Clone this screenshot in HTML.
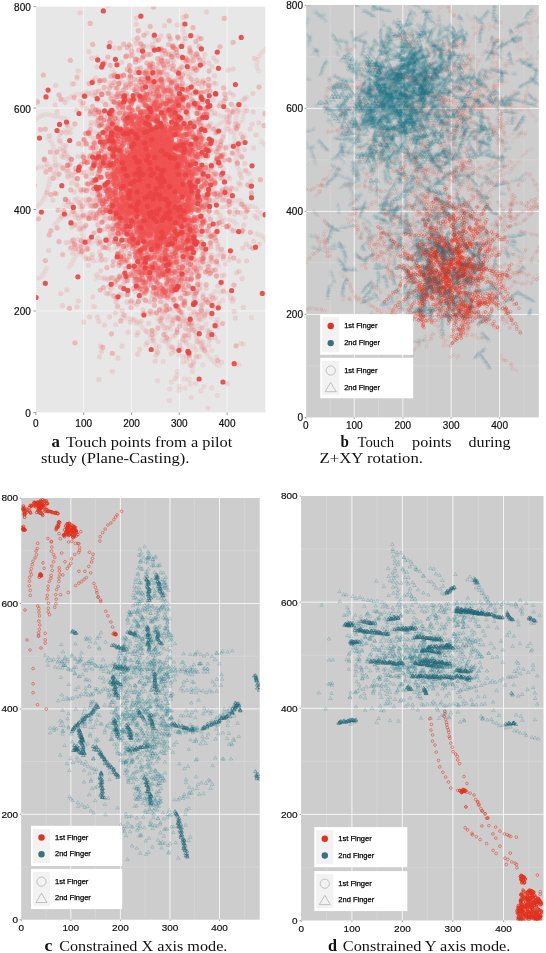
<!DOCTYPE html>
<html><head><meta charset="utf-8"><style>
html,body{margin:0;padding:0;background:#fff;overflow:hidden;width:546px;height:953px}
svg{display:block}
.t{font-family:"Liberation Sans",Arial,sans-serif;font-size:10px;fill:#111;stroke:#111;stroke-width:.2px}
.l{font-family:"Liberation Sans",Arial,sans-serif;font-size:7.5px;fill:#000;stroke:#000;stroke-width:.25px}
.cap text{font-family:"Liberation Serif","Times New Roman",serif;font-size:13.6px;fill:#111}
.cap text.b{font-weight:bold;font-size:17.5px}
.bs{fill:none;stroke:#1f8d9a;stroke-linecap:round;stroke-linejoin:round}
</style></head><body>
<svg width="546" height="953" viewBox="0 0 546 953">
<defs><clipPath id="ka"><rect x="36.1" y="6.6" width="229.2" height="405.9"/></clipPath><clipPath id="kb"><rect x="306.2" y="5.0" width="232.6" height="412.4"/></clipPath><clipPath id="kc"><rect x="21.2" y="498.0" width="238.5" height="421.7"/></clipPath><clipPath id="kd"><rect x="301.1" y="496.0" width="242.4" height="424.5"/></clipPath><marker id="a0" markerUnits="userSpaceOnUse" markerWidth="1" markerHeight="1" overflow="visible"><circle r="2.6" fill="#f15252" fill-opacity="0.07"/></marker><marker id="a1" markerUnits="userSpaceOnUse" markerWidth="1" markerHeight="1" overflow="visible"><circle r="2.6" fill="#f15252" fill-opacity="0.12"/></marker><marker id="a2" markerUnits="userSpaceOnUse" markerWidth="1" markerHeight="1" overflow="visible"><circle r="2.6" fill="#f15252" fill-opacity="0.15"/></marker><marker id="a3" markerUnits="userSpaceOnUse" markerWidth="1" markerHeight="1" overflow="visible"><circle r="2.6" fill="#f15252" fill-opacity="0.3"/></marker><marker id="a4" markerUnits="userSpaceOnUse" markerWidth="1" markerHeight="1" overflow="visible"><circle r="2.6" fill="#f15252" fill-opacity="0.4"/></marker><marker id="a5" markerUnits="userSpaceOnUse" markerWidth="1" markerHeight="1" overflow="visible"><circle r="2.6" fill="#f15252" fill-opacity="0.55"/></marker><marker id="a6" markerUnits="userSpaceOnUse" markerWidth="1" markerHeight="1" overflow="visible"><circle r="2.6" fill="#ea4242" fill-opacity="0.9"/></marker><marker id="r5" markerUnits="userSpaceOnUse" markerWidth="1" markerHeight="1" overflow="visible"><circle r="1.35" fill="none" stroke="#e2311d" stroke-width="1.0" stroke-opacity="0.05"/></marker><marker id="t5" markerUnits="userSpaceOnUse" markerWidth="1" markerHeight="1" overflow="visible"><path d="M0 -1.82L1.75 1.21H-1.75Z" fill="none" stroke="#26808e" stroke-width="0.6" stroke-opacity="0.05" stroke-linejoin="round"/></marker><marker id="u5" markerUnits="userSpaceOnUse" markerWidth="1" markerHeight="1" overflow="visible"><path d="M0 -2.29L2.20 1.52H-2.20Z" fill="none" stroke="#1a7a8a" stroke-width="0.8" stroke-opacity="0.05" stroke-linejoin="round"/></marker><marker id="v5" markerUnits="userSpaceOnUse" markerWidth="1" markerHeight="1" overflow="visible"><path d="M0 -2.70L2.60 1.80H-2.60Z" fill="#1a7a8a" fill-opacity="0.05"/></marker><marker id="w5" markerUnits="userSpaceOnUse" markerWidth="1" markerHeight="1" overflow="visible"><path d="M0 -1.82L1.75 1.21H-1.75Z" fill="none" stroke="#1f6876" stroke-width="0.6" stroke-opacity="0.05" stroke-linejoin="round"/></marker><marker id="r10" markerUnits="userSpaceOnUse" markerWidth="1" markerHeight="1" overflow="visible"><circle r="1.35" fill="none" stroke="#e2311d" stroke-width="1.0" stroke-opacity="0.1"/></marker><marker id="t10" markerUnits="userSpaceOnUse" markerWidth="1" markerHeight="1" overflow="visible"><path d="M0 -1.82L1.75 1.21H-1.75Z" fill="none" stroke="#26808e" stroke-width="0.6" stroke-opacity="0.1" stroke-linejoin="round"/></marker><marker id="u10" markerUnits="userSpaceOnUse" markerWidth="1" markerHeight="1" overflow="visible"><path d="M0 -2.29L2.20 1.52H-2.20Z" fill="none" stroke="#1a7a8a" stroke-width="0.8" stroke-opacity="0.1" stroke-linejoin="round"/></marker><marker id="v10" markerUnits="userSpaceOnUse" markerWidth="1" markerHeight="1" overflow="visible"><path d="M0 -2.70L2.60 1.80H-2.60Z" fill="#1a7a8a" fill-opacity="0.1"/></marker><marker id="w10" markerUnits="userSpaceOnUse" markerWidth="1" markerHeight="1" overflow="visible"><path d="M0 -1.82L1.75 1.21H-1.75Z" fill="none" stroke="#1f6876" stroke-width="0.6" stroke-opacity="0.1" stroke-linejoin="round"/></marker><marker id="r18" markerUnits="userSpaceOnUse" markerWidth="1" markerHeight="1" overflow="visible"><circle r="1.35" fill="none" stroke="#e2311d" stroke-width="1.0" stroke-opacity="0.18"/></marker><marker id="t18" markerUnits="userSpaceOnUse" markerWidth="1" markerHeight="1" overflow="visible"><path d="M0 -1.82L1.75 1.21H-1.75Z" fill="none" stroke="#26808e" stroke-width="0.6" stroke-opacity="0.18" stroke-linejoin="round"/></marker><marker id="u18" markerUnits="userSpaceOnUse" markerWidth="1" markerHeight="1" overflow="visible"><path d="M0 -2.29L2.20 1.52H-2.20Z" fill="none" stroke="#1a7a8a" stroke-width="0.8" stroke-opacity="0.18" stroke-linejoin="round"/></marker><marker id="v18" markerUnits="userSpaceOnUse" markerWidth="1" markerHeight="1" overflow="visible"><path d="M0 -2.70L2.60 1.80H-2.60Z" fill="#1a7a8a" fill-opacity="0.18"/></marker><marker id="w18" markerUnits="userSpaceOnUse" markerWidth="1" markerHeight="1" overflow="visible"><path d="M0 -1.82L1.75 1.21H-1.75Z" fill="none" stroke="#1f6876" stroke-width="0.6" stroke-opacity="0.18" stroke-linejoin="round"/></marker><marker id="r30" markerUnits="userSpaceOnUse" markerWidth="1" markerHeight="1" overflow="visible"><circle r="1.35" fill="none" stroke="#e2311d" stroke-width="1.0" stroke-opacity="0.3"/></marker><marker id="t30" markerUnits="userSpaceOnUse" markerWidth="1" markerHeight="1" overflow="visible"><path d="M0 -1.82L1.75 1.21H-1.75Z" fill="none" stroke="#26808e" stroke-width="0.6" stroke-opacity="0.3" stroke-linejoin="round"/></marker><marker id="u30" markerUnits="userSpaceOnUse" markerWidth="1" markerHeight="1" overflow="visible"><path d="M0 -2.29L2.20 1.52H-2.20Z" fill="none" stroke="#1a7a8a" stroke-width="0.8" stroke-opacity="0.3" stroke-linejoin="round"/></marker><marker id="v30" markerUnits="userSpaceOnUse" markerWidth="1" markerHeight="1" overflow="visible"><path d="M0 -2.70L2.60 1.80H-2.60Z" fill="#1a7a8a" fill-opacity="0.3"/></marker><marker id="w30" markerUnits="userSpaceOnUse" markerWidth="1" markerHeight="1" overflow="visible"><path d="M0 -1.82L1.75 1.21H-1.75Z" fill="none" stroke="#1f6876" stroke-width="0.6" stroke-opacity="0.3" stroke-linejoin="round"/></marker><marker id="r40" markerUnits="userSpaceOnUse" markerWidth="1" markerHeight="1" overflow="visible"><circle r="1.35" fill="none" stroke="#e2311d" stroke-width="1.0" stroke-opacity="0.4"/></marker><marker id="t40" markerUnits="userSpaceOnUse" markerWidth="1" markerHeight="1" overflow="visible"><path d="M0 -1.82L1.75 1.21H-1.75Z" fill="none" stroke="#26808e" stroke-width="0.6" stroke-opacity="0.4" stroke-linejoin="round"/></marker><marker id="u40" markerUnits="userSpaceOnUse" markerWidth="1" markerHeight="1" overflow="visible"><path d="M0 -2.29L2.20 1.52H-2.20Z" fill="none" stroke="#1a7a8a" stroke-width="0.8" stroke-opacity="0.4" stroke-linejoin="round"/></marker><marker id="v40" markerUnits="userSpaceOnUse" markerWidth="1" markerHeight="1" overflow="visible"><path d="M0 -2.70L2.60 1.80H-2.60Z" fill="#1a7a8a" fill-opacity="0.4"/></marker><marker id="w40" markerUnits="userSpaceOnUse" markerWidth="1" markerHeight="1" overflow="visible"><path d="M0 -1.82L1.75 1.21H-1.75Z" fill="none" stroke="#1f6876" stroke-width="0.6" stroke-opacity="0.4" stroke-linejoin="round"/></marker><marker id="r50" markerUnits="userSpaceOnUse" markerWidth="1" markerHeight="1" overflow="visible"><circle r="1.35" fill="none" stroke="#e2311d" stroke-width="1.0" stroke-opacity="0.5"/></marker><marker id="t50" markerUnits="userSpaceOnUse" markerWidth="1" markerHeight="1" overflow="visible"><path d="M0 -1.82L1.75 1.21H-1.75Z" fill="none" stroke="#26808e" stroke-width="0.6" stroke-opacity="0.5" stroke-linejoin="round"/></marker><marker id="u50" markerUnits="userSpaceOnUse" markerWidth="1" markerHeight="1" overflow="visible"><path d="M0 -2.29L2.20 1.52H-2.20Z" fill="none" stroke="#1a7a8a" stroke-width="0.8" stroke-opacity="0.5" stroke-linejoin="round"/></marker><marker id="v50" markerUnits="userSpaceOnUse" markerWidth="1" markerHeight="1" overflow="visible"><path d="M0 -2.70L2.60 1.80H-2.60Z" fill="#1a7a8a" fill-opacity="0.5"/></marker><marker id="w50" markerUnits="userSpaceOnUse" markerWidth="1" markerHeight="1" overflow="visible"><path d="M0 -1.82L1.75 1.21H-1.75Z" fill="none" stroke="#1f6876" stroke-width="0.6" stroke-opacity="0.5" stroke-linejoin="round"/></marker><marker id="r60" markerUnits="userSpaceOnUse" markerWidth="1" markerHeight="1" overflow="visible"><circle r="1.35" fill="none" stroke="#e2311d" stroke-width="1.0" stroke-opacity="0.6"/></marker><marker id="t60" markerUnits="userSpaceOnUse" markerWidth="1" markerHeight="1" overflow="visible"><path d="M0 -1.82L1.75 1.21H-1.75Z" fill="none" stroke="#26808e" stroke-width="0.6" stroke-opacity="0.6" stroke-linejoin="round"/></marker><marker id="u60" markerUnits="userSpaceOnUse" markerWidth="1" markerHeight="1" overflow="visible"><path d="M0 -2.29L2.20 1.52H-2.20Z" fill="none" stroke="#1a7a8a" stroke-width="0.8" stroke-opacity="0.6" stroke-linejoin="round"/></marker><marker id="v60" markerUnits="userSpaceOnUse" markerWidth="1" markerHeight="1" overflow="visible"><path d="M0 -2.70L2.60 1.80H-2.60Z" fill="#1a7a8a" fill-opacity="0.6"/></marker><marker id="w60" markerUnits="userSpaceOnUse" markerWidth="1" markerHeight="1" overflow="visible"><path d="M0 -1.82L1.75 1.21H-1.75Z" fill="none" stroke="#1f6876" stroke-width="0.6" stroke-opacity="0.6" stroke-linejoin="round"/></marker><marker id="r80" markerUnits="userSpaceOnUse" markerWidth="1" markerHeight="1" overflow="visible"><circle r="1.35" fill="none" stroke="#e2311d" stroke-width="1.0" stroke-opacity="0.8"/></marker><marker id="t80" markerUnits="userSpaceOnUse" markerWidth="1" markerHeight="1" overflow="visible"><path d="M0 -1.82L1.75 1.21H-1.75Z" fill="none" stroke="#26808e" stroke-width="0.6" stroke-opacity="0.8" stroke-linejoin="round"/></marker><marker id="u80" markerUnits="userSpaceOnUse" markerWidth="1" markerHeight="1" overflow="visible"><path d="M0 -2.29L2.20 1.52H-2.20Z" fill="none" stroke="#1a7a8a" stroke-width="0.8" stroke-opacity="0.8" stroke-linejoin="round"/></marker><marker id="v80" markerUnits="userSpaceOnUse" markerWidth="1" markerHeight="1" overflow="visible"><path d="M0 -2.70L2.60 1.80H-2.60Z" fill="#1a7a8a" fill-opacity="0.8"/></marker><marker id="w80" markerUnits="userSpaceOnUse" markerWidth="1" markerHeight="1" overflow="visible"><path d="M0 -1.82L1.75 1.21H-1.75Z" fill="none" stroke="#1f6876" stroke-width="0.6" stroke-opacity="0.8" stroke-linejoin="round"/></marker></defs>
<rect x="36.1" y="6.6" width="229.2" height="405.9" fill="#e7e7e7"/>
<path d="M83.7 6.6V412.5M131.5 6.6V412.5M179.3 6.6V412.5M227.1 6.6V412.5M36.1 311.0H265.3M36.1 209.5H265.3M36.1 108.1H265.3" stroke="#f4f4f4" stroke-width="1" fill="none"/>
<rect x="306.2" y="5.0" width="232.6" height="412.4" fill="#cdcdcd"/>
<path d="M330.1 5.0V417.4M378.5 5.0V417.4M427.0 5.0V417.4M475.4 5.0V417.4M523.8 5.0V417.4M306.2 365.9H538.8M306.2 262.9H538.8M306.2 159.9H538.8M306.2 56.9H538.8" stroke="#d8d8d8" stroke-width="0.7" fill="none"/>
<path d="M354.3 5.0V417.4M402.8 5.0V417.4M451.2 5.0V417.4M499.6 5.0V417.4M306.2 314.4H538.8M306.2 211.4H538.8M306.2 108.4H538.8" stroke="#f4f4f4" stroke-width="1" fill="none"/>
<rect x="21.2" y="498.0" width="238.5" height="421.7" fill="#cdcdcd"/>
<path d="M46.1 498.0V919.7M95.6 498.0V919.7M145.2 498.0V919.7M194.7 498.0V919.7M244.3 498.0V919.7M21.2 867.0H259.7M21.2 761.6H259.7M21.2 656.2H259.7M21.2 550.8H259.7" stroke="#d8d8d8" stroke-width="0.7" fill="none"/>
<path d="M70.8 498.0V919.7M120.4 498.0V919.7M170.0 498.0V919.7M219.5 498.0V919.7M21.2 814.3H259.7M21.2 708.9H259.7M21.2 603.5H259.7" stroke="#f4f4f4" stroke-width="1" fill="none"/>
<rect x="301.1" y="496.0" width="242.4" height="424.5" fill="#cdcdcd"/>
<path d="M326.6 496.0V920.5M377.1 496.0V920.5M427.7 496.0V920.5M478.2 496.0V920.5M528.8 496.0V920.5M301.1 867.4H543.5M301.1 761.3H543.5M301.1 655.2H543.5M301.1 549.1H543.5" stroke="#d8d8d8" stroke-width="0.7" fill="none"/>
<path d="M351.9 496.0V920.5M402.4 496.0V920.5M452.9 496.0V920.5M503.5 496.0V920.5M301.1 814.4H543.5M301.1 708.3H543.5M301.1 602.1H543.5" stroke="#f4f4f4" stroke-width="1" fill="none"/>
<path d="M260.6 54.0 258.7 70.9 171.3 205.1 131.3 221.1 138.9 215.2 154.5 342.4 136.6 241.9 207.8 201.6 196.9 243.1 138.9 42.2 196.8 262.0 193.0 326.9 246.6 205.9 124.6 318.2 172.9 89.5 160.8 201.2 209.6 254.5 151.6 214.4 201.6 118.0 263.2 215.4 160.1 193.0 186.9 209.8 186.9 194.0 95.2 91.5 170.2 275.5 190.5 233.1 168.9 345.2 210.5 243.1 136.9 229.8 163.1 131.1 163.8 291.9 47.9 136.7 154.2 179.3 112.1 225.5 149.3 335.2 77.0 198.1 172.1 137.3 47.0 167.4 196.8 335.1 140.9 172.6 129.7 183.0 257.3 68.2 125.2 214.3 163.0 101.9 169.4 295.5 184.5 281.5 68.4 168.0 167.0 147.3 175.5 194.5 157.6 49.0 151.9 135.9 199.1 119.7 237.8 112.4 68.7 162.0 222.7 122.1 91.4 155.1 100.3 184.4 236.1 107.9 155.0 117.5 127.4 276.9 58.0 164.7 196.5 199.6 157.6 231.5 88.7 93.3 224.1 170.2 80.9 243.7 127.3 216.8 79.8 199.0 178.8 144.2 161.6 195.6 144.4 246.7 150.5 98.4 267.6 147.2 216.9 263.8 93.7 206.4 193.6 221.7 214.9 233.6 83.4 238.2 148.8 224.6 148.4 221.6 175.5 147.7 163.2 50.6 148.9 207.3 148.7 234.3 60.8 218.4 206.8 115.5 195.7 122.3 194.8 73.8 157.3 150.3 144.1 243.7 165.9 135.9 217.5 154.0 171.7 63.4 150.8 175.9 200.4 122.4 179.0 284.2 176.6 162.5 236.3 144.1 135.6 194.4 146.0 179.0 124.8 211.5 140.5 191.3 152.8 228.2 190.7 245.4 76.8 183.7 46.6 192.9 257.0 62.3 200.2 340.0 188.2 226.3 147.0 219.2 112.6 131.3 178.4 287.2 141.4 212.1 82.8 235.8 138.9 215.0 160.2 191.7 177.5 117.6 65.9 118.9 181.6 58.4 188.2 256.3 160.7 151.8 139.3 241.3 42.4 200.8 52.0 115.3 175.4 145.2 180.4 270.2 116.0 134.7 127.5 194.9 154.3 115.0 147.2 225.3 168.8 288.9 243.8 205.0 122.7 200.3 156.8 108.0 138.7 169.8 153.4 100.3 176.6 55.6 227.0 118.3 102.1 242.8 201.5 226.8 187.1 103.7 238.2 150.6 197.1 180.9 180.5 127.4 258.4 234.4 136.0 159.8 117.1 213.3 86.9 171.9 182.3 246.9 132.4 159.2 184.1 256.7 147.4 221.9 117.9 76.5 262.6 51.9 205.6 133.2 148.7 178.0 146.8 192.8 169.7 131.3 136.8 252.9 153.9 260.5 124.3 136.4 179.8 208.8 190.1 250.6 104.7 277.7 142.7 241.1 113.2 133.8 207.2 252.8 153.4 130.0 183.8 149.6 153.5 103.4 150.7 302.0 192.0 243.6 205.0 351.0 70.6 173.6 74.1 178.3 168.7 151.7 181.8 123.0 183.6 229.4 154.3 251.1 169.8 144.0 79.6 221.1 146.9 147.8 125.6 205.3 244.4 110.4 200.9 199.8 198.4 234.7 159.4 234.3 177.6 147.0 172.8 170.1 236.5 115.1 145.6 179.2 236.6 163.9 178.6 191.6 178.3 206.2 146.6 46.2 128.7 158.0 187.1 259.1 216.0 199.2 122.9 93.4 114.7 203.1 117.5 202.6 71.5 243.3 182.2 269.7 121.6 130.4 242.4 100.8 165.9 340.1 224.7 131.0 179.0 188.9 90.2 200.2 166.3 290.4 162.3 166.9 177.7 92.5 132.1 118.8 147.7 216.3 188.9 257.5 136.9 159.8 162.0 142.8 63.9 204.9 122.1 80.7 134.6 127.3 104.5 217.8 171.1 53.9 60.4 117.3 263.5 236.9 71.6 208.7 252.3 206.3 218.9 266.0 191.1 226.0 149.8 184.4 156.9 196.7 205.3 204.4 125.9 158.7 198.1 178.0 196.5 221.8 128.2 155.6 197.3 134.6 235.7 200.6 129.8 201.1 119.9 78.7 128.6 202.4 170.9 146.2 180.7 320.5 143.7 173.5 160.5 119.0 89.6 172.9 135.3 91.9 78.3 217.7 202.3 158.6 193.3 249.5 160.8 148.7 135.0 272.7 138.8 159.5 159.3 250.1 98.9 277.6 210.4 200.5 110.1 206.7 188.7 152.7 96.5 215.1 70.7 265.2 96.4 97.1 180.9 122.4 109.9 130.1 204.5 251.9 99.4 215.4 175.9 166.1 187.1 160.5 49.6 181.2 230.1 113.3 163.8 137.1 102.5 199.3 137.7 187.3 135.1 161.8 154.8 48.5 194.0 225.9 55.9 165.2 201.6 342.6 174.2 248.3 215.5 127.0 238.9 146.0 155.4 109.1 193.9 237.9 135.8 255.7 36.9 278.2 162.5 189.9 235.8 121.1 104.8 196.7 193.5 258.6 104.3 244.7 132.8 199.3 218.5 219.9 108.7 248.6 154.4 109.6 182.0 214.5 197.7 231.3 191.3 261.7 204.0 348.2 189.1 130.7 181.7 158.6 83.9 216.7 99.1 197.2 159.1 106.1 132.4 274.0 172.5 134.8 206.6 265.9 219.0 148.1 187.7 232.4 191.5 244.7 113.8 72.3 166.3 239.7 177.9 264.7 255.6 233.7 60.7 165.6 148.7 172.5 113.2 278.3 165.2 153.5 183.4 259.1 193.2 236.3 120.3 203.7 143.8 45.5 71.4 214.5 133.7 171.2 184.2 267.6 86.6 215.6 96.8 240.7 193.4 242.4 174.2 224.1 141.9 220.4 230.2 199.8 133.6 212.6 189.2 230.4 177.7 259.1 140.3 235.7 205.3 132.1 157.2 318.6 231.8 110.8 107.7 128.3 153.0 77.7 161.5 103.0 165.9 146.0 239.2 109.7 166.8 236.1 134.3 205.9 221.4 142.6 133.8 161.8 159.1 190.2 82.5 200.1 122.3 90.5 109.4 172.0 160.2 139.2 112.1 204.5 177.0 224.9 177.9 128.7 123.2 159.7 136.4 226.7 103.7 171.4 129.0 122.9 175.7 90.4 221.7 200.2 199.3 200.0 116.4 143.4 67.8 155.9 84.1 93.6 169.6 235.6 263.5 143.0 170.4 149.2 227.4 122.5 141.2 183.6 188.3 123.7 125.1 138.1 118.0 133.4 135.8 131.7 190.9 200.4 110.4 197.9 175.3 171.5 137.1 235.8 103.6 102.0 156.1 348.2 149.2 204.3 130.2 196.2 176.9 276.7 134.3 174.2 167.1 78.5 231.7 111.8 148.1 83.8 116.6 222.0 182.9 261.1 174.8 82.6 81.8 226.7 170.7 241.3 98.0 90.9 182.6 124.9 111.8 139.7 216.5 364.3 100.1 187.5 168.1 277.6 186.0 284.2 172.6 258.1 189.6 237.1 259.0 56.5 77.2 215.1 167.9 154.7 120.9 217.9 159.5 109.3 142.0 257.9 190.9 247.6 83.4 255.4 145.9 124.6 51.0 141.7 64.0 147.8 180.5 45.9 171.9 152.5 137.4 167.1 210.4 358.0 181.9 189.0 187.9 224.0 179.2 163.7 141.5 326.4 171.5 60.4 85.3 199.9 200.1 134.2 165.6 204.4 121.5 136.5 165.0 122.3 219.8 149.2 139.1 223.4 138.3 209.1 211.2 257.0 134.5 124.3 86.0 92.1 179.7 275.2 184.4 38.2 148.3 213.3 38.5 117.7 81.8 229.8 81.2 217.7 160.0 320.2 76.5 254.8 143.1 142.2 54.4 153.1 176.6 156.0 178.1 148.9 157.4 170.1 127.1 135.7 141.9 209.9 193.2 203.6 148.3 92.9 198.9 162.9 164.4 77.6 93.7 215.5 201.4 258.5 88.2 200.1 138.8 181.9 148.0 195.5 236.4 157.8 216.0 201.5 135.2 172.3 149.4 111.0 240.0 143.2 228.1 116.5 139.3 136.4 169.8 258.1 200.4 207.4 178.3 290.2 139.2 210.1 169.3 221.0 139.6 244.3 179.5 124.9 211.6 240.3 145.2 216.5 164.7 303.2 177.1 203.5 188.2 286.2 147.1 97.1 146.4 189.3 175.2 129.6 167.9 166.9 133.6 89.5 189.3 289.0 123.2 205.6 102.0 209.3 161.1 154.8 152.1 253.2 234.6 133.1 150.6 240.0 164.4 328.1 132.6 208.4 218.1 159.9 170.5 267.3 75.6 180.9 180.6 259.3 242.6 119.4 173.0 191.1 159.8 317.2 134.0 168.2 89.8 93.4 172.4 134.3 151.4 97.7 124.3 136.0 38.6 205.3 202.9 133.8 85.3 217.7 194.1 137.8 52.6 166.3 168.6 52.4 109.4 129.3 132.0 160.1 127.3 140.1 72.9 95.6 166.8 113.8 96.7 132.6 178.2 270.8 92.4 92.1 133.0 162.2 104.9 152.4 166.2 242.6 172.4 234.8 164.0 116.3 139.2 229.9 137.0 235.8 189.3 234.9 139.1 161.7 58.5 220.3 191.3 205.9 125.6 214.4 179.0 233.0 158.5 294.3 113.0 155.4 137.0 137.9 158.3 235.0 172.1 259.9 95.8 201.6 139.3 182.4 165.1 166.3 149.7 201.3 101.2 203.5 99.2 152.1 204.1 130.6 78.1 252.2 156.0 178.3 75.1 213.4 146.7 196.7 91.3 94.4 165.3 337.1 256.5 65.3 241.4 200.3 238.6 200.4 261.1 141.4 45.2 195.6 144.9 159.2 69.0 171.0 194.4 263.7 107.6 208.1 199.3 228.8 225.2 147.2 179.6 246.1 153.2 296.5 208.8 245.5 72.1 127.8 184.8 126.8 133.7 196.7 202.1 200.7 214.3 150.7 155.9 345.1 187.7 228.2 204.4 264.0 163.4 128.1 118.9 129.3 184.2 35.2 93.0 200.9 195.3 240.6 164.6 111.8 57.6 177.2 130.7 157.9 172.8 290.6 168.4 204.7 107.5 278.3 170.9 293.0 85.7 257.2 127.4 318.6 96.2 278.6 169.5 114.8 129.7 133.3 154.9 194.0 95.9 200.8 138.1 172.4 104.9 209.2 186.1 258.0 232.6 220.5 130.9 226.2 152.3 195.3 83.5 245.1 133.9 201.3 139.0 247.3 54.2 224.3 133.1 198.4 204.5 156.7 174.0 246.2 149.6 196.2 163.4 140.1 179.1 278.2 185.2 246.8 239.5 106.7 172.7 54.4 134.9 135.8 54.8 115.9 170.8 243.4 157.9 173.6 150.9 337.7 138.4 198.2 129.9 137.4 193.7 252.5 171.2 143.2 266.8 241.9 103.7 91.3 180.9 211.7 177.2 261.8 152.3 245.8 68.5 165.0 179.4 119.9 140.3 164.5 161.0 247.6 125.5 197.1 151.8 148.6 109.1 93.5 235.1 124.0 162.8 325.5 198.4 337.6 190.9 154.7 187.9 245.7 140.6 212.6 193.1 135.0 190.0 132.8 161.2 293.2 176.1 250.5 229.9 114.1 147.5 332.8 138.7 198.2 184.1 220.1 41.0 116.1 149.2 147.4 144.4 122.1 176.6 234.7 192.9 121.7 150.8 99.0 164.4 137.9 129.8 275.3 141.4 175.1 177.2 126.7 172.3 66.4 135.6 187.0 100.2 190.5 139.3 218.2 167.1 238.8 199.9 260.5 118.8 220.0 137.3 223.8 130.0 200.0 115.4 157.2 125.7 162.2 172.4 273.5 118.5 145.4 201.6 125.2 144.5 168.3 100.7 193.5 131.5 157.7 220.5 165.4 181.0 149.2 129.0 107.1 172.4 69.4 130.2 109.9 155.9 101.9 112.5 119.4 202.1 250.2 132.5 194.5 162.9 203.2 127.9 213.2 153.0 173.9 166.0 51.2 96.4 152.2 96.6 198.7 62.7 167.9 143.3 177.4 213.2 201.4 132.5 134.2 143.0 189.8 72.1 176.1 116.0 277.9 167.8 91.5 107.7 153.1 180.1 138.4 130.7 210.6 107.1 219.3 61.6 132.3 179.0 157.6 174.4 232.6 64.2 130.9 110.3 154.4 155.9 233.3 202.9 205.9 136.6 226.8 204.8 253.6 148.9 210.3 191.8 257.7 47.4 190.0 222.5 167.6 161.2 323.0 133.0 192.3 116.9 165.9 93.5 261.0 150.8 101.7 80.9 253.9 261.1 235.4 179.9 264.6 93.9 199.7 128.2 104.2 171.2 287.3 68.7 177.9 239.0 169.4 123.9 199.6 144.2 157.9 206.0 250.8 185.4 250.8 172.4 114.8 243.2 138.2 207.8 130.5 169.8 147.8 133.9 39.6 80.4 243.4 130.3 318.3 111.2 113.6 153.4 220.2 218.8 200.0 145.2 162.3 82.1 232.8 137.5 217.7 147.8 89.9 203.7 199.4 245.7 107.7 195.1 158.6 149.7 147.2 128.3 163.4 179.4 95.0 68.7 242.7 194.2 329.7 191.5 132.5 233.5 144.9 148.3 231.3 151.3 181.8 184.2 192.9 178.8 267.4 81.9 240.8 127.6 201.7 118.8 277.1 152.5 100.5 117.7 158.9 36.1 119.4 159.7 141.3 90.8 211.6 197.6 117.1 174.0 206.0 77.8 248.9 136.6 232.8 209.4 153.9 129.4 142.2 65.2 99.6 187.8 230.7 135.6 198.8 183.1 29.2 107.5 197.5 193.4 156.1 128.6 212.7 121.7 209.6 185.6 124.7 124.6 126.9 159.8 168.4 184.5 190.3 182.3 276.0 125.5 98.8 137.2 220.7 65.1 150.6 106.4 246.9 134.0 130.3 184.6 134.8 152.8 133.0 180.1 225.8 137.0 238.9 208.1 356.1 196.8 226.2 146.3 153.3 123.1 136.0 120.5 147.6 144.2 148.7 86.4 245.0 102.1 216.2 132.6 138.6 125.3 227.5 94.2 131.0 244.7 99.1 181.0 272.5 237.4 155.0 173.5 187.2 234.8 130.1 189.0 234.1 152.4 176.9 178.0 319.5 188.2 223.7 57.6 116.6 230.8 145.7 99.0 98.5 111.8 94.3 161.4 104.4 120.7 134.4 187.2 133.4 156.5 134.7 84.7 199.3 173.2 154.4 191.6 244.6 163.7 105.0 173.0 284.9 176.2 200.6 194.2 261.3 115.1 124.7 123.2 202.6 233.9 109.8 209.5 114.7 170.2 156.5 158.7 261.6 266.9 47.9 154.9 132.2 150.1 227.3 88.1 217.0 193.5 242.3 150.5 138.5 92.6 209.2 169.6 240.3 131.3 87.6 170.1 89.6 149.3 198.3 260.8 213.8 44.2 198.4 203.1 127.8 48.0 187.0 161.4 145.8 150.2 95.0 198.0 246.0 225.3 120.8 202.5 261.7 145.1 77.7 158.3 187.3 236.3 118.1 152.9 208.6 125.9 203.3 191.2 324.6 133.5 220.6 137.5 322.1 116.9 127.1 140.5 195.9 146.9 255.1 193.7 109.5 136.6 40.5 199.3 260.5 187.1 248.4 161.1 235.5 161.9 139.4 139.7 323.9 196.1 233.0 223.3 116.9 128.9 155.6 174.1 160.3 156.9 108.1 151.6 104.4 219.5 162.6 177.5 261.9 134.3 158.4 75.5 217.9 161.0 311.4 42.1 275.9 226.2 116.7 223.5 133.8 130.3 157.6 76.6 246.1 174.4 282.2 149.5 95.6 155.2 182.2 156.5 351.2 89.2 244.7 152.2 145.6 182.7 225.3 136.2 219.6 159.7 270.9 151.0 174.3 152.7 340.1 145.0 143.2 175.8 149.4 54.1 150.1 142.5 174.0 36.2 207.1 137.9 192.7 150.8 113.6 144.5 249.8 234.0 108.9 158.7 102.3 184.4 121.7 79.4 246.3 54.9 159.2 182.2 136.3 175.5 129.1 195.6 202.0 135.1 203.0 145.9 187.0 89.2 157.0 207.8 202.9 145.4 156.2 125.7 154.0 202.1 222.1 167.9 298.1 157.1 142.7 138.0 250.1 147.8 108.5 110.3 228.0 88.9 213.9 179.4 85.1 49.2 114.5 142.9 100.9 172.5 130.6 161.3 157.8 162.8 151.9 184.0 167.0 193.6 121.5 59.7 134.6 187.8 86.4 193.7 71.0 120.3 201.8 188.6 231.1 244.9 135.7 100.7 136.9 49.0 139.6 197.0 260.9 158.9 321.0 223.0 136.8 182.5 224.0 146.7 219.1 149.0 89.0 68.6 214.8 136.0 189.7 167.6 133.4 154.6 257.6 150.1 222.8 174.9 116.1 217.7 125.0 169.8 79.7 182.7 259.3 195.2 332.6 126.3 154.1 56.5 222.4 169.9 150.3 192.5 266.0 167.9 268.5 164.8 331.1 154.1 127.1 78.6 218.3 65.9 215.9 147.6 86.3 151.4 242.9 176.2 230.3 146.4 170.6 216.9 149.5 165.4 334.1 238.9 153.5 60.9 142.8 163.3 305.8 240.1 102.6 163.9 236.0 236.3 144.9 175.0 263.4 184.0 41.2 157.2 252.1 43.6 114.8 169.9 136.1 183.6 321.0 190.9 222.6 115.3 132.4 43.8 273.4 185.4 224.6 164.1 125.2 211.0 237.3 188.6 63.7 237.1 224.2 113.4 122.3 144.5 95.8 109.0 139.1 184.0 60.2 175.5 279.4 121.9 317.1 265.4 145.3 115.5 200.6 162.0 114.2 38.4 167.5 159.3 237.3 171.9 242.1 150.5 128.2 154.7 118.0 209.3 235.0 172.6 239.0 203.8 236.5 140.8 181.4 123.9 208.6 119.5 211.6 127.5 185.0 140.1 179.4 152.8 192.5 45.4 270.9 96.8 197.9 190.6 65.9 101.7 196.4 206.8 353.4 241.2 122.0 204.9 201.3 69.6 129.2 167.6 342.5 129.4 85.3 221.3 219.1 167.9 188.0 91.7 243.1 118.8 163.6 152.4 217.3 127.2 136.6 132.4 182.0 241.7 142.2 143.5 214.1 153.6 180.0 180.0 260.6 87.3 200.4 121.4 136.4 186.2 62.0 174.3 160.7 176.7 269.5 183.8 32.1 149.4 46.6 173.8 157.3 124.5 277.2 210.6 130.1 128.1 226.5 73.1 211.3 139.0 219.9 138.9 212.1 206.6 235.8 130.8 213.2 133.0 159.7 198.8 175.1 189.1 207.9 227.4 200.4 97.5 225.0 181.2 231.0 145.3 330.8 114.3 141.3 87.0 94.0 176.3 187.9 132.8 223.7 135.7 176.8 138.7 238.3 58.8 137.5 181.7 96.7 141.1 197.2 178.3 293.3 160.4 49.8 129.7 134.3 264.6 49.6 181.5 192.1 168.7 241.3 174.3 154.1 174.7 242.9 177.5 273.8 199.3 222.4 123.1 160.9 140.9 238.6 196.3 120.3 184.3 159.9 148.0 98.5 186.8 225.4 140.2 260.3 148.2 257.9 238.0 152.0 186.1 229.9 167.0 143.4 161.8 236.0 55.2 164.9 174.8 237.0 140.4 232.6 149.8 254.9 211.9 152.5 179.0 267.5 138.2 139.4 95.3 173.1 49.8 166.8 149.1 99.3 256.8 209.4 98.9 230.9 144.6 191.6 162.8 176.8 181.5 165.5 152.1 229.5 220.6 115.9 90.9 259.8 135.1 225.6 150.3 190.8 133.2 318.4 129.3 219.0 145.5 252.6 164.4 142.3 101.1 100.5 173.7 151.4 175.0 288.7 237.7 166.7 133.5 162.6 193.6 239.3 97.4 216.0 147.9 228.3 203.0 255.9 168.3 243.0 68.2 159.0 187.2 121.8 163.3 119.8 163.5 246.2 193.7 200.5 238.6 123.3 111.1 250.3 74.3 214.8 178.2 47.7 215.2 114.0 157.8 117.9 172.5 158.3 265.2 239.4 136.5 206.8 141.4 43.7 192.8 132.2 135.2 182.3 123.9 207.7 176.5 85.6 218.6 151.1 192.8 246.5 172.6 147.3 166.6 280.2 98.5 134.9 184.4 253.7 148.3 80.7 178.0 172.6 227.0 219.4 179.5 281.2 240.4 156.2 151.8 225.4 227.9 146.3 236.9 147.9 217.3 157.0 247.0 97.2 155.4 112.2 174.4 87.7 224.1 219.2 191.0 122.6 93.6 153.2 146.4 80.4 132.1 132.6 172.0 89.2 234.6 139.1 125.5 199.3 120.4 160.1 163.9 95.9 161.2 239.6 55.3 162.2 136.3 224.2 184.0 226.3 193.2 232.5 163.6 241.2 154.2 230.9 143.5 207.3 154.5 106.3 154.3 106.3 240.2 172.1 162.5 270.5 142.5 119.8 183.3 217.2 222.1 139.7 124.3 131.3 205.0 221.8 106.6 171.6 183.2 214.3 170.7 187.8 135.4 138.9 194.9 112.3 94.0 95.5 94.8 203.6 167.7 148.4 197.9 208.9 257.8 59.3 235.6 142.0 163.1 98.8 163.7 144.0 164.7 327.7 199.3 166.0 181.4 262.0 91.0 200.2 160.2 175.3 94.0 241.3 158.9 198.9 154.4 124.1 165.7 244.2 139.8 172.6 128.2 198.5 149.3 173.2 56.5 171.2 96.4 260.5 137.0 229.7 212.3 114.0 96.8 219.0 188.9 292.0 190.1 122.1 90.9 216.1 66.6 153.2 185.6 261.9 99.6 241.3 100.9 91.1 156.9 232.9 152.5 104.2 181.4 273.1 227.3 119.4 137.0 232.8 46.4 114.3 110.3 278.6 106.2 138.7 114.1 223.3 101.8 277.8 173.7 51.6 158.3 234.4 174.6 271.6 138.7 184.4 110.1 107.8 185.5 227.1 155.9 254.9 46.3 268.0 78.4 94.2 75.6 94.5 170.3 168.6 78.1 186.4 179.0 57.3 234.0 136.1 196.1 237.1 157.6 193.0 166.9 257.6 142.4 193.6 73.5 259.9 78.9 251.7 101.9 196.6 155.0 171.8 171.5 244.7 102.1 152.0 171.1 140.2 133.9 129.3 64.8 170.0 147.1 222.3 226.0 128.3 137.2 179.4 145.0 165.3 182.7 26.2 210.7 234.2 163.2 325.1 161.7 141.2 138.8 96.7 142.9 171.0 165.0 119.2 153.6 205.7 133.9 189.4 133.4 121.5 146.1 189.8 182.6 43.9 186.4 150.9 167.1 136.9 62.9 145.0 191.0 240.8 212.2 360.3 155.8 77.5 116.1 74.1 147.3 83.3 136.8 94.5 188.5 262.1 172.1 57.4 154.4 231.3 197.4 160.4 92.4 173.6 72.1 262.6 68.8 267.5 138.5 148.2 249.4 206.1 97.8 213.0 182.6 23.1 178.9 141.2 193.5 87.4 49.6 178.1 175.9 49.6 154.5 223.0 141.3 148.8 149.2 237.3 136.7 223.7 104.0 203.2 56.1 168.2 198.3 130.7 79.9 216.1 117.7 202.6 147.9 86.8 99.4 210.5 163.9 238.0 41.3 167.2 189.0 253.4 168.5 348.2 74.9 257.3 106.3 92.6 196.7 234.2 165.0 188.4 210.3 201.3 131.6 115.8 156.4 265.8 97.0 222.0 143.2 179.7 144.1 168.2 147.2 255.0 144.4 103.6 136.7 200.4 185.7 101.1 68.1 174.9 228.2 115.6 132.7 195.3 141.6 176.9 164.1 147.5 127.5 203.0 166.4 300.7 229.8 219.9 198.8 172.0 158.7 77.2 172.7 265.2 124.4 82.4 103.4 138.0 190.6 86.7 202.4 223.9 141.9 167.0 156.8 228.6 126.8 101.5 175.6 317.8 79.0 249.3 155.9 225.7 161.6 77.1 111.4 116.6 52.6 144.2 167.0 262.6 188.0 200.6 160.2 111.9 111.3 110.5 111.0 131.8 165.3 269.7 185.2 223.1 177.1 244.5 138.1 182.4 154.4 121.0 124.5 96.0 238.1 148.9 184.6 211.6 133.0 118.6 154.6 149.2 154.4 143.7 137.7 184.9 106.1 103.5 69.3 206.9 147.0 145.4 142.9 141.2 76.8 215.9 152.7 130.1 198.6 122.6 118.6 135.9 192.4 68.3 168.9 243.6 98.4 227.9 74.2 244.5 186.7 129.1 185.2 200.1 154.8 202.9 151.4 101.4 54.8 156.1 183.9 98.8 195.5 240.1 163.9 134.1 192.1 235.6 172.3 246.0 154.8 194.6 175.1 259.7 114.5 214.4 199.7 225.8 155.9 295.4 148.2 186.9 151.6 299.1 174.9 259.2 133.3 165.2 172.7 144.2 152.2 173.2 175.1 163.2 120.9 161.6 169.8 261.8 63.1 216.7 182.9 125.6 98.1 172.6 68.0 98.7 239.1 143.6 166.3 283.2 100.9 171.8 70.4 97.1 160.1 150.7 144.7 220.9 123.2 204.1 214.5 362.1 143.9 197.4 80.7 223.9 141.3 138.6 124.6 151.7 88.3 258.4 213.1 259.3 193.9 255.6 144.4 144.9 255.1 207.0 162.0 308.5 151.6 211.4 113.1 199.0 82.5 217.3 173.7 131.6 154.5 263.5 126.8 84.0 182.2 85.0 207.6 248.3 200.0 248.1 149.6 92.0 161.4 262.5 190.4 231.9 152.0 47.9 220.2 123.6 59.0 140.5 126.6 124.7 236.2 160.8 125.9 213.9 141.7 159.4 198.8 169.0 137.1 227.7 243.3 116.4 241.5 140.6 201.5 122.3 200.9 236.2 135.0 258.7 234.7 127.1 112.4 69.6 131.2 163.0 152.5 116.1 236.3 107.0 224.5 200.4 158.7 136.7 202.8 345.4 185.0 85.5 135.8 319.6 217.9 114.8 131.9 199.0 146.5 173.8 146.1 105.9 131.4 201.6 227.1 125.5 135.6 164.8 189.2 105.8 189.1 322.5 209.3 267.0 215.2 261.4 175.8 197.6 140.8 98.9 259.0 211.4 134.5 192.3 185.6 264.9 233.0 199.5 219.1 365.5 40.4 203.0 67.0 130.4 143.4 185.5 122.9 149.3 186.8 262.1 172.3 81.2 184.9 223.0 165.8 93.6 166.8 154.0 237.8 104.4 222.6 148.4 56.8 174.3 155.8 261.5 265.9 216.4 131.2 112.8 175.8 248.6 123.7 129.7 144.1 255.9 134.2 115.9 178.1 228.0 81.3 94.0 127.0 132.3 157.0 184.5 198.1 200.6 160.9 323.3 191.7 107.3 212.1 234.1 108.4 105.3 148.0 189.1 164.2 263.1 148.0 126.8 212.9 128.3 213.3 200.0 159.7 314.1 98.4 202.9 189.5 246.6 204.3 117.1 63.2 118.2 39.7 277.6 161.8 141.8 179.8 225.4 190.1 237.9 175.8 191.8 137.6 134.0 183.3 278.8 185.5 228.9 131.2 121.0 220.6 145.6 122.6 215.5 175.3 134.6 195.4 130.8 234.7 222.6 182.5 198.9 123.5 132.8 206.6 154.7 62.4 99.9 44.1 166.9 49.0 184.2 172.8 317.8 198.8 118.9 138.1 220.9 66.6 172.3 143.6 328.4 121.6 276.9 133.6 225.2 141.0 140.1 187.4 294.6 150.2 78.5 243.7 113.4 53.3 147.2 186.4 321.7 171.6 222.7 173.9 54.4 66.7 205.4 155.1 173.0 162.3 110.0" fill="none" clip-path="url(#ka)" style="marker:url(#a0)"/>
<path d="M233.6 298.3 167.5 328.1 200.1 289.0 172.1 322.8 153.0 312.4 212.2 295.3 185.0 388.1 188.8 335.3 165.1 253.8 209.4 338.3 190.9 365.5 170.5 299.8 183.3 362.2 217.6 395.6 128.5 293.2 142.8 313.7 240.6 343.4 216.8 263.3 159.9 285.2 218.0 341.5 193.5 362.8 202.3 311.7 212.2 302.7 243.3 344.1 151.1 314.1 162.4 317.0 210.0 333.0 173.2 310.7 180.5 321.4 155.2 333.1 196.4 272.2 169.3 235.4 155.9 297.2 172.9 336.4 199.4 288.1 202.5 300.9 173.0 347.3 175.7 275.9 167.0 283.2 188.5 334.8 177.1 375.2 177.0 255.6 192.7 323.2 221.5 362.2 194.0 346.6 161.9 340.4 147.2 342.4 172.9 349.5 217.4 323.6 186.9 360.9 167.6 316.9 209.2 332.7 217.7 327.5 204.4 314.5 161.7 290.9 207.1 330.1 207.9 408.1 182.0 296.2 195.8 314.5 191.2 257.1 224.6 275.1 182.9 315.0 173.5 286.2 183.4 340.2 210.4 296.3 177.8 309.8 186.3 276.0 191.4 287.5 195.3 304.4 159.3 346.8 183.5 324.0 207.4 311.4 193.8 311.9 190.3 350.6 184.4 378.9 228.1 293.0 184.3 302.4 182.7 338.6 185.3 341.1 176.3 287.5 199.2 272.5 251.6 317.5 198.3 342.0 211.9 350.3 201.8 328.1 203.1 364.9 197.7 325.4 203.4 347.2 178.3 307.2 192.8 330.2 180.0 345.6 206.0 324.2 199.5 314.1 196.1 332.3 200.3 305.8 161.7 269.3 181.4 315.1 211.4 317.2 179.9 342.1 205.0 350.9 169.8 316.2 199.8 319.0 173.6 289.2 190.4 383.9 176.5 304.6 224.4 254.1 208.7 345.4 188.8 338.1 179.3 347.4 171.2 382.0 156.7 289.9 215.3 291.7 222.8 300.0 179.1 386.4 169.6 400.6 168.8 326.6 190.9 365.3 197.6 273.8 211.5 337.4 185.1 327.7 204.6 349.8 189.8 330.0 172.4 324.5 192.3 371.5 194.0 330.1 166.6 309.9 196.3 317.8 194.0 311.8 152.8 340.6 201.6 349.2 189.2 352.8 157.6 380.6 186.1 342.9 176.6 316.5 186.3 356.2 215.8 322.1 216.4 357.1 196.1 356.2 205.0 315.2 185.4 335.2 173.8 271.5 192.0 326.1 196.9 266.2 214.2 325.9 178.8 309.2 213.3 298.6 189.5 354.8 161.8 317.5 146.0 344.7 161.8 319.6 181.7 349.3 189.2 345.4 209.6 340.3 211.1 248.0 177.1 277.3 195.9 350.0 157.6 351.8 152.0 270.5 196.1 295.1 188.5 330.7 217.7 319.3 179.1 390.1 191.1 328.9 197.8 312.5 185.5 287.4 161.8 240.2 199.4 329.3 189.0 379.4 162.6 450.4 177.3 371.2 238.7 364.6 203.1 342.1 163.3 361.6 190.7 325.0 115.6 324.5 200.2 343.5 191.0 315.0 175.0 351.2 165.3 311.7 189.5 355.2 185.7 320.5 196.5 357.2 191.3 397.4 196.5 337.6 161.1 297.1 201.6 319.8 205.1 301.4 220.6 291.8 189.4 358.0 201.8 346.8 184.4 304.3 169.8 389.0 148.2 269.7 203.0 296.6 146.5 331.2 204.7 317.1 195.7 383.5 200.8 390.9 197.1 301.1 203.8 386.5 192.7 366.4 151.0 280.9 212.5 297.4 169.4 339.5 184.1 303.9 170.5 329.0 201.8 256.8 157.7 353.3 186.0 329.1 167.5 320.4 202.4 249.2 165.2 341.6 211.8 387.8 178.9 354.6 179.1 420.0 191.1 322.2 183.2 356.9 153.3 338.3 193.8 361.4 190.5 318.2" fill="none" clip-path="url(#ka)" style="marker:url(#a1)"/>
<path d="M170.0 149.0 186.0 181.8 173.8 102.7 89.7 239.3 134.2 168.0 193.6 266.9 164.3 199.1 88.5 258.8 215.3 308.2 152.6 44.4 212.1 255.3 189.6 190.4 116.0 97.3 122.3 157.6 149.4 142.8 178.0 213.1 134.7 204.8 163.2 285.3 135.8 99.9 140.0 234.2 153.8 226.2 176.3 129.1 136.8 244.9 189.1 254.0 148.0 180.9 121.0 146.9 136.9 335.0 172.9 244.0 139.8 140.6 173.3 193.6 212.0 66.7 158.7 133.6 126.9 122.7 82.2 209.5 168.5 262.5 211.8 171.0 149.9 219.3 151.3 189.4 200.4 124.8 135.5 256.1 180.4 168.8 121.0 264.9 94.0 113.7 150.5 271.2 165.5 146.6 208.8 63.0 110.9 277.5 144.5 228.6 94.4 151.5 192.4 219.2 113.2 185.9 186.5 262.4 162.2 232.9 150.8 217.6 130.1 219.1 96.4 58.0 160.7 215.9 129.6 137.6 184.1 250.7 123.6 118.0 170.2 226.3 193.7 191.7 95.6 163.9 149.2 182.7 198.2 179.2 147.6 175.7 278.3 146.9 195.2 202.4 186.8 237.0 185.6 176.9 13.0 170.6 171.9 254.6 198.3 314.6 184.5 182.5 166.6 144.4 139.9 131.0 141.2 172.1 210.3 242.6 173.8 182.5 210.1 169.8 179.2 142.3 208.5 125.4 144.1 130.4 153.1 228.3 178.4 127.1 162.2 262.9 217.8 285.9 164.4 182.0 207.3 144.2 95.6 122.0 134.1 184.4 143.9 133.1 127.5 187.7 202.9 152.8 191.6 172.2 157.6 232.8 152.8 183.0 110.4 234.1 194.2 271.9 222.3 199.9 197.0 199.0 162.8 145.9 183.3 124.6 167.6 79.7 183.4 211.3 132.7 177.2 170.1 189.6 136.0 198.5 213.7 58.1 189.7 218.7 150.9 180.5 151.2 178.8 188.6 76.9 138.3 242.3 162.4 272.8 227.4 383.7 180.1 274.0 140.7 139.2 90.6 110.1 184.7 238.8 124.0 169.8 142.5 196.9 22.8 253.1 226.9 206.4 217.2 211.2 115.1 167.9 130.8 46.6 216.1 212.4 143.6 89.5 105.1 215.5 175.8 71.0 192.0 187.3 138.0 152.6 249.4 246.8 120.5 130.4 236.7 128.5 164.3 60.7 143.4 232.8 132.2 218.0 159.8 223.1 151.9 215.9 75.1 199.9 219.0 159.8 171.4 346.8 117.3 96.9 120.8 215.7 170.9 128.3 194.0 135.9 205.8 201.5 154.9 173.4 140.7 174.5 135.0 142.2 253.7 241.3 190.3 186.7 213.0 99.6 219.4 165.9 173.1 215.7 179.2 183.3 78.2 70.9 188.2 139.5 142.1 157.3 202.5 304.5 128.5 77.7 112.4 203.1 118.0 147.1 153.7 218.5 164.6 161.7 66.1 242.6 88.6 248.8 106.3 183.4 135.0 253.3 142.0 213.3 197.2 209.9 154.4 166.7 148.2 164.3 193.1 184.4 148.7 256.6 206.0 208.9 148.8 323.4 56.4 193.8 146.6 129.3 121.0 213.3 136.7 126.5 81.4 172.4 156.9 268.8 138.2 253.8 155.7 40.6 172.4 198.9 197.5 122.8 101.5 351.6 71.6 240.9 192.8 243.6 106.1 153.2 185.3 173.4 164.0 178.0 122.2 174.7 110.4 195.7 104.5 159.3 168.6 200.3 190.5 159.2 139.6 238.6 67.5 170.5 101.0 260.4 135.0 291.3 200.1 215.5 83.2 228.3 158.5 116.1 211.0 243.2 159.9 228.4 181.8 204.0 131.5 230.7 228.4 70.2 150.2 244.9 135.9 180.3 105.8 259.7 123.7 208.8 123.5 314.4 244.4 149.5 141.6 122.6 172.5 235.8 167.5 143.7 198.9 38.9 157.0 90.3 98.4 109.6 70.7 221.6 215.0 177.0 169.5 296.2 208.1 205.1 194.6 269.0 194.0 105.2 139.8 170.8 141.6 117.2 134.1 231.6 154.4 145.2 193.6 125.9 126.9 186.9 152.8 158.9 148.0 222.1 118.1 140.1 173.3 320.2 140.3 217.4 122.1 151.3 144.3 220.9 135.8 262.6 240.0 174.3 179.8 193.8 35.3 168.6 288.9 326.1 116.4 202.5 150.9 260.6 197.7 160.8 171.1 103.7 103.1 162.3 92.4 254.7 91.6 58.1 98.7 230.3 174.2 48.0 123.7 119.5 104.6 278.6 214.5 75.7 91.1 122.6 218.0 249.2 151.1 87.0 233.0 153.8 220.8 165.2 216.0 83.7 236.7 148.8 196.9 271.3 164.8 294.8 229.5 117.2 220.2 144.9 130.7 181.0 203.1 150.6 100.8 122.8 55.6 85.3 157.6 186.5 142.3 180.0 101.6 94.7 139.2 184.1 110.6 232.6 164.6 160.4 197.0 136.3 161.8 214.3 216.9 159.6 108.1 229.4 61.2 216.3 204.3 186.0 175.3 209.5 198.4 209.8 140.2 199.4 167.7 159.9 190.0 155.2 122.4 257.7 81.9 191.5 171.2 189.5 157.2 169.2 128.6 232.2 129.0 208.5 156.0 226.7 166.5 184.2 112.4 277.5 143.6 155.3 171.2 353.6 177.7 191.2 115.7 247.4 155.0 246.6 173.3 201.0 138.9 239.1 217.8 246.3 184.6 265.3 136.1 18.0 127.8 151.8 104.5 220.2 170.3 81.2 116.1 298.0 97.8 238.1 180.8 197.8 117.8 306.0 167.5 113.1 174.1 214.4 125.1 281.3 167.0 223.2 189.8 286.1 90.8 125.6 246.5 260.8 154.3 159.4 138.8 198.3 158.5 127.8 183.0 248.8 86.0 183.5 160.2 257.9 231.5 203.0 203.8 221.6 141.8 212.3 187.2 214.8 122.8 206.2 106.0 136.2 177.9 108.3 164.9 236.1 148.7 169.2 140.1 101.0 136.3 228.2 203.0 297.6 161.7 123.7 139.0 123.5 158.2 68.0 74.0 83.8 172.1 157.7 132.6 54.7 99.1 82.6 114.3 151.9 188.9 157.9 195.1 234.9 119.6 152.0 121.8 239.9 164.5 312.8 215.2 132.9 118.3 105.6 172.4 242.4 93.3 138.6 68.5 157.3 133.8 148.4 166.5 189.9 213.7 235.5 112.5 137.1 129.3 233.6 206.1 194.7 125.3 207.9 163.9 143.6 186.2 166.3 139.3 185.8 131.4 163.4 97.6 140.1 183.0 175.7 216.1 143.7 251.3 181.2 202.7 204.6 168.9 159.4 186.4 143.3 113.1 156.7 150.7 258.4 145.8 271.7 210.3 242.7 209.2 84.8 229.8 92.8 92.8 143.9 62.8 255.0 275.8 324.4 243.4 307.4 118.1 205.0 115.7 177.7 169.6 206.2 119.9 203.7 114.9 222.2 135.9 85.2 86.8 176.5 202.2 327.5 142.7 135.8 138.9 240.2 275.5 146.5 194.8 144.3 143.1 309.8 177.5 95.9 171.5 224.7 154.2 210.6 158.5 146.4 178.6 161.3 199.6 259.4 111.5 95.8 146.7 178.3 131.5 119.5 208.9 274.4 182.5 195.0 170.6 158.7 136.5 119.2 107.8 293.8 92.1 257.7 148.3 276.8 173.9 164.0 136.2 132.5 85.7 258.8 192.2 159.6 164.8 207.9 155.8 80.3 233.2 94.9 151.5 152.7 176.7 81.6 186.9 281.7 129.8 235.8 179.0 210.9 164.0 115.0 144.2 220.0 177.1 125.5 101.9 111.9 214.3 191.2 206.1 188.5 131.8 157.5 96.8 124.7 204.9 170.5 121.5 295.1 155.6 210.5 187.0 195.3 147.8 202.6 148.0 190.7 104.3 229.2 188.6 188.8 207.0 313.0 186.7 59.1 115.0 235.7 94.5 182.4 130.8 151.6 256.0 134.8 169.1 231.7 154.7 101.4 125.8 268.3 191.1 242.4 206.7 115.0 184.3 113.9 126.5 219.9 186.9 177.4 135.9 91.2 172.5 293.0 145.8 164.6 236.0 127.5 174.1 238.2 111.9 109.8 179.4 246.7 117.8 357.9 133.9 190.0 195.3 165.2 279.6 212.3 178.6 126.5 109.8 82.9 147.5 285.7 165.4 89.4 115.2 171.8 122.0 171.1 153.1 207.7 170.4 127.4 135.7 256.2 151.7 249.2 139.9 201.4 117.4 144.2 176.2 107.4 192.9 243.5 156.3 166.2 110.3 128.3 151.0 111.5 170.5 236.7 123.9 283.2 118.5 119.1 144.3 191.1 181.0 286.6 140.2 231.6 200.0 165.5 130.8 302.6 148.3 220.0 107.9 212.3 154.6 215.4 197.5 279.8 81.9 144.7 243.8 225.2 174.7 165.3 110.0 180.6 61.3 132.6 144.6 73.2 65.2 102.3 189.6 52.9 158.3 187.8 108.7 137.0 107.4 226.5 199.8 139.4 75.0 244.5 235.2 209.9 164.6 286.3 246.0 170.0 138.4 213.2 184.0 97.1 137.6 354.2 175.6 160.0 165.6 246.0 119.4 193.4 183.4 138.4 144.9 111.5 136.6 209.4 235.2 317.9 162.5 235.6 177.3 24.9 114.1 146.0 215.5 298.1 254.9 215.8 97.5 100.8 153.2 269.5 208.0 166.8 228.5 123.0 221.8 221.4 250.1 129.0 124.5 315.3 89.6 316.8 217.3 230.9 171.5 205.2 164.5 25.6 63.7 157.4 166.0 165.7 160.7 172.2 189.4 308.7 134.9 151.1 137.4 287.4 178.9 124.4 203.2 136.9 177.5 202.9 207.2 301.8 207.5 228.6 158.4 171.1 220.7 165.6 177.4 147.1 94.1 306.5 196.7 79.6 176.8 156.1 178.0 317.4 220.6 145.3 133.3 99.6 210.9 189.0 137.3 192.6 190.1 247.8 175.3 272.9 76.7 110.0 196.0 104.9 159.4 85.6 182.4 304.6 158.1 276.6 91.6 179.6 133.5 280.6 206.3 288.5 80.3 101.1 173.7 303.6 136.8 110.1 155.8 67.6 190.6 61.8 80.0 12.7 153.1 212.6 212.3 180.9 144.4 214.5 77.0 306.9 62.5 254.0 71.6 182.7 219.9 215.1 176.4 174.1 203.7 100.1 149.6 279.0 128.8 203.7 129.1 99.4 145.4 201.4 172.9 211.0 143.1 219.1 121.6 62.3 166.3 166.6 173.5 60.5 188.4 188.5 206.2 111.7 137.1 233.3 140.4 280.7 88.8 216.5 229.1 121.4 226.2 200.2 170.1 175.4 140.3 174.4 185.6 38.4 137.9 332.4 88.3 265.3 138.3 79.1 203.0 169.4 135.0 200.9 138.6 210.7 221.4 249.2 209.4 144.7 134.3 236.0 162.3 159.4 205.8 196.1 217.4 256.0 147.7 116.0 182.4 253.3 172.4 220.8 189.6 189.3 116.8 298.4 145.7 242.6 198.5 136.7 196.8 93.1 172.3 268.5 115.4 312.8 193.6 69.0 98.1 224.7 161.5 199.4 180.4 216.6 99.4 356.8 135.3 257.5 111.8 165.5 145.9 126.6 124.6 227.5 220.7 253.9 117.5 306.8 92.7 296.8 49.9 135.8 148.2 148.0 128.6 203.1 230.6 131.4 171.6 158.0 125.7 212.0 62.4 305.7 108.5 121.6 192.0 176.1 121.6 278.4 169.9 227.2 157.6 223.1 242.9 248.1 186.1 215.2 143.3 197.9 214.5 112.9 186.4 259.8 193.6 124.8 108.0 128.7 148.9 193.3 234.1 311.4 118.1 206.3 139.2 200.8 145.1 147.0 183.3 224.3 223.4 197.1 155.7 173.2 180.3 157.0 132.3 184.2 144.6 206.2 143.7 137.4 199.8 188.1 192.7 241.0 118.4 186.8 147.1 268.6 161.9 311.2 162.8 114.7 171.5 122.2 83.0 154.7 205.9 177.7 112.4 226.0 129.7 136.7 141.2 150.3 228.3 128.9 98.0 179.4 221.7 249.5 172.3 181.7 111.9 150.9 124.2 197.6 191.4 154.8 257.5 218.3 228.9 201.5 130.2 322.2 246.2 244.1 188.8 256.7 149.5 141.8 182.8 233.5 121.9 96.6 229.3 213.1 98.8 321.4 216.8 229.0 174.6 93.2 189.0 355.0 142.1 146.8 130.0 116.1 131.1 141.8 148.5 181.3 187.0 257.3 123.0 230.3 119.9 277.2 163.1 130.9 233.3 69.1 155.9 167.9 111.6 132.1 175.2 125.2 160.7 203.4 176.2 176.3 123.7 205.5 194.4 190.6 132.8 83.5 174.6 102.4 150.6 274.7 161.0 186.4 168.1 141.4 219.1 303.7 180.9 156.0 138.4 206.2 127.2 173.5 192.2 171.6 150.2 201.0 134.6 303.0 164.3 135.2 141.9 48.4 155.9 172.6 156.3 269.6 171.7 187.8 229.5 201.3 155.5 271.4 160.7 165.7 163.1 245.9 187.8 117.4 154.2 244.4 119.6 294.3 86.6 158.9 203.0 209.0 141.6 189.3 109.2 237.4 183.7 121.7 159.3 273.8 142.9 282.2 80.1 203.0 180.3 212.9 195.2 103.9 199.4 356.3 107.3 239.4 48.6 250.4 65.8 145.6 174.2 134.0 114.9 227.2 152.7 168.5 191.6 137.7 121.3 201.2 67.6 176.7 172.9 252.0 137.8 156.8 143.3 186.6 160.0 238.8 234.5 -24.4 173.7 207.5 114.3 47.9 215.2 141.1 122.1 310.6 142.1 246.2 147.9 110.9 166.0 215.1 186.7 227.6 128.9 86.9 187.5 201.0 120.1 199.6 173.6 300.1 187.7 269.9 111.8 184.0 186.5 242.1 146.3 142.0 149.5 161.2 130.9 307.5 170.6 182.6 258.9 122.8 122.3 201.9 106.6 183.9 180.5 173.7 191.1 167.3 123.6 120.8 164.7 205.2 112.7 110.2 146.4 273.3 143.8 123.1 198.7 67.7 154.8 194.9 203.1 175.1 230.2 256.6 186.3 148.1 138.9 175.7 213.9 165.0 117.6 200.5 195.0 103.7 166.7 247.9 204.6 125.8 213.7 83.0 185.4 160.5 149.1 85.2 132.8 240.2 189.2 241.0 210.2 105.3 200.0 215.9 198.2 113.1 183.5 17.4 89.3 188.8 223.0 258.6 196.4 137.4 171.5 215.9 95.1 95.7 142.0 274.4 230.6 297.7 123.3 186.5 140.3 174.8 173.6 47.5 195.9 243.2 135.2 280.7 145.6 149.6 108.8 194.5 155.1 107.2 220.5 103.4 167.8 147.9 151.6 153.7 221.0 174.3 153.9 159.4 211.7 109.2 117.7 117.4 98.9 244.0 208.6 215.9 160.0 255.2 195.8 203.9 179.6 319.5 207.7 204.8 129.2 221.4 133.4 212.4 205.5 164.9 205.3 222.7 160.2 178.9 98.5 91.4 164.2 183.5 131.4 160.4 241.5 177.8 112.4 206.1 130.6 106.0 203.2 59.4 163.0 195.8 156.3 102.2 160.0 128.2 143.9 215.9 136.2 199.0 132.7 241.0 184.3 211.2 217.7 244.0 175.3 334.9 141.2 222.2 167.8 165.8 148.2 244.7 175.1 253.1 132.7 243.1 159.6 212.5 198.0 37.1 195.9 171.8 175.9 199.6 134.2 205.6 130.8 75.1 172.4 222.4 132.9 320.0 98.7 212.3 143.3 188.8 208.6 190.3 165.0 178.1 142.5 191.9 108.5 92.5 184.4 318.8 188.7 158.8 166.9 161.8 182.0 246.4 146.2 127.5 141.0 321.3 138.4 270.9 221.2 283.9 148.9 65.4 244.8 163.4 181.4 224.4 169.8 141.5 201.9 185.5 204.9 54.4 154.5 103.8 152.6 135.8 161.9 94.1 166.2 276.5 118.3 129.3 156.8 156.0 172.3 171.7 175.9 253.8 109.1 286.6 187.0 168.5 159.3 142.1 149.8 156.2 240.7 133.8 194.6 -50.8 193.8 232.2 148.3 152.1 147.4 280.6 197.1 193.0 107.7 5.3 179.4 227.7 136.7 212.3 150.0 257.5 244.7 98.3 125.4 185.4 110.3 160.8 63.8 150.5 125.9 268.5 71.7 227.0 232.6 301.2 238.7 261.1 197.9 161.3 125.8 212.7 206.4 12.0 117.3 103.3 187.3 175.1 121.5 199.1 156.5 257.9 144.8 215.6 127.0 302.3 252.9 93.5 153.4 225.4 162.5 272.7 170.4 95.1 166.7 295.3 99.3 200.8 160.1 189.4 97.0 67.2 223.1 136.8 133.8 118.2 150.2 164.4 175.1 378.6 137.0 304.8 103.2 148.8 161.6 233.0 152.0 166.2 154.8 223.1 128.0 332.2 186.0 208.7 171.3 185.9 117.2 130.1 177.8 100.9 129.4 222.1 144.5 161.5 140.7 206.3 78.2 301.0 189.0 194.5 85.0 163.1 205.1 182.9 107.8 178.0 70.3 132.8 196.8 341.5 224.8 154.4 170.9 138.4 166.8 100.4 138.5 136.0 128.4 223.2 229.6 178.8 151.8 179.8 131.6 198.6 142.8 127.6 114.5 145.7 90.2 205.4 152.8 264.5 246.9 110.8 191.2 278.4 188.8 199.8 66.9 289.9 108.0 248.1 205.7 208.2 162.1 52.8 177.6 265.3 198.4 148.3 152.3 170.3 211.2 164.3 157.5 206.0 155.3 192.6 197.3 221.0 148.3 177.6 146.7 33.0 150.6 158.8 124.7 186.0 122.6 175.7 164.9 209.5 152.4 110.0 208.8 198.6 108.0 225.9 187.5 191.9 112.6 235.8 126.8 179.1 187.2 244.8 195.3 135.4 86.4 108.6 137.1 201.3 167.1 219.8 190.8 320.3 188.9 175.7 116.1 216.7 238.7 183.1 290.5 76.5 151.7 166.3 189.5 92.6 228.8 259.7 148.8 240.4 122.7 219.8 47.1 164.1 161.2 104.3 162.7 127.1 147.1 239.6 123.2 97.3 148.8 313.5 120.2 208.0 140.4 133.0 189.9 74.2 128.1 192.7 193.1 233.7 112.5 101.4 253.6 147.9 103.1 183.8 101.2 230.6 180.8 273.1 136.2 148.9 174.7 207.9 100.5 346.2 190.5 153.9 187.6 164.7 113.9 231.2 138.2 266.3 236.3 188.9 138.9 239.3 131.9 235.2 152.8 230.3 184.0 227.1 182.7 126.4 245.2 217.1 209.2 330.8 84.3 227.1 185.0 120.4 128.1 170.1 186.9 223.6 198.6 276.3 131.1 307.5 171.1 130.5 148.4 206.0 76.6 185.1 200.8 262.2 149.1 129.1 190.7 192.1 160.9 84.2 162.1 79.0 199.2 190.9 157.5 242.3 193.3 121.2 141.3 286.2 155.6 174.5 162.4 190.6 236.6 128.7 150.0 229.3 178.4 246.9 193.5 84.6 110.8 164.5 130.2 65.8 164.1 204.9 192.8 134.3 174.9 130.1 191.4 292.2 119.5 144.8 197.5 284.5 178.0 202.9 139.3 240.9 171.5 278.7 152.0 239.9 209.1 106.5 192.5 241.7 130.2 239.7 87.2 247.9 124.6 152.5 118.3 208.6 60.0 140.9 142.8 119.4 148.2 256.2 161.6 221.5 127.4 235.0 165.3 86.8 144.3 128.1 169.8 100.7 120.3 188.9 136.1 24.2 197.8 121.9 102.5 191.0 216.6 275.6 156.1 127.7 128.1 164.2 166.1 188.7 112.3 371.6 227.9 176.7 182.1 86.6 196.3 209.5 159.1 81.1 152.1 232.2 209.7 109.3 159.9 64.0 117.6 184.3 78.2 156.5 160.4 320.9 157.7 163.2 98.9 379.7 160.0 175.5 176.0 217.3 172.7 320.2 91.7 173.3 95.8 92.8 136.9 144.1 143.6 199.9 201.4 245.3 115.6 199.3 136.3 43.7 253.2 111.9 130.0 229.2 121.9 346.1 111.4 288.6 210.8 259.4 166.5 193.4 129.3 234.3 168.4 236.9 107.4 173.4 201.3 194.9 234.6 214.2 222.2 275.6 176.2 199.8 105.3 190.5 52.9 200.2 245.0 171.1 147.3 227.2 168.8 122.4 162.1 203.9 147.2 265.5 171.8 195.4 171.8 218.1 138.2 198.1 140.0 88.9 124.6 185.2 176.9 171.8 150.6 194.0 239.2 271.2 200.3 284.2 204.6 209.3 147.4 104.0 254.3 58.3 144.6 198.1 156.4 245.7 186.0 196.1 202.2 92.8 98.7 110.3 158.2 139.5 160.0 187.0 145.2 219.8 144.6 259.3 159.9 129.6 201.8 92.3 108.1 153.8 195.5 69.8 156.5 155.9 177.9 97.4 190.9 129.0 198.6 120.6 153.2 140.9 138.6 187.1 191.5 127.7 102.2 201.3 202.9 80.4 77.1 76.6 92.6 193.2 176.0 261.6 160.6 108.0 77.7 239.6 144.2 246.5 164.0 199.2 154.0 96.4 141.4 224.1 142.7 298.3 83.6 322.2 128.5 190.0 170.0 77.7 163.1 88.0 129.1 143.1 235.9 123.9 134.2 152.0 148.1 218.6 154.7 174.8 135.2 253.3 176.6 232.7 151.8 276.7 223.8 101.9 155.2 361.2 146.1 236.9 215.2 337.7 203.1 294.3 162.6 137.9 121.7 133.7 182.7 234.4 207.7 180.0 98.5 175.0 174.0 265.8 195.1 90.7 165.7 237.5 171.6 273.5 196.1 156.5 160.0 175.6 209.5 262.7 144.2 312.6 175.2 143.6 237.4 163.2 95.7 113.6 156.7 156.1 145.1 289.4 131.3 221.0 118.5 252.9 157.3 195.6 195.6 292.3 201.9 86.7 126.4 230.0 175.6 247.7 203.2 111.5 188.2 117.3 139.6 143.3 150.9 79.4 167.0 163.5 64.3 153.5 185.4 182.0 93.8 153.8 137.2 115.0 154.4 252.3 223.3 177.0 204.1 252.3 105.0 196.8 144.5 252.4 117.9 106.3 208.3 181.6 186.6 188.3 209.7 299.9 117.4 187.5 153.0 154.6 119.6 161.9 167.2 135.8 78.6 202.6 128.7 193.0 90.4 156.8 106.6 184.4 179.7 197.5 79.5 229.3 149.5 142.5 109.0 129.5 72.3 83.9 184.7 222.5 185.7 204.1 82.5 215.3 57.0 111.7 180.1 228.0 172.0 297.5 159.6 177.1 169.8 68.0 139.2 247.9 90.0 213.3 146.4 229.4 112.0 130.3 180.7 289.8 216.7 52.7 87.0 190.5 161.0 242.0 242.1 278.7 108.1 155.7 143.9 163.4 203.4 99.1 140.0 199.9 127.7 277.9 135.5 255.5 128.2 218.0 129.5 133.8 94.7 115.0 201.9 315.4 240.6 204.1 199.9 134.8 240.9 213.1 128.4 198.9 110.7 239.4 204.7 91.5 180.0 262.3 102.0 259.3 185.1 72.8 127.4 193.9 142.6 58.1 87.1 203.2 206.1 158.2 152.6 141.1 134.7 198.4 205.1 189.9 151.7 153.3 181.6 201.2 166.9 142.9 188.9 235.3 156.1 233.5 154.0 83.7 230.7 228.6 169.3 83.4 154.5 170.5 223.0 224.6 153.2 241.7 165.0 90.9 238.2 111.2 248.8 173.6 210.7 246.5 108.4 176.6 161.7 81.0 161.6 152.1 119.0 246.3 46.6 192.6 134.0 186.5 132.6 226.8 121.7 191.4 162.0 195.0 104.3 325.1 144.9 141.9 162.4 149.5 113.8 75.3 178.2 170.6 85.8 133.2 173.1 81.6 170.6 182.0 206.4 194.5 170.5 254.4 112.7 141.1 124.6 177.5 221.6 191.7 210.6 123.5 159.2 188.4 204.7 221.1 259.2 244.2 169.0 195.1 181.2 194.1 219.4 194.2 207.2 203.4 66.3 132.9 270.6 194.6 145.3 105.2 95.6 77.8 147.1 157.2 149.1 198.6 203.8 180.3 185.5 193.2 154.1 176.0 208.4 139.9 146.4 224.4 131.2 207.5 131.7 148.5 129.8 126.5 151.2 203.0 158.3 172.4 190.3 130.0 214.5 172.7 104.6 79.8 163.5 238.7 158.2 88.2 226.1 187.6 129.0 214.3 98.1 243.2 168.8 117.9 193.0 82.3 189.4 225.5 182.0 182.1 124.3 226.2 126.4 121.2 89.9 135.5 141.0 208.4 100.6 270.8 146.4 78.8 133.9 164.3 138.8 134.2 138.9 164.3 153.8 37.0 199.2 219.1 74.3 191.9 186.0 185.8 110.8 115.1 172.0 150.5 252.2 124.3 172.1 242.9 200.5 170.8 187.9 114.1 220.6 194.4 158.3 223.6 116.2 126.3 201.5 138.7 115.6 284.3 198.7 319.5 196.4 219.7 79.6 228.2 197.1 80.3 88.8 51.7 216.5 61.0 119.8 75.7 116.4 107.3 170.0 270.6 98.0 172.7 124.0 178.2 126.6 247.9 124.0 141.7 186.5 281.5 166.5 222.6 150.4 227.2 60.7 293.5 151.8 231.6 197.4 65.7 140.4 181.5 153.1 156.1 72.7 253.0 192.7 293.5 144.6 144.3 163.9 246.7 162.6 173.6 197.7 247.5 139.8 85.4 200.5 99.3 105.5 238.8 151.0 233.0 125.3 250.5 153.8 213.1 129.3 168.7 152.6 189.3 168.4 186.8 143.9 169.2 213.3 185.9 165.1 250.8 153.9 277.9 121.8 206.3 193.1 178.8 152.8 85.4 215.6 174.0 203.0 213.7 172.9 139.7 153.3 236.0 185.3 250.2 201.0 146.6 163.5 224.1 133.0 172.5 174.6 205.2 94.7 206.2 168.8 144.7 171.0 229.4 106.2 293.2 128.5 264.2 160.9 35.9 138.0 262.0 54.0 173.7 129.6 111.7 150.8 129.0 113.8 174.3 151.1 119.1 204.0 195.5 97.4 317.2 162.3 273.8 164.5 164.7 109.1 124.5 208.7 236.9 71.8 174.9 171.4 266.2 181.1 126.0 203.8 139.3 131.8 208.0 129.7 246.5 129.1 108.9 162.8 72.1 136.2 322.9 14.1 262.4 60.0 149.0 240.4 184.8 80.5 207.2 181.7 201.1 116.1 302.1 202.9 139.1 128.4 229.5 152.0 295.7 166.7 160.1 222.2 207.7 139.7 349.4 121.0 157.3 179.8 96.3 141.2 177.2 155.9 355.3 224.2 100.5 119.8 164.7 203.3 247.8 192.7 246.4 277.8 269.4 184.3 192.8 62.0 156.0 121.3 195.1 202.1 155.0 193.4 181.6 139.1 229.4 201.9 119.4 166.1 103.9 169.2 258.5 174.2 291.0 178.9 239.3 136.4 245.5 236.7 272.7 132.9 198.6 160.3 190.5 154.1 231.5 181.0 178.2 192.0 166.4 55.2 104.9 136.0 270.7 198.0 265.5 147.1 134.0 142.2 224.9 83.6 172.3 120.4 214.6 172.0 144.5 187.1 255.3 200.6 242.7 151.9 206.6 141.3 157.6 123.0 173.9 96.8 274.9 159.0 201.8 145.6 125.6 162.6 196.4 140.3 229.9 146.5 164.8 119.4 277.0 177.9 246.4 109.5 227.7 163.2 254.7 130.8 200.1 99.4 252.1 125.8 100.4 109.6 316.9 136.4 279.6 179.0 236.6 225.4 264.0 149.6 301.6 194.0 3.0 166.3 107.6 128.8 109.0 167.5 204.7 205.3 118.6 194.2 220.2 130.4 245.2 76.9 78.0 114.8 179.9 117.2 203.1 283.4 204.8 108.4 279.9 130.1 244.5 181.7 232.5 191.6 273.5 201.7 305.6 175.1 152.7 150.9 168.5 135.9 153.6 218.2 223.6 99.1 213.6 167.5 226.0 81.9 105.9 110.0 293.3 161.5 231.4 212.3 261.7 118.4 211.3 114.5 74.4 135.3 202.6 157.8 275.0 115.3 233.8 88.8 161.5 110.4 168.1 105.1 185.0 177.6 219.9 153.9 142.0 97.8 196.8" fill="none" clip-path="url(#ka)" style="marker:url(#a2)"/>
<path d="M186.2 90.9 196.6 291.2 169.3 20.8 200.9 215.9 81.1 164.6 188.6 248.5 201.5 144.5 189.9 137.1 138.3 30.7 147.5 73.1 175.8 161.8 152.6 63.8 146.0 177.3 112.6 213.7 176.7 101.6 149.1 80.0 112.8 265.6 198.3 93.0 121.1 76.3 160.0 189.7 172.1 106.9 131.7 102.4 192.0 -6.5 124.2 115.5 250.3 186.4 275.7 128.9 192.9 57.0 110.7 212.0 138.8 50.2 158.4 200.0 89.2 83.7 147.2 155.3 146.3 94.5 117.3 125.0 133.4 131.0 176.7 89.0 168.1 179.0 100.3 210.1 229.1 201.3 165.5 241.7 109.2 189.9 175.9 252.2 173.1 45.9 167.6 90.5 176.7 71.5 140.2 89.3 120.5 232.5 179.0 310.5 232.9 112.0 170.1 87.1 131.0 265.0 153.8 120.5 110.0 217.8 115.2 179.0 192.6 170.9 168.9 232.6 152.2 86.5 167.9 241.8 180.9 224.3 296.2 268.6 121.8 162.9 198.0 57.1 241.6 231.8 155.5 221.2 151.9 111.2 156.1 248.9 58.1 210.1 181.1 156.7 130.3 84.2 161.6 196.4 59.1 94.8 120.1 96.6 334.0 95.4 139.4 81.6 140.4 148.0 220.8 141.4 162.1 293.9 143.2 152.3 265.0 113.7 175.1 105.2 234.0 285.1 98.8 118.1 160.1 72.3 147.0 244.6 158.4 185.4 152.1 268.9 93.7 162.5 32.5 196.9 188.1 227.4 177.0 98.5 60.8 99.2 99.5 195.4 294.7 154.0 166.8 113.2 114.3 82.3 171.3 148.0 110.1 119.3 162.1 93.5 174.9 80.7 124.0 112.8 301.2 134.0 183.0 100.4 98.4 204.6 178.7 127.5 125.4 167.9 146.6 196.0 157.2 182.2 120.2 141.8 117.3 87.7 149.1 106.2 187.9 60.2 151.7 81.2 214.2 181.1 158.7 62.8 157.9 328.2 121.5 251.0 220.0 46.8 110.9 184.1 161.9 72.3 90.1 155.7 128.9 132.5 154.5 245.0 222.5 323.6 152.6 102.9 160.9 48.6 140.9 111.7 75.1 224.9 189.7 154.6 209.9 144.5 163.7 186.6 146.6 117.7 193.1 148.6 207.1 197.0 100.3 242.1 158.5 94.9 151.5 279.2 135.5 238.8 104.6 62.5 125.9 87.6 208.3 230.9 83.8 96.1 275.7 156.1 196.6 200.1 158.5 123.6 178.3 76.8 149.2 81.6 40.4 129.5 102.9 247.4 224.3 160.1 229.7 191.2 172.7 188.4 150.4 111.7 135.9 162.0 300.4 115.3 53.2 178.3 177.6 36.8 177.9 112.6 130.1 81.7 57.0 151.9 182.6 167.4 121.7 234.8 149.2 153.7 163.7 227.4 161.4 207.8 145.6 117.2 145.3 262.8 158.9 198.7 114.9 281.8 93.5 218.1 190.3 268.4 185.1 219.9 164.2 113.8 126.8 161.8 163.5 81.8 139.5 171.2 105.4 247.6 208.1 335.9 143.2 104.6 196.0 41.7 153.0 67.0 128.1 182.0 43.3 75.0 159.0 97.4 148.5 189.8 109.2 126.1 213.7 129.0 148.2 206.2 169.5 217.9 164.0 116.1 271.3 201.9 91.9 205.7 146.0 153.7 149.6 281.3 141.2 264.3 189.6 95.2 159.7 169.7 163.6 154.8 190.6 256.3 158.1 144.1 162.1 252.9 174.6 223.1 198.6 199.7 119.8 275.8 126.8 203.1 247.7 209.9 150.9 93.9 140.7 152.7 177.7 136.7 216.1 240.6 172.7 46.1 124.5 120.6 146.5 155.4 175.0 118.5 97.0 214.2 143.5 161.2 113.5 204.4 217.8 360.5 90.8 111.5 107.3 115.3 93.5 213.8 159.2 95.3 193.2 101.2 44.5 159.9 166.6 250.3 77.0 178.6 127.6 133.4 139.2 115.8 165.7 111.3 193.5 93.6 216.3 276.1 103.7 200.6 182.7 127.9 167.3 101.3 179.2 219.5 252.9 248.2 139.0 207.8 150.4 73.3 120.8 320.9 161.5 97.4 180.6 144.8 155.9 129.9 156.6 102.8 134.9 218.1 224.3 18.4 100.1 209.9 144.0 35.3 227.3 110.0 201.6 128.9 185.3 89.9 132.3 189.6 179.5 69.0 119.6 48.0 113.5 101.6 159.8 151.9 145.0 104.9 87.0 249.4 150.7 189.3 180.9 100.2 148.5 140.2 161.3 49.9 92.7 80.9 157.5 105.6 195.1 268.2 184.1 302.6 100.2 290.1 194.9 234.3 168.0 179.7 208.9 85.3 156.8 95.7 153.4 83.6 144.6 293.4 142.6 207.7 113.9 295.9 149.5 279.1 135.7 72.8 123.7 44.2 156.1 130.9 149.4 253.2 178.3 37.9 188.4 107.3 225.0 94.2 169.2 101.6 187.8 109.0 146.9 187.2 126.4 191.0 142.7 177.1 144.5 182.5 200.4 268.0 144.9 150.3 232.3 152.8 185.9 60.9 185.7 151.7 115.5 190.5 127.7 152.9 112.9 156.4 150.9 150.8 -13.6 162.5 102.4 200.9 123.4 148.9 84.8 2.0 134.9 198.7 275.5 152.1 163.7 65.3 138.1 272.2 144.9 112.3 138.0 136.8 191.1 228.7 157.1 141.4 237.9 125.9 98.1 120.4 173.3 204.2 136.3 169.2 176.5 102.3 133.5 203.7 196.0 293.0 288.2 123.6 185.7 184.8 106.7 134.6 123.7 97.1 150.3 54.3 152.5 251.5 220.3 195.1 242.9 230.3 203.4 180.6 192.7 155.4 208.5 185.6 109.9 42.6 103.4 287.7 168.6 104.1 92.7 44.4 162.0 101.4 181.2 169.0 133.6 210.3 128.0 243.3 148.3 165.7 207.7 170.8 179.4 130.8 223.7 87.9 194.7 236.5 138.0 194.7 117.4 171.0 150.1 91.4 150.8 63.4 127.6 122.9 217.4 131.1 233.1 42.3 89.3 199.2 139.7 177.6 162.1 86.7 149.0 81.1 117.3 131.6 139.6 72.8 241.9 156.9 223.4 291.0 143.4 87.4 150.5 130.4 120.5 178.7 80.7 189.8 122.4 109.4 296.6 149.4 136.4 59.0 117.0 223.5 136.7 170.2 111.4 163.7 194.4 68.1 139.7 151.4 187.5 113.1 198.3 112.4 117.9 121.3 183.0 96.8 226.7 194.7 106.9 267.7 229.4 211.3 208.9 126.6 180.9 79.2 150.1 200.0 144.0 97.6 147.5 54.4 134.1 89.6 161.6 60.3 228.6 159.5 140.6 99.6 167.6 190.9 171.8 83.0 220.9 178.1 153.5 106.0 124.8 192.7 172.5 47.6 201.2 97.9 104.5 133.4 195.8 249.8 142.8 72.3 284.0 182.0 180.7 46.4 268.4 185.4 117.2 212.5 135.7 90.8 116.7 158.3 216.1 174.1 208.7 87.9 145.5 222.8 145.0 170.9 186.5 158.1 62.9 167.9 183.6 145.4 55.0 193.3 123.5 75.4 271.4 149.3 50.4 169.6 200.1 168.2 182.2 132.1 150.2 26.4 142.0 258.3 187.1 144.2 130.4 117.6 135.3 59.0 143.5 161.2 141.1 118.7 151.4 127.9 143.5 268.7 141.0 119.1 204.3 184.5 161.1 153.6 112.6 201.9 178.2 176.2 149.7 65.5 145.9 150.6 143.7 152.0 199.5 135.3 154.4 305.2 81.5 240.8 90.2 129.8 142.3 157.0 131.8 220.1 247.7 184.8 180.5 254.9 148.6 203.5 162.9 110.2 278.9 306.1 177.4 87.7 138.8 187.0 178.5 102.4 182.4 83.4 50.9 230.7 92.4 106.3 173.9 169.7 191.1 273.9 155.2 246.4 85.9 143.6 147.1 115.5 215.8 161.6 111.8 85.3 140.8 43.9 152.4 220.6 157.7 58.5 166.9 106.6 83.4 215.0 219.4 222.5 116.0 96.7 182.7 250.2 175.5 101.1 96.1 147.3 166.8 195.9 117.2 253.6 167.5 178.1 176.7 168.4 145.7 144.7 182.2 188.9 176.2 119.4 109.5 87.8 164.8 112.8 145.3 73.7 194.5 259.5 187.5 105.8 127.3 69.4 205.9 108.7 153.5 48.1 174.7 99.9 147.7 94.9 133.8 147.0 186.6 194.4 141.4 253.8 189.4 104.0 102.8 347.4 244.4 207.1 157.1 -9.2 168.0 64.6 179.8 156.1 188.3 197.5 129.3 44.8 161.1 102.3 163.1 64.3 140.4 167.3 203.5 223.1 140.0 279.9 177.1 87.3 161.2 129.1 130.7 77.1 191.0 52.4 196.8 91.6 86.5 143.9 157.3 235.0 123.7 98.0 105.5 104.7 196.9 209.9 171.4 139.7 134.1 149.5 125.5 85.2 168.2 289.8 171.4 128.7 112.7 134.3 202.9 254.1 134.5 79.4 116.6 176.0 160.0 79.3 112.3 353.4 163.0 266.8 173.5 290.6 110.8 126.2 137.3 167.9 116.9 158.4 150.7 67.2 166.9 337.8 170.2 38.9 75.5 168.5 144.5 127.4 155.2 128.0 199.1 208.1 156.5 135.3 109.8 218.2 91.0 168.3 189.3 222.0 110.7 136.8 215.0 237.9 196.1 105.3 209.7 193.8 128.0 130.3 150.9 76.2 201.3 173.6 151.9 118.1 222.5 189.9 179.6 109.5 170.6 93.4 149.9 180.1 132.7 101.3 173.3 65.5 153.3 93.5 175.6 103.3 12.6 226.9 105.4 163.0 158.4 40.0 200.6 156.8 118.6 206.1 233.5 230.7 176.0 256.1 144.7 189.0 107.9 57.1 191.3 79.1 63.8 210.5 125.7 56.7 160.0 123.7 186.2 16.2 122.2 212.6 160.0 80.3 90.1 113.9 260.4 179.7 131.6 51.2 165.1 128.6 165.6 190.3 208.3 266.6 104.2 80.5 301.7 53.5 203.3 172.5 85.8 176.1 146.6 222.4 153.5 90.4 189.2 259.4 173.1 109.7 165.7 108.6 133.4 99.8 159.4 131.5 176.5 157.4 200.7 92.7 142.9 150.9 150.3 311.3 181.6 237.4 104.4 201.8 85.7 225.4 201.2 139.4 179.4 85.6 216.6 151.9 120.7 170.2 151.2 182.1 59.1 174.1 168.3 229.4 199.6 154.6 176.7 52.5 124.1 163.6 161.2 206.5 157.3 171.1 202.1 223.5 182.5 127.0 162.2 112.5 137.8 279.6 113.5 261.0 181.3 200.0 149.6 211.2 68.1 201.8 151.4 248.0 145.2 274.3 137.7 38.2 160.0 148.2 151.0 216.3 111.5 333.8 146.0 70.9 133.5 113.4 192.4 133.4 134.6 208.7 144.4 195.4 74.4 244.1 222.7 154.9 148.4 156.3 242.9 137.3 209.3 206.3 32.6 101.2 179.5 326.0 152.6 70.4 81.3 251.8 162.7 271.4 163.3 89.9 161.1 133.6 110.1 65.3 179.2 137.3 108.3 125.4 130.9 55.9 172.9 224.6 205.6 177.7 126.0 132.5 82.4 205.9 135.8 129.8 145.8 163.8 123.9 171.0 164.5 109.8 128.9 212.6 148.3 138.2 209.9 149.4 181.2 154.2 259.0 87.0 237.5 212.1 202.0 115.7 46.0 171.9 112.3 152.7 145.0 129.9 117.0 257.0 114.5 76.8 149.5 68.1 210.1 91.6 177.6 89.3 161.1 79.9 143.0 89.5 156.3 247.0 164.5 90.4 135.3 178.5 73.3 239.9 172.3 56.4 144.7 246.5 168.8 279.5 181.0 77.6 183.6 228.0 104.4 126.1 164.9 223.8 74.1 97.6 179.3 111.6 205.7 204.8 171.7 113.6 112.2 171.6 206.1 284.7 114.5 213.7 175.3 196.0 187.7 270.4 143.7 55.8 154.4 159.4 193.1 163.8 158.2 120.8 168.9 290.2 198.3 83.5 225.6 98.4 131.1 237.9 190.5 153.6 143.0 98.0 166.4 169.0 100.5 166.0 177.8 55.7 143.2 46.4 83.0 102.8 109.5 243.3 100.8 255.6 50.8 194.7 175.6 197.6 147.7 117.1 217.2 224.1 97.7 194.2 129.9 205.5 141.4 270.3 191.8 99.5 237.4 162.9 140.9 82.0 148.6 115.7 50.3 152.0 130.2 75.9 201.6 247.4 117.2 94.2 149.0 134.4 177.2 144.1 127.0 188.5 154.9 110.4 205.8 299.5 207.8 302.5 196.7 70.2 129.1 100.2 140.4 229.9 144.0 148.3 127.0 96.2 101.6 115.0 211.2 257.7 160.7 135.1 182.7 74.8 111.1 76.1 81.1 247.1 168.5 211.1 229.1 204.8 137.5 156.0 167.6 61.3 185.9 58.2 187.9 141.6 212.4 270.4 168.9 35.9 160.6 301.5 183.4 202.7 169.2 232.5 159.4 229.9 165.7 132.7 118.9 229.0 152.2 167.3 193.0 27.7 177.6 219.5 118.5 92.5 168.5 79.6 164.4 68.1 95.8 217.9 231.4 104.3 157.2 139.9 250.4 232.3 156.8 106.9 156.8 125.5 188.6 285.9 156.1 81.9 203.7 128.5 178.9 223.3 132.9 192.3 124.3 102.7 161.5 79.2 191.6 129.3 90.7 147.6 98.0 157.9 73.2 211.5 168.9 261.3 70.0 164.3 124.4 171.3 199.0 130.1 126.6 55.8 118.9 265.3 129.0 178.2 170.7 132.7 159.0 185.7 194.3 296.4 121.6 93.5 12.7 188.3 125.3 107.8 136.9 94.3 165.0 170.5 274.7 203.1 159.1 242.9 99.8 230.0 125.6 190.3 166.9 214.1 178.0 97.7 157.3 72.0 204.6 108.6 119.2 108.3 165.4 53.9 125.2 261.9 166.9 189.6 116.4 76.1 95.6 179.5 176.1 49.5 135.6 62.0 199.9 147.8 119.0 131.2 153.2 192.1 228.5 225.6 204.1 184.7 94.0 233.1 212.7 174.5 216.7 132.6 172.8 69.1 152.2 334.8 145.1 102.5 144.9 206.9 171.2 109.4 166.9 74.2 206.3 91.8 233.9 258.1 175.2 120.1 141.9 249.6 153.6 7.0 203.7 173.6 188.2 150.7 176.0 105.6 142.3 121.6 236.1 345.8 134.7 99.1 126.3 131.7 155.4 96.3 175.9 161.5 130.5 195.2 178.5 235.4 154.0 172.5 67.3 124.9 125.6 130.7 159.7 88.9 128.1 183.6 189.7 47.9 264.0 125.6 104.2 87.3 159.4 291.9 171.5 101.0 172.6 281.2 126.5 126.2 188.6 264.1 168.2 88.2 211.4 166.9 113.0 156.3 184.1 305.6 138.9 60.3 155.1 88.9 70.7 248.1 179.0 102.5 45.3 260.6 171.5 128.5 158.7 272.9 117.8 254.6 173.4 245.0 164.7 256.9 206.1 231.1 154.1 238.6 181.3 95.5 201.2 38.6 45.1 129.1 138.3 175.0 173.8 174.4 70.7 189.9 144.6 137.0 158.8 108.6 191.6 243.9 139.9 97.1 142.0 79.2 152.7 115.6 184.4 188.8 49.2 234.9 208.2 149.8 190.1 129.7 141.9 88.6 251.4 192.9 145.9 72.7 171.3 56.7 125.8 245.8 181.7 96.6 161.9 158.4 160.4 112.4 111.3 195.4 152.1 232.7 153.6 175.6 241.9 204.1 83.7 189.7 171.4 82.8 182.6 147.7 168.2 110.4 152.3 221.4 146.6 223.8 225.9 147.9 164.5 50.5 195.9 141.3 165.4 196.5 136.5 272.1 161.6 163.8 116.5 172.3 162.0 61.3 161.7 81.7 86.1 190.7 34.4 185.6 139.5 149.2 166.8 97.1 156.9 100.1 196.9 53.6 174.2 107.8 138.4 173.7 196.7 220.8 147.0 157.2 167.3 265.0 181.2 119.9 281.2 27.3 208.6 79.3 82.5 250.8 59.0 241.7 109.2 199.6 200.6 234.4 74.9 123.8 134.5 216.3 173.0 192.2 186.5 151.5 167.5 97.5 193.3 60.8 202.8 102.1 179.3 222.4 132.5 195.5 126.5 93.5 125.3 161.5 179.1 99.8 181.5 163.4 177.9 187.3 129.4 65.7 199.1 46.6 137.1 69.1 215.0 233.8 169.9 199.4 161.2 57.8 149.5 175.5 195.9 148.4 119.2 243.2 123.3 186.0 125.1 223.7 219.2 105.9 78.6 143.7 216.9 193.3 129.7 101.5 57.1 227.9 183.1 238.3 196.5 270.0 162.9 203.7 189.9 50.6 196.1 54.9 160.4 226.2 142.0 98.6 171.8 82.4 188.6 133.4 165.8 90.8 140.4 68.1 139.2 174.9 143.2 102.0 142.7 57.0 166.5 182.8 209.1 71.1 188.2 68.6 161.5 239.6 229.7 160.3 159.7 74.2 155.9 75.8 201.7 219.4 145.6 176.1 184.3 335.8 209.0 199.9 108.2 137.4 38.5 218.8 114.3 176.6 146.1 77.0 138.9 131.5 136.5 86.5 147.5 234.5 181.7 66.9 246.2 211.5 143.6 92.8 148.3 151.7 225.9 188.8 179.6 93.5 218.1 147.9 177.3 98.7 203.3 63.6 123.5 89.8 172.4 228.6 148.6 164.1 179.5 183.5 148.2 120.4 132.9 170.8 90.2 23.4 22.8 98.5 156.5 93.9 210.4 219.4 114.6 112.6 200.3 124.8 170.2 107.8 202.7 82.0 133.3 288.5 192.8 255.6 178.6 283.1 44.2 158.8 184.7 96.5 123.2 210.7 231.5 188.1 141.0 79.2 181.9 177.4 193.2 105.2 223.4 256.5 85.5 133.6 77.7 178.5 157.7 167.6 140.7 155.4 183.4 108.4 72.0 204.9 146.8 63.1 119.1 104.1 215.3 269.8 37.5 101.9 168.5 218.6 115.9 88.0 188.0 90.1 142.1 85.1 185.3 151.4 145.1 226.9 204.9 83.4 152.4 116.5 164.8 149.5 162.3 85.3 144.8 121.6 127.4 184.5 180.9 99.1 70.3 60.3 158.5 96.3 142.3 194.4 163.7 196.2 168.9 54.5 141.2 222.5 167.2 297.4 131.2 300.8 111.0 98.4 131.4 108.8 169.3 89.9 75.1 248.7 173.1 201.0 129.1 157.4 177.2 332.4 107.0 133.4 137.1 213.3 217.2 196.5 140.8 289.0 127.1 47.4 168.7 44.5 180.7 102.7 74.9 342.8 289.2 110.2 133.4 116.2 108.2 93.6 158.3 71.1 194.6 122.8 76.0 171.9 107.0 143.7 69.4 308.3 164.9 92.8 123.7 75.0 163.9 334.7 164.1 265.3 150.0 162.7 162.8 137.0 177.0 329.8 193.4 231.7 156.3 100.9 113.1 190.9 177.8 208.4 127.2 230.8 200.0 188.8 294.0 133.6 175.6 107.6 163.4 120.6 149.8 139.9 126.1 208.8 88.3 241.3 178.4 88.8 182.7 234.6 182.4 103.4 126.6 123.5 276.1 91.4 167.8 200.9 214.8 182.2 124.4 140.2 194.2 236.6 199.7 60.0 205.6 206.6 138.5 106.8 147.3 235.2 119.0 262.3" fill="none" clip-path="url(#ka)" style="marker:url(#a3)"/>
<path d="M187.3 293.5 151.6 230.5 136.8 221.6 153.1 278.1 146.7 254.5 149.3 226.9 168.8 240.6 178.5 193.7 178.1 318.4 181.3 279.1 166.9 270.7 157.8 231.8 182.4 284.8 182.3 266.4 158.9 241.3 146.4 288.6 149.1 259.6 169.7 270.1 135.9 283.5 192.0 222.6 141.6 255.5 157.6 267.6 169.8 241.3 159.9 284.5 177.0 243.2 156.4 294.2 177.7 306.7 197.7 276.9 154.1 288.1 152.8 218.9 171.5 290.4 155.3 280.2 156.2 293.0 161.0 241.4 142.9 264.5 166.1 258.2 188.8 206.1 156.5 287.3 171.0 265.1 129.8 253.5 137.5 284.9 169.6 213.0 183.8 220.2 152.0 330.6 171.5 292.1 150.4 240.7 176.4 281.9 140.0 289.0 179.1 277.3 164.9 292.6 148.6 242.7 165.6 291.2 183.0 238.0 157.7 228.4 180.9 312.2 139.7 236.3 152.6 264.0 144.9 247.1 176.4 289.9 142.2 286.1 162.2 249.7 149.9 235.9 171.3 244.3 157.9 289.0 158.1 266.2 144.7 263.1 163.8 290.5 174.0 247.3 135.1 206.9 147.7 257.7 174.8 246.1 167.1 284.8 165.5 272.0 177.2 222.8 182.1 271.0 176.8 258.3 197.9 284.7 189.0 252.1 175.5 197.6 182.4 139.8 150.9 267.0 151.0 285.0 148.9 275.6 121.0 262.4 145.7 292.0 154.2 270.1 142.3 281.2 190.7 279.8 170.7 261.9 118.2 254.1 148.4 258.9 185.6 243.3 135.6 279.1 127.2 294.7 162.0 241.6 146.3 233.6 138.5 301.4 171.6 236.4 149.0 266.2 179.7 211.6 202.2 197.1 160.0 255.1 147.5 268.3 174.2 271.2 203.9 219.7 132.2 244.8 144.6 272.5 161.6 232.6 143.0 212.0 156.4 312.8 127.2 280.7 170.9 257.1 183.4 221.4 162.6 291.7 172.2 273.3 141.3 272.8 187.0 254.6 157.4 239.5 176.8 249.4 158.5 275.5 175.3 272.2 168.7 271.1 149.4 278.3 147.0 290.3 144.1 258.8 168.0 248.7 143.9 272.3 149.0 276.0 155.6 244.6 177.8 218.5 182.1 233.2 198.8 275.7 201.6 242.2 163.6 236.2 175.9 252.0 147.7 210.9 149.2 214.7 150.6 257.1 169.3 257.7 166.1 255.3 162.7 258.9 164.8 205.1 145.5 300.4 156.8 235.5 155.2 264.6 180.5 298.2 142.1 248.9 146.5 268.1 139.5 275.4 187.1 241.4 185.0 278.6 167.6 231.5 166.3 277.8 161.0 217.9 210.3 273.2 202.9 261.8 171.3 286.1 150.7 265.5 159.5 309.7 148.2 226.5 162.1 187.5 188.3 246.8 178.7 248.2 151.4 215.1 147.2 247.5 157.4 248.8 135.4 251.7 159.7 243.3 166.5 310.0 143.8 225.2 178.8 213.8 163.1 229.6 202.8 258.8 165.7 247.1 142.1 292.5 205.5 271.9 162.6 274.9 140.2 253.4 144.1 282.7 145.3 281.8 171.7 286.2 180.9 230.7 129.5 256.7 143.7 248.7 162.8 274.6 131.1 275.5 163.3 273.4 180.8 232.9 191.2 238.1 158.3 277.5 170.1 223.1 170.6 262.7 143.1 235.3 144.0 258.0 158.1 236.2 193.1 240.2 151.0 272.2 132.7 236.4 182.1 274.3 145.5 287.4 174.4 230.6 166.8 282.6 116.0 225.7 161.2 288.1 137.9 258.0 157.4 219.9 184.7 300.9 157.1 282.6 135.9 253.6 173.3 283.5 193.8 301.5 163.7 265.4 139.1 279.7 180.7 240.8 139.5 266.1 153.6 287.4 164.3 234.0 201.3 310.2 159.7 260.0 165.2 255.0 167.1 270.4 140.2 264.5 163.0 289.3 139.6 257.6 156.5 273.3 176.4 233.4 134.8 231.1 161.4 267.6 132.7 267.7 167.5 239.5 180.9 280.1 150.9 258.2 160.7 276.2 130.4 273.8 159.4 246.5 183.0 244.1 163.6 240.4 175.5 286.7 159.0 257.6 120.6 287.0 174.0 288.0 139.9 272.1 141.1 252.8 174.3 261.8 176.4 262.4 154.6 287.6 176.0 262.1 162.1 258.2 158.8 243.6 145.7 267.8 164.0 274.6 150.2 217.7 124.0 255.7 191.5 278.7 124.7 260.1 185.4 244.4 183.3 210.8 136.6 232.4 168.4 280.7 133.3 271.6 168.5 274.9 184.9 293.4 162.1 234.8 192.4 252.1 192.0 248.3 188.0 279.0 170.6 280.7 136.3 248.9 156.8 251.9 161.0 271.2 170.9 242.1 157.2 270.6 188.6 220.4 155.9 242.6 183.9 289.4 142.8 218.4 201.2 225.9 163.7 208.4 126.8 260.2 168.7 272.3 136.0 268.8 142.7 239.6 156.0 250.1 161.3 274.0 164.6 262.8 140.1 269.0 166.2 305.8 156.7 281.9 147.7 235.5 160.2 244.8 136.2 258.0 148.6 225.5 140.9 261.1 141.0 258.3 154.6 299.9 170.6 206.7 160.0 296.4 192.8 193.5 167.4 260.4 161.2 228.8 132.3 248.5 148.6 243.3 150.9 274.9 167.1 244.2 177.4 287.9 207.8 270.3 161.8 259.9 186.1 272.7 167.9 262.7 165.8 274.9 144.7 258.4 178.0 242.0 167.8 295.2 188.6 323.7 159.1 230.1 179.2 270.8 161.1 215.9 178.3 267.4 158.0 245.0 185.2 253.7 164.8 292.3 173.8 278.8 152.8 291.8 141.6 274.6 145.5 282.9 174.1 299.3 183.6 259.3 164.2 296.1 172.1 251.5 169.8 255.0 162.9 261.8 137.0 287.7 162.7 288.5 168.3 268.5 146.8 250.2 145.6 272.5 169.6 309.0 203.8 257.8 144.1 262.5 159.8 247.0 152.8 245.4 158.8 259.5 168.8 244.6 159.1 218.5 117.4 279.8 180.4 233.2 216.6 261.3 167.8 261.9 167.9 228.5 153.3 245.5" fill="none" clip-path="url(#ka)" style="marker:url(#a4)"/>
<path d="M186.6 205.5 130.2 155.6 103.9 119.9 144.1 204.7 168.6 203.0 141.4 146.3 171.8 207.4 123.5 246.4 166.6 163.9 100.8 117.9 143.4 193.8 137.7 144.4 161.7 148.9 157.8 170.2 145.7 141.4 133.5 117.4 139.5 179.0 159.9 138.2 169.0 166.2 175.1 186.2 129.4 190.3 118.2 213.3 140.3 155.8 181.1 157.9 168.5 221.1 154.8 263.2 124.8 218.1 184.8 193.5 171.6 221.0 133.2 209.2 122.1 176.8 118.2 215.9 162.9 184.1 201.5 186.6 160.2 188.1 150.4 175.5 153.5 201.5 117.3 174.8 150.8 190.2 139.8 153.0 142.5 191.6 123.3 117.8 175.8 145.4 170.3 189.0 180.7 118.6 162.6 171.0 188.3 201.1 167.4 139.3 173.8 193.9 156.5 165.7 158.6 185.0 157.8 145.0 156.1 241.5 155.1 237.3 148.4 171.1 165.7 139.7 138.9 226.6 174.9 182.8 153.7 205.2 121.2 198.2 177.5 174.1 133.0 143.0 178.6 212.8 163.0 184.4 166.7 165.0 177.0 171.9 148.7 188.3 138.7 121.4 155.1 200.1 162.2 200.6 179.5 93.5 157.5 173.2 167.5 144.8 145.8 223.7 133.1 123.9 166.9 197.7 147.6 194.7 170.2 129.6 173.9 167.0 166.4 159.5 158.4 214.2 126.9 138.7 128.4 136.9 165.0 119.3 121.1 129.2 147.2 222.2 159.8 139.0 117.2 214.9 155.4 176.0 140.4 212.3 145.7 233.3 147.7 173.9 104.2 141.9 185.9 250.0 114.1 163.3 177.1 175.0 138.6 167.2 152.4 159.5 156.9 246.8 180.9 171.5 175.4 212.7 119.8 220.4 137.1 164.6 144.3 204.4 134.7 222.8 162.8 169.6 129.5 198.2 136.7 221.3 163.1 103.5 165.4 132.0 99.5 195.3 115.0 180.2 149.5 192.2 154.7 140.2 129.1 223.7 170.2 226.5 161.3 242.8 183.0 150.1 125.8 165.4 151.1 170.5 162.2 175.4 182.0 196.5 179.1 188.7 146.3 172.8 166.0 200.6 149.6 209.0 181.2 233.7 174.0 128.5 167.6 214.6 99.3 125.8 166.3 170.4 122.1 157.1 130.5 196.9 168.0 206.2 168.6 139.4 178.0 150.9 173.0 168.0 169.1 200.4 174.4 203.5 145.6 182.3 173.8 171.9 174.3 185.8 143.3 189.8 146.5 212.2 180.1 149.7 145.3 160.4 160.4 146.9 164.7 216.9 150.5 108.7 158.1 125.1 200.7 142.3 160.2 169.8 159.0 164.7 150.7 166.4 142.5 142.0 111.8 114.5 157.0 242.3 138.2 191.9 146.7 121.9 138.9 140.6 132.7 146.0 194.0 173.3 152.9 195.0 117.7 208.2 131.3 156.8 146.7 171.9 188.6 152.7 199.5 132.1 118.7 204.6 168.3 191.7 149.0 154.3 150.4 212.2 155.0 134.0 126.3 204.9 142.2 96.9 135.4 240.2 226.9 226.7 152.4 132.3 160.8 201.4 162.4 211.0 161.6 147.1 169.6 185.1 125.7 200.7 142.8 173.0 167.1 213.4 151.0 159.0 149.7 183.2 119.0 83.4 133.2 142.4 128.9 107.4 148.8 212.0 128.9 213.2 129.1 161.5 141.2 189.2 182.0 193.0 156.7 165.5 178.0 223.2 170.6 151.5 177.4 201.0 178.9 119.6 164.3 185.0 191.9 146.8 136.2 158.2 146.6 149.5 177.3 220.2 144.7 82.7 155.4 138.9 134.1 181.7 144.1 215.0 148.0 181.2 114.4 183.1 158.1 196.5 122.1 161.4 122.2 132.5 168.7 162.1 154.3 202.0 186.2 142.7 162.0 217.0 127.9 198.2 142.4 185.9 169.6 189.2 140.0 130.6 127.5 190.6 147.4 186.2 151.5 169.9 149.6 124.9 159.7 180.3 164.9 224.8 147.1 151.9 132.8 197.0 190.7 175.3 149.3 152.7 176.8 202.1 181.3 188.4 183.0 215.6 140.5 124.3 124.2 200.1 100.5 177.1 203.7 146.9 136.7 200.9 113.0 198.2 140.2 158.5 196.0 184.3 121.6 150.9 191.3 201.1 136.3 157.9 164.5 178.2 139.8 173.5 177.3 223.4 159.7 189.4 134.2 197.9 170.5 229.9 164.6 162.8 127.7 163.4 175.6 155.6 157.3 108.9 166.0 199.0 152.5 156.7 98.5 136.4 139.9 198.0 159.2 186.6 177.0 123.1 123.6 139.4 154.4 142.7 138.5 162.8 142.1 156.3 178.8 162.0 172.8 143.8 131.3 213.4 170.4 209.0 124.9 170.1 178.8 190.8 152.0 164.2 153.1 146.1 195.4 202.2 171.9 135.3 168.8 171.4 152.2 171.2 154.4 255.2 147.4 191.1 111.1 204.5 171.8 222.6 120.6 193.7 172.2 128.8 123.1 167.9 147.1 194.5 156.2 169.5 137.8 213.3 157.3 150.7 147.8 106.9 138.7 210.5 164.9 199.4 185.8 143.6 167.3 209.0 157.1 170.4 129.5 138.0 164.9 144.7 138.3 200.9 112.4 139.5 152.9 192.8 168.5 171.5 164.2 142.3 142.8 236.6 163.1 183.0 167.8 171.7 166.5 148.0 103.0 144.1 149.1 146.5 146.5 237.8 140.6 210.7 166.0 233.2 190.7 145.3 149.8 176.8 149.9 174.3 140.1 141.1 135.6 152.8 192.0 168.8 178.9 215.2 112.9 174.0 145.4 232.4 178.0 209.0 189.2 209.6 172.7 210.6 175.3 158.9 132.1 172.5 182.6 150.6 118.0 181.0 117.1 171.2 163.0 144.7 192.7 227.4 143.0 175.7 147.1 199.4 180.4 163.6 184.9 170.7 113.8 205.5 131.1 169.1 135.5 187.4 109.0 207.2 159.1 206.9 133.6 189.6 140.9 221.9 142.1 183.8 186.5 193.5 146.0 176.1 142.2 120.7 152.7 187.6 185.6 210.4 187.4 200.8 155.4 153.6 134.9 175.7 157.4 187.4 125.6 186.7 130.0 156.6 169.6 238.7 132.7 174.6 142.3 118.4 145.7 175.8 114.2 178.1 152.8 176.4 209.0 192.8 181.2 142.2 151.3 135.1 158.7 206.0 174.7 217.6 151.2 143.2 164.1 163.9 95.7 205.7 142.7 172.9 138.7 191.4 149.0 219.0 157.9 198.0 156.7 145.2 161.5 153.8 135.1 115.5 122.2 146.1 200.9 153.5 145.2 183.3 164.0 229.2 138.3 168.7 178.4 170.1 127.3 149.9 122.6 106.8 169.7 183.9 129.1 134.2 142.6 229.1 119.7 169.4 153.9 138.3 138.2 196.8 118.6 229.3 166.3 103.5 144.1 170.1 153.6 204.4 145.7 186.4 148.3 213.3 183.3 165.6 185.4 190.1 176.6 187.8 130.0 70.7 145.0 202.8 159.6 197.3 134.5 150.5 144.5 224.5 166.4 244.8 128.5 200.1 150.9 177.0 190.4 193.8 154.1 164.1 178.6 169.4 167.3 167.2 199.3 119.1 156.5 195.5 141.3 202.1 133.6 135.1 141.8 156.4 149.2 169.3 193.7 161.7 136.2 174.0 143.2 208.9 164.2 198.2 134.8 150.2 88.3 132.6 186.4 129.0 128.7 171.8 127.3 178.4 175.5 213.7 154.8 245.4 151.0 190.4 177.7 116.6 139.7 171.8 107.7 128.7 181.6 165.4 202.0 207.2 146.2 94.3 176.4 176.2 156.0 244.7 152.6 190.3 130.2 207.3 188.6 173.4 125.2 167.3 186.5 140.4 151.5 228.4 181.5 150.2 168.9 184.2 174.2 199.7 173.5 206.9 160.5 206.8 141.4 150.8 125.4 218.6 149.6 233.5 119.5 185.0 155.9 165.4 137.9 169.0 156.9 201.4 128.6 190.9 135.9 213.2 156.9 216.6 171.2 175.6 143.2 179.8 140.6 212.5 109.4 120.5 169.6 156.5 171.4 208.3 186.4 134.6 130.9 184.1 162.8 192.0 214.6 193.9 126.9 133.6 186.6 211.2 139.4 177.2 174.7 242.5 71.4 159.3 148.6 211.3 162.2 135.7 160.4 154.6 143.6 151.5 191.5 150.0 163.3 183.3 141.7 148.3 162.1 148.6 99.5 134.3 159.0 218.2 156.9 130.9 169.7 131.7 148.8 228.3 145.2 153.9 189.0 184.4 182.6 159.0 170.1 185.2 110.6 116.8 148.0 118.2 159.8 146.0 141.0 180.7 125.1 188.6 159.0 130.1 172.4 202.5 135.8 169.0 152.8 142.3 126.4 221.0 128.8 210.4 175.3 132.4 141.1 195.7 145.7 136.5 161.6 188.4 151.9 145.0 143.0 176.1 149.0 108.9 164.0 161.9 143.2 194.7 176.4 200.7 163.0 218.9 157.0 240.4 123.4 95.9 154.4 222.6 109.8 139.9 138.6 197.1 184.8 156.9 141.6 166.8 150.3 165.4 159.7 185.6 158.6 187.6 174.9 155.5 172.9 235.7 115.4 176.3 99.9 80.5 173.8 205.3 127.7 164.5 128.1 130.5 164.9 190.4 120.5 171.3 156.8 172.6 136.9 199.0 171.3 219.0 165.5 205.5 194.1 217.1 158.1 206.4 135.9 186.2 184.0 216.1 186.2 205.2 138.0 205.0 139.7 225.8 130.5 157.4 168.3 191.8 146.1 136.5 155.1 159.5 132.9 174.4 126.7 204.4 166.5 212.8 143.8 129.9 152.5 155.0 125.1 220.3 196.7 230.7 161.3 196.2 193.1 230.6 150.9 186.2 148.7 192.8 187.0 211.8 151.9 200.5 128.5 224.2 122.4 178.6 160.8 198.0 136.9 139.4 159.9 248.1 177.0 164.3 173.9 158.3 155.0 166.4 171.3 208.4 158.7 202.6 138.2 152.7 188.5 189.7 145.8 232.3 143.3 207.8 162.9 154.9 136.0 159.0 118.5 162.3 146.5 228.2 146.0 124.1 139.9 136.0 153.2 188.5 206.3 144.4 119.5 210.0 127.0 211.4 171.5 127.7 116.7 161.1 177.4 210.7 158.9 154.0 166.2 157.0 144.4 215.4 123.1 183.1 145.5 164.3 156.0 197.2 147.0 171.1 146.0 164.6 169.5 188.1 115.4 130.3 104.6 188.1 106.0 201.7 170.8 198.9 174.3 174.2 147.0 182.0 175.2 195.6 144.5 142.1 156.0 188.3 137.7 162.5 127.6 165.4 120.2 170.8 173.5 195.6 158.6 212.1 170.2 141.7 129.6 129.1 156.1 160.8 157.7 238.6 94.2 159.7 151.9 156.4 179.2 200.3 160.3 187.6 129.4 239.1 169.1 169.4 170.2 167.3 145.5 144.3 148.5 186.4 198.7 210.5 185.9 177.8 150.6 184.5 127.7 142.2 172.4 134.4 163.0 191.8 155.4 230.6 131.5 119.3 122.6 198.7 142.8 222.1 147.0 194.9 133.0 203.7 163.1 138.5 140.8 233.4 127.6 163.8 179.0 129.5 156.7 156.1 112.0 133.2 125.0 131.7 146.2 211.5 166.6 139.8 173.6 256.5 125.3 124.7 146.3 148.6 181.8 247.7 65.4 199.4 187.2 235.2 168.0 182.2 139.0 177.0 113.0 128.6 202.7 221.6 150.9 195.9 111.0 166.1 133.8 170.6 132.8 143.1 139.4 171.9 151.7 157.3 170.0 196.8 140.4 131.3 154.1 187.9 162.8 180.6 159.4 179.0 147.8 136.4 163.1 225.8 148.2 170.2 150.7 152.8 136.3 187.3 194.8 143.2 131.6 121.8 155.9 144.9 123.2 160.2 112.3 210.7 171.1 129.5 140.4 196.3 145.4 147.0 177.3 133.6 141.0 184.9 190.4 150.0 161.4 142.5 105.3 141.7 149.4 128.9 107.3 174.4 138.4 145.5 198.7 147.6 147.3 172.5 155.8 150.8 141.7 211.0 164.3 178.7 132.5 206.8 173.9 163.3 111.8 139.7 140.8 128.3 123.7 157.1 142.5 179.7 154.2 163.3 126.9 163.5 123.2 207.9 97.7 176.9 181.9 191.5 148.8 171.1 162.9 130.6 140.9 189.3 146.5 176.2 170.7 185.4 139.8 168.8 139.2 163.5 146.8 200.1 181.1 186.2 135.9 186.2 137.2 158.1 137.2 160.7 174.3 203.2 152.0 196.3 121.4 156.5 151.5 165.6 153.0 161.9 159.5 174.0 160.1 205.4 192.3 191.4 158.2 137.4 185.5 193.2 92.4 168.3 148.4 197.9 179.3 134.6 153.3 220.4 158.6 148.2 150.5 197.0 138.1 161.8 154.9 134.1 135.8 161.0 187.6 225.7 150.0 143.0 141.4 166.7 116.8 217.0 124.6 181.3 179.6 219.1 168.7 137.5 158.5 197.6 167.2 174.7 137.3 164.4 153.8 204.2 131.6 237.4 155.7 216.7 131.2 214.4 171.2 184.8 141.9 171.8 102.9 212.6 163.0 115.3 139.9 193.4 127.6 160.0 144.3 170.4 154.3 257.3 159.9 183.8 130.3 155.7 163.2 233.8 167.5 212.1 121.9 164.8 184.6 221.0 127.1 204.6 102.5 203.8 112.6 135.1 155.3 195.2 187.4 127.7 150.0 202.0 129.6 240.9 150.8 119.0 170.9 197.7 125.3 158.4 173.3 154.2 130.0 175.6 112.5 202.9 162.6 145.9 168.2 142.1 209.1 211.1 122.8 201.3 166.3 179.1 169.0 175.2 147.3 196.3 161.3 220.2 160.5 172.0 146.2 197.9 162.3 186.5 186.5 167.2 183.0 241.9 156.0 199.8 101.4 164.1 154.5 169.9 117.1 148.2 138.8 200.8 153.2 171.4 176.3 148.7 177.2 222.9 170.9 161.0 125.7 120.0 216.8 158.2 107.7 194.2 155.3 151.7 121.3 185.4 166.9 152.7 115.0 185.0 163.4 240.2 127.4 166.7 177.4 117.3 145.1 178.4 177.0 197.8 173.2 177.0 143.1 141.4 171.2 178.6 110.4 111.1 197.4 107.4 158.0 216.0 151.2 175.0 163.0 176.8 136.5 134.2 155.1 194.2 129.2 159.4 134.3 153.0 99.3 166.4 142.1 123.1 155.1 199.0 172.6 163.4 146.7 181.0 151.6 162.5 140.9 155.6 137.1 127.7 126.1 157.5 138.2 213.4 172.5 205.1 147.3 179.0 147.2 198.8 139.3 220.9 163.3 162.8 158.0 250.6 146.7 219.7 143.5 203.6 176.5 215.2 156.6 183.0 188.7 193.8 170.6 197.1 190.9 212.3 190.3 172.5 158.7 156.0 140.7 112.3 142.0 234.1 181.8 217.9 142.0 222.7 174.6 253.6 177.6 118.5 137.8 203.4 160.2 222.9 154.3 159.5 150.5 129.6 125.8 185.0 146.3 197.2 164.8 128.7 143.0 237.3 184.4 150.7 135.4 194.0 156.2 207.0 147.1 142.7 148.3 209.7 147.6 160.8 182.5 155.9 132.4 205.9 159.8 106.1 158.4 174.6 171.0 168.1 190.5 180.1 137.7 189.4 180.0 183.4 146.0 105.9 161.5 155.0 189.6 241.0 108.6 159.4 166.4 221.7 145.0 172.5 92.1 183.1 130.4 131.9 151.6 210.1 126.9 204.0 182.1 146.5 151.7 129.4 148.3 222.5 143.2 115.4 131.9 200.1 193.2 137.2 165.8 250.5 122.5 162.5 166.9 175.0 133.8 160.3 155.4 158.5 144.0 174.4 217.8 159.8 140.8 100.2 127.7 161.1 111.7 190.4 167.4 182.9 139.7 253.0 158.9 186.8 111.3 193.3 153.9 119.5 149.6 216.6 186.6 97.3 123.3 198.2 133.6 143.5 183.7 173.2 175.1 179.1 162.0 191.6 142.4 160.1 133.0 243.3 146.6 199.1 172.3 190.6 104.2 157.3 184.3 186.9 131.2 132.2 151.1 242.7 146.8 111.6 164.2 177.7 150.8 108.7 181.6 180.2 149.8 184.3 147.5 177.2 143.4 202.3 134.9 210.2 113.0 167.6 158.6 142.7 118.0 167.4 144.4 197.3 150.2 195.7 173.6 223.8 142.4 158.2 146.6 163.3 114.0 134.6 183.2 232.6 187.7 164.2 175.6 128.7 172.5 110.2 105.0 147.1 171.1 183.7 168.8 127.5 155.7 120.6 130.0 118.0 157.2 151.2 166.2 206.0 123.6 165.5 145.0 174.4 149.6 158.9 133.9 197.5 112.9 229.1 163.6 130.3 143.1 212.0 159.2 234.0 188.7 210.7 167.8 136.4 142.6 189.9 139.5 159.5 172.6 156.4 174.5 171.6 149.1 257.5 155.6 200.4 161.1 126.0 181.1 211.4 138.6 194.2 167.5 186.5 172.8 210.5 115.4 192.2 152.3 211.9 175.9 169.5 221.3 156.7 114.7 146.1 126.2 129.4 155.0 115.1 139.2 181.4 135.8 175.3 170.4 168.8 152.7 130.9 171.1 155.2 175.1 228.5 127.9 206.0 172.4 163.0 193.8 193.5 179.4 185.9 123.6 173.6 135.5 190.2 180.5 223.7 192.1 220.8 98.6 156.2 118.4 169.6 141.7 190.4 148.1 207.4 128.2 210.6 120.6 256.5 185.6 231.7 160.0 139.4 175.7 170.2 143.9 159.5 188.3 105.0 126.0 208.5 149.8 168.8 117.8 135.9 151.5 219.6 130.4 231.5 88.0 183.8 143.7 169.8 167.1 170.0 120.9 174.5 120.3 147.2 133.8 211.8 145.6 148.7 178.5 118.9 129.4 145.9 175.5 208.0 185.1 205.2 174.2 163.5 197.0 113.4 142.6 187.2 185.0 214.0 181.7 180.5 168.7 194.4 140.7 207.4 113.2 121.8 182.0 181.6 184.0 155.7 109.4 190.2 158.4 222.9 147.1 145.8 105.2 157.1 156.5 180.7 149.6 121.4 163.8 228.4 145.5 160.4 149.8 223.9 156.2 133.7 174.0 234.9 96.6 187.5 134.6 173.3 161.5 208.0 140.7 112.5 159.8 141.3 144.0 173.4 170.5 114.9 143.4 230.7 99.4 170.8 151.1 228.4 177.8 222.5 157.1 189.3 130.7 161.8 134.1 176.7 176.1 126.7 174.2 116.9 165.9 189.9 130.0 174.8 148.2 176.2 130.2 114.5 137.2 156.2 170.6 183.9 138.2 200.3 147.8 172.1 157.8 240.4 146.5 185.4 192.1 173.5 162.1 129.7 171.0 181.6 155.7 161.3 140.3 187.3 183.0 212.8 125.2 212.8 132.6 208.4 145.6 241.6 197.5 195.4 150.8 162.2 124.1 186.5 194.2 237.0 161.5 168.9 147.9 158.2 150.8 159.2 143.8 219.6 167.4 178.1 136.1 213.6 165.1 212.4 176.4 213.8 144.5 157.7 167.2 176.7 144.7 152.9 145.0 222.7 161.5 169.0 113.5 177.0 155.4 230.5 115.9 195.5 170.2 212.3 131.2 155.2 142.9 198.4 207.5 155.9 176.9 221.4 195.6 226.6 129.9 206.9 166.2 124.2 153.0 188.3 136.5 227.8 160.0 211.6 159.4 172.7 171.6 208.8 188.8 197.3 149.0 135.3 184.3 213.1 140.6 205.0 133.5 195.7 145.5 189.2 164.4 214.6 174.2 120.3 121.2 171.5 175.9 178.7 159.1 162.9 156.7 118.5 105.8 130.4 137.7 148.0 159.9 105.7 157.8 162.5 172.5 172.9 140.4 227.2 144.5 219.4 143.6 158.3 174.1 227.6 178.2 164.7 136.0 144.5 199.1 169.6 117.3 225.3 159.5 178.5 140.9 214.5 157.7 169.9 146.2 159.1 153.8 141.5 158.0 171.3 145.4 207.3 160.3 171.2 195.6 145.0 181.4 175.5 120.5 151.2 161.9 183.3 163.9 143.5 132.2 161.9 196.7 197.6 176.3 179.9 139.8 170.7 157.0 229.1 157.6 213.3 168.1 160.2 153.5 221.2 156.1 172.7 171.4 167.1 177.1 215.5 170.0 201.7 192.7 198.8 161.2 218.2 157.9 135.0 124.4 229.7 153.9 160.9 191.1 203.9 162.1 177.2 133.4 187.8 114.1 142.3 130.3 193.0 143.6 232.0 164.3 232.6 168.3 209.7 209.3 225.9 163.6 185.8 156.1 152.2 129.3 220.7 152.0 171.0 164.0 162.6 156.8 238.1 138.0 210.7 130.1 100.9 167.8 194.9 137.3 243.2 143.4 222.0 166.0 255.4 144.3 202.5 147.7 216.0 143.7 193.0 171.2 179.1 108.5 176.7 174.5 110.4 154.8 158.9 179.9 197.3 165.7 194.1 108.2 165.3 126.5 182.7 167.3 206.7 179.4 168.7 170.9 210.5 100.0 157.6 191.1 183.1 129.3 194.5 129.1 179.9 172.9 213.3 131.3 103.9 118.6 150.6 170.9 167.9 143.0 221.0 155.2 179.3 138.2 153.6 170.1 227.6 135.9 193.6 134.0 210.2 192.0 209.8 181.7 160.1 155.5 211.1 124.0 204.3 171.9 152.1 158.8 154.0 170.8 154.1 139.1 160.5 148.7 164.6 180.8 226.5 113.9 193.7 130.6 123.6 160.6 202.1 144.6 199.3 144.3 186.5 162.2 189.9 114.5 241.7 130.5 166.4 169.9 188.5 135.5 211.2 155.1 208.7 131.1 152.2 118.0 186.4 141.7 204.3 154.7 188.1 140.1 223.9 134.1 197.0 152.6 190.3 174.2 157.2 140.8 189.9 179.0 127.8 146.8 167.9 147.7 179.7 108.1 163.5 154.1 137.7 144.9 180.4 145.1 263.0 169.6 141.0 170.4 180.5 142.3 148.5 169.0 191.0 175.1 200.2 157.3 165.3 137.6 164.2 190.2 230.8 102.9 157.6 150.0 155.5 171.5 139.5 153.7 225.8 119.2 223.5 194.2 220.5 153.7 143.6 164.2 160.2 134.9 179.9 147.3 196.6 113.6 164.5 180.2 157.5 126.7 231.0 122.8 137.0 115.3 195.2 184.9 206.8 145.8 144.4 132.7 198.8 160.9 169.8 150.5 143.4 144.1 150.9 156.9 218.7 186.2 134.5 165.9 212.0 152.5 130.7 130.4 198.4 159.8 159.7 190.2 189.1 133.8 181.8 165.8 175.8 153.6 137.0 181.7 195.1 152.5 196.0 151.5 208.9 156.7 235.9 172.3 237.8 161.4 227.3 177.3 159.5 149.8 206.4 188.1 197.6 157.8 141.1 111.2 139.3 167.5 155.3 139.1 145.4 143.5 172.3 131.1 163.1 152.4 204.6 153.5 176.7 150.3 226.1 158.4 241.5 136.3 161.0 180.5 192.4 154.2 143.5 159.5 140.8 125.0 129.2 151.5 158.8 112.3 165.0 152.1 185.4 125.0 171.3 184.1 182.3 161.6 164.4 144.6 201.0 110.4 162.2 153.5 150.9 144.0 218.8 130.2 170.7 141.6 143.2 195.0 208.8 117.7 141.3 143.1 184.2 152.3 174.5 151.6 175.6 130.8 140.5 116.9 203.4 169.8 184.4 148.4 180.4 140.3 193.9 126.0 175.5 148.1 201.7 83.3 157.0 147.5 198.0 155.0 148.0 181.0 191.0 139.4 171.7 101.4 177.3 183.3 204.0 161.3 227.0 125.3 197.0 170.7 162.0 133.0 150.2 189.4 195.8 146.9 153.1 175.8 129.3 200.8 137.5 168.2 176.0 120.6 216.6 141.5 142.9 144.1 159.7 115.6 172.2 113.0 142.4 147.3 188.7 165.4 232.5 143.3 232.8 116.6 160.2 178.5 202.2 162.7 197.2 164.1 210.9 114.0 206.0 164.4 156.0 150.4 140.2 119.4 113.0 118.8 138.5 139.0 185.9 172.3 213.3 135.6 164.6 187.9 186.2 133.2 125.3 143.1 139.5 120.7 223.6 139.4 176.4 166.3 155.8 160.8 242.8 189.5 149.5 99.6 230.4 120.7 169.9 143.0 165.6 154.5 214.2 167.2 187.9 167.9 196.9 193.8 204.8 147.2 212.3 157.5 173.5 151.2 214.4 168.5 232.5 153.6 106.4 147.5 220.3 154.8 213.7 171.2 165.7 134.0 150.7 158.2 191.2 205.4 167.6 128.5 157.4 190.6 181.1 155.3 149.9 156.6 189.3 162.5 223.5 169.6 228.6 125.4 222.7 170.3 170.5 170.5 185.8 155.7 201.3 138.3 251.6 134.7 213.9 129.9 184.8 168.1 188.1 142.6 135.9 130.1 191.2 133.7 147.9 158.0 230.3 143.6 241.2 150.6 151.5 153.0 183.0 164.7 132.0 122.2 132.9 172.3 166.3 123.9 181.0 106.9 191.4 113.4 218.7 177.6 166.6 148.8 222.3 115.6 143.6 167.1 147.6 111.4 132.2 158.4 210.7 170.3 99.7 110.1 148.3 133.9 164.9 117.8 233.1 128.3 121.8 188.6 238.7 166.3 170.3 179.0 126.2 159.5 180.0 148.9 210.2 159.1 146.3 196.4 173.6 187.9 172.3 165.9 198.4 147.8 162.5 160.6 153.4 189.8 144.9 150.7 235.4 138.2 227.6 161.4 196.6 128.1 159.8 159.2 158.8 128.1 139.4 180.9 127.9 169.2 111.3 160.4 184.1 145.1 193.8 132.5 177.4 185.2 198.3 132.5 179.9 142.7 181.6 187.3 174.2 123.9 162.3 162.3 185.4 153.8 153.3 156.8 121.9 197.6 180.4 161.4 133.9 158.3 226.8 127.2 133.1 148.8 200.3 148.6 168.4 161.6 127.4 140.8 175.9 155.8 139.9 140.4 240.1 145.6 211.1 188.3 165.6 117.2 199.5 171.7 169.5 173.3 161.9 145.3 128.2 122.5 228.9 182.0 141.8 172.8 147.7 130.3 156.5 155.9 147.2 147.3 180.1 142.1 182.4 141.9 167.4 109.2 165.7 159.8 137.2 84.3 161.4 146.2 184.3 159.9 187.4 141.3 230.1 133.4 172.0 149.8 181.2 173.8 187.1 160.5 182.5 119.4 183.4 179.6 187.6 171.7 161.7 151.0 196.4 153.1 150.9 123.6 165.2 130.3 139.1 128.1 212.8 162.2 218.1 173.9 216.7 159.9 187.2 167.1 151.2 165.1 148.6 89.0 218.4 183.4 194.6 186.7 177.8 132.7 196.4 162.3 131.0 143.2 247.9 149.8 109.7 175.1 213.9 196.4 156.6 192.2 175.6 164.3 183.2 143.9 222.2 140.9 229.8 154.5 180.8 154.7 205.2 195.5 183.6 142.0 178.6 169.4 172.7 163.2 227.0 182.8 173.2 122.0 220.2 156.8 189.2 141.6 236.6 116.4 132.8 151.0 203.3 125.8 189.1 149.1 198.1 118.9 129.3 171.5 185.9 137.0 123.2 150.2 235.0 132.8 189.9 178.4 171.3 157.9 192.4 156.3 181.5 163.8 179.8 125.6 119.7 151.1 169.9 146.8 174.9 127.4 158.7 134.0 146.1 102.0 222.1 104.5 155.8 163.9 201.7 151.6 200.2 105.9 165.5 183.8 136.7 143.6 204.1 138.7 151.3 163.5 151.9 125.3 209.6 161.2 167.5 156.3 192.9 181.2 250.3 127.6 204.2 159.5 213.8 140.4 186.2 146.0 212.9 140.8 178.8 136.8 141.8 133.3 203.0 135.0 184.4 188.2 153.4 141.7 202.4 152.6 175.3 114.5 102.2 163.9 230.6 141.7 157.6 133.3 183.0 164.9 130.1 159.0 268.3 147.8 166.1 165.5 129.9 131.9 160.8 167.7 183.4 176.5 156.9 125.6 225.7 155.2 205.6 160.1 137.6 127.2 164.5 138.4 182.2 119.7 164.3 125.0 171.5 178.4 120.6 159.2 232.8 176.5 160.0 120.8 258.4 155.4 241.7 140.5 131.1 132.4 139.6 177.0 191.6 125.7 131.6 148.9 124.4 178.5 190.2 165.3 159.3 160.1 196.1 131.6 235.1 165.1 239.6 146.6 168.8 124.0 231.9 151.3 132.2 115.3 153.5 168.9 220.6 135.9 163.6 179.1 211.3 133.9 163.3 181.3 150.0 187.3 163.5 126.7 172.3 123.1 168.9 120.6 153.9 113.8 145.3 163.8 171.4 121.1 213.0 159.0 192.2 93.4 164.5 135.5 168.9 146.9 155.5 128.1 198.4 142.9 135.5 170.6 193.3 174.3 193.4 156.6 193.9 153.5 218.9 161.6 177.3 157.3 91.0 132.3 184.6 175.3 222.2 171.9 204.5 142.1 147.5 166.9 166.0 174.5 144.9 151.7 177.6 145.4 189.1 148.7 211.2 149.8 115.5 116.2 199.8 165.2 177.6 183.4 210.4 100.2 168.4 143.7 153.2 137.9 136.3 141.5 234.5 157.9 177.9 187.5 192.7 180.7 205.5 220.7 155.7 182.5 107.4 158.9 211.8 165.0 150.7 178.4 191.0 147.7 202.0 119.9 217.9 114.0 163.3 106.0 183.6 145.7 244.9 157.5 157.7 164.9 164.9 146.9 214.6 165.4 188.1 175.5 185.2 146.3 150.5 167.9 100.9 187.8 225.4 111.3 209.8 151.5 178.9 149.5 180.2 181.0 218.1 129.0 183.3 169.3 144.5 195.2 155.8 179.6 161.7 145.7 195.8 153.0 130.3 148.1 121.6 155.4 193.7 138.8 237.9 105.2 142.5 147.4 171.7 155.8 212.0 160.7 190.5 161.9 216.4 148.8 223.2 132.0 147.6 142.3 177.6 161.2 216.7 158.4 206.5 140.4 194.0 143.0 151.8 144.0 177.8 144.3 145.7 156.0 193.8 161.7 166.6 179.5 177.3 148.4 190.7 142.5 278.7 142.5 175.6 161.7 171.7 150.1 152.2 163.3 147.9 158.4 171.3 145.4 213.0 155.7 102.2 119.3 102.7 151.1 162.5 174.5 215.1 161.9 192.0 148.0 199.0 158.5 155.0 165.8 233.7 164.2 176.5 184.6 134.5 171.2 190.3 139.0 191.2 143.6 170.4 170.5 222.4 192.3 150.9 171.2 148.6 126.3 216.7 171.5 161.3 174.4 134.7 154.4 104.2 152.5 184.5 195.4 152.6 141.8 228.8 157.3 145.6 145.9 139.1 145.0 144.4 103.0 142.9 147.3 183.5 165.5 216.8 190.0 126.3 101.3 124.6 162.0 168.4 131.1 195.3 122.4 160.9 169.9 150.0 138.1 134.2 161.1 132.6 145.4 193.0 173.1 201.3 146.2 145.2 123.6 143.9 177.3 248.0 186.3 241.9 121.6 210.0 132.3 194.6 124.2 197.2 150.2 184.6 149.3 186.1 118.5 233.9 112.0 174.0 138.4 207.8 152.7 127.7 134.6 158.5 150.3 114.1 150.9 171.3 157.6 86.8 157.4 143.5 160.9 178.5 189.7 225.9 154.1 131.3 149.5 179.2 139.4 171.1 168.3 136.0 139.1 171.6 133.5 140.9 194.5 137.2 153.9 219.8 128.5 132.4 142.7 162.8 164.7 199.5 188.8 204.5 173.3 135.2 168.1 200.1 160.7 153.5 97.9 162.1 153.2 133.7 108.2 167.8 167.1 198.3 137.1 140.1 148.8 221.8 148.6 195.0 171.1 183.2 174.5 216.1 165.8 194.4 98.3 136.6 160.5 203.9 143.3 195.3 164.6 170.6 142.3 201.6 133.8 210.3 119.4 184.1 142.4 142.6 127.9 184.8 134.7 140.7 151.4 199.7 148.5 99.5 144.9 99.4 158.8 214.3 154.7 188.6 146.8 143.2 112.4 175.1 98.5 153.6 172.2 226.8 133.0 190.9 164.8 177.5 130.5 165.0 138.1 109.2 114.5 200.9 154.1 164.6 156.1 215.0 171.2 141.5 138.5 181.4 154.9 165.7 157.8 152.8 131.7 138.9 166.6 229.1 157.9 174.2 176.8 133.7 133.3 150.1 149.1 245.3 153.5 169.3 158.7 221.6 143.5 160.1 94.4 143.1 150.3 139.5 115.2 185.8 116.5 210.5 150.3 183.3 151.9 159.1 117.7 178.6 190.7 264.2 221.4 174.5 164.1 156.2 181.5 209.8 113.5 164.8 146.4 221.3 127.2 167.6 170.2 146.5 143.0 111.0 162.9 176.7 163.4 181.6 145.3 176.1 146.9 154.8 152.7 159.4 185.9 211.6 164.0 126.1 137.9 171.3 138.8 212.1 158.3 172.6 166.1 215.9 141.0 207.4 182.5 267.4 191.4 208.7 192.4 160.9 188.3 88.6 188.9 171.2 188.4 168.8 132.3 187.2 120.2 128.8 115.5 218.3 188.3 217.7 161.7 138.5 136.1 151.4 147.2 211.8 149.5 161.3 215.1 183.3 168.5 153.5 190.5 206.1 185.8 170.0 162.9 156.9 140.2 141.9 192.0 177.8 140.0 119.5 180.7 224.0 141.9 153.8 124.5 204.8 157.1 130.1 184.5 192.1 159.2 226.1 149.4 208.7 142.0 184.7 142.1 230.6 159.5 188.9 141.3 208.3 165.4 220.6 123.6 179.8 144.7 155.2 138.2 223.6 120.8 173.8 211.0 179.1 188.3 194.9 156.7 172.1 172.7 96.0 127.5 215.0 138.6 213.5 114.8 134.9 146.7 164.7 145.1 97.6 183.0 190.9 102.5 145.5 123.5 182.1 141.2 208.8 147.0 166.5 134.9 165.5 130.7 117.5 149.1 188.2 152.0 141.8 140.1 150.0 84.0 139.7 160.9 189.6 135.2 161.9 175.1 214.5 182.2 213.0 149.5 171.3 146.3 131.0 165.4 171.3 153.3 196.8 131.6 181.8 133.7 164.0 161.2 154.7 133.4 218.3 151.6 203.2 143.2 186.4 152.2 197.5 157.2 174.7 151.4 241.9 135.0 171.1 140.8 199.2 153.4 201.2 112.0 163.7 136.9 191.2 138.4 150.2 144.0 129.5 128.4 165.4 141.9 168.6 117.7 168.6 154.3 173.3 175.0 182.4 109.0 196.1 165.6 148.8 187.7 207.8 145.7 123.7 173.5 155.1 107.4 137.3 100.4 200.1 139.8 175.4 178.8 207.4 179.4 219.6 165.8 161.6 142.1 163.4 138.2 94.6 108.3 187.6 176.9 188.6 138.9 177.1 151.9 147.6 166.9 202.3 145.4 188.8 154.9 143.4 129.6 174.3 177.0 129.7 164.8 252.2 132.2 183.2 134.6 196.2 121.4 207.9 120.8 160.7 184.0 160.7 128.3 172.3 197.6 217.5 188.9 199.8 196.8 168.5 125.0 181.2 176.7 85.9 95.5 109.8 147.8 184.9 161.2 230.6 147.2 141.0 149.4 199.5 162.7 195.0 171.6 126.0 151.4 141.5 111.5 149.3 116.1 156.6 150.3 196.0 156.3 225.5 186.6 185.6 165.8 206.3 147.8 141.8 174.0 228.5 154.1 173.9 159.7 123.9 156.5 109.3 177.8 189.2 164.8 214.0 187.2 145.4 130.1 113.8 174.1 111.8 142.3 195.6 128.4 211.9 159.7 157.0 120.5 197.5 153.4 196.9 161.4 169.4 120.7 206.7 151.0 158.5 165.4 203.7 109.2 141.8 153.1 199.2 170.2 239.4 121.0 104.2 127.0 154.2 156.3 247.5 93.9 180.4 165.7 103.8 149.9 145.0 112.9 182.0 199.6 200.2 133.0 152.6 123.2 156.6 142.1 167.1 175.5 173.1 155.1 174.0 197.8 103.7 164.8 193.7 187.0 162.7 157.6 116.7 168.2 213.9 98.8 112.2 162.9 153.2 150.5 190.3 152.8 133.5 154.3 149.6 131.1 210.3 195.9 139.5 149.7 208.0 148.2 133.2 201.0 178.9 162.8 238.0 140.9 169.4 158.1 147.6 179.0 156.9 144.3 215.2 129.2 198.0 140.6 149.0 188.4 235.1 142.7 143.0 169.6 132.4 137.7 143.0 168.0 179.9 151.6 183.7 138.7 135.4 144.9 167.8 181.8 161.3 168.2 181.6 155.5 192.8 168.8 175.6 150.7 202.3 132.2 190.0 169.9 143.9 105.5 210.3 166.3 173.4 150.7 138.3 147.2 178.1 157.0 232.2 145.8 202.0 164.9 180.6 162.2 161.9 143.1 190.3 173.1 146.4 115.1 118.1 136.7 167.0 153.7 164.6 146.5 180.6 101.7 159.9 139.4 190.5 166.2 164.5 115.7 189.1 165.1 152.0 129.7 219.0 132.7 225.0 114.4 175.8 181.0 135.5 167.0 190.1 187.0 126.9 169.2 219.3 141.4 236.2 137.4 131.7 179.2 177.0 169.0 172.7 138.5 200.7 151.2 166.2 155.0 191.0 147.4 174.2 142.2 149.4 157.1 184.8 134.4 167.8 133.1 223.5 153.8 244.7 141.7 165.4 135.9 136.1 140.5 134.6 139.6 206.9 166.7 208.2 171.1 91.4 135.7 157.4 153.5 130.4 140.9 129.1 138.0 206.6 165.0 227.4 152.0 192.4 170.9 101.3 165.7 143.7 124.7 188.1 106.8 191.1 88.8 133.4 139.8 231.1 148.5 213.6 171.5 193.4 106.4 210.4 160.1 167.8 150.1 234.0 160.4 210.7 148.0 187.3 125.7 164.3 154.2 157.4 145.6 177.7 134.9 180.1 168.5 192.0 156.2 179.6 119.8 208.6 135.8 187.7 162.4 185.2 169.3 157.4 133.3 161.2 162.1 218.9 143.6 143.8 151.5 176.2 164.5 133.4 136.4 138.4 126.8 190.5 148.8 165.3 109.8 113.2 157.3 159.7 169.1 191.5 108.1 189.1 140.2 143.0 211.1 236.2 173.8 200.0 143.0 171.4 197.3 157.1 146.7 216.8 122.4 202.0 152.1 186.2 141.8 207.0 125.6 113.9 138.3 186.7 170.8 222.6 116.2 199.9 164.4 175.1 132.8 183.0 164.7 168.0 135.6 180.4 138.9 123.6 177.6 200.2 124.2 172.6 143.9 202.5 161.7 240.1 179.4 141.3 164.6 134.8 166.6 140.6 112.8 157.4 158.4 200.4 118.6 243.9 172.0 146.2 197.9 154.0 147.3 166.1 188.0 200.0 155.8 208.5 143.8 224.3 140.1 181.5 201.3 205.3 145.6 121.4 206.3 183.2 169.9 185.7 188.9 133.9 166.9 224.4 127.7 166.3 180.0 211.8 149.9 172.2 139.0 202.0 131.6 235.3 137.9 207.1 166.6 212.0 121.4 215.1 170.5 137.6 124.1 168.7 156.6 228.4 150.8 164.8 178.9 176.1 134.7 202.6 154.0 192.4 101.1 139.0 129.8 241.1 144.4 154.1 163.0 231.6 199.9 200.6 150.1 169.9 168.8 162.4 178.0 231.7 112.0 154.5 106.3 198.8 94.5 163.3 208.8 151.1 176.5 184.0 138.3 200.0 132.8 126.7 167.8 151.1 121.4 210.5 158.2 180.2 150.4 200.1 174.8 169.4 137.1 162.4 120.2 159.7 148.6 188.6 180.0 180.5 182.8 187.4 170.7 224.8 165.3 229.7 134.3 132.5 101.8 94.4 162.8 173.4 124.7 172.7 186.0 161.3 138.5 169.8 119.1 154.5 139.4 169.8 161.9 230.9 151.7 211.1 167.2 170.7 177.5 210.8 135.3 123.8 173.5 128.5 159.3 175.0 173.5 135.0 124.8 194.5 167.6 197.1 186.0 148.4 190.9 220.5 111.6 145.7 147.2 130.8 150.3 233.1 128.3 179.7 125.8 240.0 206.1 197.7 110.8 179.2 127.9 183.1 116.8 178.9 151.1 247.1 154.6 150.2 150.0 163.9 178.8 247.2 166.6 155.7 120.1 211.7 132.2 235.4 146.2 218.7 151.1 209.1 130.4 212.4 135.1 129.2 163.0 201.4 195.5 179.8 156.7 214.0 145.5 172.7 135.3 190.3 133.0 154.7 134.0 246.0 176.4 220.2 115.1 210.4 166.8 228.6 170.2 187.7 154.1 199.9 135.9 197.5 139.8 126.4 132.6 151.9 182.8 178.5 146.3 216.3 193.9 219.2 146.3 137.4 158.0 172.1 186.9 188.3 114.8 191.6 134.0 191.7 164.2 117.3 198.0 143.5 152.8 226.7 128.0 183.8 170.7 147.3 144.3 206.3 187.5 166.8 104.0 159.4 162.6 159.9 127.9 168.0 170.6 144.3 120.9 192.2 162.3 240.8 146.0 211.6 133.9 204.1 169.5 183.9 153.5 212.0 168.7 226.5 151.6 157.7 181.5 245.9 152.4 209.9 133.9 244.2 162.7 179.7 162.7 237.8 144.4 173.3 174.7 162.0 151.5 184.5 157.0 140.7 130.7 119.9 144.6 217.3 127.4 118.4 166.0 198.5 170.4 131.1 144.1 173.3 171.9 212.1 122.1 143.1 176.6 146.0 67.4 165.4 161.3 196.1 160.1 156.4 170.4 176.1 111.6 143.5 137.4 118.7 164.4 152.9 171.2 165.9 155.5 185.5 146.9 181.8 158.5 145.1 162.2 131.7 157.7 116.9 182.3 191.8 168.0 148.0 119.4 132.9 128.7 162.9 87.1 162.4 158.2 192.8 165.1 195.0 150.7 160.8 162.8 193.7 147.5 217.1 171.9 114.2 159.4 205.2 131.7 120.8 163.9 241.6 137.1 117.2 162.9 210.9 152.7 211.9 145.2 122.7 158.1 154.1 151.5 189.1 154.9 184.5 153.8 175.0 133.8 204.7 159.6 220.3 168.7 225.2 144.9 142.8 134.9 203.8 129.9 166.2 173.9 178.6 171.9 116.7 187.8 126.7 153.9 162.3 190.9 234.4 135.2 192.5 147.7 174.5 154.6 150.8 177.2 149.3 114.4 169.9 162.3 168.4 132.5 182.1 146.5 135.5 126.5 205.0 148.0 198.3 155.9 187.6 154.3 133.7 163.5 131.2 122.4 154.8 132.4 161.1 162.0 164.0 177.7 182.4 142.2 204.1 134.6 145.2 122.7 180.5 125.2 214.0 146.8 160.7 118.0 135.7 197.9 168.5 148.0 190.3 103.6 206.2 147.0 145.5 206.7 114.1 146.2 172.9 180.9 206.6 184.2 159.0 148.8 172.1 187.6 207.1 153.4 176.5 191.6 196.6 172.9 187.1 157.0 143.5 151.9 135.1 130.6 154.3 149.9 223.8 172.8 215.6 204.2 114.7 166.5 136.1 156.3 191.3 187.5 219.8 135.0 134.7 135.9 145.8 201.0 169.9 103.4 160.2 190.6 162.3 156.3 155.9 164.1 238.8 158.6 186.7 98.0 190.7 155.3 120.0 135.0 276.7 127.3 176.9 168.8 159.7 175.8 166.5 143.8 177.1 177.5 221.4 146.4 201.3 154.8 204.7 143.6 130.6 151.2 204.1 132.1 142.6 126.8 189.6 132.3 110.2 149.2 229.2 116.7 163.3 144.3 196.6 152.8 199.3 159.2 127.3 152.3 145.6 164.0 194.5 164.0 140.1 161.8 190.0 150.1 224.5 132.2 173.2 158.2 123.9 172.2 158.1 115.4 139.0 137.6 231.9 133.4 166.0 135.4 151.3 157.3 208.8 169.0 194.8 112.1 207.1 150.8 175.8 160.7 223.8 156.0 233.9 107.8 141.0 92.9 147.8 134.8 194.8 103.9 165.8 161.5 160.6 137.9 128.7 152.5 174.3 151.4 184.7 165.2 218.2 129.1 179.2 160.8 158.8 154.7 175.0 161.9 166.4 177.0 180.0 139.2 161.3 145.7 167.4 121.6 162.8 120.7 227.3 145.2 186.0 160.5 187.4 119.4 205.6 132.3 161.5 142.0 174.6 166.7 168.3 171.7 225.2 142.7 155.7 173.1 106.6 139.4 251.3 130.2 133.5 132.9 211.0 116.6 211.8 93.8 188.5 132.7 202.7 184.5 206.4 140.8 156.2 116.8 127.1 145.2 214.5 116.8 160.6 173.4 175.6 131.2 144.0 187.6 208.8 101.2 150.5 174.3 195.5 166.8 166.4 160.9 136.6 162.4 151.3 182.0 193.6 163.4 210.0 151.9 144.2 139.0 140.4 167.2 142.4 147.2 232.2 176.8 237.2 140.4 152.8 136.0 194.8 149.7 154.7 145.7 167.6 133.0 196.8 147.8 175.4 176.5 206.0 156.5 173.8 127.6 163.4 166.2 185.5 144.8 248.9 172.5 185.4 132.7 222.5 137.7 166.1 195.2 169.3 110.0 198.3 133.7 185.8 131.7 138.1 141.0 115.0 151.1 135.2 122.5 197.2 154.5 150.4 157.6 165.6" fill="none" clip-path="url(#ka)" style="marker:url(#a5)"/>
<path d="M116.3 128.3 168.2 244.6 154.5 50.1 79.2 167.2 138.9 72.5 20.8 157.6 99.6 187.5 169.6 211.2 149.5 108.2 153.1 198.7 124.6 95.9 155.4 194.3 178.2 210.1 109.9 148.6 169.7 186.7 151.6 249.4 238.6 231.6 168.4 218.1 59.5 124.4 140.2 172.3 133.3 239.3 205.0 130.4 209.3 139.0 181.7 46.4 193.5 237.8 163.6 170.3 161.4 112.7 184.7 219.5 124.8 273.2 211.9 313.4 209.7 206.4 144.4 220.6 200.9 216.3 190.6 165.2 152.8 267.4 156.4 127.6 165.2 198.9 176.0 124.2 203.6 244.3 175.0 134.5 178.6 73.2 145.4 261.9 218.7 131.0 149.6 272.4 187.3 248.9 207.9 150.8 145.0 198.2 185.5 175.1 159.3 209.1 135.2 174.0 190.1 319.2 145.9 148.6 230.4 250.8 238.3 143.8 131.7 220.9 169.3 213.6 210.8 184.8 153.4 197.6 169.1 264.1 182.2 196.9 197.8 203.7 161.4 174.8 135.5 134.0 161.4 126.1 24.8 151.4 110.0 211.6 147.8 78.1 128.1 133.6 166.5 265.5 106.0 240.2 191.2 258.1 153.2 173.5 129.0 266.5 177.1 167.0 150.1 193.3 232.4 195.7 213.1 224.0 245.0 142.5 222.9 382.0 170.9 157.5 45.3 283.3 252.0 165.8 91.5 237.1 112.9 141.2 145.8 123.1 157.2 210.2 191.5 191.2 182.2 89.0 107.8 182.3 175.3 289.5 129.2 198.1 126.4 175.4 162.4 178.7 184.0 123.5 231.6 290.6 191.0 144.0 197.9 191.3 175.9 305.8 129.8 191.4 154.3 35.2 98.6 156.5 174.8 231.2 92.6 157.1 161.7 232.2 121.9 240.1 112.5 205.9 143.6 241.6 135.7 207.8 183.8 152.4 149.1 213.3 251.5 197.7 218.6 162.7 182.9 184.3 64.4 214.0 138.1 172.8 138.6 201.9 217.0 231.5 178.1 286.8 198.0 197.1 77.9 276.8 293.8 225.9 144.9 267.8 200.4 65.1 133.1 99.2 111.1 284.3 161.5 186.0 222.7 173.1 198.0 181.4 154.1 81.7 179.0 116.8 187.2 66.5 139.3 295.7 160.1 198.5 190.7 35.7 202.1 99.3 193.4 304.6 183.0 256.6 139.6 175.5 199.1 379.0 156.5 221.5 191.3 186.6 123.9 134.2 158.6 49.3 157.4 168.2 143.9 315.0 171.6 122.0 180.2 117.8 120.3 129.8 103.0 132.3 146.7 160.3 221.1 282.3 122.4 162.9 150.4 169.0 127.2 175.9 189.5 182.4 109.7 113.3 137.6 138.1 209.2 95.8 211.3 165.7 183.2 144.6 126.1 276.6 186.2 111.9 127.7 117.6 174.9 191.7 168.0 206.1 265.2 214.7 115.2 149.1 97.2 98.7 174.8 158.1 180.5 216.2 36.1 297.5 175.3 207.2 207.6 101.4 134.8 157.3 137.0 204.4 73.4 207.4 137.0 210.6 167.8 270.6 139.1 168.3 116.1 213.7 218.4 68.3 178.7 174.3 124.7 99.8 121.2 188.3 216.4 205.1 157.4 178.3 205.8 249.1 238.9 104.5 195.1 302.7 131.5 131.1 147.6 206.6 111.8 110.4 104.9 185.1 194.2 303.5 197.0 242.1 206.4 117.4 137.2 191.8 78.5 170.2 143.0 174.5 161.6 170.6 191.7 248.2 203.2 174.2 190.0 229.8 202.1 152.1 160.6 123.4 57.0 130.5 177.7 286.3 255.5 247.2 156.3 188.5 176.2 289.1 92.2 82.6 201.4 129.3 109.2 46.7 144.7 143.1 195.7 244.0 178.1 164.4 136.9 161.7 109.3 140.4 215.4 93.7 193.1 288.4 165.3 258.9 152.8 72.7 128.4 194.8 115.7 238.9 110.5 164.6 148.2 186.1 163.6 217.8 182.2 226.5 194.4 103.4 130.1 226.5 147.7 196.5 210.8 143.3 169.0 109.8 153.0 212.6 139.4 161.9 209.8 105.7 144.3 132.5 164.2 181.4 130.5 206.1 201.9 165.1 234.2 363.7 168.9 203.2 79.0 113.5 195.1 187.2 191.1 185.3 224.9 192.4 147.5 117.0 193.6 252.4 95.9 179.9 296.3 191.1 161.6 150.5 136.9 216.4 136.2 286.1 149.9 162.6 139.5 179.9 160.3 182.1 184.4 148.9 170.2 218.6 202.7 117.4 123.2 186.3 184.9 24.0 162.6 220.2 123.6 102.0 96.2 187.2 116.9 64.8 201.4 48.9 120.5 218.1 66.5 122.0 215.8 93.9 179.6 93.7 160.1 195.4 177.4 234.5 148.0 155.9 165.2 154.3 100.3 141.9 195.6 244.1 251.5 186.1 153.8 218.3 194.1 126.6 196.2 138.7 195.6 92.1 187.9 351.4 181.4 232.4 126.7 226.3 179.9 207.2 111.6 133.2 212.0 305.4 200.1 107.9 113.8 151.0 46.0 96.9 223.7 106.6 140.9 227.8 188.7 352.9 140.8 16.2 151.4 129.2 201.1 97.0 97.3 189.0 117.7 76.7 111.2 135.9 123.9 288.7 160.6 238.1 101.7 67.1 102.9 64.2 211.6 140.5 152.3 212.0 194.7 243.3 156.7 213.7 190.2 123.1 113.4 155.8 119.0 150.1 170.9 243.6 208.0 176.1 211.9 334.5 150.9 175.3 163.9 236.4 175.4 147.9 191.2 87.1 39.5 138.1 241.2 37.4 134.3 266.2 170.7 157.9 157.6 246.0 175.3 112.9 182.5 57.4 206.1 149.6 150.4 216.2 262.3 293.4 179.3 145.7 166.0 199.8 134.3 181.1 195.6 163.5 194.7 240.9 94.0 165.5 168.4 154.9 187.7 240.0 151.0 111.4 138.0 242.9 172.4 243.6 175.1 239.1 208.5 189.4 85.0 242.2 223.6 478.3 205.7 155.4 233.3 146.3 202.1 231.2 224.5 181.9 151.2 349.5 199.2 333.7 178.4 105.2 131.5 146.7 112.4 124.0 195.7 -15.8 124.4 169.1 115.4 59.3 139.8 96.1 48.1 90.1 157.5 120.8 165.6 213.9 103.3 162.8 109.2 112.8 215.1 325.7 149.1 125.0 41.4 212.0 130.9 183.4 84.6 96.2 103.3 10.9 182.1 274.1 118.0 296.8 151.7 139.7 280.4 160.2 218.3 307.8 69.7 140.5 157.0 194.1 71.0 222.9 76.9 -23.7 175.2 222.5 140.5 250.1 235.4 84.6 217.3 52.0 154.8 157.6 207.5 194.4 133.1 95.6 147.1 131.7 183.0 98.9 126.0 133.8 97.7 59.9 179.0 350.3 136.5 137.0 198.0 195.7 142.6 51.2 117.2 256.8 96.5 158.1 104.6 110.8 208.0 106.7 126.8 234.0 137.7 261.5 145.6 87.0 127.8 290.4 133.7 144.1 123.0 168.4 183.6 210.8 146.3 258.1 61.8 185.7" fill="none" clip-path="url(#ka)" style="marker:url(#a6)"/>
<path d="M520.7 38.3 521.0 40.6 519.4 42.2 522.1 44.7 523.9 48.1 522.8 48.2 523.2 50.2 526.4 52.5 527.0 53.4 527.1 57.2 526.3 60.3 528.7 63.0 515.8 164.2 511.5 168.9 510.8 168.3 510.6 171.6 505.6 173.5 503.4 174.8 501.5 175.2 500.7 175.5 499.9 175.6 496.2 172.6 494.7 174.9 492.4 175.3 441.5 127.5 440.3 126.0 440.5 126.9 437.4 125.7 434.7 125.8 434.1 125.3 430.5 124.7 428.9 125.2 427.9 121.8 424.9 119.1 509.0 105.8 509.0 105.0 510.2 104.6 512.6 100.6 511.8 101.2 511.2 96.3 511.5 94.0 514.5 92.2 514.4 90.9 439.0 95.3 443.1 97.0 444.4 93.7 446.2 93.9 449.6 92.4 449.1 92.7 450.5 91.6 455.0 90.6 455.8 90.4 458.8 88.3 459.4 86.8 462.5 88.7 488.1 103.3 488.8 103.0 492.0 103.4 494.0 101.8 496.1 100.4 498.7 101.5 500.4 97.9 501.9 98.0 505.7 98.1 508.6 97.0 508.8 98.2 510.2 96.1 514.4 95.7 514.1 92.1 517.1 93.0 517.8 93.0 474.5 237.4 477.5 238.7 478.1 237.7 479.4 236.9 483.7 236.2 487.0 236.7 486.3 234.0 488.7 233.8 492.2 236.4 493.5 234.7 497.6 233.5 499.4 234.2 502.5 69.1 500.5 71.9 499.4 71.8 497.0 70.3 494.3 69.5 492.3 68.7 490.5 71.4 487.2 69.8 486.4 71.6 484.6 71.2 482.6 70.2 479.1 73.2 478.6 73.5 476.2 71.7 473.6 70.0 472.1 72.2 497.8 103.0 496.5 100.4 493.9 99.8 495.2 97.9 492.8 93.9 494.7 91.7 494.4 90.1 492.9 86.7 493.7 88.0 513.7 24.2 517.0 22.8 519.2 23.9 520.3 25.6 521.8 24.9 525.7 25.9 527.2 22.9 529.9 23.9 530.5 22.8 533.6 20.8 536.8 20.8 537.5 22.3 542.2 23.2 488.3 84.3 484.1 84.5 483.2 84.0 481.1 85.1 477.5 85.6 407.5 109.5 409.0 110.5 409.8 107.1 411.2 107.4 413.0 102.5 525.5 132.5 525.7 134.1 519.7 133.4 519.0 135.4 518.3 136.7 517.2 137.3 514.2 138.4 512.4 142.0 509.5 105.0 511.8 104.6 514.2 102.6 516.5 101.5 519.1 101.4 519.5 99.8 522.3 101.7 526.1 99.2 525.5 97.9 525.2 95.6 529.6 94.2 473.4 72.1 473.0 70.3 472.2 68.9 468.6 70.9 465.7 67.6 450.7 99.0 449.9 101.0 451.0 103.1 449.0 106.8 448.2 108.5 447.9 111.4 447.4 113.6 446.9 113.9 444.6 116.1 443.4 118.5 443.2 119.4 441.0 122.2 486.6 -7.9 490.0 -7.3 491.8 -7.8 493.6 -9.2 495.2 -10.7 495.6 -13.0 498.4 -14.0 495.4 40.0 494.4 42.2 492.4 42.4 489.4 44.1 488.8 44.9 488.3 46.7 487.2 50.5 483.8 51.5 482.7 53.7 483.6 55.0 482.0 56.6 478.8 60.5 480.6 60.8 477.0 63.7 477.3 65.4 475.6 68.4 486.7 39.5 491.3 37.2 492.1 37.6 494.3 39.9 495.5 38.9 497.8 40.3 499.6 40.2 503.1 42.6 503.6 40.2 486.8 86.5 486.9 90.2 486.3 91.6 486.0 93.7 483.0 95.1 482.2 96.5 479.0 95.0 478.7 97.6 474.8 99.3 473.2 99.7 436.4 121.0 432.7 122.9 435.2 123.5 433.6 125.5 434.3 129.0 431.7 131.9 488.5 129.8 485.8 128.1 486.3 129.1 482.0 130.0 480.7 130.8 478.1 128.9 474.5 129.4 475.2 129.7 471.5 131.9 469.2 132.1 467.6 132.0 466.1 133.0 463.5 133.4 461.2 135.6 460.9 135.5 479.3 140.0 480.3 141.1 481.3 142.9 481.8 144.9 482.8 149.1 571.8 134.6 570.4 137.3 568.4 138.2 566.5 137.6 565.2 138.1 562.8 136.9 561.0 138.2 557.8 142.5 556.0 140.9 554.1 142.3 551.9 142.6 548.1 141.0 545.4 144.2 441.6 67.8 445.5 65.9 446.8 65.3 449.1 64.4 449.6 62.1 451.6 59.8 468.2 111.5 468.1 110.8 466.1 115.0 465.2 117.1 461.4 117.9 460.5 119.4 457.9 119.7 455.4 121.5 455.1 122.3 454.4 125.2 452.9 125.3 451.4 128.3 466.7 81.1 468.3 82.9 470.2 82.0 473.2 82.5 474.4 83.3 477.0 83.9 478.6 85.5 479.9 85.1 482.6 87.9 483.7 87.4 485.3 87.5 488.9 90.4 489.1 91.0 489.8 92.9 493.3 94.3 495.4 96.2 501.1 22.1 501.1 22.4 498.1 22.5 494.3 23.8 494.0 26.0 492.7 27.0 490.7 25.5 489.4 27.6 483.8 27.6 483.3 28.5 482.4 30.6 478.9 30.3 477.6 32.0 476.1 34.1 462.6 104.9 464.1 105.3 467.7 107.2 466.7 107.1 470.2 109.7 471.1 109.9 475.0 109.9 478.0 111.6 478.8 107.8 481.6 109.1 482.4 107.8 483.8 108.0 488.0 106.4 491.3 105.6 490.6 106.7 494.3 102.8 453.2 65.9 452.9 69.0 452.6 70.7 452.2 71.8 450.6 74.7 450.8 76.2 452.6 79.2 495.8 154.9 494.2 159.1 492.2 157.1 491.2 159.9 491.0 161.4 489.2 110.3 487.3 109.4 486.7 107.1 484.7 105.1 485.9 101.7 484.3 100.5 482.8 97.2 481.6 97.6 480.2 93.9 479.5 90.7 478.1 89.6 495.9 78.6 496.0 75.8 495.7 73.7 496.0 72.3 496.2 70.9 496.6 67.5 497.7 67.5 497.6 63.3 497.6 62.3 500.3 59.7 498.9 57.0 499.2 56.8 461.3 181.8 460.7 181.6 457.3 180.3 455.8 176.6 456.7 176.8 447.7 161.5 448.8 158.1 445.9 163.0 444.1 163.3 441.7 165.6 439.5 166.5 437.4 165.1 437.0 166.9 434.3 169.4 432.7 169.5 431.4 173.0 429.2 175.1 428.5 175.5 506.7 81.1 506.5 82.3 503.0 83.8 501.4 83.4 498.0 86.1 497.0 85.7 494.4 87.4 493.8 86.9 492.8 87.5 489.9 89.1 486.3 88.4 485.5 91.2 495.0 88.9 494.7 85.3 494.0 84.7 493.9 82.2 493.0 77.7 494.2 75.9 490.8 73.5 490.7 71.7 491.8 68.8 490.5 66.6 493.3 65.1 492.8 62.0 491.7 62.4 491.8 59.3 500.5 100.3 501.3 101.4 503.8 102.1 504.9 103.9 506.4 105.9 506.5 108.4 505.9 111.2 510.3 112.8 508.8 114.7 476.7 107.5 478.4 106.1 473.6 106.0 477.8 101.0 474.7 100.2 476.0 96.1 477.3 94.4 475.8 93.4 476.3 89.5 475.3 87.6 474.3 86.4 475.7 83.2 475.0 79.8 477.0 81.5 510.8 31.3 513.4 31.5 516.8 30.5 517.8 31.1 520.0 32.0 522.5 30.3 523.9 26.9 444.1 91.9 443.5 93.4 440.7 94.9 441.8 97.8 439.5 98.7 438.1 101.9 438.6 105.2 437.0 103.9 435.5 107.1 435.7 109.9 480.7 111.2 480.7 111.8 480.3 108.7 477.3 106.5 476.6 105.7 474.1 102.4 472.6 100.6 469.3 99.9 469.9 98.1 466.8 97.1 461.4 97.0 464.0 96.3 460.1 91.5 582.9 105.2 583.7 107.3 579.6 107.1 579.8 109.2 577.0 107.4 574.3 107.6 572.6 111.1 570.2 109.3 571.8 112.6 452.4 70.7 456.0 70.1 458.7 68.6 458.3 67.9 463.3 67.3 464.6 66.4 465.7 65.1 467.9 65.1 469.9 63.2 466.0 146.6 466.6 149.2 468.4 150.5 469.1 150.7 468.9 153.8 472.7 155.2 472.4 158.6 474.9 159.1 477.2 161.1 478.1 162.9 457.0 -9.4 456.5 -11.8 452.2 -12.2 450.1 -13.2 449.3 -15.1 448.9 -19.1 448.6 -19.8 446.6 -21.3 444.3 -23.4 444.8 -26.5 443.9 -29.8 441.4 -30.9 502.2 81.7 501.6 80.6 499.6 83.4 499.5 85.6 497.4 84.9 495.3 87.9 495.5 88.7 493.5 91.0 494.1 93.5 490.3 95.5 490.6 95.6 488.8 99.1 487.3 101.2 485.7 103.7 499.6 193.5 499.9 189.8 496.2 189.4 495.2 187.3 492.7 186.0 492.1 184.0 491.7 182.2 490.0 183.2 486.9 178.3 486.3 177.2 455.8 148.3 455.2 153.0 455.4 154.6 457.7 156.1 457.4 159.6 457.7 160.8 459.9 163.3 463.0 165.0 460.8 167.5 461.2 170.4 465.9 170.8 467.9 173.4 489.2 55.9 490.4 54.4 493.3 54.4 495.0 50.9 495.8 49.4 497.4 47.4 501.2 48.3 500.9 46.2 504.2 44.5 435.0 24.7 436.5 21.0 437.7 19.4 439.0 16.3 440.7 15.7 438.8 16.2 437.9 11.1 438.8 8.8 441.3 7.2 441.9 3.9 443.8 3.4 444.2 0.1 445.1 -1.1 448.8 -2.0 448.2 -5.3 497.7 139.3 499.0 142.3 498.2 141.5 497.8 145.0 499.4 149.0 499.2 150.9 498.1 151.5 498.7 156.1 497.6 155.9 497.9 159.0 500.4 161.9 500.1 165.6 502.3 166.8 505.3 167.4 502.4 169.7 506.3 172.3 449.3 133.0 450.2 134.5 455.2 136.2 456.0 135.2 455.2 138.3 456.5 142.5 460.3 142.6 453.9 92.6 458.7 95.3 461.8 94.1 464.7 97.5 464.4 97.8 465.6 100.4 468.2 100.8 471.5 103.2 469.7 104.8 472.7 106.1 473.6 109.6 473.8 176.3 473.0 180.0 473.8 183.4 473.8 187.1 472.1 188.1 472.5 189.7 473.3 191.3 473.7 195.9 472.9 196.0 472.3 200.5 471.8 200.8 469.8 203.4 470.7 205.1 473.0 209.2 469.5 212.3 497.2 29.7 496.6 28.5 494.7 27.4 494.6 27.4 489.5 30.0 488.6 24.1 484.9 27.5 483.3 26.7 481.7 26.2 481.3 28.4 477.0 27.1 474.3 28.0 472.5 28.0 490.2 124.1 493.0 124.9 491.2 125.3 493.2 128.6 493.7 132.8 492.8 134.6 493.0 135.5 492.6 136.5 497.1 139.1 496.7 142.6 496.6 143.1 493.2 85.0 494.7 85.0 496.2 81.1 497.9 80.1 500.0 76.3 443.0 219.9 444.6 219.5 444.7 223.1 445.0 224.5 448.4 225.9 448.3 229.0 478.1 61.0 475.3 58.5 472.7 61.8 471.6 61.2 469.4 63.0 467.0 63.5 466.2 63.7 461.6 65.1 462.5 67.1 458.4 68.5 456.9 68.3 453.9 67.4 453.4 67.7 463.6 107.9 465.4 110.8 465.2 111.4 465.2 116.1 466.8 117.6 467.3 118.1 467.0 124.0 468.8 122.6 469.0 126.3 469.5 127.6 470.9 131.6 470.5 132.2 471.0 136.4 469.9 136.5 470.9 139.1 504.2 74.0 507.1 74.0 506.7 71.6 506.5 66.0 505.9 67.0 506.4 63.7 508.1 61.0 510.7 107.1 511.5 108.1 511.8 107.8 511.0 112.7 513.9 113.5 516.1 115.5 515.9 117.8 515.1 119.2 517.5 122.8 517.7 125.7 519.4 124.9 517.5 128.3 522.0 130.9 521.4 132.9 525.3 134.0 523.2 136.0 462.5 152.7 460.4 154.5 457.4 154.2 456.4 155.1 454.2 155.4 452.3 155.2 449.3 154.6 446.7 156.0 443.2 155.5 495.2 63.4 495.1 67.5 498.0 65.6 499.9 64.7 504.1 64.3 504.9 65.6 506.0 65.1 509.1 64.3 509.7 63.2 513.3 64.8 516.1 61.2 517.0 61.6 518.4 60.0 521.7 59.2 523.0 59.1 526.9 58.9 488.2 182.3 486.2 182.4 482.4 183.1 482.0 185.0 481.1 186.4 478.6 187.4 536.5 119.8 534.0 116.9 532.8 115.7 530.6 114.9 529.5 111.8 528.8 109.5 528.0 107.8 527.1 108.0 524.1 104.5 523.9 106.0 521.0 101.5 450.6 87.3 449.5 90.8 449.4 92.7 446.8 96.6 448.2 95.7 446.6 98.2 444.7 98.7 441.5 103.7 442.8 104.8 441.4 105.3 481.0 24.3 478.3 22.3 475.6 23.1 475.9 21.0 472.5 20.7 471.7 18.8 468.9 17.3 467.0 14.6 469.1 46.9 467.4 45.5 469.5 45.6 470.4 42.0 471.7 39.2 473.3 36.1 474.4 33.6 474.9 33.7 475.9 31.3 473.3 27.3 519.3 124.9 518.3 127.0 517.2 128.0 516.1 130.5 514.4 132.4 513.4 133.4 511.8 133.8 509.2 135.7 506.8 137.8 505.6 139.4 502.8 141.4 501.1 141.2 502.7 144.8 498.9 143.3 497.2 148.1 488.2 137.3 490.4 131.7 495.2 131.2 495.1 130.2 494.0 128.6 496.3 126.5 500.6 122.5 501.2 123.0 501.4 120.7 443.5 114.5 444.7 113.1 442.6 112.7 441.9 115.4 437.6 113.7 434.5 114.0 433.2 115.0 429.8 114.9 430.4 115.0 427.1 115.0 423.8 114.7 421.9 115.7 420.0 115.2 418.5 113.0 555.0 56.9 553.9 54.5 551.0 55.3 550.2 55.2 546.4 55.8 545.9 55.7 543.8 56.8 540.3 56.4 540.1 55.9 537.4 56.8 535.7 58.2 532.3 60.3 532.0 57.4 526.9 60.4 456.5 65.2 456.7 66.7 454.4 70.2 456.4 71.1 459.1 75.6 457.4 75.7 459.4 79.2 462.9 146.0 463.1 146.3 465.9 148.1 465.0 151.3 469.5 150.5 533.3 9.0 532.7 10.8 534.3 13.3 532.9 15.6 530.8 16.7 529.0 18.6 530.9 21.8 529.0 24.0 529.4 28.2 531.3 29.6 529.5 32.5 532.1 33.3 530.4 37.8 531.9 37.9 530.4 41.5 404.5 102.5 406.5 103.0 404.9 97.2 405.8 97.1 405.2 95.3 404.7 93.4 404.6 87.4 403.9 86.8 405.1 85.0 402.3 81.9 402.0 80.9 402.2 79.2 402.2 78.2 477.4 91.2 477.3 92.3 478.6 96.2 479.0 96.7 479.1 101.5 479.1 100.4 480.0 105.2 480.2 106.5 481.0 109.9 481.6 111.1 482.3 110.9 482.4 116.3 483.3 117.5 468.3 107.2 470.8 107.2 473.8 107.4 473.7 106.5 475.7 105.2 480.8 106.5 482.1 105.7 482.7 105.9 484.7 105.2 487.7 107.1 491.1 107.3 491.9 107.1 487.3 97.8 489.3 99.8 490.1 101.2 493.1 101.7 493.3 104.8 495.7 106.2 496.4 109.1 538.9 18.5 539.9 17.3 544.0 18.4 546.3 16.8 545.6 15.2 550.2 15.4 551.3 17.6 553.8 17.5 555.1 16.2 558.5 15.4 561.4 16.6 561.1 18.9 565.7 22.5 496.9 130.8 493.8 131.9 493.5 132.5 490.2 133.1 487.2 132.6 488.1 133.5 484.8 132.2 483.6 135.3 479.7 137.1 477.8 135.9 476.3 137.9 474.8 55.9 473.3 58.1 471.7 57.4 471.1 59.6 467.8 60.2 509.4 173.3 512.9 170.4 512.7 168.1 515.0 165.9 514.0 165.8 519.0 163.2 517.6 161.0 519.8 161.0 522.0 156.7 522.7 155.2 523.4 154.3 525.4 154.1 526.7 152.5 528.3 150.4 531.8 149.2 531.7 77.1 533.0 81.9 531.0 79.0 529.1 82.1 527.2 86.8 528.4 87.1 527.3 90.8 526.3 91.8 524.4 95.0 525.6 96.3 525.0 99.0 523.1 102.5 523.3 102.1 523.2 106.5 523.6 108.7 465.3 41.9 462.2 43.7 460.3 44.7 458.8 43.5 457.2 41.8 454.7 41.5 452.4 40.6 445.5 99.4 446.9 101.5 445.0 102.1 443.1 103.8 440.9 107.2 439.5 105.3 439.0 110.1 436.0 111.3 455.5 40.4 455.6 41.6 457.4 44.8 458.3 44.9 460.5 46.2 462.2 49.9 463.9 49.3 467.2 48.2 468.3 53.5 467.4 54.4 469.2 57.2 584.0 45.1 583.9 44.2 586.9 40.4 586.5 38.8 586.5 36.2 586.6 32.9 587.0 33.0 587.5 28.2 584.7 25.3 584.7 26.2 583.9 21.0 586.2 20.1 584.8 18.3 587.1 15.5 586.0 12.5 485.9 172.2 487.0 170.8 490.3 171.4 491.0 173.6 492.4 177.5 494.8 176.7 497.4 177.5 498.8 179.4 502.3 180.1 503.8 182.4 506.8 182.8 508.4 182.9 509.0 184.3 464.0 151.7 461.9 151.5 459.3 150.7 459.2 147.7 457.5 146.7 454.6 145.8 454.6 144.5 453.4 144.3 450.7 140.4 450.4 139.1 447.1 135.4 459.6 135.3 460.6 132.0 459.8 131.3 461.1 127.3 462.3 125.2 460.9 123.7 462.0 121.3 461.8 117.6 462.5 114.3 462.9 112.9 510.2 36.2 510.8 34.7 514.0 39.7 514.3 40.4 514.5 41.9 517.6 46.0 516.9 48.5 519.5 50.1 471.4 65.6 471.1 64.9 467.5 65.4 465.0 65.5 462.5 65.7 462.5 65.3 459.3 63.3 455.9 63.2 455.2 60.8 452.5 58.5 450.0 59.6 450.2 54.1 499.2 111.1 501.9 110.9 503.7 108.5 505.2 108.1 506.8 108.6 510.0 108.1 512.8 108.6 515.0 107.3 516.2 107.9 519.0 110.1 522.3 110.4 520.9 110.1 471.2 91.3 472.8 91.0 476.8 92.8 478.8 94.4 480.5 94.3 482.7 96.7 483.1 96.2 488.8 96.7 490.3 96.1 490.4 95.7 493.4 98.2 494.6 98.0 481.9 106.0 484.0 104.8 486.9 104.9 489.3 102.3 490.6 104.5 492.2 103.2 494.4 101.7 496.7 104.0 432.1 39.1 435.8 41.1 439.1 40.0 439.4 42.5 443.8 41.6 443.6 39.7 446.5 41.6 448.5 40.7 451.6 39.8 451.5 41.5 455.2 38.3 457.4 39.6 459.3 39.0 460.8 39.7 464.4 40.1 475.8 95.9 476.2 95.1 479.5 91.2 480.0 90.8 480.3 88.8 481.9 84.9 484.2 86.4 484.4 82.5 483.3 78.9 485.2 77.9 486.5 77.8" fill="none" clip-path="url(#kb)" style="marker:url(#r5)"/>
<path d="M429.5 292.4 426.1 291.4 423.8 290.7 421.6 291.1 421.9 286.8 419.3 287.3 418.5 286.7 414.1 283.0 413.3 281.9 410.3 280.3 409.5 278.9 409.1 276.1 407.9 275.7 406.1 274.6 404.9 270.9 471.5 107.7 474.4 104.5 473.0 104.5 474.9 100.7 475.1 100.5 488.7 263.9 486.3 265.9 485.1 268.3 482.1 271.4 483.6 273.7 482.6 275.1 479.0 277.9 481.2 278.8 477.4 279.8 450.5 203.2 449.7 206.3 446.8 207.5 447.0 207.5 445.0 212.4 442.5 212.0 441.0 212.8 438.3 214.2 436.3 216.1 435.5 215.9 433.6 218.2 434.5 219.3 432.2 224.0 430.7 225.3 429.0 226.4 427.5 227.6 407.2 228.2 407.9 230.3 408.6 230.2 410.0 236.2 409.9 234.8 410.5 236.3 411.1 240.4 412.7 242.1 413.9 244.3 414.8 246.0 416.2 248.1 418.5 249.3 419.8 253.6 417.1 254.4 420.3 255.3 421.5 260.1 420.0 260.5 462.2 157.8 461.3 158.8 463.2 161.6 462.8 163.6 463.7 165.4 464.0 168.9 464.0 168.9 465.7 173.5 467.7 175.4 468.7 177.4 467.8 180.1 467.9 182.2 469.1 184.3 471.1 185.6 468.1 190.1 471.8 190.9 395.5 190.9 394.7 189.4 392.1 194.1 392.0 193.5 389.0 195.6 386.6 198.0 387.8 199.1 386.8 201.9 386.6 204.4 385.4 207.5 385.3 210.2 384.3 210.5 383.3 213.0 385.8 214.4 385.2 219.9 383.7 222.4 384.3 222.1 384.6 227.1 555.8 201.0 557.1 197.5 555.0 196.9 556.6 193.7 556.5 191.5 554.6 190.2 553.0 188.2 553.7 183.8 552.8 181.8 552.5 181.2 497.2 102.2 499.1 101.9 498.4 106.2 498.3 107.5 499.1 109.2 500.9 113.7 500.2 114.5 500.7 116.1 499.7 118.6 499.4 120.5 499.1 123.0 500.2 126.1 502.1 129.3 501.5 131.0 504.9 131.3 504.1 133.9 505.0 136.1 385.9 138.7 387.3 141.5 384.3 142.4 380.7 144.8 380.1 144.4 377.3 145.8 374.6 146.4 373.5 143.1 370.4 145.1 369.7 147.6 367.9 148.1 364.4 147.6 361.7 148.0 359.4 148.9 444.6 84.9 445.7 88.1 447.8 88.6 447.9 91.1 450.8 92.0 452.5 95.4 453.6 97.3 455.3 95.7 455.7 99.6 459.5 101.3 457.3 103.6 411.1 153.7 408.5 153.8 405.9 152.7 403.6 151.5 401.6 150.7 400.5 150.0 398.4 150.3 394.2 149.7 393.1 149.5 391.4 148.7 452.1 284.8 451.0 283.0 449.3 286.4 446.4 286.6 443.0 287.1 442.9 285.9 440.9 286.2 436.3 286.2 435.9 287.2 433.6 287.5 431.2 285.4 429.7 285.5 428.1 284.2 424.2 285.5 422.0 286.1 419.6 285.1 418.3 283.6 416.2 283.7 412.4 283.7 411.6 282.9 432.0 236.5 435.8 235.0 438.6 233.4 441.6 230.4 441.6 232.6 441.6 228.3 445.1 227.2 442.5 224.3 374.6 165.1 377.5 161.8 378.4 158.8 379.2 155.7 379.4 155.3 379.0 151.4 381.5 153.0 386.2 190.5 385.0 191.2 381.2 191.0 380.2 190.5 377.7 190.2 375.8 190.4 373.2 190.7 370.1 191.6 371.9 189.3 369.6 187.8 365.7 187.0 364.6 185.9 364.7 186.3 359.7 185.8 357.5 185.8 355.1 187.3 351.7 185.7 350.3 186.5 348.7 184.1 346.8 185.7 351.7 198.8 355.0 200.1 354.1 203.8 353.4 203.3 353.3 208.5 354.4 208.7 354.2 213.8 355.0 213.8 355.4 215.7 353.9 219.7 355.1 220.6 355.8 221.2 357.3 225.5 358.2 227.2 357.3 229.5 358.3 230.0 361.5 234.7 361.4 238.2 361.1 237.9 359.1 237.7 557.4 221.5 554.8 221.7 558.2 224.4 557.5 226.4 559.7 230.9 559.0 232.4 560.1 234.1 560.0 234.4 561.2 236.2 559.4 239.7 558.8 242.1 560.7 243.5 561.2 245.9 563.2 249.3 561.9 250.8 561.4 254.3 492.5 249.2 490.8 250.4 488.2 250.1 487.8 251.4 484.5 253.9 483.9 254.7 482.3 255.3 480.6 258.6 477.9 259.5 475.6 259.9 474.2 261.9 472.2 264.8 472.5 264.4 469.6 265.1 467.2 267.1 482.3 114.8 485.7 117.7 488.1 117.4 488.1 119.2 489.6 123.1 490.4 124.6 492.5 127.6 494.4 127.6 493.4 129.8 493.4 131.1 496.2 133.3 496.7 135.4 499.6 136.2 500.5 139.0 502.5 140.4 502.3 142.4 502.9 144.7 503.5 147.6 506.0 149.0 436.5 258.3 435.7 257.5 436.5 255.1 437.9 253.7 436.0 251.5 437.8 250.0 437.1 245.4 435.0 244.4 437.2 242.2 437.7 239.9 436.1 236.2 434.8 235.9 434.7 232.3 432.5 230.4 432.9 227.6 432.0 227.6 431.6 226.0 412.7 223.0 412.8 225.4 414.5 226.9 416.1 226.7 415.8 229.6 418.2 231.9 418.8 235.2 419.3 232.1 419.6 230.8 421.8 231.7 422.8 231.0 427.8 227.1 429.3 229.2 430.9 230.1 433.3 227.9 496.3 131.1 497.5 128.5 501.0 126.6 502.1 124.7 504.0 125.3 506.0 123.1 507.8 122.4 508.1 118.9 498.4 266.3 496.5 265.7 495.8 264.8 492.1 266.6 488.6 268.4 488.2 266.4 485.3 268.7 483.5 266.2 481.0 266.7 479.9 267.1 476.9 265.5 473.2 268.2 472.2 270.4 470.7 269.2 468.1 269.5 464.9 269.7 463.2 269.6 460.8 266.9 460.7 270.1 388.7 265.4 389.6 261.3 388.4 259.3 390.0 256.6 390.6 255.4 391.6 253.6 388.9 249.2 387.6 247.9 386.8 246.6 384.8 245.0 384.7 241.1 384.9 241.4 382.3 239.4 381.1 237.0 380.4 233.1 378.7 233.5 378.9 229.6 377.9 226.8 396.2 233.4 395.9 235.4 396.8 237.7 397.0 240.4 398.0 241.3 395.9 243.6 396.3 248.0 396.2 248.8 394.7 251.4 395.1 252.3 394.5 256.0 394.2 257.0 393.1 259.9 389.9 262.7 392.6 263.8 391.2 218.6 394.0 218.8 394.4 217.9 397.7 216.4 398.8 216.6 401.4 216.3 404.5 216.6 406.0 214.9 407.1 213.3 427.8 314.4 429.6 317.2 431.1 321.0 431.7 321.5 432.0 323.1 434.8 324.5 437.8 325.7 438.0 327.2 439.4 331.5 440.9 333.9 440.9 337.1 443.1 336.2 443.2 338.5 445.7 340.7 443.9 342.8 443.4 345.9 446.7 345.2 416.8 226.4 415.4 225.1 411.1 224.5 409.1 223.2 407.9 222.8 406.4 221.4 404.3 220.5 402.6 221.7 403.1 220.1 399.9 218.7 396.8 217.4 394.9 218.1 393.5 215.8 389.0 215.4 389.4 214.4 385.3 214.5 384.3 214.2 463.4 172.0 458.2 173.3 459.2 175.6 456.7 176.0 453.8 177.4 454.6 177.5 452.3 180.6 450.0 181.0 449.9 184.4 447.3 186.7 444.4 184.5 538.5 207.1 541.0 209.9 541.9 209.2 544.0 205.4 547.1 206.2 550.8 205.7 550.4 205.4 551.4 202.4 553.9 199.6 555.9 200.5 557.8 198.9 561.3 197.8 563.4 196.7 563.8 196.3 565.4 193.0 565.9 191.5 568.0 190.2 570.8 190.8 571.0 188.6 572.1 187.4 439.4 171.6 441.1 170.2 440.6 167.4 444.1 167.0 445.3 163.2 445.8 164.5 446.8 160.4 446.4 156.9 448.9 155.0 449.1 154.1 448.8 151.1 450.3 148.5 448.3 145.6 448.1 144.1 449.1 140.3 452.7 141.1 450.4 135.6 449.0 136.0 432.6 254.3 433.4 257.8 435.6 260.2 436.0 259.1 438.8 259.1 439.7 263.8 442.6 262.3 445.9 264.5 446.8 267.4 449.0 264.4 449.5 267.1 453.8 265.8 457.1 268.5 458.8 268.5 459.4 269.0 454.5 133.1 455.5 130.7 453.6 130.2 456.4 126.4 456.3 125.3 458.0 121.8 457.9 121.6 459.7 120.5 458.0 116.0 460.0 114.5 462.1 112.4 461.1 110.5 463.8 107.8 464.9 105.0 465.8 104.6 466.5 101.6 467.4 98.7 470.4 98.7 469.2 96.5 474.6 97.4 338.3 169.3 336.6 169.7 333.1 169.2 330.6 171.3 329.6 174.7 327.0 177.5 326.5 179.3 324.0 178.9 323.4 179.7 321.8 183.7 321.7 184.9 320.5 185.9 320.0 191.0 319.6 191.4 318.8 193.4 316.2 195.7 326.8 256.9 327.3 255.7 327.0 253.1 324.9 251.4 324.9 247.8 324.0 247.0 325.0 243.5 322.1 241.0 320.1 241.9 317.6 240.6 317.4 239.1 315.8 235.6 478.3 236.7 477.7 233.5 474.2 236.2 476.1 234.3 471.3 235.2 469.7 236.5 467.0 238.6 465.7 238.5 462.8 237.8 461.7 238.8 457.4 240.3 340.5 272.9 344.5 275.7 342.9 276.3 347.9 279.3 346.5 279.6 348.0 282.6 350.0 284.0 350.4 286.2 350.1 287.7 352.3 290.5 352.8 292.0 354.7 295.5 355.7 296.3 358.5 297.6 358.6 300.3 391.4 239.2 391.7 239.5 391.8 235.2 389.7 235.8 389.1 231.7 525.6 249.3 525.7 250.3 524.7 252.0 522.4 254.8 523.6 257.7 522.0 259.7 521.0 262.3 519.9 261.7 518.5 264.5 518.1 267.3 518.9 271.3 517.7 271.4 516.7 272.4 466.9 283.8 465.7 287.8 462.3 289.7 462.3 290.6 459.8 292.4 459.1 293.0 457.2 295.6 454.1 297.3 451.4 299.1 452.3 299.9 451.5 301.9 447.3 303.3 447.6 303.8 445.1 305.4 443.0 307.0 440.8 307.3 439.2 308.4 437.4 311.2 425.3 336.6 424.4 340.4 419.6 340.0 418.4 342.9 419.6 343.9 418.7 345.9 415.5 347.8 414.6 350.0 413.4 350.9 412.7 355.2 395.4 312.5 396.4 309.9 394.5 307.1 397.8 304.9 397.8 302.4 395.7 301.2 397.5 297.6 541.3 229.4 543.9 230.0 540.9 232.7 543.5 235.5 541.8 235.9 541.4 239.5 541.2 241.8 540.8 244.9 539.0 246.6 539.6 247.0 537.4 250.7 538.3 251.6 535.8 252.8 532.8 256.9 532.2 258.6 531.3 259.5 531.4 262.0 451.8 128.2 449.5 126.6 451.4 122.8 449.2 120.8 449.5 119.1 447.7 116.7 447.3 114.3 445.1 112.4 445.7 110.8 443.0 108.8 388.4 322.6 389.3 322.0 389.7 317.7 387.0 317.4 386.7 314.4 390.3 313.0 389.5 309.0 388.8 308.0 503.0 180.3 504.3 181.6 507.4 182.3 507.4 184.6 508.5 188.4 508.8 188.1 509.5 190.7 512.7 275.7 515.1 274.8 517.7 273.8 519.0 273.9 521.5 272.1 524.6 269.0 523.7 267.7 573.8 241.1 576.1 241.0 578.0 243.1 577.8 245.1 580.4 246.2 582.3 250.2 582.9 250.8 584.2 251.6 587.0 252.8 587.2 254.9 589.7 257.1 591.6 258.8 594.7 258.2 594.9 260.7 596.4 261.5 598.6 262.9 599.7 261.8 602.1 267.0 327.0 239.5 324.5 240.7 324.0 241.7 324.9 244.2 320.0 243.8 319.8 246.8 318.1 250.4 318.1 251.0 315.7 252.9 312.9 253.5 313.8 254.3 310.4 257.3 309.2 258.9 305.8 259.4 306.5 262.7 305.2 263.2 301.8 263.6 297.6 263.9 298.4 266.1 295.4 269.1 531.6 209.3 534.0 207.2 537.2 207.9 536.3 206.1 539.2 207.5 543.4 208.8 542.6 208.6 546.2 208.3 507.9 226.6 509.0 227.0 506.2 225.2 502.6 224.8 502.9 226.2 498.4 225.0 497.4 224.7 495.6 225.0 492.7 224.9 491.2 224.5 487.7 229.0 485.4 226.6 483.7 227.4 481.5 227.0 479.6 229.4 476.5 230.1 476.4 229.3 473.5 229.3 470.6 228.5 509.8 212.3 509.1 212.1 511.6 211.4 510.7 209.8 512.3 205.4 512.2 203.6 513.8 200.7 513.4 197.7 458.7 355.3 457.0 357.6 454.4 354.5 452.2 356.0 450.0 357.2 497.6 182.8 497.4 181.9 493.9 184.8 494.4 187.3 492.2 189.3 489.9 190.8 489.7 192.7 486.7 193.5 486.5 195.9 485.4 198.4 486.4 200.1 492.6 253.6 492.6 252.3 491.6 250.6 489.7 249.0 488.6 249.2 487.3 248.7 485.2 244.6 483.3 243.9 482.3 241.4 481.1 240.5 478.5 237.6 475.5 236.9 475.9 233.9 474.5 234.6 471.1 230.8 432.5 279.5 436.2 279.1 435.1 277.9 439.4 276.2 441.0 275.4 442.9 274.7 442.9 270.6 445.5 270.2 444.3 264.9 445.3 265.2 447.5 263.2 446.0 260.7 448.8 256.4 482.7 293.0 484.0 295.2 488.4 294.9 488.8 295.6 489.6 295.8 494.3 297.9 495.2 296.1 497.0 297.6 500.2 297.1 502.1 297.6 481.1 303.6 482.0 302.9 485.4 302.7 485.9 299.1 489.4 300.6 489.4 295.2 487.9 247.8 485.0 245.6 486.1 244.1 483.7 239.2 484.9 235.7 483.5 234.7 484.6 233.6 485.6 232.8 484.6 229.9 483.6 225.3 481.3 226.1 483.4 223.5 482.8 219.0 484.6 218.2 484.3 215.2 484.2 213.2 483.7 209.9 484.8 208.7 484.2 207.9 506.3 157.2 503.2 157.1 500.0 160.5 501.6 162.1 496.6 162.2 495.2 163.4 495.6 163.8 492.5 166.6 489.4 164.6 489.0 165.3 486.7 165.6 483.6 168.9 481.2 168.0 479.2 168.0 497.8 315.6 501.9 316.8 502.8 316.5 503.7 319.8 504.8 323.3 506.8 321.2 507.4 322.7 509.7 327.3 509.8 328.7 481.9 338.0 481.7 337.4 478.8 338.4 476.1 337.5 475.6 334.5 472.3 335.9 471.8 334.7 467.4 333.5 465.5 333.1 463.2 332.9 464.1 332.5 461.0 333.8 457.3 334.4 497.4 288.7 498.2 289.7 500.2 288.7 502.4 288.0 503.1 287.9 507.5 288.5 509.7 288.4 512.0 285.9 396.8 297.7 400.5 295.7 402.2 295.5 404.4 295.0 406.7 293.0 409.1 292.8 409.7 290.6 412.5 291.0 414.0 289.4 416.8 288.6 417.5 289.6 418.4 286.5 422.9 287.2 548.0 196.3 547.4 194.3 544.0 193.0 543.1 193.3 542.1 190.3 539.5 191.8 537.8 189.6 537.4 185.3 534.5 185.5 535.1 183.2 533.4 180.3 532.5 179.6 530.0 176.1 530.4 173.8 527.2 173.7 540.4 134.1 543.1 132.3 543.3 130.9 546.5 134.0 548.0 133.7 552.0 136.1 553.6 134.8 454.3 245.9 450.2 244.6 450.1 244.4 446.0 243.8 444.4 243.3 443.3 240.5 441.7 241.1 438.6 241.5 437.0 240.2 434.1 239.6 433.1 235.4 432.9 233.7 430.2 235.0 427.9 232.8 429.3 230.1 456.5 282.8 453.2 283.8 453.0 280.7 449.7 281.4 447.9 279.1 445.5 279.9 444.1 278.0 375.5 259.5 372.4 257.8 373.0 255.0 372.5 250.0 372.6 250.6 369.0 247.5 369.1 246.0 369.4 243.8 368.9 243.0 368.5 239.4 367.7 237.9 451.4 301.1 452.1 300.6 447.2 299.6 447.0 299.0 443.7 299.0 441.7 300.8 438.9 297.3 437.6 298.5 435.4 298.9 433.4 296.9 431.2 298.1 429.2 297.5 429.4 181.2 430.0 182.1 428.2 183.7 427.2 185.5 428.2 189.6 427.4 191.7 427.0 196.3 427.4 196.2 426.8 197.8 427.0 201.4 428.8 204.1 426.2 204.4 426.8 207.9 401.2 308.9 402.6 309.5 404.8 309.8 409.1 310.8 410.0 310.7 410.2 311.8 412.5 312.5 415.0 311.5 456.6 132.0 454.5 130.7 457.7 129.4 456.4 126.8 456.9 125.0 485.1 245.6 484.1 241.5 483.1 239.5 480.2 238.4 482.6 237.0 481.4 235.4 480.7 231.3 478.8 228.0 480.7 224.3 480.7 227.1 477.9 221.0 451.3 175.9 454.6 173.3 456.2 172.8 456.1 174.0 461.0 171.9 461.4 170.9 461.3 169.6 467.1 167.7 466.2 167.1 470.6 168.6 473.2 166.3 472.8 167.4 475.0 168.6 478.7 168.6 480.8 166.7 551.6 202.4 549.8 201.8 546.3 203.9 544.4 203.5 542.3 204.0 542.1 204.0 537.8 204.7 535.9 204.0 533.6 206.6 531.5 206.0 530.3 207.7 528.4 208.7 526.3 206.7 433.5 235.1 433.0 232.3 436.9 230.7 436.5 228.6 436.4 226.5 437.5 221.8 438.3 221.9 439.4 217.9 438.8 217.3 438.1 213.4 438.2 212.0 438.3 206.3 437.6 208.7 436.1 205.4 438.7 202.6 438.3 199.1 440.5 196.5 507.1 247.9 505.6 247.3 503.2 248.6 501.1 246.3 500.3 249.9 495.7 249.3 494.7 249.5 492.9 249.4 489.1 250.9 487.1 251.5 485.3 249.4 380.7 291.7 380.0 293.3 378.7 289.4 378.0 289.0 374.4 289.0 376.1 287.3 373.2 283.7 371.1 284.3 518.0 185.5 518.8 184.8 520.4 181.1 522.5 180.8 524.4 179.7 467.6 335.5 465.3 335.7 463.8 332.8 463.2 329.4 464.3 329.6 462.5 324.8 460.3 321.7 461.4 319.0 460.4 320.9 459.1 317.3 453.8 316.3 454.0 315.2 453.8 310.5 452.8 311.0 449.7 307.8 447.8 307.4 448.0 305.7 444.8 303.2 443.2 303.3 440.7 302.0 295.6 272.8 291.0 273.2 288.3 272.3 287.2 272.7 284.5 271.8 283.5 270.5 282.2 270.1 279.5 268.5 276.3 271.5 274.2 269.9 272.7 269.8 456.7 166.7 460.1 167.7 462.0 168.0 463.9 166.4 467.5 168.0 467.9 170.7 469.6 168.6 472.2 172.1 472.9 172.4 475.7 170.9 477.4 173.5 478.7 175.5 479.0 176.4 484.5 176.2 486.2 175.6 487.0 177.5 413.0 252.0 415.5 251.7 417.9 251.4 419.0 252.3 422.2 252.8 422.8 254.8 504.7 222.9 504.7 221.1 504.7 218.5 504.4 216.0 503.3 210.8 502.3 212.2 503.9 208.5 501.2 205.6 500.1 205.7 498.7 202.5 497.6 202.0 394.5 274.9 393.4 273.0 391.8 272.8 389.3 270.4 386.8 268.0 387.6 268.1 386.2 264.7 384.1 261.9 383.7 260.8 383.4 258.8 382.2 257.0 379.4 256.0 380.3 251.2 381.3 251.7 377.7 247.6 379.1 245.6 378.7 244.8 379.9 240.8 380.2 238.4 380.4 237.5 595.1 250.1 591.9 250.7 592.1 246.0 591.0 246.2 588.4 242.7 589.1 241.2 587.2 240.9 585.2 236.9 457.6 189.7 458.6 187.0 456.3 184.4 454.6 181.9 454.4 180.8 454.1 177.7 454.1 176.5 454.3 171.9 454.5 170.7 456.8 169.1 455.9 167.5 452.3 164.6 452.5 161.7 451.3 159.3 421.0 201.3 421.5 202.2 423.5 204.8 425.8 204.5 426.8 208.0 428.1 209.6 428.7 210.0 429.9 212.7 431.6 214.1 433.0 217.3 434.7 217.1 434.1 219.7 436.3 221.7 438.3 221.8 440.3 223.5 440.7 227.9 558.1 218.3 561.5 215.1 561.7 211.7 565.8 210.6 566.3 211.6 567.8 207.7 568.7 207.3 569.8 204.3 572.9 206.5 576.4 203.4 578.5 201.6 579.8 201.3 582.3 201.9 584.5 203.9 586.0 203.7 587.7 203.0 590.5 204.7 474.4 313.1 475.2 313.8 477.9 313.1 480.8 313.9 481.5 313.2 562.1 307.2 561.6 309.9 565.1 310.4 564.1 312.9 566.6 313.7 566.9 316.1 568.4 319.7 569.3 320.1 570.2 324.2 568.8 326.3 569.0 325.6 568.8 329.5 567.7 333.3 568.7 334.4 511.8 194.6 511.6 197.4 512.2 200.0 510.4 202.9 510.4 203.4 509.5 205.4 510.6 209.6 510.2 212.1 510.8 215.1 509.8 215.9 510.2 217.7 511.2 220.6 505.2 278.7 507.5 278.9 508.8 278.8 513.2 281.0 514.4 282.5 515.3 282.0 518.1 282.3 521.5 284.0 523.1 282.8 525.0 284.2 414.9 183.9 417.7 183.1 417.7 181.7 419.9 179.6 420.6 176.4 423.0 173.0 424.5 175.1 425.9 170.8 426.1 169.1 427.7 166.5 427.6 164.8 430.2 162.7 431.5 163.1 434.8 162.2 435.8 158.4 435.6 157.9 438.5 159.7 440.6 155.5 380.8 313.8 377.4 312.6 377.7 310.0 375.2 308.4 373.3 307.0 372.2 305.7 370.9 306.0 369.0 304.2 365.0 301.4 364.1 301.4 361.6 302.5 361.4 299.3 358.3 298.8 356.3 299.9 355.3 297.6 350.3 300.0 349.7 298.5 349.2 299.1 344.4 296.9 342.9 299.7 380.0 262.9 377.5 258.7 377.4 256.2 377.3 254.3 375.3 253.2 376.1 249.7 375.9 247.4 374.8 244.9 374.2 244.5 371.3 241.0 370.5 239.1 371.9 237.5 369.5 235.3 368.7 232.6 366.4 231.1 366.2 228.9 365.2 228.9 364.8 227.3 363.4 223.2 363.5 224.5 322.9 185.6 322.6 185.2 320.3 185.8 317.3 185.4 314.3 188.0 313.2 188.6 310.4 190.3 310.8 190.0 306.2 189.3 306.1 189.7 411.0 207.2 411.7 205.1 414.9 206.8 416.2 204.9 417.9 203.5 421.6 202.3 419.7 200.1 423.5 197.9 425.3 195.4 428.0 193.5 428.4 192.2 429.2 192.4 428.1 188.7 490.7 268.6 493.4 270.7 492.2 273.8 493.0 277.0 491.2 277.2 492.4 279.6 491.7 283.9 491.1 284.2 491.0 287.2 489.0 289.8 492.1 290.6 490.3 293.5 437.2 98.8 433.6 99.2 432.9 99.2 430.3 95.3 427.8 95.2 424.7 96.9 424.3 98.0 420.1 95.6 419.3 96.4 417.7 93.4 415.6 94.4 411.9 93.8 386.5 311.8 383.2 307.9 381.6 311.7 379.3 310.7 377.8 308.6 441.2 286.9 438.7 288.5 437.3 290.1 435.8 288.0 433.9 291.3 432.6 293.6 430.9 297.2 429.4 296.3 427.1 299.4 425.4 302.4 425.4 303.2 424.6 305.1 421.5 306.8 420.6 308.1 419.5 310.9 419.0 311.4 419.0 315.4 419.7 317.8 418.4 319.6 452.0 219.4 450.5 218.0 447.8 218.2 446.3 216.1 444.6 216.6 440.6 217.1 439.0 216.0 437.1 214.6 437.1 212.6 433.5 212.0 329.4 -2.8 325.4 -3.9 325.7 -3.3 320.6 -0.7 320.2 -5.6 317.1 -3.2 314.9 -0.5 313.1 -0.4 311.7 1.1 309.7 3.4 309.2 5.1 304.6 4.5 304.5 4.3 298.7 4.1 298.8 5.4 436.1 220.8 436.8 216.6 438.0 214.2 439.7 213.0 439.7 211.3 443.0 209.3 443.3 208.1 445.2 206.9 445.8 203.5 446.8 201.0 447.1 199.3 446.9 196.7 447.8 195.0 429.2 192.2 430.2 194.3 433.8 193.0 434.5 195.5 436.8 199.3 437.8 198.7 438.4 201.4 441.4 203.9 442.7 205.2 445.1 205.7 447.4 205.5 449.5 207.0 450.9 207.7 453.8 209.3 455.6 210.5 456.7 209.6 460.1 208.5 461.3 210.6 464.0 213.4 467.3 210.8 408.6 122.7 408.2 125.4 405.7 126.0 403.9 128.6 401.7 126.3 400.0 127.7 398.3 129.8 395.1 130.4 393.0 130.9 391.5 130.7 390.1 133.1 471.4 210.6 470.5 210.0 469.7 207.0 465.9 207.2 465.6 204.3 465.0 201.5 464.8 200.5 460.2 198.7 443.3 260.3 441.8 258.9 442.1 256.7 440.5 255.4 438.6 254.4 436.7 252.2 436.6 252.6 436.6 249.9 435.6 203.3 433.8 204.5 431.3 203.1 428.0 202.1 427.4 199.5 424.8 199.3 422.3 199.5 420.9 197.9 417.5 198.8 415.0 196.2 415.9 195.7 415.0 196.1 410.9 193.7 410.0 192.2 409.4 190.5 407.0 189.8 404.6 188.8 404.9 189.0 396.8 188.8 563.3 233.4 566.7 236.3 566.5 241.0 569.8 240.3 567.9 243.2 568.0 244.2 571.7 246.8 570.6 248.4 572.1 252.5 574.8 250.5 576.0 254.0 577.6 254.5 578.3 256.2 579.3 259.1 578.7 261.7 486.0 244.2 486.5 243.5 488.4 240.7 487.5 239.1 488.6 236.8 492.8 237.1 491.4 232.3 493.5 232.6 492.5 229.3 496.1 227.3 498.3 226.2 496.6 222.7 497.1 222.0 499.8 219.5 500.5 218.2 487.8 258.5 487.1 258.0 484.2 256.3 482.5 254.8 479.9 252.9 478.3 252.7 476.6 250.7 474.1 255.4 473.2 254.0 470.9 252.6 470.1 252.4 465.2 253.4 464.7 250.0 460.7 249.8 459.4 250.1 457.8 248.0 485.4 303.2 488.9 301.9 488.5 303.4 493.7 302.1 493.9 302.5 359.7 105.2 358.2 103.9 357.7 101.5 358.3 99.0 357.5 97.5 356.6 94.6 358.5 93.1 357.3 90.7 356.5 88.0 357.8 85.3 359.3 81.9 462.2 169.9 460.3 165.9 461.8 162.7 459.7 162.1 457.4 161.5 455.7 158.9 453.8 157.8 452.7 155.3 451.7 153.0 451.2 153.5 448.1 151.4 446.4 149.5 445.8 149.1 445.0 146.9 441.2 144.7 440.9 145.3 435.8 143.2 418.1 169.2 414.6 170.7 417.7 173.3 415.4 176.7 416.6 177.4 415.4 181.4 415.4 180.9 417.1 183.6 417.2 185.6 413.8 129.5 415.1 126.6 419.0 127.8 420.1 129.5 420.4 129.3 422.3 129.1 470.4 162.7 467.5 162.7 466.6 161.9 463.9 164.9 463.3 166.4 460.4 165.6 459.0 167.3 457.3 168.1 454.0 171.5 454.0 171.9 452.8 171.8 450.1 174.5 547.4 137.1 547.6 133.6 549.6 132.9 552.4 131.2 550.7 127.0 554.0 127.2 552.6 123.3 552.9 120.8 552.9 116.5 552.7 116.3 554.2 113.4 555.0 112.6 553.4 108.3 553.3 107.3 552.3 104.5 553.9 103.9 552.6 100.7 554.2 98.8 554.5 95.8 551.1 93.7 504.3 281.3 503.6 284.0 500.5 286.9 499.8 289.3 498.1 286.9 497.0 291.5 472.4 173.1 470.0 173.9 468.3 176.7 467.5 179.2 464.9 179.6 464.0 182.1 461.3 184.6 461.9 186.7 460.6 186.8 459.7 189.5 458.1 194.1 458.3 192.6 457.2 194.4 453.5 197.4 451.7 198.3 449.7 200.4 449.1 200.8 447.8 202.8 446.8 205.7 443.2 206.2 506.3 264.1 503.8 263.5 503.8 266.3 500.6 266.8 500.0 266.2 495.9 269.1 493.3 267.2 396.5 228.8 397.9 227.3 395.1 224.2 394.4 224.5 393.2 224.5 391.0 221.5 390.9 219.8 389.6 216.2 386.8 214.8 384.8 215.3 385.8 213.4 383.3 208.9 381.3 206.9 453.1 101.7 450.9 100.2 448.6 101.3 445.7 100.4 443.0 102.2 442.8 102.3 489.8 203.6 489.0 201.9 487.3 198.3 487.2 198.0 482.5 197.6 481.5 197.2 478.3 196.1 477.5 192.9 477.2 194.4 475.4 192.2 472.9 189.2 470.9 189.4 468.8 188.5 468.4 188.3 467.1 186.4 463.9 184.5 413.7 281.9 412.1 279.8 411.2 281.0 409.2 275.4 406.7 278.0 405.1 279.5 400.0 276.8 399.8 276.8 396.2 276.6 395.4 276.9 393.0 275.5 390.6 276.6 504.1 132.8 503.3 127.7 500.6 128.0 500.8 125.0 500.5 122.2 502.0 119.4 500.3 118.4 498.2 115.2 500.8 114.1 476.5 314.6 476.8 317.4 474.9 320.8 472.1 320.4 469.5 324.2 469.8 326.4 469.5 329.2 467.6 328.4 467.7 330.5 463.5 332.3 462.8 333.9 461.6 337.4 460.1 337.3 456.4 338.0 456.6 341.5 455.0 339.8 450.9 340.8 469.0 240.3 468.1 235.8 468.1 233.4 468.5 232.9 469.5 228.4 470.2 227.5 469.1 225.0 469.7 223.4 472.0 219.7 471.5 219.9 471.2 216.2 447.6 278.2 444.4 277.7 444.0 276.4 442.1 276.1 440.0 274.2 437.3 271.6 435.9 270.0 433.4 271.5 433.9 266.7 430.4 267.6 427.8 264.8 407.2 199.6 406.4 201.8 409.2 203.8 411.2 206.4 412.4 207.3 413.4 209.4 417.7 210.8 418.4 212.3 419.9 212.1 421.0 213.7 424.6 215.5 425.2 216.2 423.1 219.1 427.2 221.1 429.5 222.0 430.4 224.1 431.9 226.9 432.4 227.5 534.4 201.9 533.8 202.3 534.5 205.7 531.5 207.9 529.1 210.4 500.4 218.2 501.3 218.6 504.2 214.7 506.5 216.1 508.7 216.4 511.8 217.2 512.6 218.5 515.9 215.7 517.0 216.6 411.1 205.5 409.4 206.3 406.0 208.1 404.0 208.1 402.6 208.1 399.6 206.9 398.1 206.6 395.7 208.0 324.6 310.8 321.3 309.4 321.3 309.9 317.3 309.1 316.0 309.0 313.1 308.5 310.2 307.7 309.0 309.2 306.2 309.1 305.9 309.4 302.4 307.8 300.3 310.1 328.8 78.3 329.2 80.4 330.7 85.0 328.4 87.8 329.5 87.6 327.2 89.1 326.4 92.1 328.2 97.0 326.4 95.8 324.8 96.9 326.6 98.9 325.9 103.1 326.7 107.5 325.0 108.1 388.6 264.0 387.5 266.8 389.1 269.6 387.7 271.5 389.0 275.7 388.9 278.1 390.8 278.1 481.6 216.6 478.1 215.4 476.4 216.0 473.6 213.5 472.1 216.4 468.4 212.2 468.5 213.2 465.4 212.6 462.6 212.0 460.4 213.0 459.2 212.0 456.9 212.7 455.0 212.0 401.6 218.6 403.9 220.7 405.5 221.9 405.7 222.9 408.5 225.9 409.3 227.2 409.6 227.6 411.8 232.2 410.9 233.5 413.0 234.9 550.2 296.9 549.4 299.1 548.1 302.3 549.2 305.1 549.0 307.6 550.0 308.4 548.9 311.7 548.1 312.8 549.7 315.4 390.7 211.9 389.5 209.1 391.5 207.8 391.9 205.1 393.2 204.2 433.6 334.0 432.6 334.3 431.0 336.5 431.4 338.8 430.5 339.2 428.0 341.5 426.6 345.1 426.4 347.7 446.4 147.4 443.6 149.9 443.0 152.3 443.2 152.0 443.4 156.4 442.0 159.5 440.3 161.5 437.9 161.5 439.3 164.6 436.0 165.5 418.7 214.7 420.8 214.7 422.9 215.0 426.6 213.5 426.2 215.8 429.1 214.1 431.2 214.9 434.1 212.6 437.2 213.3 436.7 210.7 439.5 209.4 440.2 207.9 441.0 208.0 446.0 206.1 446.8 205.4 455.8 253.1 456.4 251.4 458.2 247.7 460.1 247.9 460.8 245.8 464.5 243.2 463.9 242.8 471.8 236.2 469.5 236.0 468.5 238.9 465.9 239.0 465.5 240.0 463.5 240.0 468.3 303.1 469.1 299.8 469.2 297.9 469.9 296.2 470.3 291.4 469.7 291.4 469.9 286.2 469.7 286.0 470.2 284.7 470.2 280.2 470.9 277.8 472.3 278.1 475.1 274.3 476.0 271.8 408.5 210.1 413.7 211.5 415.7 210.5 417.8 211.5 418.4 212.1 422.7 209.0 424.2 210.3 427.3 211.2 427.7 208.8 429.1 208.4 431.4 209.4 435.1 208.9 436.8 209.3 436.8 208.0 482.0 195.4 480.5 198.0 479.8 200.8 480.8 202.2 479.0 206.6 478.9 207.9 510.3 217.3 510.7 216.2 510.3 210.7 510.8 208.8 512.9 205.2 510.7 205.2 511.1 204.5 512.3 201.8 514.8 198.3 515.1 196.1 513.2 194.4 383.4 158.4 382.2 154.6 382.2 152.1 382.1 150.7 384.8 148.0 385.0 146.1 385.8 142.1 386.8 144.1 388.6 138.2 391.5 137.4 392.8 136.6 393.3 136.0 394.9 135.0 396.8 130.8 400.5 132.0 401.5 132.1 403.3 130.3 421.0 155.1 415.6 156.2 415.6 156.7 413.4 155.9 410.7 155.2 410.2 158.1 406.9 156.8 405.9 157.6 404.9 157.3 401.9 156.8 400.0 158.3 394.9 159.8 393.6 159.8 392.2 162.1 391.7 161.6 390.3 163.4 415.5 161.1 415.7 161.7 417.6 163.7 420.6 167.1 421.6 166.6 422.8 169.7 423.9 170.6 425.6 173.2 427.0 174.2 356.1 234.0 357.6 231.3 357.1 229.7 354.6 226.4 355.3 227.0 353.6 225.6 351.1 220.5 348.6 222.7 347.4 218.9 438.9 167.8 437.6 170.0 441.4 170.0 441.7 172.1 443.3 173.5 445.5 173.0 449.9 171.9 450.8 173.1 453.0 174.9 453.8 176.1 382.3 277.0 382.8 276.4 387.2 274.2 388.4 271.0 391.5 272.4 392.0 270.7 396.7 268.1 396.6 268.4 398.3 268.3 400.2 266.7 403.1 265.1 400.8 261.3 401.4 206.4 406.5 204.7 406.3 207.0 409.9 205.8 412.0 207.6 414.3 204.7 415.2 206.1 419.3 203.0 421.8 203.3 423.0 201.2 422.8 200.6 425.4 197.7 427.4 198.0 429.0 195.8 464.5 309.7 462.0 311.8 467.9 310.6 469.6 314.0 472.5 313.4 474.4 314.2 476.4 314.2 478.9 316.5 480.0 315.8 483.2 320.8 485.0 318.6 486.0 321.8 485.9 323.7 488.0 323.0 490.9 324.6 493.0 325.3 493.6 326.9 495.9 328.4 499.8 330.7 445.8 293.9 445.0 296.1 450.5 297.3 450.7 296.8 453.5 300.3 454.9 301.4 455.7 304.0 457.2 305.1 459.6 306.3 461.6 306.9 463.4 309.0 381.4 192.0 380.5 197.5 378.5 197.3 376.2 201.4 376.4 203.6 372.7 202.1 371.4 204.4 370.8 204.4 367.9 207.7 367.4 208.1 364.4 208.8 362.0 208.9 360.9 211.6 357.2 210.6 355.8 210.3 355.2 212.9 352.5 214.3 349.8 214.5 442.5 277.6 442.2 275.1 441.8 272.7 443.4 272.7 444.0 267.1 441.5 265.6 442.6 264.1 441.8 261.0 443.1 260.0 442.7 257.0 468.2 317.7 467.3 318.8 465.9 321.1 466.2 323.9 468.9 327.7 467.6 329.5 467.1 328.6 538.9 207.4 535.2 208.6 532.5 212.8 532.1 210.8 531.8 213.5 528.4 214.6 530.1 214.8 526.5 218.1 524.1 220.0 524.9 220.1 523.3 221.1 520.4 223.6 516.9 224.1 515.8 224.5 514.9 224.3 511.5 226.1 510.2 226.4 507.5 226.1 505.4 229.9 438.6 248.5 436.4 249.3 434.8 249.4 432.6 246.4 430.9 249.3 429.6 249.0 425.8 247.7 422.3 250.9 420.7 250.9 374.3 245.0 375.1 243.0 377.3 241.9 379.2 239.9 381.4 238.1 382.3 237.6 384.7 236.7 386.5 234.8 471.1 194.8 472.3 196.3 473.9 197.3 476.0 199.2 479.0 198.7 480.2 202.9 482.1 201.5 482.8 203.3 486.6 205.7 487.0 206.6 489.1 208.2 490.2 210.0 491.0 211.0 492.5 213.0 496.0 213.5 498.1 215.5 499.9 217.2 500.3 217.6 499.6 221.3 500.4 224.4 498.9 232.6 503.3 231.5 501.0 229.2 503.9 229.1 508.6 227.9 510.4 226.0 510.3 225.7 510.7 220.8 514.2 219.5 514.7 218.5 516.1 219.0 517.8 215.1 518.4 214.1 521.3 212.3 523.0 212.1 524.0 210.5 524.3 205.2 526.7 206.2 528.1 203.4 453.4 181.5 454.5 180.3 451.9 180.5 449.0 179.3 448.9 176.3 447.8 176.1 443.4 177.4 442.1 177.7 438.7 174.3 436.1 174.2 434.5 172.5 433.9 171.9 432.7 173.0 430.8 170.4 428.3 170.0 425.5 167.7 370.7 249.0 371.5 244.6 375.6 244.6 377.3 243.9 379.0 243.9 382.5 245.0 383.2 242.4 384.0 243.5 445.4 223.3 444.8 227.1 445.5 228.3 442.6 231.5 443.0 233.1 443.5 237.1 442.9 237.4 443.7 239.0 442.7 243.1 441.6 243.4 442.5 247.6 453.1 233.0 455.0 236.9 452.3 240.1 453.3 242.5 452.9 245.5 453.7 247.8 451.7 249.5 452.5 251.9 449.3 111.5 454.1 110.4 456.3 112.1 457.8 112.2 460.9 113.9 462.0 114.6 462.7 117.1 464.4 118.7 467.6 120.5 468.9 118.1 471.0 121.3 473.2 121.4 474.2 122.1 476.4 124.3 478.8 125.0 481.5 126.8 482.7 128.4 484.9 126.8 359.6 257.8 360.2 257.8 361.3 265.2 364.4 264.8 364.6 265.2 365.5 268.1 366.2 268.4 435.1 201.3 432.4 202.8 430.2 202.8 428.5 205.9 426.8 204.8 424.7 208.1 424.5 209.4 421.6 210.4 421.1 213.4 419.7 212.4 417.2 215.0 416.1 215.6 412.5 217.6 413.9 219.5 414.2 222.2 409.0 225.0 410.3 225.1 408.5 224.1 406.8 228.2 404.2 231.6 463.5 229.2 465.6 232.7 467.6 233.6 468.2 236.4 468.8 239.1 470.3 240.1 471.4 244.6 472.4 245.3 472.0 247.0 473.9 249.6 474.7 252.0 472.0 252.2 475.7 255.5 478.3 256.1 476.4 260.9 476.2 260.2 476.5 263.9 475.0 266.5 473.5 269.9 469.6 207.0 466.2 206.3 465.3 206.3 463.6 206.0 459.7 205.9 458.5 204.3 455.6 204.3 454.2 202.6 451.8 205.0 449.9 203.5 449.2 204.7 445.8 203.8 442.8 202.2 442.5 201.9 439.5 201.0 438.2 198.6 436.0 198.7 366.2 257.4 367.0 260.4 369.8 257.6 372.0 255.8 373.1 254.7 373.7 253.4 378.3 256.2 379.5 251.8 382.3 252.4 382.9 253.0 386.5 250.5 387.1 250.7 388.6 249.6 391.0 246.8 393.1 248.1 396.2 247.7 397.5 245.3 399.1 248.2 420.3 146.7 419.5 149.4 419.2 151.4 420.3 154.4 421.7 156.4 542.6 287.2 543.5 288.0 544.3 287.5 546.9 284.1 548.7 282.0 548.4 278.3 550.7 277.5 551.0 274.7 553.5 273.3 553.5 272.4 553.3 270.2 555.5 267.2 555.9 265.5 559.2 261.7 558.5 261.7 560.1 261.9 559.0 259.3 560.2 254.6 562.3 252.8 562.9 252.5 435.7 199.4 437.9 198.1 440.7 200.0 441.8 200.8 444.5 203.5 446.9 203.2 447.2 204.7 448.9 206.5 451.7 207.3 453.3 208.0 455.5 210.9 457.7 213.5 458.8 210.5 462.3 212.1 463.7 213.9 464.1 215.5 466.8 216.2 469.2 218.5 413.0 155.9 414.1 159.8 414.6 162.6 414.3 163.8 414.7 165.4 415.3 167.6 415.2 170.6 416.8 171.7 416.4 175.4 418.7 178.2 419.5 179.6 419.0 180.8 417.8 182.7 456.0 289.2 459.1 282.9 456.7 281.4 459.1 279.2 457.1 277.7 457.6 275.4 458.6 272.7 458.6 272.7 456.7 269.3 458.3 267.7 455.8 263.2 455.0 262.6 454.1 259.2 453.9 256.1 453.6 256.6 356.7 175.3 358.3 174.5 358.9 174.0 363.3 172.4 366.3 174.2 367.0 173.1 500.8 320.0 503.2 319.5 502.9 318.0 506.7 319.0 508.4 317.1 510.4 313.5 520.0 257.5 518.3 256.5 514.1 254.5 513.5 254.6 511.9 254.6 510.1 253.2 506.5 254.0 504.9 251.2 502.6 251.9 500.4 252.2 499.1 251.9 497.0 252.7 494.6 252.3 491.7 250.0 488.4 251.1 487.9 248.7 487.4 247.6 484.8 246.2 485.0 245.1 451.7 302.4 450.8 299.7 451.0 297.4 449.4 294.7 452.1 292.3 451.7 292.5 450.8 287.9 451.8 286.7 449.2 284.2 449.0 281.4 449.2 279.0 448.5 278.9 448.0 277.0 446.5 273.2 447.8 271.5 330.1 255.8 329.9 256.7 329.8 251.6 327.5 252.0 327.5 249.4 327.5 247.7 327.1 242.7 325.5 242.6 328.2 240.4 325.7 239.5 324.6 236.1 323.5 234.1 324.8 231.4 363.7 99.5 362.2 101.4 360.6 101.8 357.2 105.0 356.8 103.6 354.0 108.0 352.2 107.4 350.5 108.9 350.1 108.9 346.9 110.3 344.0 111.0 342.1 113.3 340.3 115.0 512.7 203.8 516.0 202.7 517.6 203.4 521.0 203.0 521.4 202.6 522.6 204.1 527.1 202.9 528.8 202.3 530.9 199.5 531.6 200.8 534.9 199.7 535.5 199.0 538.4 195.9 541.0 194.0 441.5 263.5 443.4 264.3 447.9 262.8 445.7 259.3 450.8 262.4 451.7 260.7 453.6 259.1 457.3 262.5 458.5 258.5 461.9 256.4 461.6 256.0 465.6 255.9 469.1 256.1 467.9 258.2 449.6 242.1 448.0 241.8 445.6 243.9 444.9 241.8 441.5 242.3 441.3 244.8 437.2 245.6 434.3 246.9 420.2 198.6 420.3 195.6 418.7 195.1 415.2 193.0 412.7 192.1 410.8 191.5 411.9 188.4 508.9 273.1 512.2 272.4 513.3 273.5 514.4 272.3 517.3 273.0 519.9 271.9 522.9 272.7 524.6 273.4 526.4 275.6 528.3 275.7 529.2 273.9 532.9 277.5 286.9 146.8 288.6 146.3 287.3 141.8 285.2 140.6 284.8 138.8 284.0 137.3 283.2 135.2 284.8 132.4 416.6 178.8 412.6 177.1 408.7 177.2 407.6 179.2 405.8 180.9 403.9 177.7 400.5 179.1 399.8 179.5 396.6 178.9 395.3 180.4 392.5 182.6 389.7 182.9 390.3 183.4 422.8 156.8 420.0 157.3 419.4 156.4 417.5 158.5 416.0 160.5 413.9 159.3 413.6 163.1 410.9 163.6 410.5 164.9 405.5 165.0 403.0 166.7 403.4 167.9 399.7 169.6 400.9 169.3 396.8 170.4 571.7 289.0 575.0 285.9 574.6 285.6 576.5 285.8 579.9 284.4 580.6 283.9 583.7 283.9 586.3 282.0 587.1 279.7 590.6 279.0 591.0 280.4 593.8 278.7 594.2 278.1 598.5 277.9 600.5 277.2 418.5 184.9 420.5 186.9 419.7 189.3 423.5 188.3 422.6 194.2 424.5 196.3 426.2 197.6 425.5 202.4 424.9 202.0 424.5 203.5 426.5 208.3 424.5 208.6 425.9 210.6 425.7 214.2 426.8 214.7 548.0 162.7 548.6 165.1 550.7 168.9 547.7 169.8 549.6 172.5 460.2 212.5 459.3 210.3 456.4 209.4 453.1 207.1 452.0 205.6 450.5 206.8 448.9 206.0 446.1 206.4 443.4 202.3 442.0 201.6 442.0 202.5 440.3 201.1 437.4 198.0 436.5 199.1 527.2 282.0 531.1 283.6 531.8 282.8 533.9 279.5 536.8 279.5 536.7 279.2 538.9 278.2 538.3 275.1 541.2 273.3 415.3 241.2 412.7 238.9 411.6 235.4 410.5 237.2 409.0 232.2 409.2 231.5 408.6 229.4 405.9 226.9 403.9 226.1 403.7 223.8 400.4 223.1 398.8 221.3 399.0 217.8 397.8 217.7 392.9 217.5 393.0 213.7 501.5 355.0 502.3 358.9 503.6 359.9 505.3 360.8 506.1 360.7 511.1 363.3 510.8 364.8 512.1 365.8 512.6 368.9 516.4 370.5 464.8 104.9 464.3 106.2 461.6 108.1 459.8 108.5 457.9 108.7 455.4 109.8 453.9 110.2 450.8 109.8 450.2 110.2 445.5 108.9 443.2 110.9 441.5 109.8 441.1 111.1 438.0 112.1 437.5 111.5 433.1 113.2 431.9 111.9 429.9 114.7 428.7 113.5 494.5 242.2 494.6 245.9 495.8 247.8 497.2 248.2 498.4 252.4 498.8 252.9 498.0 255.9 499.8 260.4 477.8 151.6 477.3 148.5 477.6 146.5 477.1 144.3 477.0 142.8 475.5 137.0 475.8 137.1 475.1 135.0 474.9 132.7 473.9 131.4 473.3 129.4 472.7 125.2 470.7 122.7 471.1 122.9 470.6 118.4 470.6 116.2 471.7 115.8 470.1 112.4 469.3 112.9 483.2 228.1 483.1 232.1 486.2 233.9 487.1 236.0 488.5 237.2 487.2 240.7 488.8 243.4 490.7 243.0 494.4 248.5 494.5 247.8 434.1 179.6 437.2 178.8 438.5 178.1 442.0 178.8 444.6 177.3 445.5 176.1 448.4 174.7 450.2 175.0 452.3 173.3 454.2 172.3 455.2 169.6 457.1 170.6 456.9 167.1 461.5 166.9 462.6 165.6 462.1 162.7 464.1 161.5 473.8 283.9 472.6 286.5 473.2 290.2 472.9 293.7 470.4 293.7 470.3 296.7 472.0 300.7 471.8 301.3 419.8 245.4 414.3 244.0 413.6 242.7 410.0 246.4 407.5 243.2 406.3 245.4 405.3 244.9 402.0 243.5 399.1 245.2 398.7 245.1 396.5 246.8 393.7 244.0 389.9 245.3 388.8 246.6 387.1 246.3 384.2 246.7 380.9 246.7 453.5 269.9 454.2 270.2 457.1 271.4 457.3 271.7 460.9 273.3 450.7 262.1 448.0 261.1 446.8 258.8 445.4 255.5 444.8 253.4 403.1 177.3 401.0 174.3 399.6 173.4 397.5 170.9 396.8 172.0 393.6 171.5 393.0 171.4 392.0 168.3 387.5 166.6 456.6 193.8 457.5 198.1 457.9 199.1 458.6 202.6 459.7 204.6 459.8 204.8 461.2 207.6 461.3 208.3 463.7 211.4 463.8 214.8 464.4 216.7 465.3 220.1 465.0 222.2 466.2 221.6 466.7 224.4 431.2 234.6 432.0 233.4 435.7 231.7 437.2 230.8 440.6 228.8 440.6 227.7 444.2 228.2 445.7 224.5 446.5 226.5 449.2 227.0 452.6 227.6 454.8 227.1 454.1 226.1 456.8 227.4 462.2 226.4 462.2 227.4 463.4 228.9 465.6 227.0 373.0 260.6 374.4 259.6 378.1 259.2 377.4 256.9 379.7 254.7 381.8 254.6 384.2 253.0 386.0 253.2 389.5 250.1 388.7 249.0 392.4 246.7 393.0 243.9 394.3 245.4 393.2 243.5 398.3 241.0 429.7 195.4 427.2 193.2 424.8 195.8 423.3 194.0 421.4 193.7 484.7 207.7 482.4 210.7 481.1 213.6 479.0 213.2 479.7 215.9 478.1 219.0 475.9 220.5 330.7 230.4 328.9 230.7 330.0 227.3 327.6 225.8 325.3 222.9 324.2 221.2 324.6 220.3 389.8 230.1 387.6 231.6 386.5 233.5 383.5 232.0 380.9 236.5 380.0 235.2 377.4 239.2 375.2 236.3 372.5 237.8 371.7 240.8 490.1 292.8 491.0 289.2 491.7 290.4 492.7 285.0 494.3 285.0 494.0 282.3 495.1 279.6 496.5 276.5 496.2 275.9 495.2 272.8 404.3 305.8 401.8 305.3 400.7 311.2 396.9 308.9 398.6 311.8 395.2 313.7 395.4 314.9 395.1 315.8 390.4 318.5 511.6 162.4 509.6 161.0 507.4 165.5 504.6 165.4 504.6 167.0 503.7 166.7 500.7 170.1 500.1 171.5 498.5 171.9 497.1 177.0 432.4 281.7 434.2 278.9 435.2 278.1 436.4 274.4 437.3 272.9 438.5 271.3 439.2 266.0 441.0 265.8 440.0 264.5 442.2 260.8 441.6 258.1 441.2 256.8 431.8 247.6 430.3 247.7 430.2 248.9 427.9 249.8 425.5 247.2 422.5 249.0 420.1 251.1 419.3 249.9 415.3 250.1 414.1 246.8 410.4 248.7 408.9 250.0 406.4 247.0 481.7 105.2 478.7 102.6 478.7 100.3 475.8 100.2 476.3 99.2 473.3 97.1 471.4 95.2 470.1 92.0 468.0 93.7 468.3 91.5 465.2 90.7 464.8 88.3 460.7 88.6 459.8 87.1 457.4 85.9 456.3 83.6 455.3 82.7 452.4 81.1 520.0 231.2 521.0 232.0 521.8 231.5 524.7 232.2 525.7 232.3 530.2 233.4 531.3 235.2 533.2 234.1 536.1 234.9 538.7 235.5 540.5 236.1 542.6 236.2 543.1 236.4 546.6 238.1 548.6 237.7 552.8 235.7 551.2 235.5 407.0 170.4 411.4 170.8 414.3 171.6 416.2 169.7 417.3 169.2 419.8 168.5 423.1 170.6 425.0 171.3 426.8 169.2 427.9 169.7 430.1 171.3 434.4 170.7 438.1 223.9 437.8 224.8 437.5 228.3 439.7 232.1 437.7 233.0 438.6 235.2 439.6 237.6 437.6 238.5 438.7 243.1 439.9 247.1 405.6 286.4 406.7 289.9 408.3 293.6 407.0 294.2 408.2 296.3 407.4 297.3 408.9 299.3 409.7 303.3 408.8 306.1 410.6 308.5 408.5 308.8 411.0 312.7 407.9 312.6 406.9 315.5 406.8 317.7 408.6 321.9 539.6 261.2 541.1 261.2 540.5 260.7 542.3 255.8 542.9 255.9 541.4 252.1 542.6 249.7 543.3 247.0 470.6 164.6 469.6 160.8 469.7 161.0 467.9 157.6 467.0 155.5 466.4 152.0 468.4 149.9 467.5 148.7 420.8 124.3 420.3 127.0 418.9 128.0 419.0 130.3 420.2 133.6 421.2 131.2 421.5 137.1 422.5 137.9 423.5 140.2 423.9 143.0 423.3 145.7 422.0 147.0 431.7 100.5 429.9 104.0 427.5 104.1 426.2 104.0 423.7 105.3 420.9 106.2 426.2 146.4 427.7 146.5 424.8 144.3 421.6 142.7 421.2 142.4 386.4 159.2 382.3 159.1 382.8 160.5 380.8 162.2 380.9 164.1 378.1 163.9 376.9 167.8 374.4 171.9 372.9 169.2 372.3 174.0 372.4 175.2 367.2 175.8 369.2 177.8 365.8 179.9 365.4 181.2 364.3 183.5 393.8 67.5 395.9 69.2 397.6 70.6 397.0 70.2 400.4 73.6 402.3 72.3 402.0 74.6 404.8 76.3 408.1 78.0 409.4 79.0 409.7 80.1 412.5 80.7 413.7 80.1 415.2 82.6 419.3 84.6 419.7 86.4 419.4 162.9 417.6 166.5 420.2 168.4 421.9 168.7 421.2 171.2 425.3 174.2 421.7 176.0 423.3 179.2 425.0 180.4 468.7 204.6 468.0 202.0 469.6 200.8 471.6 199.7 473.1 198.5 475.2 197.0 477.6 195.3 478.6 193.9 478.1 191.6 480.8 191.1 481.7 190.1 481.7 187.5 487.1 183.9 488.5 184.9 489.7 183.0 491.3 182.2 435.2 97.7 437.5 95.4 438.9 99.9 442.3 97.3 442.1 100.1 445.6 99.7 445.7 104.6 448.4 105.6 450.8 105.4 450.5 107.6 452.7 106.6 455.5 110.9 457.0 112.2 458.0 111.9 459.6 114.4 444.1 103.0 444.1 102.6 441.8 100.4 440.8 97.4 440.5 97.1 436.5 94.5 437.2 93.5 435.9 92.4 433.5 89.9 434.6 85.8 433.7 84.0 432.6 84.6 431.8 79.4 432.9 78.8 438.0 51.2 438.0 50.3 438.6 49.9 442.3 51.1 443.6 51.4 448.0 50.8 449.4 50.1 451.1 52.0 452.8 53.0 454.8 53.7 457.5 56.2 460.4 56.9 434.8 97.5 432.3 95.4 433.3 94.8 428.8 93.2 427.6 90.7 427.1 89.9 427.5 88.0 424.1 85.9 420.9 86.4 421.7 84.0 418.0 81.7 415.8 81.0 413.5 80.5 352.2 87.3 351.2 86.6 346.4 87.0 345.4 86.1 342.8 84.3 341.8 84.3 338.5 84.4 337.1 84.1 349.6 121.3 346.8 123.2 346.3 125.9 345.2 128.0 341.7 127.6 339.0 129.3 337.7 130.1 336.7 130.6 332.7 131.5 331.7 131.5 328.2 131.2 328.0 132.3 439.9 145.9 439.7 143.4 444.2 142.2 443.9 141.6 446.7 139.9 447.2 137.4 449.2 137.1 451.9 134.6 452.8 132.3 454.7 130.2 454.2 129.9 456.7 125.9 459.3 125.5 459.4 124.8 440.7 233.5 441.2 236.6 443.6 237.7 446.5 238.2 448.1 238.2 452.4 238.6 453.1 238.9 456.1 240.0 337.4 132.3 341.2 132.8 343.0 133.1 345.7 131.2 347.3 130.9 348.5 130.2 543.6 100.0 543.0 102.6 539.7 101.1 536.0 101.4 535.5 102.1 470.9 110.0 473.8 110.7 474.9 108.5 475.5 108.5 478.6 108.5 481.6 105.4 483.3 108.1 483.8 106.8 487.6 105.9 471.3 84.7 474.5 83.6 473.9 82.9 476.0 81.4 479.0 79.7 481.0 79.2 482.3 77.2 486.6 76.7 486.9 76.2 463.4 114.7 465.6 116.3 463.2 118.5 461.8 121.5 463.6 122.4 463.8 127.6 462.5 129.0 462.0 131.3 464.0 134.6 464.1 136.1 463.8 137.3 462.7 139.5 464.6 140.5 419.2 110.6 417.1 111.6 417.3 107.9 416.9 104.6 417.2 102.0 420.0 100.3 420.6 99.1 421.5 99.4 423.6 93.8 424.6 93.5 424.4 90.6 424.7 90.3 422.9 74.9 423.1 73.6 424.2 71.7 425.1 69.3 426.3 67.3 428.1 64.7 429.4 64.8 464.0 68.5 462.4 71.6 464.8 73.7 467.9 74.5 466.4 75.7 468.5 80.1 368.4 139.5 370.7 140.4 374.0 139.4 376.3 141.3 377.7 144.9 408.7 153.2 405.9 156.9 404.6 157.6 405.2 159.6 404.9 164.1 405.0 165.5 402.9 168.1 403.3 167.9 402.2 172.9 403.3 173.2 459.5 117.9 458.3 116.7 458.7 111.0 457.4 112.4 460.2 108.1 459.4 105.3 358.6 121.8 358.3 123.1 359.1 124.9 359.2 129.6 359.8 130.3 357.3 132.9 356.9 135.3 357.3 136.1 355.7 138.2 345.7 49.4 346.8 50.3 350.7 49.2 351.3 49.7 354.1 46.4 355.3 47.7 448.2 66.9 447.0 69.1 447.8 72.4 447.5 71.1 449.6 75.7 447.2 78.0 379.7 93.8 377.4 91.4 376.2 91.2 373.3 88.3 372.8 88.1 368.6 88.6 365.6 88.6 365.0 87.4 362.5 89.3 361.2 88.6 357.1 88.1 356.9 87.4 421.4 109.0 420.8 111.2 423.7 114.6 422.1 116.9 419.7 117.6 421.4 120.9 420.6 124.8 436.4 173.9 433.2 174.6 430.3 176.7 427.4 177.5 426.4 176.0 366.8 102.4 366.0 103.7 365.4 105.5 362.8 108.6 361.8 109.6 360.8 110.6 360.8 112.8 450.9 66.4 448.8 67.1 446.4 70.2 443.6 70.0 444.1 70.0 439.8 71.2 438.2 70.9 437.9 72.6 434.5 70.0 432.2 69.8 399.3 161.7 400.7 163.9 400.9 167.6 403.8 167.1 402.4 171.3 404.6 174.5 405.8 174.2 405.4 177.1 407.0 178.4 405.9 182.8 406.1 183.0 403.7 187.5 364.6 84.8 363.7 84.0 363.5 83.7 361.3 81.8 362.1 78.9 360.3 75.8 360.8 73.1 360.2 68.6 411.8 150.9 414.0 155.0 414.6 154.2 414.1 157.3 416.4 157.6 416.6 160.3 340.2 117.4 340.6 114.9 340.7 112.9 341.2 110.7 340.3 106.0 393.7 72.1 393.5 72.5 387.8 73.3 386.5 71.6 384.6 72.9 380.8 71.4 381.1 70.8 377.7 70.6 375.0 69.7 374.6 67.5 372.1 67.7 370.6 66.5 367.9 65.0 366.1 65.3 399.9 35.1 401.1 34.6 404.1 36.1 409.7 35.5 409.0 33.5 427.4 151.9 426.9 149.6 427.8 146.7 429.9 144.5 428.2 144.0 427.8 141.4 427.3 136.6 426.2 135.3 426.6 134.9 424.6 129.9 424.5 128.7 423.2 128.7 421.6 126.4 420.8 122.8 419.2 123.5 468.3 101.9 469.1 102.0 467.4 105.7 465.1 108.7 463.5 110.9 464.9 113.5 462.4 114.3 462.8 116.6 461.6 118.0 461.6 121.5 463.1 123.0 428.3 94.3 429.1 95.3 432.0 95.0 434.2 96.4 435.9 94.7 439.6 95.9 440.5 97.2 443.3 97.7 443.6 98.7 448.5 100.5 450.5 99.6 451.0 102.9 452.2 102.0 455.2 103.4 433.3 44.6 434.9 45.7 436.0 44.7 439.0 44.2 443.6 44.5 442.2 45.2 444.4 45.7 445.7 44.6 449.9 46.2 453.5 45.9 454.4 46.5 456.6 47.4 456.3 45.6 462.4 47.9 414.1 102.5 415.8 102.0 418.0 105.4 418.5 104.1 422.0 107.0 424.4 106.1 427.0 107.4 427.0 106.6 428.6 107.0 431.3 105.6 434.6 108.0 435.1 106.1 435.5 69.0 434.1 66.8 432.0 63.5 431.2 63.4 431.0 63.3 431.7 59.8 430.2 54.8 429.9 55.8 428.5 54.2 428.7 52.0 426.7 49.8 428.3 47.6 428.6 44.5 423.7 110.8 419.3 110.3 416.0 111.8 416.3 111.4 413.7 108.7 413.0 111.2 409.9 108.7 408.3 107.2 404.5 107.7 403.0 106.8 400.6 107.2 398.6 105.5 396.1 108.1 443.6 66.8 442.3 66.1 440.2 72.0 439.7 73.0 436.5 74.5 436.4 72.1 432.1 77.3 431.2 78.0 428.0 77.1 427.7 76.8 426.5 83.0 423.3 80.3 422.2 80.7 454.7 75.0 454.2 72.4 456.7 75.5 459.4 76.7 461.0 80.3 461.1 82.5 462.4 83.4 465.6 85.1 462.4 163.6 462.5 165.4 466.1 162.2 467.7 163.1 470.7 160.9 469.6 160.5 448.0 6.9 449.2 8.1 449.9 11.1 450.6 12.1 453.3 15.1 454.2 14.9 454.7 16.0 458.3 18.7 392.3 83.7 394.4 86.7 393.9 87.1 395.9 91.2 395.9 91.6 397.4 95.1 400.6 95.0 401.0 98.1 401.9 99.9 403.1 100.0 404.2 103.3 406.0 106.0 409.5 104.6 408.5 106.8 412.8 108.3 421.5 82.1 424.2 79.6 426.2 80.3 429.1 80.0 429.8 77.9 430.8 74.8 410.3 109.8 406.4 110.7 405.1 111.6 401.5 110.5 401.3 111.9 383.6 150.3 379.3 152.0 378.0 151.4 375.5 151.9 372.9 155.1 372.9 155.3 367.8 156.8 366.6 158.1 366.8 159.1 363.8 159.9 361.9 159.6 360.1 161.3 356.9 162.9 387.3 36.1 388.6 34.9 394.2 35.5 396.4 38.6 398.1 38.2 400.4 37.9 401.3 38.6 403.3 39.6 403.9 39.0 408.0 42.4 410.4 43.4 410.9 42.8 413.9 43.3 415.8 43.9 395.2 125.2 392.7 127.9 391.2 128.3 387.1 128.4 384.1 131.5 384.2 131.1 381.0 131.9 379.0 133.1 377.7 135.8 402.9 92.2 405.0 90.9 408.2 91.2 408.6 90.1 412.3 86.9 412.7 85.0 414.4 83.7 415.6 82.6 417.5 80.4 418.3 78.6 420.3 74.7 419.8 76.2 422.0 74.0 425.7 72.2 425.6 73.3 429.1 68.4 410.1 97.9 410.2 99.8 412.5 105.1 411.4 104.9 412.5 108.0 410.9 110.3 411.9 109.3 410.2 113.1 412.0 117.0 408.7 72.5 406.1 73.5 405.6 76.1 401.9 74.7 400.7 77.4 398.9 78.9 395.4 79.4 395.1 81.9 394.5 83.0 390.3 85.2 391.2 84.2 389.5 86.8 458.2 116.7 454.3 117.8 452.8 119.9 450.5 121.0 449.4 121.2 446.5 122.3 445.5 123.5 444.1 123.8 440.8 124.7 438.9 126.0 436.5 125.3 441.3 53.1 441.4 53.8 442.9 54.2 447.2 53.4 447.2 51.0 449.8 49.7 450.0 47.3 452.0 47.1 454.4 44.9 456.4 46.5 458.0 44.7 462.0 44.0 462.2 43.6 458.6 65.5 463.7 63.7 463.1 62.8 464.6 61.1 468.6 59.1 467.9 56.3 468.1 55.1 470.6 54.5 453.6 144.2 455.0 141.4 453.9 138.6 451.7 134.8 452.4 134.5 451.1 133.0 446.4 131.3 447.3 129.5 447.3 131.1 444.7 124.3 443.2 124.2 441.7 121.4 441.5 120.0 440.6 116.4 439.9 116.6 437.5 114.6 411.6 131.4 410.6 131.3 410.7 136.7 411.3 138.3 410.5 140.0 409.6 142.1 409.5 143.0 408.9 146.8 408.1 149.3 407.7 150.9 434.5 70.4 432.6 73.3 432.5 73.7 429.9 72.8 427.9 74.8 424.9 74.1 421.6 74.3 420.8 75.2 417.9 77.8 417.5 77.0 413.4 75.8 411.6 76.5 408.8 76.4 409.3 75.7 406.7 77.4 403.8 74.7 418.9 113.6 423.3 113.1 422.2 112.4 427.1 110.7 427.1 109.8 430.1 109.9 432.0 118.4 430.5 120.8 429.6 122.9 428.5 123.7 427.6 126.6 413.0 36.0 412.4 35.6 409.9 34.5 406.1 33.7 404.2 36.6 402.3 33.6 498.4 40.4 496.7 40.3 495.7 42.1 494.0 43.8 492.6 46.8 492.6 47.9 491.9 51.9 492.8 51.8 493.3 56.9 493.7 56.1 415.1 78.4 413.0 76.5 409.7 78.4 408.0 77.8 405.5 76.3 404.7 77.2 403.3 77.7 402.6 77.4 399.3 77.1 396.6 75.2 392.8 75.4 390.2 76.1 388.5 76.9 384.2 80.2 381.5 79.2 381.8 77.7 381.4 76.2 380.4 72.6 379.9 71.1 377.8 68.9 377.5 68.6 451.7 87.7 453.5 87.2 454.4 88.9 459.5 88.7 459.8 90.2 462.6 91.1 462.9 90.5 465.2 91.5 468.3 90.8 470.1 92.1 406.8 95.3 408.8 97.2 408.3 99.9 408.5 101.9 410.3 105.4 412.8 105.6 413.3 108.8 425.7 145.5 424.9 147.3 425.2 147.6 428.8 152.1 428.0 152.9 430.1 153.8 430.8 156.5 432.5 159.5 431.3 159.7 433.3 162.2 380.6 127.6 382.3 129.5 382.2 130.8 381.9 133.7 384.1 136.3 383.3 137.8 385.2 141.0 386.6 141.3 387.4 144.6 386.8 147.2 381.4 102.3 380.9 103.6 380.2 105.6 378.8 107.4 378.9 107.1 386.1 117.0 384.8 116.1 384.6 113.6 381.0 112.7 384.1 108.6 380.8 108.1 380.4 104.9 377.7 102.5 379.1 100.0 375.7 99.4 374.7 97.1 372.9 96.2 373.5 93.7 369.8 93.8 366.9 91.5 402.8 38.2 405.8 38.1 407.7 39.9 410.1 43.1 410.6 44.4 411.2 44.0 411.2 48.5 416.4 47.2 415.1 48.9 418.9 52.5 441.8 136.8 441.0 135.5 441.6 131.3 443.5 128.9 442.7 128.0 446.5 126.7 445.9 124.0 446.2 121.8 448.1 120.5 449.7 117.9 452.6 116.9 452.7 114.3 454.2 113.4" fill="none" clip-path="url(#kb)" style="marker:url(#r10)"/>
<path d="M436.5 256.2 437.7 255.0 437.5 250.1 437.4 249.2 436.3 245.5 435.3 243.1 435.2 241.8 434.4 240.1 434.3 238.3 432.3 235.8 430.9 234.3 431.7 232.7 444.4 315.3 446.6 315.3 447.5 316.3 450.9 316.0 454.9 315.9 455.4 314.8 456.3 315.3 458.9 317.3 461.9 315.7 463.4 316.6 465.4 317.3 465.5 316.0 470.3 316.9 472.4 317.7 445.6 300.5 443.7 301.3 439.8 303.0 440.6 303.5 438.6 308.6 437.8 306.9 435.4 309.9 432.4 310.8 431.5 313.4 425.9 278.5 429.7 278.8 431.7 282.7 434.2 283.5 433.8 286.1 435.8 286.5 436.0 289.0 436.7 291.1 439.7 291.4 440.9 295.4 444.5 293.6 443.8 296.1 447.7 297.7 448.8 299.4 449.5 303.0 448.9 303.1 451.9 304.0 438.7 244.3 439.2 246.5 437.0 247.1 435.0 247.0 431.9 249.2 431.2 248.3 427.3 251.7 427.5 251.4 425.3 252.6 422.2 251.2 420.6 254.7 419.0 254.6 416.2 254.9 414.9 254.0 411.6 255.7 408.9 257.9 407.8 258.2 407.7 257.9 404.2 257.5 401.3 256.5 400.2 256.3 397.8 254.8 461.6 303.9 463.3 303.8 458.9 308.6 458.6 311.3 459.1 313.8 459.1 313.0 456.6 318.5 459.1 319.4 456.0 321.4 456.5 325.1 456.7 327.9 457.4 329.6 459.9 330.1 457.9 308.3 457.3 306.3 456.1 306.9 455.6 304.7 453.3 302.0 453.2 301.5 451.4 299.2 452.5 295.9 471.7 300.7 471.0 302.3 470.5 304.6 466.9 306.7 468.2 309.0 465.3 310.8 464.3 312.6 463.7 314.8 442.7 279.3 445.3 282.8 445.9 283.7 446.8 285.8 446.2 286.4 448.2 288.7 450.3 290.4 450.8 291.9 452.1 295.4 455.0 296.6 455.8 297.8 456.7 297.1 458.5 301.4 461.5 301.4 462.9 302.2 463.1 305.9 467.1 305.5 467.7 308.1 470.0 309.6 469.6 310.7 443.3 288.3 444.1 289.4 446.1 289.7 450.3 288.1 450.9 288.6 455.3 289.1 455.5 290.5 456.1 290.7 459.1 291.0 460.9 293.2 463.5 296.3 466.2 295.0 466.5 296.6 470.0 297.7 469.9 298.1 472.4 299.4 473.7 302.0 476.7 302.4 477.3 304.6 481.2 304.2 479.3 305.8 478.4 254.3 478.8 255.5 480.5 258.4 479.2 260.3 478.1 263.6 480.3 266.4 479.7 269.3 481.8 271.1 430.9 229.8 433.0 229.5 433.2 227.1 436.1 227.7 438.5 223.0 440.7 223.5 443.2 224.7 442.7 221.5 445.6 221.5 449.2 219.4 449.3 218.3 452.3 217.2 455.7 220.0 455.6 218.2 457.7 218.3 459.4 220.4 461.3 218.0 463.7 218.0 435.1 320.4 431.8 322.2 427.8 320.8 426.0 320.8 426.0 320.5 421.9 319.9 418.5 320.5 419.6 319.3 416.3 319.2 412.9 318.0 410.7 316.1 408.3 319.2 407.6 317.3 407.4 317.4 409.7 315.1 408.4 309.5 411.5 307.3 411.2 306.0 414.1 303.1 412.6 304.3 414.5 300.9 478.5 280.5 478.5 280.2 479.8 276.1 479.8 274.0 480.8 273.8 481.6 271.3 482.4 268.9 484.0 269.4 483.4 265.0 483.7 262.1 487.3 261.0 485.4 258.4 484.7 256.3 487.2 253.9 487.8 251.7 489.3 249.6 489.5 246.9 490.1 245.3 490.4 243.5 492.7 241.1 452.8 292.0 452.0 292.5 448.7 293.4 445.5 292.5 445.2 292.8 442.3 292.6 438.7 291.0 470.2 305.9 469.9 308.0 468.3 309.8 466.7 312.7 467.6 313.4 467.6 317.0 467.6 319.6 463.7 320.5 465.4 322.2 464.8 324.4 462.9 328.9 460.5 327.0 459.1 329.9 458.7 328.7 458.5 334.1 457.6 338.3 457.2 338.4 455.9 340.3 452.9 342.6 470.7 311.1 474.2 311.8 476.2 313.1 478.3 311.8 481.0 316.8 482.5 317.0 484.3 316.9 485.6 318.4 488.5 319.7 489.6 319.2 494.2 321.5 492.4 323.7 494.0 325.2 497.6 327.7 497.5 327.0 426.1 283.3 425.1 284.6 427.1 287.7 425.3 288.9 426.0 290.2 425.7 293.7 426.7 296.6 426.5 299.3 445.3 271.9 444.8 273.3 442.2 272.6 439.3 273.4 438.1 274.4 434.0 272.7 433.0 273.6 432.9 275.1 429.3 277.5 460.4 277.1 461.1 275.5 463.0 276.3 463.6 273.0 464.5 268.6 464.4 266.7 463.4 266.6 467.0 264.9 469.5 262.7 470.8 259.7 473.5 259.4 499.9 289.0 501.2 292.3 500.7 294.2 503.3 296.9 504.1 298.4 506.0 300.0 504.4 302.2 504.8 306.6 506.3 308.1 505.8 308.5 505.7 314.1 508.4 313.2 419.5 270.6 421.3 272.8 421.5 274.5 423.6 275.1 423.8 276.9 428.3 278.6 429.1 279.5 430.2 280.0 434.2 283.0 435.7 282.4 438.7 283.3 438.0 284.4 440.4 288.0 470.5 274.4 473.0 273.6 476.9 269.8 476.0 268.4 477.5 267.3 480.1 266.6 482.2 264.7 483.8 262.0 483.7 262.1 483.9 258.3 459.3 268.5 459.7 270.3 458.0 272.7 456.0 274.4 453.7 275.8 453.3 278.2 451.6 280.5 450.1 280.3 448.7 283.3 447.3 285.0 445.9 286.1 445.3 288.3 444.7 291.6 443.6 293.4 442.4 297.2 441.9 297.3 444.0 301.8 440.9 303.8 436.4 269.7 436.5 270.7 436.3 271.1 434.8 275.6 434.5 277.1 434.9 279.7 434.6 281.4 433.4 286.8 431.6 286.9 433.8 288.8 432.7 291.8 431.5 292.7 432.3 297.1 432.2 297.9 449.9 259.4 450.1 263.2 449.6 266.4 448.4 268.3 450.1 268.3 449.8 272.4 448.7 273.9 450.8 275.4 448.9 278.0 479.2 251.3 479.6 250.6 483.3 245.4 482.9 244.9 484.0 243.2 486.6 242.4 488.5 239.7 491.1 239.5 492.7 240.0 494.3 238.9 497.5 236.0 500.1 237.6 501.2 239.3 504.1 237.0 505.5 237.1 465.5 306.7 465.7 308.2 468.7 309.2 470.3 306.6 472.2 305.6 474.3 308.0 474.0 306.2 478.8 303.9 480.6 304.5 484.0 304.2 484.5 303.1 487.2 301.9 487.1 299.1 488.9 298.0 492.8 299.3 496.1 297.4 496.9 296.3 498.4 293.6 453.1 278.1 456.8 277.4 457.2 276.1 459.1 278.0 461.3 275.7 462.9 276.0 467.1 277.7 468.6 276.9 471.2 277.7 471.8 276.3 473.3 279.0 477.5 277.9 479.3 276.3 481.3 278.4 481.0 274.0 443.2 264.0 447.0 265.3 446.9 263.6 450.3 263.7 451.7 263.7 453.8 262.8 456.2 263.5 459.5 266.3 459.9 264.2 463.3 265.8 466.7 264.6 468.7 264.8 469.8 266.6 471.4 266.5 442.7 206.4 443.4 208.6 445.2 211.0 444.5 212.7 447.6 213.6 445.9 216.2 447.4 217.8 449.4 221.4 450.5 222.7 451.4 226.7 451.3 225.7 454.4 229.0 454.6 230.5 454.9 232.5 454.9 235.4 456.0 236.1 455.7 240.2 457.0 241.2 458.5 243.7 459.6 247.0 459.3 246.7 461.4 251.8 519.0 308.3 516.4 304.2 516.5 303.4 514.1 304.1 512.6 299.2 512.1 300.1 510.3 298.6 507.5 296.3 508.2 293.3 505.2 291.6 505.3 289.7 503.7 286.3 502.1 287.2 501.2 284.9 499.9 281.7 497.9 279.7 498.2 278.2 497.4 276.2 495.2 273.5 444.7 255.9 445.5 253.0 448.2 252.0 450.0 250.9 452.0 251.3 454.6 250.5 456.2 252.1 458.1 249.2 460.7 248.7 462.2 245.9 464.2 247.6 466.1 247.6 468.8 260.0 468.2 263.3 467.4 264.6 464.4 267.8 463.9 269.4 463.5 271.9 462.6 273.2 462.4 276.2 460.1 277.2 459.2 280.6 457.4 282.4 459.2 285.8 457.3 287.1 451.5 253.2 448.3 252.8 448.1 255.9 444.8 253.4 442.3 253.6 440.6 254.5 436.5 256.6 435.9 255.8 435.6 256.7 434.1 256.2 430.8 256.3 427.6 257.0 424.6 254.0 422.6 254.6 421.7 253.7 448.7 248.8 446.9 250.1 444.0 251.0 442.5 252.3 441.4 252.2 438.0 251.3 436.9 253.8 434.9 253.5 431.5 253.9 428.7 252.4 428.0 253.0 425.0 252.9 423.7 249.6 421.4 248.5 421.2 247.7 418.0 247.1 417.5 244.3 460.4 276.9 458.4 278.1 457.6 276.3 454.5 273.9 453.6 272.1 453.0 271.5 449.3 268.3 448.1 265.9 448.2 267.7 446.5 262.6 444.4 262.9 443.5 259.4 442.9 257.6 440.3 255.5 438.6 320.3 441.4 317.2 442.0 318.5 445.0 316.0 444.5 315.1 445.6 312.1 448.0 308.4 472.4 306.9 471.1 306.7 469.1 306.2 464.9 305.8 464.1 305.7 463.1 306.8 460.4 309.2 458.7 310.0 455.2 309.6 453.5 310.0 452.5 310.0 449.5 309.5 447.4 309.5 445.8 310.4 443.6 307.6 439.6 309.6 458.9 252.2 459.6 255.6 461.8 256.9 462.5 258.1 464.1 260.4 465.6 262.1 466.0 263.5 471.2 263.3 471.6 266.9 473.4 265.9 474.4 267.5 477.7 269.5 478.9 269.4 481.3 269.7 484.2 270.8 483.4 272.3 469.9 226.9 471.8 231.5 473.2 231.3 475.8 231.7 477.3 232.8 478.5 233.6 474.8 271.1 473.7 272.3 471.7 268.7 468.5 268.4 467.2 265.8 466.5 266.0 463.9 265.4 462.1 265.7 457.4 264.4 459.3 263.4 429.5 283.8 427.3 283.8 428.2 287.8 426.4 290.1 425.7 290.4 425.6 293.1 422.2 294.4 424.4 298.1 424.6 300.7 424.2 304.1 423.0 303.6 423.4 306.3 422.3 308.9 421.6 312.9 422.8 314.8 423.0 315.7 422.8 319.4 423.2 321.2 423.4 323.6 422.5 326.0 468.3 283.1 466.5 282.0 464.5 281.2 466.8 279.1 461.9 275.8 462.4 273.5 460.7 271.6 459.9 270.7 457.2 267.5 455.6 267.4 408.6 271.4 408.4 271.1 408.4 272.3 406.7 277.5 406.5 277.6 402.5 278.2 401.5 281.8 400.2 284.1 400.5 285.7 399.6 285.9 398.2 289.9 396.4 291.5 395.0 291.6 392.9 292.2 393.4 293.9 389.0 295.9 388.2 298.9 386.7 299.6 384.7 301.7 384.1 302.1 439.4 293.5 444.6 294.1 444.3 298.4 446.2 298.5 446.5 300.6 446.9 303.1 448.4 305.6 448.6 304.5 449.6 307.3 452.0 308.6 452.9 312.1 410.1 278.0 412.0 279.0 415.4 279.0 417.6 275.1 418.8 276.3 421.6 275.7 422.5 274.6 423.3 272.5 426.5 270.2 428.4 269.3 466.8 245.3 467.4 243.0 469.2 242.9 469.4 241.1 472.7 238.2 471.6 235.3 473.5 234.5 475.8 231.0 475.6 228.4 478.2 227.0 475.9 224.8 476.4 223.5 477.1 219.9 480.0 221.0 479.5 219.5 481.5 214.3 482.9 213.8 483.4 211.0 485.0 209.0 486.0 206.7 487.3 204.6 436.6 228.9 436.1 233.8 438.0 233.4 439.0 236.4 441.3 235.7 442.7 239.0 439.9 242.1 442.9 240.5 444.4 245.5 446.8 246.4 447.5 246.4 460.8 276.5 456.6 273.9 456.6 275.3 454.9 273.2 449.4 273.8 450.2 272.7 448.3 271.3 446.4 268.8 443.3 269.0 444.3 270.5 442.1 263.6 440.3 262.9 438.1 262.4 437.0 261.5 435.9 258.9 434.4 255.6 434.6 253.7 433.9 250.4 432.6 249.1 486.2 230.8 486.8 231.8 487.9 232.9 491.5 232.0 492.8 234.0 497.0 236.7 496.3 234.6 497.8 235.3 499.4 239.8 502.9 239.7 504.4 239.4 507.2 242.1 442.5 270.6 442.0 268.2 438.3 265.7 439.2 264.6 438.0 259.9 436.9 260.1 436.4 257.6 433.7 258.5 430.3 254.7 430.9 253.4 429.5 253.8 427.2 251.6 425.6 250.1 422.8 246.8 422.1 245.1 423.3 244.3 421.8 241.1 418.9 240.1 444.5 288.0 445.6 290.5 447.2 291.6 448.2 293.0 450.2 295.6 452.2 295.9 453.0 298.8 459.1 292.2 458.5 295.8 459.4 296.3 459.2 301.8 460.5 302.8 458.5 305.8 461.1 305.7 460.9 309.5 460.8 311.2 461.9 313.1 462.7 317.9 464.2 318.4 464.6 319.3 467.5 292.7 464.4 293.1 462.9 292.7 461.2 287.6 460.2 288.6 459.7 287.4 457.5 286.7 454.4 285.3 452.4 284.8 450.0 281.5 448.0 283.5 445.9 282.8 444.4 281.1 441.4 281.8 438.5 280.9 436.6 281.4 434.2 281.1 432.5 279.9 432.3 281.3 430.5 277.8 426.6 278.5 423.8 277.8 446.5 246.2 444.0 248.1 443.8 250.3 443.3 252.0 443.9 255.0 442.1 257.2 440.8 256.0 437.7 260.6 435.9 262.5 433.8 263.7 433.0 266.1 430.7 266.5 431.5 267.9 429.7 270.2 427.3 272.8 425.4 273.6 423.7 275.4 419.9 275.0 466.6 302.3 471.2 300.6 471.1 300.4 471.1 303.0 475.2 300.7 477.7 302.8 480.0 300.9 482.0 301.0 484.9 303.9 488.3 304.3 489.7 301.5 490.4 302.1 494.9 303.4 496.3 305.8 496.3 303.9 496.9 304.6 498.9 308.4 502.6 308.0 506.9 309.7 507.7 311.7 510.6 311.5 475.8 265.8 479.7 267.1 482.7 265.3 483.2 269.3 485.5 268.7 486.1 268.8 489.9 270.5 492.5 271.3 493.4 271.4 496.2 271.5 499.0 272.0 499.4 273.6 502.4 272.5 502.4 274.6 507.1 276.0 506.5 275.6 510.1 277.3 438.1 236.7 439.6 236.5 441.0 238.1 443.4 240.5 445.3 243.8 445.4 243.4 446.7 246.0 449.3 248.9 450.0 249.5 452.4 251.5 452.6 252.8 453.4 254.6 456.0 257.7 455.3 259.0 458.5 261.1 457.1 263.8 458.7 266.7 416.2 295.4 418.7 294.3 419.5 290.9 419.1 289.7 420.0 289.3 421.5 284.4 422.2 284.3 424.3 280.4 426.4 278.6 425.5 275.3 426.3 274.2 425.5 272.1 426.0 267.6 428.2 266.0 428.6 263.3 430.2 262.8 429.6 260.8 430.6 258.8 432.3 257.2 433.3 254.9 432.7 252.0 450.7 234.9 453.4 234.5 454.2 234.8 458.9 232.8 458.7 232.9 462.7 231.1 463.1 231.3 463.9 230.7 468.7 229.0 470.7 229.9 471.3 230.2 474.1 228.6 475.4 229.6 478.8 227.9 462.2 242.5 462.4 246.2 464.6 244.6 466.7 247.0 471.0 246.2 470.6 246.8 472.5 249.4 474.5 247.9 476.8 247.2 480.8 248.7 480.3 248.9 485.2 251.4 485.5 250.9 445.8 291.2 445.0 286.5 444.8 288.4 446.7 282.6 448.9 279.7 445.4 278.2 445.8 278.1 445.1 274.3 445.1 272.7 443.6 269.2 443.1 267.5 442.6 268.1 440.8 265.4 439.8 263.0 440.1 257.3 441.2 236.7 444.2 238.0 444.6 238.4 448.7 239.6 452.2 241.3 452.6 241.3 454.5 239.4 456.6 241.7 457.8 242.6 460.5 242.5 461.1 240.5 465.5 244.4 467.2 243.3 469.9 243.5 470.8 244.6 472.3 246.8 476.1 244.0 478.5 244.8 480.2 249.0 482.2 247.5 448.7 285.5 447.5 285.4 446.6 283.6 443.9 287.5 443.5 287.7 440.0 291.5 437.1 291.2 436.0 291.4 434.8 292.1 431.7 291.5 430.3 295.2 427.5 296.2 426.2 295.6 423.4 295.4 422.0 299.2 421.5 298.0 418.8 300.1 418.2 303.3 466.2 282.1 467.5 283.1 470.4 281.2 470.4 278.9 472.9 277.8 474.2 278.5 478.4 278.6 481.5 277.1 483.0 279.3 483.5 278.8 486.8 276.5 488.0 279.6 422.0 292.6 422.7 290.5 419.0 288.1 418.6 286.6 416.9 286.3 415.8 282.8 414.5 282.5 412.7 282.2 411.8 277.7 410.7 275.6 409.4 275.4 407.9 273.4 406.4 270.4 402.5 269.9 403.6 268.1 398.9 265.9 399.4 266.8 464.2 296.1 468.1 294.9 468.6 295.5 470.4 293.4 474.9 292.6 476.2 291.3 479.7 290.6 480.2 292.8 482.7 294.0 485.7 293.5 487.3 293.8 489.3 295.3 492.0 294.3 411.9 256.6 412.1 258.9 413.2 259.9 413.3 261.5 415.2 265.0 417.0 265.5 418.5 266.8 420.0 268.7 420.4 271.7 420.8 271.6 423.2 273.2 423.2 275.5 425.1 277.9 429.1 281.7 430.1 281.0 430.1 281.7 431.3 286.8 453.4 249.8 456.4 248.0 456.7 246.1 457.9 244.2 458.6 239.9 459.9 239.5 460.8 238.7 461.9 234.3 462.3 233.4 463.4 230.5 464.2 228.5 464.4 226.9 463.4 225.6 463.9 222.6 463.8 219.7 465.8 217.2 464.2 213.0 464.8 213.2 462.7 210.7 467.4 206.5 440.4 270.7 437.2 271.4 436.5 270.5 433.5 271.9 431.1 272.5 430.0 274.0 428.5 276.4 423.7 274.4 423.8 274.5 421.8 275.3 419.0 274.4 415.5 274.1 415.7 274.6 413.9 274.5 410.7 273.9 408.5 272.4 407.5 270.7 406.5 270.0 403.2 268.6 403.9 265.4 401.6 264.9 468.3 249.5 467.3 247.8 466.6 247.2 465.7 244.4 463.8 240.7 463.6 239.9 462.9 236.8 461.3 236.6 462.0 231.1 450.4 290.9 449.3 290.3 449.2 285.9 447.3 285.0 448.1 280.9 447.2 279.9 447.2 276.9 445.6 274.4 446.2 274.3 480.8 262.2 480.0 264.2 480.9 265.3 483.2 267.3 486.3 268.1 486.9 269.9 489.6 270.2 491.8 270.8 491.8 273.5 494.4 274.9 497.1 275.6 500.0 275.5 499.6 275.5 502.7 274.4 505.3 274.5 506.1 272.6 453.6 304.7 453.2 303.8 452.4 298.7 453.2 298.2 452.0 297.0 452.2 292.5 449.6 289.9 450.2 289.2 450.0 285.8 449.3 283.5 446.2 281.5 448.8 281.0 447.3 277.4 446.7 276.9 445.9 275.1 448.0 271.6 446.3 268.7 442.6 268.1 444.2 264.1 440.6 287.1 439.2 287.4 438.4 282.8 435.2 281.4 436.3 283.2 433.5 278.3 432.8 275.0 433.0 274.5 431.9 271.7 434.8 278.8 435.1 274.1 434.5 272.7 433.0 270.5 432.5 268.4 431.6 266.9 431.5 262.7 430.0 263.0 426.0 261.3 427.9 260.1 426.0 255.3 425.3 254.6 423.8 252.4 423.5 251.1 419.7 248.6 420.1 247.5 419.7 244.9 417.8 246.2 454.1 249.7 457.1 251.0 457.3 252.3 457.3 255.1 459.4 255.9 459.3 258.3 458.5 261.7 460.5 261.1 461.5 266.5 462.3 268.9 463.2 267.6 463.9 274.6 465.0 274.3 464.1 275.3 464.0 278.3 463.1 282.3 460.4 282.7 463.5 284.9 461.5 287.6 460.8 292.4 458.7 291.8 457.3 294.5 451.4 283.9 450.2 281.5 452.9 279.9 451.7 279.0 454.3 277.0 457.9 273.5 458.4 271.3 458.5 270.8 461.0 268.0 460.5 265.3 461.4 264.3 463.0 263.1 466.5 262.2 466.4 261.7 469.9 261.8 471.4 259.1 473.3 256.6 474.0 256.2 475.3 254.9 479.3 253.5 480.1 250.6 465.5 243.5 469.3 243.7 469.3 244.6 473.0 244.1 476.0 243.6 477.7 242.9 478.2 243.2 480.2 245.3 481.2 243.8 486.3 243.2 488.4 242.2 454.8 237.9 454.0 234.8 454.8 234.4 452.8 231.8 453.2 229.6 453.0 227.3 453.3 224.8 453.1 224.5 453.1 218.2 454.0 216.0 453.8 215.9 453.2 213.9 453.1 214.9 453.3 207.0 452.3 206.1 446.2 264.3 449.6 264.7 450.0 264.9 451.6 266.3 455.0 261.7 458.4 261.3 457.4 262.6 462.5 252.5 461.3 251.5 462.7 250.5 463.6 244.5 463.3 244.5 463.1 240.9 431.7 286.3 430.3 286.0 429.6 289.0 428.6 292.4 427.0 293.2 427.3 295.0 425.0 299.2 422.8 300.6 424.8 302.1 420.7 303.9 422.5 305.1 419.0 307.5 418.9 310.2 417.9 314.0 418.9 314.5 415.5 316.3 412.6 318.3 412.1 320.7 411.9 321.1 408.6 323.9 408.9 325.0 419.7 242.8 421.9 244.5 424.2 243.7 425.7 244.5 427.0 244.3 430.1 244.6 432.4 243.0 434.6 244.5 437.0 243.8 439.2 243.3 439.4 244.8 443.3 246.7 446.7 246.0 447.5 247.8 450.2 249.2 449.9 249.3 449.5 291.0 448.8 292.3 449.6 296.9 449.3 299.7 449.6 302.9 449.4 306.1 449.3 304.7 449.1 308.6 448.6 311.9 450.2 315.2 448.4 316.4 450.4 317.8 449.7 321.7 448.3 323.6 440.6 267.9 441.0 267.6 443.5 262.8 443.1 263.9 444.2 260.2 448.3 261.4 448.3 258.6 449.9 257.6 453.6 257.7 455.8 255.8 454.5 253.9 456.9 251.2 461.1 250.8 463.6 251.2 465.2 248.6 466.6 250.2 467.4 247.0 475.6 278.8 478.6 283.6 477.7 285.7 478.9 286.5 478.9 290.0 479.1 291.6 477.8 292.7 476.4 295.8 477.7 299.9 479.3 301.1 478.2 303.7 477.9 307.0 478.6 305.9 440.5 276.9 438.3 277.8 438.3 279.2 436.3 278.4 434.1 281.6 433.0 282.9 430.9 284.1 429.8 286.9 427.5 287.8 426.7 289.8 424.6 294.0 426.4 294.6 424.3 295.7 422.7 298.1 422.9 301.3 421.3 302.2 462.5 318.1 464.3 314.7 466.3 314.6 469.2 311.2 471.3 310.7 469.4 307.7 470.4 307.4 475.2 308.4 477.0 305.4 479.5 304.9 480.8 302.4 482.3 303.2 484.9 302.7 485.9 302.0 489.4 300.3 491.1 298.6 458.2 263.0 459.3 259.6 460.7 258.0 460.4 256.9 458.7 254.7 459.5 251.5 457.0 248.6 458.7 247.6 458.2 244.2 457.5 244.1 458.0 242.2 457.7 239.3 460.0 233.6 442.7 269.2 444.5 267.7 444.0 267.6 450.2 269.4 452.3 266.7 453.9 270.1 454.4 268.8 456.3 269.6 458.2 271.1 460.8 271.8 463.7 269.9 466.1 269.3 468.6 267.1 472.2 267.9 472.7 266.4 472.1 266.6 474.7 265.1 478.5 264.0 480.6 262.0 441.3 240.3 444.7 244.4 445.0 244.1 448.8 245.5 448.5 245.5 451.3 246.4 452.2 247.5 455.3 250.6 456.5 248.7 460.0 252.6 459.3 253.0 463.0 257.8 464.8 258.1 464.7 260.0 468.0 258.6 468.7 259.9 469.3 261.5 470.9 263.3 474.7 262.7 477.5 266.0 438.5 246.8 440.3 250.9 442.3 251.4 441.1 254.6 443.4 255.3 443.1 257.8 445.0 256.9 445.4 260.1 449.0 261.2 448.2 262.8 452.3 264.1 451.6 267.1 454.5 268.9 455.0 269.3 454.6 271.4 457.1 273.5 460.6 275.5 461.1 275.6 463.8 275.6 452.9 240.9 456.1 240.2 455.3 237.8 457.5 234.6 456.4 233.5 459.1 232.0 457.8 228.0 460.7 227.9 461.5 224.5 462.7 223.3 464.3 222.8 466.9 221.1 468.1 218.1 470.3 215.1 470.8 215.6 474.3 214.7 472.5 211.8 475.2 211.4 476.4 207.0 477.2 207.0 459.6 244.8 459.9 246.2 457.1 249.0 455.4 248.8 452.0 248.2 450.3 248.2 450.0 250.2 449.3 250.5 443.8 249.9 443.2 252.5 442.1 252.7 439.8 252.3 436.5 252.9 434.1 252.6 433.1 251.5 456.2 246.8 456.7 247.9 455.8 251.7 458.9 252.4 458.6 254.0 461.9 257.2 462.1 260.1 461.9 261.1 465.5 264.9 464.6 265.4 466.9 267.2 470.4 270.5 470.4 268.1 472.4 271.1 474.1 272.8 476.2 275.0 461.6 324.7 462.1 325.8 463.2 329.5 461.0 330.3 460.8 334.7 460.6 335.9 461.4 338.4 459.6 262.4 462.5 264.1 464.6 264.6 466.8 267.5 468.7 264.5 469.8 263.6 474.1 264.7 435.2 251.8 434.3 254.6 432.6 256.7 431.5 260.2 430.7 260.1 428.6 261.9 429.9 263.9 426.5 267.9 426.4 268.1 422.9 269.4 420.2 270.7 419.7 271.7 417.1 272.4 464.2 270.2 463.6 273.6 463.6 274.9 462.9 276.7 465.0 279.7 467.4 281.8 464.8 285.3 464.8 287.7 465.3 288.6 465.6 292.4 465.9 293.1 428.3 267.8 427.7 265.6 424.5 267.4 422.4 266.0 420.6 266.1 418.7 266.8 417.3 267.8 412.2 267.9 411.1 268.4 409.8 267.9 407.2 266.0 438.4 316.1 437.0 314.8 439.7 310.5 441.2 310.7 441.0 306.7 439.3 303.8 440.8 301.7 441.3 300.3 438.4 297.5 438.9 294.2 440.7 294.0 440.8 289.8 440.3 288.9 440.7 287.0 441.4 283.2 442.6 281.3 443.8 279.0 445.2 276.2 444.3 273.7 447.1 273.3 446.7 270.5 447.6 269.1 428.1 283.0 428.5 287.0 425.6 289.2 424.6 289.1 425.9 293.3 423.6 296.2 424.5 298.2 421.9 301.3 421.4 300.0 422.4 303.4 422.6 305.6 421.1 309.9 420.2 311.5 422.9 311.8 421.2 316.1 422.8 317.2 453.5 265.5 451.4 269.4 450.2 271.4 448.5 271.5 447.8 274.7 444.9 278.1 445.5 277.3 443.1 279.3 492.9 293.3 490.5 295.4 490.1 298.9 492.3 300.7 494.0 302.1 491.5 303.1 491.5 308.4 491.9 310.0 491.6 311.3 490.1 313.2 488.7 314.8 487.6 316.4 486.0 321.2 485.1 319.9 482.2 322.2 480.8 322.0 478.5 324.7 463.0 321.9 464.9 318.2 467.9 319.0 469.1 316.3 469.4 313.3 467.7 313.1 470.5 308.0 469.9 307.9 471.7 306.3 472.6 301.3 471.9 299.8 458.9 283.5 462.8 280.3 463.8 280.2 466.3 279.5 468.2 280.2 470.4 277.7 472.8 280.2 474.5 282.0 477.6 278.7 479.3 278.9 480.8 280.9 482.7 277.5 485.9 282.4 487.6 281.9 490.0 282.1 491.3 282.2 493.6 283.8 481.2 229.7 479.6 226.9 477.6 224.6 476.4 223.2 475.7 220.3 473.6 218.7 471.4 218.1 471.1 216.2 469.8 214.9 468.0 211.5 466.1 211.3 463.9 211.1 453.4 208.7 455.9 208.1 456.8 207.2 459.2 206.3 464.4 204.1 463.1 205.2 464.1 202.7 468.4 202.7 418.0 257.2 417.6 260.3 416.6 262.7 416.6 263.6 416.6 268.6 416.1 267.9 413.4 272.0 412.0 275.3 412.0 274.0 411.2 275.2 410.0 280.4 408.8 282.0 407.8 282.6 405.7 285.4 435.6 253.0 434.7 254.7 432.4 257.6 434.0 261.2 431.5 262.6 431.5 264.2 432.1 269.9 431.1 270.9 427.9 269.5 426.4 274.1 425.1 277.4 428.0 281.1 427.8 282.0 428.7 285.0 430.5 287.0 430.8 288.0 432.2 289.2 433.6 291.7 432.8 294.1 432.5 297.5 432.0 299.4 434.2 304.3 433.4 304.7 431.7 306.7 432.0 308.7 430.1 310.2 430.1 314.3 432.5 315.6 465.0 292.5 466.3 292.7 469.1 293.9 469.8 293.8 472.1 294.1 472.7 294.5 473.3 298.0 478.4 296.8 481.5 298.5 482.4 301.9 484.7 300.9 485.4 303.0 487.1 306.4 488.0 304.7 437.3 272.7 435.8 270.3 432.8 272.0 431.8 269.6 429.6 268.7 430.0 271.1 425.7 268.7 424.6 268.5 422.5 267.4 419.7 267.2 417.8 265.4 466.6 265.5 464.9 267.7 462.7 269.5 461.1 271.8 457.9 276.0 458.2 275.7 457.9 277.3 457.2 279.1 456.1 282.9 453.5 282.8 453.4 286.0 450.8 286.9 451.8 288.7 449.8 292.0 448.7 294.5 449.6 297.2 449.4 297.6 446.6 300.0 446.4 302.1 444.6 240.7 440.2 237.9 439.5 239.7 437.6 241.7 436.7 242.8 436.0 245.6 433.4 247.1 430.3 249.9 431.8 251.2 428.4 255.2 429.1 255.5 431.8 320.2 430.1 319.0 423.9 316.4 425.5 316.7 423.5 316.5 420.5 314.9 420.1 315.3 416.7 313.2 414.9 313.0 413.2 313.6 511.4 264.2 509.2 266.0 509.5 269.0 507.9 270.1 507.6 275.3 506.8 275.7 502.5 275.6 501.9 278.1 501.4 278.9 501.0 281.2 498.5 284.2 496.8 283.5 495.6 286.9 494.6 288.9 435.7 250.0 438.7 247.7 441.5 246.9 442.5 246.6 445.2 244.6 447.8 244.1 447.9 243.0 449.7 243.9 451.4 240.4 454.2 239.6 457.4 238.4 458.6 237.2 459.4 236.5 461.8 236.7 464.2 233.4 465.7 231.7 466.1 232.3 469.6 228.1 469.1 227.6 419.2 286.0 416.3 290.6 414.4 291.0 413.9 292.2 412.8 292.6 408.9 294.0 409.1 297.0 406.3 297.0 405.6 299.1 404.0 299.7 403.2 301.7 399.0 302.4 397.3 305.2 399.0 307.5 395.4 306.1 393.2 309.4 392.8 310.7 391.9 312.9 391.5 315.4 460.7 308.9 461.1 310.3 459.0 313.1 455.5 313.9 454.0 314.4 452.2 317.2 451.5 319.2 448.8 319.7 448.8 320.2 456.4 335.6 460.6 333.7 461.2 332.9 459.9 329.6 462.7 327.6 464.1 326.0 468.0 327.1 468.3 323.1 467.7 323.4 470.4 321.6 472.5 321.4 475.2 318.3 475.8 317.6 478.8 315.1 478.9 317.1 483.8 314.7 485.7 312.2 485.1 311.6 454.7 249.0 452.9 250.2 452.0 252.9 454.1 253.8 452.6 258.0 451.7 262.2 451.3 261.6 450.4 265.7 444.9 240.7 440.4 241.7 440.4 240.6 437.6 239.2 434.8 240.7 434.0 238.5 431.6 236.0 429.0 238.4 426.9 233.9 424.3 235.0 423.1 236.4 421.5 234.8 418.7 235.5 416.1 235.0 414.7 235.5 410.8 234.2 408.9 234.7 406.0 233.6 405.6 233.9 403.8 234.6 401.3 238.4 478.0 311.0 474.9 312.2 473.0 314.1 471.6 312.6 469.8 313.6 465.2 313.6 463.4 314.2 463.4 316.2 461.7 315.7 458.3 312.5 456.8 315.4 456.1 317.0 452.9 314.7 449.6 315.4 447.2 314.9 446.2 313.1 442.2 313.7 440.2 313.7 438.7 314.2 494.5 296.4 497.9 300.2 498.7 302.4 498.6 305.3 500.6 304.0 502.4 308.8 505.1 309.8 505.4 310.1 506.6 313.1 507.7 313.4 509.9 316.9 511.6 318.9 512.0 320.4 511.1 320.2 512.9 323.9 515.5 323.5 516.7 326.6 516.7 329.2 520.1 331.7 520.4 333.1 449.9 203.0 449.8 197.6 448.4 197.4 449.7 196.8 445.4 192.8 446.5 189.0 445.0 189.3 444.7 187.8 437.8 290.8 439.4 288.5 441.2 287.8 441.5 287.9 443.4 284.2 445.7 281.4 446.2 280.2 449.2 279.9 448.6 278.0 452.4 277.2 454.9 278.8 457.1 278.1 459.0 276.5 459.8 277.0 463.0 274.2 465.0 274.0 465.8 274.4 469.5 271.1 470.0 273.2 472.6 270.8 473.6 269.6 472.9 255.7 472.4 259.0 469.7 259.0 468.3 257.2 465.5 258.6 462.0 257.2 460.8 259.2 458.8 259.5 457.0 258.0 453.0 259.9 451.5 260.0 451.3 259.6 447.6 260.0 444.7 259.1 445.2 258.6 442.8 259.3 441.6 259.4 439.5 257.4 466.2 311.1 465.4 311.0 461.9 306.8 463.4 304.1 464.9 302.3 463.6 299.8 461.1 299.7 461.2 297.0 460.8 292.7 435.1 293.0 436.0 293.4 436.7 295.9 435.4 300.4 437.6 303.6 436.1 304.0 435.7 306.1 457.2 279.1 453.5 276.8 453.0 275.8 450.2 274.3 448.4 272.4 449.1 270.9 445.9 268.9 444.4 268.8 443.4 267.9 441.1 266.3 439.9 262.4 438.2 261.0 436.6 257.7 435.8 257.4 435.6 257.0 460.4 262.6 462.5 264.1 461.0 269.4 464.3 270.1 465.0 271.5 466.8 272.9 468.3 276.7 468.0 278.7 470.6 279.5 470.3 281.1 426.1 279.3 430.6 279.0 431.7 277.6 431.8 277.4 434.8 277.7 436.4 275.6 439.7 274.2 440.6 272.6 442.5 274.1 445.3 272.6 446.5 270.7 446.3 270.9 427.3 213.7 427.5 217.4 423.7 219.4 424.2 221.0 424.8 223.0 425.2 225.0 425.3 227.5 424.9 230.7 489.5 256.9 491.9 255.1 495.9 256.0 496.4 255.6 498.4 254.7 499.3 254.8 411.8 256.9 407.8 255.6 407.9 254.1 405.0 254.5 405.4 251.9 402.8 250.1 402.6 247.2 399.6 246.8 399.4 244.6 395.5 244.5 394.6 242.0 393.2 241.7 391.5 240.0 390.7 240.4 389.9 234.4 386.8 234.9 383.9 233.1 382.9 233.0 381.4 233.0 380.3 228.4 378.0 226.9 432.4 289.5 434.0 289.7 434.2 289.0 439.5 287.8 438.3 289.4 442.8 286.9 446.0 289.6 446.6 289.9 448.4 286.7 451.6 288.2 454.7 288.1 454.1 287.1 456.6 288.8 459.8 288.3 454.8 314.9 455.7 314.7 456.4 318.5 455.0 320.1 454.3 323.2 456.0 322.3 453.8 325.3 452.9 329.3 453.5 330.6 452.7 333.5 453.1 336.8 451.1 336.6 454.7 339.4 452.3 342.9 452.1 343.3 450.4 345.9 441.8 268.7 441.9 270.0 439.9 273.8 440.4 275.6 440.6 278.0 440.6 280.1 440.7 282.7 443.9 286.5 441.6 285.6 441.7 291.5 440.6 292.7 442.2 295.3 440.9 295.8 462.6 215.7 460.4 216.0 458.3 218.2 454.9 220.7 453.5 219.8 450.3 220.1 449.9 219.5 445.8 222.1 444.8 218.7 443.2 221.4 438.5 220.5 402.9 253.8 404.7 253.5 408.1 255.3 408.0 259.5 409.0 258.8 411.8 259.8 460.6 264.1 460.0 267.2 462.4 264.5 465.4 271.0 468.7 266.7 469.7 267.3 472.6 268.7 474.0 268.2 476.3 268.0 478.6 270.1 479.3 269.0 454.8 307.8 455.2 308.5 458.5 310.4 459.8 311.2 461.9 309.6 464.2 309.8 466.3 313.3 467.3 314.4 468.7 313.9 471.3 316.5 455.1 283.0 453.3 284.1 458.2 283.8 456.7 282.3 461.5 284.5 462.4 284.1 465.0 285.6 468.3 283.6 471.6 283.6 437.9 262.0 434.1 264.4 434.2 265.0 434.7 267.2 432.7 269.2 429.7 273.9 429.0 274.3 429.4 274.1 428.5 278.0 426.0 280.8 425.2 280.8 425.0 284.5 424.0 287.0 422.3 288.9 422.7 289.7 420.7 292.4 426.0 226.0 428.0 222.3 428.9 220.2 429.0 219.5 431.1 216.1 430.5 215.6 431.0 211.1 432.6 210.9 433.7 206.9 431.4 206.7 433.2 202.6 433.7 201.2 435.7 198.8 435.1 198.5 436.0 194.5 436.2 191.8 427.1 235.9 427.4 238.6 429.9 239.3 431.6 238.9 434.9 238.7 436.7 238.5 437.0 241.5 441.5 243.1 439.1 244.7 442.4 248.4 445.1 246.9 445.2 250.3 446.1 251.8 449.2 253.6 450.7 255.9 450.5 254.9 451.7 258.9 455.1 260.2 457.3 262.6 457.9 262.5 461.0 263.4 459.9 265.0 454.6 268.1 457.1 266.6 460.4 269.6 461.4 269.5 464.2 272.0 465.8 271.3 468.5 272.8 469.9 275.3 471.6 274.8 471.5 277.1 476.1 280.7 475.8 281.1 475.5 284.0 476.1 285.4 476.6 288.7 475.7 292.5 476.6 292.3 477.2 295.8 475.3 298.0 478.4 300.0 479.6 303.6 479.3 302.9 464.9 306.2 461.1 304.5 460.0 305.1 459.5 305.5 457.1 303.7 455.2 302.5 453.1 301.9 450.7 301.5 450.9 298.8 445.8 297.0 444.6 295.5 445.5 293.6 442.8 291.9 439.8 292.8 440.3 289.9 437.6 287.9 436.6 287.1 436.3 284.7 437.1 282.2 434.8 279.2 435.5 278.3 432.6 281.2 432.8 279.3 432.0 277.5 429.6 275.5 431.0 272.6 429.3 270.8 427.7 270.1 428.1 269.5 426.4 266.1 424.6 266.6 453.7 268.5 454.1 267.6 452.4 269.1 448.0 269.7 448.7 271.8 445.3 275.4 445.3 277.0 442.7 279.2 436.2 230.1 434.2 230.6 430.6 228.2 430.9 227.9 429.1 227.9 426.4 223.9 425.5 224.5 422.4 220.8 422.3 219.5 458.3 251.5 458.8 252.0 457.9 255.7 458.3 257.7 460.0 259.9 461.5 263.2 462.3 266.5 462.4 269.5 464.4 267.6 463.4 272.7 464.8 274.2 465.6 275.2 467.7 277.0 469.8 276.9 469.7 280.0 472.6 282.8 470.7 283.4 432.6 284.7 436.8 281.2 438.1 282.1 439.0 280.6 440.2 282.2 442.0 280.1 444.9 282.2 446.2 276.6 447.7 278.1 451.0 274.2 452.3 276.0 456.3 274.0 456.9 272.6 458.9 274.6 428.8 260.3 431.3 257.0 430.7 256.4 432.9 255.3 435.2 252.6 436.0 251.7 437.7 250.9 441.4 248.0 442.1 248.8 443.7 247.2 447.7 243.9 446.6 242.3 450.8 244.1 452.1 240.7 451.5 240.0 452.6 237.8 453.6 235.3 454.6 233.5 455.1 229.3 453.2 227.3 452.7 224.0 474.5 296.0 473.5 296.8 478.0 296.5 480.2 295.9 482.5 297.0 483.6 298.0 485.0 298.7 488.3 298.0 490.3 297.5 492.7 298.6 494.3 297.5 495.9 293.9 428.9 276.3 430.4 272.9 428.4 273.5 428.4 271.3 431.0 268.5 428.8 266.4 430.7 263.6 430.5 262.2 430.5 260.2 429.4 256.5 430.2 255.1 455.4 221.8 454.5 222.5 453.2 218.5 451.3 216.9 448.3 215.5 449.4 215.7 444.5 213.2 443.6 212.3 442.6 208.7 441.6 207.9 441.9 205.4 439.7 203.5 436.1 200.5 438.7 200.3 419.0 282.6 417.7 281.4 414.1 281.3 413.9 278.2 410.8 277.7 410.0 275.6 409.1 276.4 406.6 273.2 406.4 271.4 450.6 285.9 453.0 287.2 454.1 289.0 456.2 290.0 457.5 292.0 459.0 293.4 458.2 293.8 460.8 298.2 461.6 300.2 465.5 300.0 465.2 303.4 465.3 306.3 467.3 305.7 467.1 310.6 468.6 310.7 481.3 268.5 477.3 269.1 474.7 268.2 470.8 266.0 471.0 263.9 467.2 266.0 466.9 264.6 464.6 265.0 463.5 265.0 460.9 263.9 457.6 263.6 456.0 263.9 453.1 263.1 451.0 262.9 450.8 261.7 446.5 261.1 464.9 246.0 466.4 245.7 467.3 246.8 470.9 244.2 470.7 242.7 472.8 241.6 472.9 239.3 475.2 238.6 474.3 235.9 477.2 233.1 479.1 231.7 480.3 230.1 483.1 228.4 483.0 227.0 485.6 223.1 485.3 221.8 487.0 219.7 459.2 253.7 457.4 253.2 455.5 259.8 451.1 259.9 451.6 259.7 450.6 264.4 451.1 263.8 449.2 264.8 447.2 267.9 444.0 270.9 444.0 272.2 442.4 275.5 442.1 275.4 444.0 277.3 440.1 279.3 438.7 284.3 437.7 284.7 437.1 284.0 424.2 259.5 426.4 259.2 425.4 255.8 427.0 254.1 426.3 251.7 426.6 249.5 427.4 247.7 429.0 244.2 429.2 243.0 429.5 238.9 431.1 237.1 431.6 235.2 446.1 273.4 445.4 274.8 439.5 275.6 438.6 276.6 437.3 277.1 437.5 278.4 433.7 277.3 431.7 280.3 430.4 281.4 428.2 282.8 428.0 282.7 424.9 284.7 424.7 286.4 421.6 288.4 421.6 291.6 422.1 290.9 422.8 294.6 425.3 297.4 425.2 295.6 427.4 295.6 429.8 295.9 431.4 298.5 433.6 298.9 437.1 299.8 439.2 300.2 440.7 300.5 443.3 301.4 420.3 280.3 420.3 283.0 419.4 285.5 423.0 287.5 422.4 291.2 423.2 293.1 422.4 293.3 421.2 297.0 421.2 299.8 419.5 300.9 419.7 303.9 420.2 307.8 420.5 308.6 418.8 310.8 420.5 311.6 420.9 315.1 420.3 318.7 421.1 319.5 421.9 322.4 423.4 324.7 423.4 326.2 423.9 327.8" fill="none" clip-path="url(#kb)" style="marker:url(#r30)"/>
<path d="M373.3 102.2 376.6 100.7 376.9 101.1 377.6 99.7 376.5 96.2 378.9 96.5 379.7 94.7 427.7 71.9 428.3 71.7 427.0 70.8 425.8 70.2 425.5 69.4 423.9 68.0 423.4 66.9 421.7 65.6 419.1 66.7 416.3 65.7 417.8 65.8 415.3 64.7 413.6 64.5 411.7 64.1 371.1 180.7 371.2 180.7 375.0 182.6 375.7 180.5 376.6 179.9 377.6 181.1 399.4 105.6 399.6 105.7 401.5 103.7 403.9 102.7 404.2 101.5 405.3 100.9 406.6 98.1 407.7 97.5 406.7 146.9 407.5 148.0 405.3 148.1 402.1 146.2 402.5 147.2 402.1 145.5 400.6 145.5 398.0 143.9 466.7 152.6 467.8 155.5 469.8 156.1 471.4 155.3 473.8 154.6 474.1 156.6 475.0 156.9 398.4 109.1 400.3 108.4 398.5 108.6 399.4 111.3 397.2 112.8 397.9 116.7 396.3 113.9 397.6 117.8 357.7 103.9 359.6 107.8 361.1 105.8 361.3 108.4 363.2 110.5 364.2 109.8 364.6 107.9 367.6 112.6 368.3 108.7 369.0 109.6 370.2 111.4 372.0 111.8 375.2 112.5 370.8 109.2 369.9 109.5 368.3 110.9 366.5 109.5 364.5 107.9 365.7 106.5 364.2 108.5 362.7 108.2 359.7 107.4 360.0 106.4 358.2 106.8 357.5 104.5 355.6 106.6 355.0 105.9 352.7 102.3 409.1 173.9 412.1 175.6 412.4 174.6 413.1 177.1 411.5 177.3 412.0 179.7 412.8 181.8 411.7 183.4 411.8 185.8 372.6 125.0 376.1 123.4 377.3 124.5 378.5 123.9 381.2 124.9 380.4 127.0 382.9 125.6 384.7 127.5 386.4 126.6 385.7 127.5 388.9 127.5 390.1 127.2 391.5 127.8 401.6 35.2 399.4 34.8 398.4 34.2 397.0 33.7 395.5 35.3 394.7 33.9 393.2 34.1 328.1 107.6 327.9 109.9 326.2 111.2 329.5 113.0 330.8 113.2 332.9 114.7 334.9 115.9 331.8 118.6 335.8 118.0 336.4 118.7 337.7 121.0 404.6 108.2 402.7 108.9 405.6 105.3 403.7 102.5 406.4 100.7 406.2 103.6 406.3 99.7 407.3 101.5 410.7 98.5 410.7 96.5 409.7 97.0 411.8 94.5 411.6 92.7 413.0 91.4 412.3 90.3 453.1 2.7 451.8 1.4 451.6 1.4 450.8 0.9 448.2 0.0 446.2 0.2 443.1 -0.5 445.3 -4.9 441.7 -3.3 442.4 -3.4 442.1 -3.1 440.2 -4.1 437.9 -3.2 401.4 121.0 400.6 121.0 399.1 120.5 401.2 116.1 400.6 116.7 400.0 114.4 400.5 114.0 400.3 112.1 399.6 110.8 399.1 109.0 399.0 107.5 398.1 103.5 398.3 104.5 397.5 104.1 406.8 193.8 404.6 192.9 401.9 195.4 400.8 196.1 399.3 198.5 398.4 197.3 397.1 198.2 395.1 198.8 395.1 199.3 395.4 201.5 392.6 201.7 403.6 67.7 404.2 66.0 401.7 65.2 402.8 61.9 403.7 58.8 402.0 59.4 402.0 58.0 400.3 57.3 401.4 55.0 401.3 52.5 401.1 52.6 382.7 65.5 381.0 67.6 377.9 67.8 379.6 68.9 378.9 71.0 377.5 71.8 377.5 74.4 377.5 75.0 435.2 96.1 433.6 94.7 432.7 96.2 430.6 95.2 430.9 91.2 429.8 93.3 427.1 89.5 424.0 88.4 425.6 87.5 425.2 88.0 441.9 137.1 441.8 135.8 441.7 134.5 441.3 132.2 439.5 133.7 357.7 156.4 357.5 156.5 361.6 154.9 361.5 156.4 361.3 154.4 364.4 156.9 365.3 155.0 369.3 155.2 368.2 153.6 370.0 155.4 372.4 153.7 372.2 154.5 374.0 151.1 374.4 151.9 376.9 153.2 376.5 130.6 378.8 126.3 379.9 130.5 381.5 128.6 381.5 127.9 384.2 128.1 385.5 127.7 388.1 127.7 387.6 128.3 390.6 129.4 348.4 68.5 351.8 66.8 351.7 66.0 352.1 63.0 354.0 63.9 395.3 85.5 396.2 86.3 396.0 86.8 393.7 89.2 393.4 91.9 392.8 92.2 392.0 95.5 391.5 95.4 390.5 97.3 390.5 98.5 392.4 98.2 426.1 151.6 426.4 149.5 430.0 148.0 426.8 146.0 427.8 145.9 431.2 143.8 430.4 142.9 432.3 143.4 431.8 142.1 434.1 139.4 433.9 137.6 381.9 70.9 379.2 71.9 379.3 71.7 375.4 70.6 375.2 71.7 373.3 70.2 373.2 70.1 372.1 70.8 370.2 70.1 369.6 71.8 367.6 70.3 365.7 70.6 364.7 69.4 363.8 67.4 361.6 69.1 417.1 151.3 421.7 152.8 419.0 153.4 421.0 154.5 424.5 154.1 424.8 159.1 426.7 156.3 427.9 158.4 428.6 156.6 431.3 158.5 430.9 159.5 372.4 105.7 374.8 104.1 375.8 106.2 376.0 103.4 376.5 100.4 379.0 100.9 376.4 97.7 379.8 96.4 385.6 86.1 381.7 85.7 380.3 87.1 381.2 90.3 380.2 91.8 380.0 91.0 378.7 94.1 377.7 95.4 376.2 94.7 376.2 95.2 376.1 98.6 375.7 100.9 375.7 101.0 417.5 83.6 420.2 86.2 420.4 87.9 421.2 88.1 420.4 89.8 420.6 89.4 422.9 92.0 419.4 93.1 421.8 94.9 420.5 97.9 421.6 97.3 422.8 99.6 422.9 100.7 421.9 102.9 384.2 86.3 383.6 86.3 379.4 85.8 378.4 86.5 377.1 86.5 375.8 86.5 374.8 85.6 372.1 87.7 355.4 115.2 353.6 116.7 353.4 119.2 351.2 120.6 351.6 122.2 352.5 121.5 349.0 122.5 349.6 124.3 347.0 126.2 386.8 101.8 382.8 105.2 382.1 100.9 382.1 103.4 379.5 104.8 377.5 103.9 378.1 105.4 436.3 71.2 436.6 71.4 437.2 71.9 436.6 75.8 437.3 77.3 437.3 76.9 415.8 78.6 414.3 77.6 413.3 75.8 411.9 75.7 410.1 77.4 463.1 98.3 464.0 100.0 465.8 96.2 469.3 96.5 466.7 96.4 470.5 96.4 468.4 93.3 469.0 92.2 471.4 89.1 472.0 91.9 471.7 87.2 364.7 60.7 364.2 62.2 367.2 60.6 367.7 63.9 369.9 64.1 371.6 62.1 371.2 64.3 372.5 65.3 374.1 64.5 377.3 65.6 377.1 63.9 379.3 64.4 380.1 65.6 371.7 81.2 370.8 85.1 368.8 84.7 368.8 88.4 369.3 88.3 369.6 90.5 370.1 89.5 369.8 91.9 372.0 93.3 370.6 95.6 370.5 98.3 383.0 159.3 381.2 158.2 379.6 157.0 380.4 153.4 381.5 153.9 454.8 143.5 457.3 144.3 460.2 146.3 460.2 143.3 462.2 143.1 346.0 82.8 347.1 83.8 346.6 85.9 348.4 87.8 345.4 87.9 344.0 89.0 345.0 90.9 342.1 92.9 341.9 94.4 341.1 95.6 338.7 96.9 338.0 96.4 337.7 96.7 333.8 100.2 403.1 124.2 403.1 123.9 403.1 129.3 397.6 126.7 400.0 130.6 396.7 126.6 398.4 126.6 396.2 127.5 392.8 129.2 391.3 127.9 390.3 126.5 392.7 128.4 386.3 128.3 429.7 85.5 430.3 86.7 430.3 87.2 431.7 91.7 430.6 91.0 431.8 91.4 433.6 95.7 432.0 97.2 435.6 98.3 436.3 99.1 437.9 98.9 438.8 100.2 336.3 94.4 335.0 96.1 334.5 96.6 332.2 96.3 331.8 97.0 332.2 99.0 329.4 102.5 328.6 100.5 326.9 102.9 324.8 101.8 326.0 102.0 322.1 103.0 320.1 102.1 320.1 103.1 413.2 143.6 413.7 142.3 414.6 141.9 415.0 140.3 415.2 138.2 414.8 138.6 417.3 134.5 418.6 134.9 462.5 74.7 461.6 74.4 461.5 70.3 460.0 71.7 460.1 67.1 458.9 66.0 458.7 65.5 443.5 163.0 443.4 164.0 442.8 166.9 439.6 166.6 440.0 168.6 440.1 169.8 398.6 91.5 398.9 91.7 400.2 93.6 400.8 95.7 403.3 95.5 405.8 95.2 405.4 97.0 407.8 92.8 408.4 94.3 407.9 96.2 411.3 94.8 412.1 97.1 380.2 143.9 380.7 144.6 381.0 146.8 382.0 148.1 382.6 150.6 382.9 149.6 382.3 152.2 384.4 153.2 383.5 154.6 425.7 134.5 426.4 136.1 427.9 133.6 427.4 134.8 430.3 134.2 431.6 134.5 432.3 131.9 432.2 133.0 433.8 131.9 437.3 131.5 438.9 133.7 442.0 131.1 441.1 131.8 442.3 129.2 389.8 -5.9 385.9 -5.5 385.6 -4.9 382.9 -4.9 382.4 -6.1 380.7 -7.3 380.1 -7.6 378.5 -7.3 376.5 -7.0 375.9 -7.7 374.1 -7.4 373.2 -6.2 371.4 -6.5 371.1 -6.7 368.4 -6.6 398.2 20.1 397.9 22.8 400.2 23.9 399.9 23.2 398.7 26.3 401.6 28.9 400.3 30.6 416.2 171.1 416.4 169.4 419.0 169.9 419.4 166.9 421.0 166.2 420.0 166.1 421.9 164.4 423.6 162.1 457.4 108.8 460.4 106.7 460.9 107.4 461.5 106.2 463.3 107.1 465.2 105.3 467.0 107.0 376.9 106.2 372.0 108.8 372.2 108.0 370.3 108.7 368.5 109.8 368.0 111.7 369.2 112.4 366.8 113.2 376.7 67.2 378.1 67.1 375.7 64.7 374.1 64.6 372.1 62.7 372.2 61.9 370.2 61.7 369.7 59.4 366.9 59.5 367.5 56.5 367.6 56.7 382.9 67.7 381.1 69.9 381.4 70.2 379.1 72.4 380.1 72.1 377.4 74.5 417.8 45.9 419.8 45.2 419.6 43.4 419.1 40.7 419.3 39.8 421.2 39.3 419.6 36.0 421.3 35.7 421.2 33.4 424.3 31.7 421.8 30.5 423.1 30.2 424.3 30.6 424.1 25.4 399.6 59.5 400.0 57.0 398.3 54.7 401.6 52.9 402.6 52.8 402.7 51.5 401.9 48.2 403.6 48.4 404.5 46.0 406.4 44.5 404.6 44.5 406.6 42.7 405.4 42.4 407.2 39.1 407.9 35.9 396.8 96.7 395.7 97.7 396.3 100.1 398.2 101.2 399.4 103.0 401.3 104.8 398.6 106.6 398.5 107.2 399.5 108.6 346.1 107.4 348.8 108.8 348.5 111.3 346.0 112.8 343.4 114.4 342.1 113.8 483.0 124.8 482.5 128.1 484.7 126.3 484.5 128.5 485.0 128.8 487.2 133.1 487.9 132.8 488.8 136.2 489.6 137.7 488.4 138.2 489.0 138.5 490.3 139.2 488.4 140.1 490.0 142.5 387.9 59.1 388.7 58.8 387.0 58.3 387.7 57.1 386.6 55.2 384.8 54.3 384.5 52.1 383.1 52.4 391.3 147.3 389.3 145.2 388.0 146.2 387.7 146.8 386.0 145.3 382.6 140.6 381.8 145.3 380.2 144.7 334.2 94.1 335.8 92.5 334.4 90.8 334.3 89.8 334.2 87.5 428.0 141.3 430.7 140.2 430.4 143.7 433.5 141.5 434.4 141.4 435.6 141.3 436.5 141.0 439.6 142.2 439.5 141.9 439.8 141.5 443.3 141.0 443.6 143.5 433.9 122.7 435.6 120.1 430.7 119.9 430.4 118.0 430.8 116.2 390.9 99.5 389.8 96.2 387.7 96.7 388.6 96.6 386.6 95.0 384.5 93.7 384.0 92.9 380.7 91.7 381.7 89.8 379.2 89.9 378.8 88.1 377.2 89.5 375.7 87.6 491.2 100.3 490.5 98.7 490.0 97.6 489.4 95.6 491.3 94.3 492.4 93.6 491.8 91.7 493.6 93.4 441.4 191.8 440.0 193.2 439.6 192.6 438.4 192.2 438.2 190.9 435.2 191.3 434.4 190.4 433.2 191.5 431.3 189.8 428.4 190.9 427.6 189.3 417.9 142.8 418.0 141.2 418.1 139.0 421.5 137.8 419.6 138.0 421.0 135.2 423.0 136.3 422.3 132.4 424.8 133.6 373.5 116.3 371.9 115.9 368.2 115.8 367.7 115.6 366.9 115.2 364.6 113.6 362.4 100.4 363.8 104.0 366.8 102.2 366.5 103.1 367.4 105.5 354.6 123.8 355.5 123.4 353.2 126.1 354.4 125.4 353.2 128.4 354.1 127.3 349.3 129.7 348.8 131.3 349.5 131.6 347.1 133.7 408.3 57.2 408.6 56.9 409.9 56.0 413.1 55.9 412.3 56.7 383.1 98.0 381.8 99.7 383.4 102.8 383.4 103.2 383.8 104.6 383.1 106.9 383.3 109.1 383.3 107.6 383.1 111.3 382.2 110.8 383.2 115.9 353.4 95.4 349.9 97.5 350.5 96.0 349.1 95.6 348.4 95.4 346.1 98.4 341.6 96.8 343.4 94.8 376.8 115.7 377.4 119.4 375.7 121.6 372.4 121.9 373.0 120.4 370.9 122.8 372.4 122.6 369.5 125.8 370.1 125.3 388.7 124.5 389.9 128.2 388.9 130.9 388.4 130.1 387.7 132.5 388.3 135.0 386.5 132.5 388.7 137.7 385.7 139.1 386.7 138.0 388.3 142.6 386.3 145.6 386.7 144.8 423.3 99.5 422.7 99.6 424.7 102.1 423.1 104.9 423.0 106.2 421.1 106.2 421.2 110.3 421.5 111.0 420.6 110.8 419.9 112.4 409.5 117.5 410.3 115.2 410.9 116.9 412.4 115.5 414.7 113.3 416.4 111.1 415.7 111.6 416.4 111.9 400.1 112.3 402.4 114.9 401.4 114.7 404.5 115.4 406.4 116.1 406.7 118.5 408.0 116.6 408.9 118.0 410.3 117.9 413.4 119.9 412.9 122.7 414.0 122.1 413.8 124.0 414.7 123.2 399.2 72.0 397.8 74.1 398.7 75.8 399.9 77.1 401.1 75.9 398.8 79.5 400.5 82.1 399.0 82.5 399.3 85.5 375.2 135.0 376.4 137.0 376.9 139.8 374.8 139.2 372.4 138.8 374.8 141.2 373.1 144.6 372.5 144.3 371.1 146.1 369.9 148.4 370.5 147.8 368.2 148.7 372.1 171.3 373.2 169.7 371.2 169.8 372.8 167.1 370.8 167.8 370.6 165.5 369.2 163.5 368.0 161.2 367.9 160.3 400.2 120.9 401.1 122.1 401.8 123.2 404.9 125.9 401.7 126.4 404.2 128.5 405.0 128.5 404.2 130.5 404.7 132.2 406.3 132.5 406.6 134.8 408.0 138.4 407.2 135.2 409.2 107.8 409.7 105.4 408.9 106.5 408.3 105.3 407.7 101.1 405.7 100.0 406.1 100.7 404.9 97.5 404.7 96.4 405.1 95.1 403.5 92.9 401.4 94.4 387.0 88.4 387.9 86.9 389.6 87.0 392.3 85.5 391.8 83.6 391.4 84.7 393.7 83.9 396.9 84.5 398.4 82.9 399.0 81.3 398.8 79.5 401.8 79.1 402.6 78.9 403.5 76.6 403.1 77.4 344.0 57.2 344.5 57.1 346.6 57.6 346.9 55.5 348.7 58.9 350.1 58.3 352.5 58.7 352.0 59.2 411.9 117.4 412.1 118.4 411.7 117.9 410.7 123.9 413.7 124.2 410.4 124.6 412.9 127.3 412.6 128.8 408.5 127.6 370.6 102.9 369.4 102.3 372.1 102.7 374.5 103.1 374.6 103.4 377.0 105.7 378.6 103.8 380.0 104.3 380.6 104.9 383.7 104.9 383.4 105.1 384.6 107.6 388.0 106.7 388.6 107.1 452.9 116.4 452.7 116.0 455.1 116.5 456.0 115.1 460.3 117.0 459.4 114.7 461.3 117.5 461.1 117.9 464.2 117.5 465.9 119.0 380.1 49.2 383.4 48.2 383.4 46.9 384.7 45.7 386.1 43.5 385.2 42.7 386.2 41.5 387.3 41.0 391.5 39.2 390.1 38.6 389.5 38.8 390.4 34.8 391.7 34.2 433.6 221.1 436.5 218.0 436.0 218.4 436.7 217.0 441.7 214.9 439.8 213.1 439.3 212.4 441.4 211.7 409.4 61.7 410.3 61.1 407.0 63.6 407.8 64.3 406.0 63.5 405.1 68.2 403.1 67.5 401.5 67.7 401.2 70.0 401.9 67.6 399.1 72.2 400.4 72.3 397.8 74.9 395.7 75.3 397.7 76.7 414.8 56.6 413.2 61.7 413.9 61.1 415.0 61.9 414.6 64.0 414.0 65.1 414.5 67.9 412.1 69.1 412.8 68.4 412.3 69.4 411.6 71.7 378.8 88.4 379.3 87.6 378.7 85.9 381.9 85.4 380.5 83.9 384.1 84.5 383.8 86.0 386.3 82.5 387.8 82.9 389.1 82.6 389.3 79.1 387.4 80.8 388.5 77.7 387.6 76.0 376.5 155.3 376.1 152.2 374.0 152.0 375.5 149.3 375.4 148.3 375.4 146.2 374.1 147.3 374.7 143.9 374.4 139.8 375.6 140.8" fill="none" clip-path="url(#kb)" style="marker:url(#u18)"/>
<path d="M392.6 104.8 393.1 105.6 394.0 106.7 394.6 108.8 395.6 110.1 396.4 111.9 397.1 111.6 398.5 114.1 399.0 115.3 399.6 115.7 401.0 116.5 401.5 119.0 401.7 148.5 403.4 147.7 404.3 148.2 406.4 148.9 338.6 213.0 338.8 212.2 338.8 210.5 339.4 209.2 337.9 206.7 338.1 205.4 337.9 203.9 402.1 161.5 400.5 163.3 400.6 164.5 400.8 165.4 400.1 167.0 399.6 168.4 461.3 68.1 460.5 68.2 459.0 68.6 457.8 69.8 456.0 70.4 454.9 71.7 454.2 72.3 452.2 73.6 450.8 73.6 450.2 74.4 445.9 176.5 444.4 177.0 443.4 178.9 442.9 179.5 441.3 179.7 440.8 181.5 439.4 182.6 438.3 182.7 436.6 183.1 435.7 185.6 434.7 185.6 434.1 186.5 388.3 212.6 389.6 211.9 390.9 211.3 392.7 210.7 393.5 209.1 395.4 208.6 396.0 207.9 397.3 207.9 398.3 207.5 401.6 206.7 401.8 206.4 403.3 205.1 408.3 203.2 408.1 204.5 406.6 205.7 405.9 207.2 405.4 208.0 451.1 151.9 449.4 151.2 448.3 151.8 447.3 152.3 445.9 152.3 327.4 118.9 328.6 120.5 328.9 120.8 330.6 122.5 331.4 123.9 332.1 125.5 428.2 86.6 427.2 84.5 426.9 84.0 425.5 82.8 425.3 80.9 425.2 80.0 423.9 78.5 423.8 76.6 423.1 76.1 422.9 73.8 421.7 73.5 438.7 159.4 439.8 160.6 441.0 160.7 443.8 161.0 443.5 161.1 445.3 161.9 446.8 163.4 312.7 54.3 313.9 52.2 315.5 50.8 316.6 50.2 316.6 49.7 366.5 63.8 368.4 64.2 369.2 65.3 370.3 66.3 371.4 67.4 372.7 68.8 374.4 69.1 375.2 70.3 376.5 71.7 487.6 178.0 488.1 178.5 489.0 179.8 490.5 181.2 492.4 181.2 492.6 182.7 494.3 183.2 495.4 184.6 496.7 185.8 496.9 185.1 470.7 163.1 470.9 161.7 470.5 160.0 470.1 159.3 470.2 157.2 470.1 155.5 370.9 234.6 369.9 232.5 370.2 231.7 369.7 229.9 368.9 228.9 367.1 228.3 366.3 226.4 587.1 98.2 588.5 96.1 588.7 94.7 588.9 93.3 590.1 91.4 589.5 91.1 591.0 89.2 438.2 201.3 439.4 202.4 440.6 202.9 441.6 202.8 442.7 203.2 444.6 203.9 446.8 203.8 440.1 123.3 441.4 124.2 442.7 124.8 443.5 125.4 444.2 126.4 490.5 72.6 489.1 71.8 487.6 70.8 486.4 70.7 484.6 70.4 483.6 70.2 482.6 69.3 481.7 68.6 304.7 26.6 304.7 26.1 305.9 23.7 306.7 22.5 307.8 21.9 308.0 19.3 308.0 18.3 412.3 47.0 411.3 46.9 409.7 45.8 408.3 45.5 407.2 44.2 406.2 43.4 404.5 43.0 403.6 40.6 420.9 120.8 421.5 122.4 421.9 123.8 421.0 125.5 432.5 16.6 430.9 16.6 429.7 15.7 428.6 13.4 427.3 13.4 426.4 13.2 424.6 10.9 423.5 10.8 335.7 158.9 336.9 157.8 338.2 155.7 338.0 155.1 339.4 152.8 339.5 153.0 340.1 150.6 341.0 149.6 342.5 148.2 342.5 146.5 343.9 146.5 371.6 148.1 371.6 150.3 370.5 150.2 370.8 152.8 369.7 153.4 369.6 154.3 369.4 156.1 401.5 227.5 402.4 227.2 403.5 227.4 405.0 228.1 407.8 228.8 408.1 229.7 380.6 227.5 381.8 227.8 382.6 228.8 383.3 231.6 383.5 232.3 385.1 233.3 385.8 234.4 389.0 129.3 388.4 128.6 386.9 126.2 386.7 124.5 386.0 123.5 385.6 122.8 385.3 121.3 382.7 120.6 382.9 119.4 381.5 117.6 381.0 117.0 481.7 176.5 483.8 177.5 484.8 177.8 486.3 178.4 448.4 122.8 447.9 123.8 447.8 125.4 446.9 127.3 447.5 128.1 446.2 129.4 446.3 131.3 331.5 244.8 333.4 245.5 334.5 244.4 335.7 244.7 337.6 246.6 338.8 246.1 339.8 246.4 340.8 245.8 343.2 246.9 344.7 246.3 401.3 128.1 400.7 126.2 400.4 124.6 400.7 123.0 400.4 121.4 400.5 120.0 413.4 -33.4 414.3 -34.7 415.2 -36.1 415.9 -37.3 417.1 -38.0 417.1 -39.9 417.2 -40.7 419.8 -42.1 420.2 -44.1 502.4 43.3 501.8 44.9 501.7 45.6 501.6 46.4 500.6 47.5 500.8 50.0 500.3 51.7 499.9 53.0 499.8 54.7 500.0 56.0 500.7 57.7 388.1 79.9 386.2 79.8 385.1 79.5 383.0 79.4 381.8 79.6 380.3 78.9 412.5 -63.8 410.6 -63.3 410.1 -63.6 408.5 -64.6 407.0 -63.7 405.9 -64.2 404.4 -65.1 402.3 -65.2 400.5 -65.0 382.4 20.9 382.5 22.9 383.4 24.6 385.0 25.3 384.2 26.3 434.8 243.4 436.8 244.7 438.5 244.6 438.8 245.3 440.6 246.5 441.9 247.6 479.9 102.5 478.2 102.6 477.4 102.3 475.8 101.4 474.4 101.3 473.5 100.0 472.3 99.0 471.7 98.3 469.6 98.7 469.1 96.3 467.6 97.0 465.8 96.6 478.9 150.5 478.9 149.6 480.3 147.3 481.4 146.2 481.9 145.3 482.2 143.7 483.4 142.7 484.1 141.3 317.7 215.2 316.2 213.9 315.5 213.4 314.2 212.3 313.4 211.2 356.2 131.9 357.5 130.5 358.8 129.5 358.8 129.1 360.1 127.2 361.2 126.1 362.8 125.6 363.4 125.3 364.8 123.5 344.0 130.4 342.9 129.7 342.4 127.2 342.3 125.9 341.3 125.1 340.6 123.3 339.7 121.8 339.8 120.8 339.4 118.9 337.7 117.8 338.1 117.2 440.9 55.1 440.3 56.6 442.2 58.5 441.9 59.3 442.7 60.6 443.6 61.3 443.5 63.3 444.7 64.7 460.3 124.5 459.0 125.9 457.8 126.0 456.4 127.5 456.6 128.4 454.5 130.0 453.6 130.7 452.3 131.4 386.7 76.2 385.7 76.6 385.6 77.0 383.0 78.4 382.4 78.8 380.7 79.5 379.3 80.1 378.1 81.2 377.6 81.6 375.9 82.0 374.1 82.7 516.2 243.8 514.3 243.9 513.6 243.4 510.6 244.1 510.0 243.9 372.1 237.6 370.1 239.0 369.5 239.2 368.5 240.7 367.4 241.3 365.8 242.9 366.0 243.2 364.1 244.5 362.9 245.0 362.3 247.6 387.3 142.3 388.5 143.4 390.0 143.3 391.5 144.5 392.4 145.0 393.9 145.7 395.2 145.4 396.5 146.8 397.3 147.4 399.3 147.5 338.2 -21.3 339.3 -21.8 340.5 -22.9 342.0 -23.0 343.3 -23.2 344.6 -23.9 318.5 50.7 317.7 50.8 316.0 49.4 314.5 49.6 313.1 47.7 346.1 134.2 346.3 135.5 346.2 136.4 344.9 138.8 345.2 140.6 343.8 142.2 344.1 143.2 458.3 136.2 457.0 137.2 455.4 137.7 454.3 137.9 453.0 137.8 451.6 138.2 449.5 138.7 448.2 138.5 406.9 -9.8 406.8 -11.6 405.8 -12.8 404.9 -14.8 318.0 55.9 317.7 54.7 317.1 53.2 316.9 51.3 315.7 50.5 429.8 156.7 428.6 156.6 425.9 157.2 425.0 157.1 423.3 157.5 422.1 157.6 420.8 158.1 360.9 195.3 359.5 197.0 358.6 197.7 357.9 197.9 356.2 199.7 355.0 200.2 353.5 201.7 352.2 202.4 350.7 203.1 350.5 204.8 349.4 204.8 415.7 55.4 415.9 53.8 415.5 52.8 414.5 51.5 415.1 49.8 414.6 48.3 415.4 46.9 398.9 71.6 399.1 70.0 400.4 69.2 401.5 68.5 402.4 67.2 403.5 66.2 404.2 65.0 405.7 64.0 407.1 63.8 409.3 63.1 409.6 61.7 411.0 60.9 378.0 222.5 379.3 222.9 380.3 222.4 381.3 223.0 383.1 223.5 411.8 158.6 410.4 159.2 409.0 159.6 407.6 159.5 406.5 160.7 405.1 160.7 403.8 161.2 402.3 161.6 400.7 161.7 399.2 162.1 397.8 163.1 415.7 116.9 417.3 117.6 418.7 118.3 420.5 118.6 422.1 118.5 423.4 118.8 424.1 119.2 426.8 119.0 426.9 118.5 458.5 114.4 457.5 115.2 456.4 114.8 454.2 115.4 453.3 115.5 452.2 115.9 449.8 116.0 448.9 116.0 447.2 115.8 445.7 116.3 444.3 115.7 298.5 132.7 300.3 132.5 302.5 132.3 303.1 131.7 304.8 131.5 306.7 131.2 307.9 131.0 309.2 131.0 310.2 129.7 312.4 130.0 313.5 128.9 314.4 128.5 438.0 37.7 438.1 35.9 439.2 34.8 440.1 33.0 439.8 32.7 440.6 31.0 440.9 29.7 497.7 232.2 498.3 230.5 498.0 228.7 497.3 226.5 496.4 225.7 496.1 224.3 496.0 223.7 495.0 221.2 496.1 219.4 392.7 38.9 391.3 37.9 388.9 37.0 388.9 36.6 386.8 36.8 385.9 36.0 450.4 136.0 449.4 135.4 447.0 136.1 446.5 135.7 346.1 41.9 346.3 43.2 346.8 45.1 347.0 45.7 347.4 47.5 347.6 49.7 348.5 50.9 348.2 52.3 349.5 53.5 452.1 172.6 451.0 172.1 450.0 172.6 448.5 172.4 446.5 173.0 445.7 173.1 443.3 172.2 436.6 105.3 434.6 105.7 434.1 104.7 433.0 105.4 431.7 105.1 430.4 104.3 428.3 103.3 427.2 103.8 425.2 103.0 424.3 103.3 416.4 248.0 416.9 247.9 418.4 247.7 419.3 246.2 421.8 244.8 422.7 244.8 424.1 244.9 425.7 243.9 441.7 254.3 439.8 253.2 438.5 253.2 437.2 252.0 371.8 180.1 371.2 181.8 371.2 182.6 370.6 184.6 371.0 185.4 370.2 187.4 370.0 188.7 396.8 79.9 397.4 78.6 398.9 78.3 399.3 77.7 401.6 76.0 402.2 75.4 403.1 74.7 404.4 72.9 405.4 73.4 407.1 71.6 409.5 71.2 398.7 245.4 399.1 244.6 398.8 243.3 397.7 242.2 361.3 109.0 362.7 108.1 363.1 107.1 364.3 105.6 364.4 104.9 415.6 94.4 417.1 95.3 418.3 96.1 419.1 97.1 420.8 97.6 421.4 99.1 389.9 209.1 390.9 209.3 392.4 209.7 393.6 209.3 395.1 209.1 396.5 209.7 398.2 209.2 385.3 149.7 384.1 151.1 385.0 152.0 385.1 154.1 384.4 155.4 383.8 156.5 383.6 158.2 382.8 160.4 380.4 161.0 380.9 162.5 339.9 174.8 341.4 175.6 342.2 176.9 343.5 176.7 345.7 178.0 347.4 177.1 347.9 177.9 349.3 178.5 351.1 179.2 352.1 179.8 369.6 115.8 368.2 116.5 367.0 117.1 366.6 119.3 365.0 119.6 364.9 121.1 364.0 122.7 362.8 123.9 362.1 125.5 360.6 126.1 359.2 127.7 358.6 128.2 427.9 97.8 428.4 96.4 429.0 95.4 428.9 94.2 429.2 92.8 429.2 91.4 428.9 90.6 428.6 87.8 428.8 86.3 428.9 84.1 384.7 376.8 383.5 375.5 382.4 374.4 381.9 373.5 284.1 -6.2 284.8 -5.6 286.0 -5.7 287.6 -5.7 289.8 -5.5 312.5 247.0 314.0 247.4 314.9 247.4 316.4 248.3 319.0 248.4 319.4 248.1 320.7 249.4 322.0 249.6 339.6 329.6 340.1 331.2 341.4 331.9 342.0 334.4 343.1 334.7 343.2 337.1 343.8 338.2 503.6 151.4 504.9 150.5 505.7 150.0 506.8 148.3 509.1 148.0 510.4 148.1 436.9 106.8 438.1 109.2 438.0 110.5 437.3 111.7 438.0 113.4 438.2 114.5 438.5 116.1 438.8 117.6 438.7 119.8 439.0 121.0 413.4 111.5 413.4 109.8 413.0 108.7 413.2 105.9 412.3 105.0 412.0 103.1 412.1 102.0 411.5 101.0 411.3 99.0 410.3 97.6 313.1 12.1 315.2 11.8 316.5 12.1 316.6 13.0 318.4 13.2 319.9 14.7 321.8 14.8 323.0 14.6 324.8 14.7 450.9 157.6 450.7 156.6 450.9 154.5 450.7 153.2 449.6 152.7 449.8 150.4 450.1 149.2 449.7 147.4 360.0 165.3 358.5 164.0 359.1 162.3 359.7 160.4 359.8 159.2 359.3 157.2 359.8 155.5 359.1 154.2 431.7 84.7 432.4 86.1 433.8 86.0 435.4 87.2 436.6 88.2 438.0 88.9 439.4 89.7 440.7 90.9 441.9 90.5 444.1 91.8 403.6 172.3 403.0 173.7 401.8 174.9 401.9 176.2 401.4 177.8 400.5 179.3 399.4 181.7 399.5 182.0 398.7 183.7 496.2 138.0 498.2 138.6 498.7 139.5 500.0 139.8 501.8 139.7 502.7 141.1 503.2 141.8 506.1 142.5 506.9 142.8 404.2 153.6 405.7 154.4 406.9 154.3 408.0 153.6 410.8 153.4 412.5 153.5 413.1 153.1 414.5 152.2 415.7 152.3 417.4 152.4 375.1 121.7 373.5 122.4 373.2 123.7 371.0 123.8 370.3 124.9 368.7 125.7 367.7 127.3 367.7 127.3 365.3 128.6 364.4 129.7 363.3 131.7 464.0 40.3 464.2 39.0 463.7 36.7 463.3 36.2 463.5 34.9 462.5 32.8 462.6 30.6 462.5 29.9 462.1 29.1 460.9 27.7 460.9 25.9 459.8 24.4 420.9 144.1 420.6 142.9 419.1 143.4 417.2 141.7 415.4 143.0 413.9 142.1 454.2 61.8 454.4 63.0 454.4 65.1 454.5 66.2 454.8 67.7 490.2 100.6 490.8 102.0 491.5 102.2 493.1 104.2 494.2 104.8 495.1 106.7 496.3 106.8 496.7 108.0 498.0 109.2 498.8 110.1 500.2 111.5 501.4 112.9 434.2 -0.1 434.4 0.9 434.3 2.4 436.1 2.8 480.6 237.4 481.2 235.7 481.4 234.5 481.2 233.1 481.6 231.7 290.7 147.1 290.5 148.2 288.8 148.9 287.6 150.6 285.7 150.5 440.5 35.8 440.4 34.5 438.6 32.2 439.8 30.8 440.1 28.9 440.1 28.5 440.2 26.8 440.7 25.6 440.4 24.1 439.5 21.7 439.7 19.8 439.6 19.0 430.0 168.2 430.9 166.8 431.5 166.9 432.2 164.6 434.4 164.0 434.8 162.1 436.0 161.3 437.1 159.7 437.8 159.0 438.9 157.6 438.9 155.7 440.2 156.0 279.2 121.5 278.5 122.6 278.1 122.8 277.6 124.8 275.7 125.7 276.1 128.3 274.5 128.8 274.6 129.8 272.9 132.3 272.4 133.2 271.0 134.5 439.4 -20.1 440.6 -21.5 441.0 -22.5 442.9 -23.6 443.3 -25.2 444.5 -26.4 445.2 -27.9 446.2 -29.0 447.0 -30.1 447.9 -31.4 448.3 -32.4 415.4 15.2 414.6 13.6 414.2 12.7 412.5 11.4 411.2 11.6 410.4 9.8 415.6 122.3 417.3 122.9 418.6 123.3 419.4 124.3 421.3 124.9 422.7 125.4 423.1 126.2 424.4 127.5 426.2 127.3 449.3 246.0 447.8 247.0 445.8 246.4 445.2 247.4 442.9 247.7 442.3 246.8 440.2 248.2 426.2 58.0 427.6 56.3 428.7 55.6 428.4 54.0 430.1 52.5 431.8 52.2 432.3 51.6 434.0 51.5 434.6 49.7 436.6 49.2 438.4 47.7 304.9 169.7 304.1 167.7 302.4 167.5 301.3 165.8 300.9 164.9 299.3 164.4 298.7 163.2 296.2 161.9 296.4 161.2 294.5 160.1 293.2 160.0 292.2 159.0 372.3 312.4 371.5 313.3 370.6 315.2 370.1 316.9 363.8 92.9 363.8 94.0 364.4 95.4 366.0 96.2 367.0 97.5 368.4 98.3 369.4 100.3 371.3 100.3 371.2 101.0 372.8 103.2 438.4 104.5 438.2 108.0 439.0 108.0 440.1 110.1 438.9 110.6 439.1 112.9 439.2 113.7 440.0 116.5 396.1 192.9 397.3 193.2 398.6 192.5 400.0 194.1 402.1 194.8 403.0 195.1 404.5 196.4 405.6 196.3 339.4 169.2 338.3 168.3 338.4 167.5 335.5 167.2 334.1 166.2 333.8 165.8 331.5 165.2 331.4 164.9 374.2 159.8 373.3 158.5 373.0 157.6 372.3 156.3 371.9 155.6 371.4 153.1 370.5 152.7 370.6 150.9 371.0 148.6 370.9 148.1 370.2 145.7 441.9 -34.5 443.8 -34.5 445.5 -33.3 445.6 -33.1 447.1 -32.9 448.3 -31.9 449.6 -30.6 450.5 -29.8 451.9 -28.1 332.4 34.2 333.3 35.2 333.9 36.5 335.5 38.4 336.3 39.3 336.7 40.2 338.9 40.3 339.7 41.3 340.8 41.2 341.7 132.9 342.8 133.1 344.4 132.2 345.3 131.6 347.0 130.7 349.1 131.0 349.8 130.6 370.1 56.1 370.0 54.5 369.7 53.1 371.0 51.0 371.4 50.0 372.6 49.1 373.1 47.9 373.2 45.9 373.8 44.2 374.3 42.8 374.9 40.7 374.5 40.0 391.0 153.5 391.2 155.4 390.7 156.5 390.6 158.2 390.0 158.7 389.6 161.1 379.8 128.4 378.6 128.2 377.5 128.4 375.3 127.2 374.6 126.3 461.7 209.6 461.1 208.3 461.0 206.8 459.9 204.9 459.7 203.9 459.2 202.6 459.7 201.0 458.3 199.6 457.8 197.7 334.0 281.7 334.1 280.4 333.8 279.9 333.0 277.1 332.8 275.6 331.8 274.4 331.2 273.9 331.4 271.6 330.5 270.9 403.6 173.6 404.1 174.5 405.8 175.5 406.5 176.7 406.4 178.5 407.8 179.2 407.9 180.8 438.0 192.8 439.3 193.0 441.4 193.5 442.8 192.9 443.6 193.6 444.7 193.3 446.3 194.1 447.8 194.2 449.7 194.0 466.4 122.2 467.2 123.7 466.4 124.8 465.7 125.8 466.7 127.4 465.7 129.0 465.1 131.1 464.6 132.6 464.9 133.9 366.4 162.4 367.6 160.5 368.3 159.3 369.0 158.4 369.2 157.2 438.1 194.4 437.2 195.1 437.8 197.2 436.7 198.3 393.7 101.7 393.4 100.2 392.2 98.5 392.5 96.8 391.2 95.1 391.5 94.9 390.3 92.7 380.2 157.9 378.9 157.8 378.0 159.2 375.9 159.7 374.1 159.1 373.7 160.5 372.1 160.0 370.0 159.9 368.6 160.3 367.8 159.8 365.7 159.4 384.6 125.7 383.9 125.2 382.7 123.8 381.4 123.1 380.2 122.7 378.7 122.1 377.4 121.3 376.2 120.5 375.1 119.2 373.7 118.0 333.3 112.1 332.3 110.4 330.2 110.1 329.3 109.1 328.3 107.7 326.5 107.9 325.1 107.4 324.1 107.4 355.9 67.8 357.1 69.2 357.5 70.7 358.6 71.7 360.0 72.8 360.2 73.9 362.0 75.3 362.8 76.0 364.0 77.3 365.2 78.8 365.9 79.2 374.7 45.9 373.0 47.1 372.3 47.6 371.4 49.2 369.6 49.5 368.6 50.4 413.3 126.4 415.3 126.0 416.3 125.1 417.8 125.2 419.8 124.8 420.0 125.5 555.8 202.1 556.1 203.3 555.0 205.1 554.7 206.2 553.8 207.9 553.5 209.4 552.7 210.5 552.6 211.5 551.4 213.2 550.7 214.5 549.5 216.6 549.6 216.1 368.5 59.3 369.4 60.3 368.5 62.0 369.1 64.3 369.6 64.7 296.8 14.7 295.6 16.0 294.2 16.3 293.0 17.0 292.2 17.5 290.8 19.1 344.8 86.4 342.7 87.6 341.8 87.1 339.4 87.4 339.3 87.6 337.6 88.9 364.3 168.0 363.7 167.7 362.2 168.8 360.5 168.7 359.1 169.6 505.3 193.7 503.2 193.4 502.0 192.7 500.8 193.8 414.8 138.5 413.5 137.1 413.6 135.5 412.5 134.0 411.5 133.6 429.0 155.6 428.4 154.1 428.1 151.4 427.9 150.7 426.8 149.6 425.2 148.4 425.0 147.3 424.7 145.7 422.8 144.2 422.2 143.5 464.1 96.2 462.7 96.2 461.0 96.8 459.6 96.9 458.0 96.8 422.0 65.9 423.5 65.5 424.6 64.8 425.5 63.6 457.1 171.0 455.8 170.8 455.1 169.8 453.1 168.9 453.3 168.0 450.9 166.4 450.2 166.0 450.2 164.6 447.8 163.5 446.9 161.7 446.0 162.1 381.9 131.1 383.1 132.4 385.4 132.9 385.5 133.4 386.9 135.0 388.2 135.0 389.5 135.5 391.2 137.4 392.2 138.3 343.9 184.0 345.1 183.0 347.0 183.0 348.9 182.2 349.5 182.3 351.0 182.6 351.8 182.1 353.9 182.0 355.8 181.3 356.6 181.2 467.2 138.7 467.7 140.5 468.9 142.0 469.7 142.7 469.0 144.1 471.1 146.0 471.4 146.4 471.9 148.5 473.2 149.6 473.9 151.5 473.9 152.3 437.9 56.6 436.3 54.5 436.7 54.4 434.7 52.9 433.8 51.9 432.8 50.4 431.3 49.7 431.5 48.4 430.4 47.2 379.0 212.9 380.3 212.3 382.3 213.5 383.7 212.1 384.4 212.7 386.5 212.5 454.9 117.8 456.1 118.5 456.2 121.4 456.6 122.5 457.7 124.1 449.0 128.3 448.4 129.5 448.7 130.2 448.2 132.4 358.8 178.5 360.1 176.8 358.2 176.0 358.1 174.1 357.8 172.8 357.8 171.0 357.0 169.8 357.2 168.1 356.8 166.6 356.4 165.7 355.1 164.8 354.9 163.1 410.4 75.1 411.7 74.0 412.0 72.7 412.3 70.3 412.4 70.1 412.8 67.6 413.8 65.9 414.0 64.9 414.5 62.8 446.3 149.5 444.3 150.3 443.4 151.7 443.2 151.5 441.7 152.7 439.5 153.0 437.7 154.8 436.9 154.3 436.6 155.0 434.7 156.0 432.6 156.6 432.4 157.1 447.8 120.9 446.2 121.6 445.2 121.4 442.7 121.3 441.1 121.7 440.9 122.3 438.5 121.7 392.2 223.2 390.8 221.9 390.9 220.9 389.8 219.1 390.1 217.1 389.9 216.0 388.3 214.7 388.4 212.7 388.4 212.3 334.3 114.0 334.4 114.3 336.3 114.1 337.5 114.8 339.4 115.2 340.5 116.1 341.7 116.6 343.0 117.0 344.7 117.9 346.1 118.2 347.8 118.1 306.8 33.9 307.0 35.1 307.9 35.9 309.0 36.8 309.9 39.2 310.5 40.6 381.7 152.5 382.0 154.1 381.5 156.0 380.7 157.2 380.1 158.1 379.5 159.7 329.3 82.4 329.6 79.9 329.3 78.8 331.1 77.7 388.1 227.7 389.2 226.8 390.9 226.1 392.0 225.6 392.4 84.5 391.1 85.4 389.6 85.9 387.8 86.1 386.8 86.4 385.5 87.7 384.2 88.6 376.7 216.6 377.4 215.4 378.3 214.8 379.7 212.5 366.5 32.4 365.1 32.9 363.5 34.4 362.1 35.0 361.0 35.8 359.7 35.6 357.9 36.7 357.4 37.2 355.6 38.1 354.8 39.7 353.3 40.0 445.8 70.8 443.7 69.5 443.7 68.1 441.8 68.1 441.1 66.9 440.7 66.0 439.8 64.9 393.6 162.8 393.9 162.0 394.6 159.9 395.1 158.1 395.5 157.9 395.4 156.6 396.7 154.1 398.8 153.5 398.5 152.8 420.6 193.9 421.5 195.0 423.2 195.5 423.5 196.1 437.6 123.7 438.0 122.9 435.8 121.3 434.8 121.0 417.9 27.7 419.2 28.3 420.4 29.2 421.1 30.1 421.4 32.4 423.6 32.3 424.3 33.8 379.0 67.9 378.7 70.0 378.3 71.1 377.5 72.1 378.7 74.4 379.0 75.1 378.1 76.9 377.6 78.8 410.2 139.1 411.6 138.9 412.6 140.4 413.7 140.4 414.9 142.1 417.1 141.8 418.2 142.7 419.4 143.2 420.7 144.6 443.6 122.3 443.2 120.5 442.6 118.7 442.9 117.5 443.1 115.2 443.4 114.5 443.4 112.8 443.4 111.1 443.0 110.1 443.2 108.4 443.6 106.8 443.3 105.5 415.0 108.9 413.7 108.1 411.4 108.2 410.9 107.6 409.5 106.7 407.2 107.5 407.0 105.9 405.2 105.5 404.3 104.4 402.6 103.5 401.1 101.6 401.0 100.8 494.0 151.6 493.9 154.1 493.9 155.8 493.8 155.9 494.1 157.6 411.8 118.3 412.0 120.4 413.3 121.4 414.3 122.2 415.6 123.3 440.6 102.0 441.3 101.7 443.4 101.3 444.3 99.8 445.0 100.8 446.1 99.6 448.0 99.7 389.3 41.6 388.9 43.5 389.3 44.4 388.9 45.8 389.1 47.4 389.1 49.3 388.1 51.1 387.5 52.3 387.9 53.6 386.7 55.0 523.3 116.1 523.0 118.1 524.0 119.3 523.2 120.2 523.6 122.0 348.5 94.0 346.3 95.8 345.8 97.0 344.9 97.8 344.3 98.6 343.5 100.1 341.9 100.5 340.8 102.9 339.8 103.5 339.2 104.6 338.0 106.5 436.4 107.6 434.4 107.9 433.5 106.4 431.6 106.6 430.8 105.8 429.0 105.8 385.9 110.0 387.7 109.9 389.1 109.4 391.1 109.5 391.6 111.3 393.5 109.9 395.4 111.1 396.7 110.1 397.4 125.3 398.4 125.7 400.3 125.8 401.1 127.0 402.5 127.2 403.9 127.8 404.8 127.9 406.8 128.9 407.7 129.8 408.9 130.8 361.8 193.7 359.7 194.2 358.9 195.0 356.2 194.6 356.0 195.2 336.5 50.8 337.3 52.5 337.6 53.6 338.4 55.3 521.0 251.1 519.1 251.3 517.8 250.2 516.8 249.3 515.7 248.7 514.4 246.8 513.0 247.0 512.0 244.9 386.0 212.8 387.6 212.8 388.7 212.7 390.0 211.6 391.5 212.0 393.1 211.1 393.6 211.6 394.7 210.5 397.0 210.3 398.8 210.5 400.1 209.3 400.6 209.1 399.7 64.0 398.6 65.1 397.0 66.0 396.3 66.3 395.0 68.1 393.9 69.3 392.7 69.2 391.4 70.0 389.5 70.2 429.1 179.4 427.6 178.5 426.4 176.8 424.8 176.9 424.4 175.3 423.4 172.9 422.5 172.4 422.0 171.4 420.2 171.4 418.5 170.6 417.8 168.8 438.4 24.1 437.6 24.9 436.8 26.7 435.1 27.5 434.7 29.0 433.7 28.8 432.7 30.8 431.4 32.4 431.4 33.3 430.2 35.0 429.7 35.9 428.7 36.9 393.5 126.9 393.0 128.1 393.3 130.0 391.6 132.1 392.8 132.5 392.8 134.7 392.1 135.3 391.1 136.9 392.3 139.1 392.0 140.0 512.2 73.1 513.5 74.2 515.0 73.6 515.9 72.9 460.6 73.7 460.0 75.3 458.5 77.3 458.7 78.7 457.8 79.1 458.4 80.9 428.1 274.2 429.1 272.8 430.5 272.4 431.6 271.8 434.3 271.7 434.6 272.0 437.2 272.0 437.4 270.8 448.1 118.3 448.4 117.2 449.6 116.7 450.8 116.8 407.5 30.0 409.1 29.0 409.8 28.1 410.1 26.4 410.6 24.0 411.6 23.1 411.7 22.4 412.6 19.3 411.5 18.5 412.8 17.0 404.6 77.6 405.8 79.0 405.8 80.3 405.9 81.8 407.5 82.2 408.0 84.0 408.3 85.3 409.2 87.1 388.0 32.7 388.0 30.5 387.7 28.8 387.7 27.6 301.2 147.7 302.2 146.9 304.2 147.0 305.1 147.8 307.0 147.0 308.4 146.8 310.0 147.7 311.7 146.8 313.1 146.7 313.8 146.4 390.7 232.0 391.7 233.6 393.5 233.0 394.9 233.0 396.3 232.9 398.0 232.8 399.4 233.2 401.0 233.3 402.2 232.3 403.6 231.8 405.0 231.7 422.6 112.9 421.2 112.7 420.2 114.0 417.6 113.8 416.4 114.3 416.1 115.6 414.7 115.8 413.1 116.0 411.5 117.1 410.8 117.4 407.9 117.4 357.2 200.6 356.2 199.3 355.2 198.0 354.9 196.7 353.3 195.4 352.6 194.5 352.8 192.8 351.9 191.3 350.7 189.8 350.7 188.8 349.0 187.2 348.5 186.0 377.4 165.5 376.0 166.3 375.1 166.7 373.9 168.4 373.2 170.0 370.9 170.7 370.4 171.5 325.9 21.4 325.1 20.3 324.4 18.2 322.4 18.0 321.8 17.4 320.2 16.0 319.1 15.6 318.1 14.6 311.1 147.2 311.0 149.3 311.7 150.1 311.9 152.1 312.3 154.3 313.4 155.0 312.9 156.1 314.0 156.9 314.6 158.8 314.7 160.0 314.9 162.0 315.1 164.1 333.7 35.6 334.6 38.0 334.6 39.2 336.0 39.8 336.4 41.6 337.0 42.7 338.0 43.9 339.0 45.0 339.6 46.5 339.7 47.5 340.8 49.8 395.3 77.8 396.0 76.7 397.8 76.3 398.6 75.0 398.9 73.8 400.3 72.0 400.4 70.5 401.5 69.8 415.2 166.7 413.5 165.0 413.8 163.2 412.8 162.1 411.8 161.0 410.5 159.9 409.9 158.3 295.2 166.4 295.9 167.2 297.8 165.7 299.5 165.2 300.2 165.0 303.0 164.8 304.4 164.7 305.6 164.2 400.8 219.4 400.0 219.4 398.2 217.7 398.0 216.6 396.3 216.0 394.3 215.2 393.9 214.1 392.1 213.7 488.4 169.6 489.8 169.4 491.7 168.3 492.2 167.9 494.0 168.0 495.3 167.4 497.1 166.1 497.9 166.0 499.2 166.1 501.3 165.4 502.4 166.0 503.6 164.8 493.0 99.8 495.0 99.7 496.4 99.0 497.2 99.7 499.0 100.6 501.4 99.3 501.8 100.3 503.7 100.3 406.4 206.9 406.0 204.8 406.3 203.6 405.2 201.8 405.1 200.7 405.8 198.9 405.4 197.4 405.8 196.1 406.7 194.2 406.8 193.8 407.5 191.4 408.1 190.9 412.9 297.2 413.7 296.6 415.3 295.5 416.4 295.3 417.8 294.8 418.1 293.0 419.2 291.3 421.6 289.6 421.1 288.9 422.6 287.5 422.6 287.2 293.6 81.0 295.8 80.7 296.1 79.6 297.9 80.1 299.6 79.0 300.3 79.3 302.3 79.2 303.7 79.0 305.6 78.8 306.6 78.7 308.4 78.8 310.0 79.5 406.1 110.2 407.5 109.6 408.8 109.9 410.3 109.3 411.3 109.5 413.8 109.1 415.1 109.0 415.3 109.7 416.9 109.6 404.0 67.1 402.5 67.2 401.8 67.2 400.8 67.9 398.9 67.4 397.1 67.3 395.9 68.3 393.7 69.4 438.9 142.4 438.8 141.1 437.6 139.3 436.8 138.6 436.2 137.1 435.6 135.4 433.9 134.8 448.6 50.9 449.2 51.3 451.2 52.0 453.3 52.9 454.1 53.1 455.9 54.2 492.5 130.8 492.6 132.7 495.2 132.5 495.7 133.9 497.3 134.8 347.5 42.0 346.3 41.0 344.3 41.2 343.0 40.6 341.6 40.0 340.1 39.8 482.9 74.3 481.6 74.8 480.5 74.5 478.5 75.2 371.0 104.9 371.1 106.0 371.2 108.4 371.1 110.2 370.6 110.9 370.9 111.7 369.4 113.6 369.0 114.9 368.6 116.6 347.8 154.7 347.9 152.8 349.1 152.5 349.3 151.2 349.9 149.4 350.9 148.3 352.4 146.6 353.5 145.6 354.1 145.3 355.9 144.3 433.5 115.3 435.7 116.0 437.1 116.0 438.6 115.1 440.2 115.2 441.9 115.1 522.9 132.8 521.2 132.9 519.9 132.6 518.3 133.8 384.6 90.4 384.4 89.4 383.7 87.1 384.5 86.4 383.8 84.0 384.1 82.8 384.0 81.5 383.6 79.5 384.0 79.0 371.9 90.7 370.3 90.9 368.1 91.1 367.7 91.8 366.5 92.8 364.4 92.3 362.2 91.7 362.1 91.6 360.3 92.4 358.1 92.6 357.7 93.2 355.7 93.4 412.9 189.8 411.6 189.7 410.3 189.7 408.7 190.4 407.5 191.3 405.5 190.8 404.1 191.3 403.0 191.1 484.4 197.8 486.0 197.1 487.6 197.4 489.6 197.5 490.7 196.2 464.9 177.1 463.3 178.4 463.4 180.5 462.3 181.4 462.0 182.9 308.5 45.4 308.9 43.8 308.4 42.1 309.0 40.8 309.3 39.4 310.2 38.2 310.2 37.1 310.3 36.0 408.9 -50.3 409.4 -50.4 410.4 -49.3 412.2 -49.6 414.0 -49.7 415.2 -49.9 416.7 -49.8 418.4 -49.8 419.9 -49.6 421.2 -49.2 425.5 131.1 424.4 133.1 424.5 134.1 424.6 136.0 424.2 137.5 424.3 138.9 423.0 140.1 423.1 141.4 375.4 234.9 373.9 234.8 372.5 235.8 370.7 236.4 369.0 236.1 368.3 236.9 456.7 208.7 455.8 208.2 454.6 206.8 453.0 207.7 452.7 207.2 448.3 178.5 448.0 178.6 445.7 178.0 444.0 178.9 443.2 178.8 442.8 179.1 440.8 181.1 439.2 180.4 437.2 181.6 436.3 182.6 434.8 182.7 433.8 182.7 434.9 113.5 435.2 113.0 436.7 111.5 437.9 111.9 438.9 109.7 440.0 109.5 441.8 108.1 454.4 188.0 454.8 189.2 456.4 190.0 456.2 192.3 456.8 194.4 457.4 195.4 457.1 197.2 419.3 205.3 418.8 207.2 418.3 208.4 418.8 209.9 567.9 40.4 566.6 41.1 564.1 41.0 564.3 42.3 385.0 84.4 384.2 85.7 383.5 86.1 381.8 86.6 379.6 86.7 379.9 86.8 377.4 87.8 376.2 88.2 374.1 88.0 372.9 89.4 371.4 89.3 430.2 181.2 430.8 182.2 429.8 184.7 430.0 186.7 430.5 186.3 430.6 188.7 430.0 190.4 429.5 191.7 378.1 77.1 376.4 76.3 375.0 75.6 374.5 75.1 373.2 73.8 372.4 73.7 370.4 72.6 369.3 70.7 369.0 70.3 310.6 235.7 311.4 235.4 313.1 236.1 315.2 236.8 316.9 237.0 318.0 236.7 319.3 237.3 393.7 100.3 392.4 102.1 392.3 103.0 391.5 104.0 390.6 106.2 389.9 106.8 389.6 107.4 355.4 155.1 357.4 155.4 358.6 154.2 359.4 153.4 361.6 153.4 362.3 153.6 406.3 106.7 408.0 107.5 408.8 106.6 410.6 106.5 411.9 107.8 414.7 106.2 414.9 106.3 416.3 107.3 456.1 274.4 456.6 275.5 456.5 277.8 456.0 278.8 457.0 280.2 457.0 282.2 457.5 284.0 457.8 285.1 458.5 286.1 437.5 66.5 437.9 64.9 438.3 63.9 439.0 61.6 440.2 60.4 439.9 58.2 440.0 57.0 429.9 159.2 427.3 160.1 427.1 159.7 425.3 161.5 424.6 162.8 423.2 162.8 421.6 164.3 420.7 165.1 475.3 266.7 476.9 265.3 477.0 263.3 477.7 261.8 479.0 260.9 479.4 258.9 479.8 257.3 366.9 -1.6 365.8 -0.9 364.4 0.0 363.4 1.7 362.6 2.2 360.9 3.4 270.9 233.5 270.2 231.9 269.7 231.7 269.5 229.2 268.7 227.8 268.5 226.2 267.9 224.3 268.4 223.1 267.7 221.6 267.3 220.9 362.5 231.3 361.7 233.1 361.2 234.3 360.7 236.4 360.1 237.9 385.0 160.8 385.6 159.8 386.3 158.8 387.2 157.3 388.0 155.7 387.8 154.8 414.6 140.4 415.4 140.9 417.5 139.5 418.1 138.4 418.5 137.2 421.0 137.3 421.4 136.4 422.8 135.2 424.0 135.0 425.0 133.9 424.8 338.9 423.7 340.0 422.3 340.1 420.3 340.4 418.5 341.3 417.9 341.6 416.4 341.0 414.7 341.5 413.0 341.3 411.4 342.1 410.5 342.0 470.3 130.8 471.0 132.1 471.1 133.2 471.3 134.8 472.5 135.6 473.3 138.0 470.6 65.8 470.3 68.3 471.0 68.7 470.6 69.8 470.8 71.7 470.2 73.2 470.1 74.4 470.7 77.4 469.2 78.0 364.3 105.3 365.4 105.4 366.8 104.4 368.8 104.9 455.1 158.4 452.7 157.0 452.1 155.9 450.9 154.5 450.2 153.6 447.7 153.2 447.1 152.3 446.0 150.4 432.4 208.6 433.7 209.3 434.0 211.4 435.8 212.2 435.5 214.1 436.3 215.5 436.8 217.1 441.5 63.7 441.2 65.0 441.3 66.2 442.1 68.4 441.9 69.3 442.7 71.8 442.1 72.0 442.7 73.9 443.0 74.8 444.4 76.5 442.5 203.1 443.0 204.3 443.8 205.7 444.4 206.8 444.6 208.3 445.8 209.8 446.9 210.9 448.2 212.4 448.2 213.6 450.0 215.4 449.7 215.9 375.2 142.3 374.0 143.9 373.8 144.8 372.4 146.5 371.6 147.7 408.8 218.9 407.9 219.4 406.5 219.0 404.6 219.4 430.8 126.7 431.3 127.5 432.7 128.4 432.8 129.9 434.8 131.0 435.3 132.1 437.0 133.4 436.7 134.5 439.1 134.9 440.4 135.7 440.9 137.4 441.8 138.7 376.3 66.9 376.3 64.9 376.4 63.5 375.7 62.1 375.4 60.5 373.9 59.3 374.0 57.5 373.4 57.4 371.8 55.6 370.7 54.5 370.3 52.6 369.1 52.4 461.7 131.9 461.8 131.1 462.6 128.4 462.1 127.5 462.8 125.9 462.6 124.8 462.7 123.0 462.8 122.1 462.7 119.5 397.9 177.7 398.6 178.4 399.7 179.9 400.1 181.6 402.2 181.3 402.8 183.4 403.2 184.0 403.5 185.1 405.3 186.5 407.0 187.9 501.9 99.4 503.1 101.6 503.0 102.1 505.1 103.6 505.3 104.7 505.9 106.5 465.5 102.1 466.2 100.0 465.3 98.6 465.9 97.4 465.9 96.5 467.2 94.3 417.1 163.0 418.9 164.1 419.0 164.9 420.7 166.1 421.7 166.8 422.7 167.7 424.1 168.8 425.3 169.6 426.3 170.8 427.8 171.4 393.9 44.9 393.1 44.4 392.3 43.5 391.5 41.9 390.4 39.8 388.9 39.7 388.6 37.8 388.2 36.9 386.9 34.8 387.2 33.5 386.5 32.1 401.8 250.6 402.5 248.4 402.0 247.3 402.0 245.5 401.7 244.5 401.4 241.3 401.2 239.9 401.0 239.4 401.1 238.3 400.9 236.2 353.8 161.5 355.2 161.5 356.7 161.2 359.1 160.8 359.7 162.2 360.9 162.7 363.4 163.0 363.9 162.0 365.6 161.8 446.5 251.6 445.9 251.0 443.7 249.3 442.5 249.3 441.7 248.7 440.2 248.1 378.6 116.5 379.2 118.3 379.7 119.5 380.9 121.4 381.6 122.5 382.1 123.4 383.1 125.6 384.3 126.3 384.2 127.1 385.4 128.2 387.0 129.3 387.7 130.2 440.0 63.6 439.9 64.5 439.3 65.8 440.0 67.3 439.8 69.0 439.0 70.2 439.6 71.6 438.2 73.7 437.4 74.8 351.3 31.5 351.8 32.3 352.1 33.5 352.4 35.5 353.2 36.7 353.3 38.3 354.6 39.5 353.8 40.9 353.7 43.1 355.0 44.6 354.9 45.7 422.5 -27.6 423.3 -27.6 423.6 -29.6 424.6 -30.1 425.1 -32.2 425.5 -33.9 426.4 -34.7 427.1 -35.6 427.4 -38.1 428.9 -39.6 430.0 -39.6 431.0 -41.7 330.1 248.4 330.8 248.3 332.2 247.8 334.2 248.2 334.7 248.2 441.0 85.2 439.6 83.8 437.8 82.9 436.6 81.8 435.5 80.4 435.5 79.9 430.9 156.9 432.1 158.7 432.9 159.5 433.9 160.2 443.1 148.9 444.5 150.3 444.8 152.0 445.5 152.4 447.4 154.2 403.8 126.3 404.1 125.3 403.4 123.8 403.1 121.6 402.6 120.9 402.7 118.4 401.1 117.3 401.0 116.4 400.4 115.4 400.1 113.5 350.3 64.2 350.3 61.9 349.7 60.7 350.5 60.1 369.0 -5.2 370.5 -6.5 370.7 -8.6 371.6 -9.5 372.6 -11.0 373.3 -11.5 373.3 -13.8 373.9 -14.9 499.7 127.8 498.5 126.4 498.3 124.6 498.1 122.2 498.3 121.3 497.2 119.1 497.2 118.4 448.2 104.3 448.7 106.1 449.5 106.9 451.1 107.8 452.3 108.7 452.7 110.8 453.5 112.0 454.4 113.1 455.5 114.6 372.8 -28.5 373.4 -29.8 373.1 -30.8 373.7 -32.6 374.1 -33.6 374.5 -35.1 375.0 -37.2 376.4 -38.2 376.7 -40.1 377.4 -41.0 389.5 88.5 388.3 88.0 386.8 88.5 385.1 89.1 384.0 89.3 382.7 88.6 381.2 88.8 380.5 88.7 378.8 89.2 376.6 89.6 375.1 89.5 373.5 90.0 425.2 235.9 426.5 237.7 427.9 238.7 428.5 239.7 429.7 240.4 431.2 242.1 431.6 242.8 432.8 244.0 433.8 245.6 439.1 181.8 438.2 181.8 435.9 183.2 435.6 184.0 434.2 185.1 432.7 184.9 431.5 185.5 430.2 186.4 429.1 188.0 428.6 188.8 426.5 189.5 424.9 190.8 489.5 129.7 489.2 128.0 489.8 127.5 489.1 125.1 489.0 122.9 487.8 122.4 487.9 120.0 488.5 118.2 444.5 89.8 443.2 89.3 441.4 87.9 439.4 86.9 439.7 86.7 439.2 86.1 437.5 84.8 354.9 182.5 353.7 183.6 352.3 184.6 351.3 183.8 349.6 184.3 348.5 183.9 346.2 185.2 345.2 184.7 344.1 185.4 343.2 186.0 341.3 187.0 339.8 187.5 344.5 259.6 344.9 261.4 345.8 261.6 344.1 263.7 344.9 265.1 344.8 267.7 343.6 269.0 449.0 141.3 450.7 140.8 451.8 139.2 451.9 138.4 453.6 137.2 454.2 135.8 454.9 134.5 452.5 222.5 452.7 224.8 453.1 225.7 454.0 227.5 454.6 228.2 454.4 230.3 455.0 231.9 455.6 233.9 454.8 234.5 455.3 236.1 455.2 237.6 407.6 43.7 409.6 42.6 410.2 42.0 411.4 41.7 412.5 41.0 413.7 40.9 415.9 39.4 416.0 39.6 391.5 29.5 390.2 30.9 390.1 32.0 389.5 34.4 388.0 34.0 387.7 36.2 386.6 36.6 386.2 38.1 385.5 40.0 384.4 40.7 382.9 41.5 375.2 127.2 374.4 126.6 373.1 125.6 372.1 123.4 341.2 227.0 341.7 227.0 344.1 227.4 345.0 227.3 346.2 226.9 347.7 226.1 349.5 225.7 350.2 225.9 351.8 225.7 353.2 225.0 355.1 224.4 448.3 204.8 447.0 204.0 446.4 201.9 445.6 201.1 444.9 200.0 443.5 198.1 442.1 197.0 442.2 196.1 440.9 194.5 439.8 193.9 349.5 64.7 348.5 66.3 349.5 68.0 349.3 69.4 349.2 70.5 343.9 162.7 342.6 160.5 341.4 158.9 340.0 158.2 339.1 157.8 391.7 250.0 391.3 251.4 389.7 253.0 389.0 253.4 344.6 118.2 344.5 115.9 344.6 114.8 345.1 112.6 344.8 110.8 344.4 110.8 344.8 108.7 345.0 106.2 344.8 105.5 344.7 104.7 401.5 131.3 400.1 131.4 399.0 131.9 397.8 132.9 396.1 132.8 364.5 217.9 365.6 219.7 367.2 221.8 367.8 221.8 369.3 221.5 370.2 224.5 370.9 225.1 394.1 -24.2 392.7 -23.5 391.9 -23.5 390.9 -22.9 388.9 -22.3 387.4 -22.1 386.2 -21.0 384.7 -21.3 383.1 -20.7 381.7 -20.4 414.9 190.5 416.5 189.4 416.6 188.3 418.0 186.1 418.9 185.9 420.5 184.5 420.3 182.8 422.2 182.1 423.1 181.1 423.5 179.3 425.0 178.3 425.5 176.7 452.5 56.4 454.0 56.4 455.0 56.7 457.2 56.5 458.4 56.1 459.6 55.4 460.6 54.9 461.6 55.8 463.3 55.7 400.8 110.2 398.3 112.0 397.8 112.2 396.7 113.6 395.0 115.0 393.7 114.0 391.8 115.2 420.1 7.8 418.6 7.8 417.9 5.5 416.3 5.1 415.2 4.4 413.8 4.0 412.0 3.5 411.5 3.5 431.1 147.5 429.5 145.8 429.1 144.4 428.6 143.4 427.8 141.5 427.4 140.9 427.2 139.3 426.8 137.4 389.3 150.3 387.7 150.0 386.3 150.6 385.9 152.2 384.1 151.6 382.8 152.0 381.1 152.8 379.3 151.5 438.4 157.8 438.7 157.6 439.3 160.2 439.8 161.0 401.5 222.8 401.8 224.1 402.1 225.7 402.9 227.2 404.0 228.5 404.4 230.5 404.3 232.0 449.9 23.7 450.0 25.3 449.3 26.5 448.3 26.7 446.9 27.1 445.4 28.9 443.7 30.0 443.2 30.6 441.9 31.9 440.7 32.7 439.0 33.4 438.5 34.7 463.8 104.7 465.0 105.0 466.7 105.9 468.4 106.4 469.2 106.4 471.2 106.7 472.7 106.8 384.0 -15.7 384.4 -15.9 384.5 -17.8 385.9 -19.9 430.7 101.2 430.9 102.5 432.5 104.5 432.5 106.2 433.7 107.9 417.0 168.5 417.5 166.5 418.4 164.7 419.6 164.0 419.6 163.0 419.3 161.5 420.9 160.1 422.2 158.7 422.7 157.1 423.2 156.5 424.4 155.0 434.6 245.0 435.4 246.0 436.5 247.0 437.0 247.9 357.0 153.1 354.9 152.9 353.5 152.3 352.5 152.6 351.0 153.0 349.2 151.6 347.5 151.5 346.4 151.6 344.9 151.5 342.8 152.1 486.6 133.3 486.7 134.7 485.4 135.1 483.7 137.2 483.5 138.3 483.0 139.0 482.7 139.6 480.6 141.1 382.1 9.7 380.8 8.1 379.3 8.2 378.4 7.6 376.8 7.8 375.2 6.8 374.0 7.0 373.0 5.6 478.3 83.4 479.3 82.3 480.8 80.9 482.0 80.4 483.6 79.5 484.5 79.1 485.9 78.0 487.3 78.7 489.2 78.1 489.5 77.2 491.7 76.6 383.3 141.9 382.7 143.3 383.4 144.8 383.3 146.0 381.9 148.0 382.4 149.9 381.3 151.4 382.0 152.0 381.2 154.1 382.4 156.2 382.3 156.6 381.2 158.5 531.3 55.9 530.5 58.1 529.3 59.0 528.3 60.0 284.8 166.4 284.5 167.0 283.3 168.5 282.9 169.8 280.2 170.9 280.1 171.8 280.0 172.8 278.6 174.2 277.2 175.7 276.2 176.4 297.3 274.9 296.5 276.2 296.0 275.6 293.8 277.7 292.9 279.2 291.8 280.0 290.8 280.1 290.3 281.8 289.4 283.8 288.0 284.6 489.8 177.9 488.6 179.6 487.1 179.8 486.5 181.2 485.3 182.0 483.6 182.9 481.8 184.3 481.2 184.6 386.9 136.2 386.1 137.1 385.3 139.2 383.9 140.0 383.8 141.5 383.6 142.7 460.2 183.1 459.3 181.6 459.0 179.6 459.3 178.6 458.5 177.5 457.9 175.7 457.4 174.3 457.1 172.7 456.8 171.3 455.6 170.2 455.1 168.0 455.7 166.6 443.0 63.7 444.2 62.7 444.9 61.5 446.5 61.5 448.2 60.3 448.8 59.3 449.5 57.0 451.3 56.9 451.5 56.0 454.3 54.5 454.2 54.1 468.2 -96.1 466.9 -95.5 466.8 -95.0 465.7 -92.7 464.5 -92.1 464.5 -91.0 463.1 -89.6 462.2 -89.2 461.0 -87.6 460.3 -86.3 459.7 -84.6 418.1 42.5 415.9 42.9 413.7 43.7 413.6 45.0 412.4 46.3 410.9 46.9 409.8 47.6 408.2 48.4 407.0 49.0 406.6 50.6 405.5 51.6 404.5 52.3 511.5 181.7 513.2 180.0 515.3 180.4 516.1 179.6 517.1 179.1 519.3 178.4 520.0 178.7 521.3 177.3 522.5 176.3 522.8 174.7 524.8 173.9 525.8 172.8 341.8 149.4 343.0 148.3 344.0 146.5 344.9 145.8 345.5 145.6 409.9 103.9 408.3 101.6 406.9 101.3 406.0 100.9 405.6 100.3 404.5 99.4 344.1 151.2 343.1 151.5 341.8 151.4 340.5 152.5 339.7 153.3 337.9 154.2 337.6 155.0 336.7 155.8 334.9 156.9 333.7 158.0 333.0 158.7 331.3 159.3 386.3 100.4 387.2 101.5 388.5 102.8 389.7 103.8 390.5 104.7 392.2 106.3 392.5 107.8 393.1 109.0 394.2 109.9 413.6 123.6 413.9 121.5 415.8 122.6 416.3 122.1 418.6 121.7 420.1 121.2 421.4 119.9 422.8 120.0 424.4 119.4 384.4 142.1 383.7 140.4 383.5 138.2 383.1 137.4 381.9 135.7 380.9 134.8 381.2 133.4 379.8 131.8 378.7 131.0 479.0 263.3 480.8 263.2 482.8 262.3 484.3 262.2 422.9 152.9 423.2 152.3 424.0 150.8 426.6 150.5 451.8 34.8 452.2 33.7 452.2 32.2 452.1 31.2 452.9 28.7 452.2 27.3 473.1 56.9 472.2 57.9 470.8 59.4 470.5 60.3 470.0 60.7 468.5 62.9 466.7 64.0 466.2 63.9 465.1 65.3 417.1 24.8 417.9 24.5 419.5 24.9 420.7 25.6 421.6 26.6 423.7 27.2 424.8 28.4 426.7 28.3 426.6 29.8 428.7 30.8 341.7 168.2 340.1 169.7 339.4 169.4 337.5 170.1 336.4 171.8 335.3 172.5 334.3 173.3 333.5 174.4 315.1 104.4 317.3 105.4 318.1 103.8 318.8 102.4 401.3 76.8 403.6 76.6 405.0 77.1 406.9 76.9 407.9 77.4 409.9 77.7 411.0 77.4 412.5 77.6 366.4 46.8 368.2 46.6 369.0 47.2 370.1 48.1 371.5 48.2 372.8 49.9 373.7 51.5 372.8 120.1 373.6 121.4 374.6 122.4 375.8 123.7 377.4 123.9 378.5 123.8 379.2 125.4 380.7 126.1 381.5 126.2 383.6 127.7 385.1 128.4 451.3 -10.2 450.3 -10.6 448.7 -10.1 446.7 -11.2 446.4 -9.9 444.3 -9.9 442.6 -10.3 441.8 -9.6 440.8 -10.4 438.5 -9.7 436.8 -9.1 449.5 145.3 448.7 146.8 447.4 148.2 446.4 149.2 446.1 151.0 446.1 151.7 445.3 153.0 444.7 155.3 444.1 156.2 429.7 154.7 427.3 155.1 425.7 154.7 425.3 155.4 424.0 155.1 422.4 155.7 421.4 155.4 420.1 156.4 417.7 156.6 459.6 226.2 460.9 225.2 462.5 224.5 463.7 224.2 465.5 223.0 466.6 223.6 468.0 222.6 468.7 221.7 437.5 153.7 438.0 152.9 439.2 152.0 439.4 149.5 440.7 148.5 441.9 148.3 442.8 147.0 443.5 145.3 393.3 113.5 392.8 110.9 392.1 109.8 392.3 109.4 391.3 107.1 391.2 105.2 391.0 104.7 448.6 156.3 450.3 154.4 449.7 153.3 450.4 151.6 450.1 150.3 450.4 149.1 451.5 147.7 452.2 145.2 451.9 144.8 453.0 142.8 452.8 141.8 407.1 312.6 408.8 311.7 409.7 310.6 411.5 309.6 411.6 307.8 412.8 307.2 439.2 118.7 440.1 117.0 439.8 115.1 440.9 114.5 441.9 112.8 349.7 53.1 348.4 54.4 347.0 55.2 346.1 55.3 344.2 56.4 343.4 58.3 342.1 58.4 341.1 59.9 340.3 60.6 420.5 49.1 419.9 48.3 419.9 47.0 418.5 46.0 417.6 44.2 416.9 43.1 415.5 42.3 414.8 41.2 413.2 39.9 443.6 258.2 444.8 256.6 444.9 255.0 445.9 253.3 446.9 252.6 446.9 251.8 448.4 249.2 449.0 248.7 449.6 246.8 450.7 245.7 452.1 244.8 377.2 138.1 378.4 136.2 379.2 135.6 379.7 134.9 380.1 132.4 262.3 204.4 260.6 205.7 260.1 206.9 259.5 208.2 259.7 209.0 259.5 211.4 258.7 213.0 258.3 214.6" fill="none" clip-path="url(#kb)" style="marker:url(#v5)"/>
<path d="M372.7 95.4 372.0 94.7 369.8 94.7 368.4 93.6 367.6 92.8 365.9 92.5 364.6 92.2 363.5 91.2 362.7 90.3 361.2 89.8 359.7 89.5 385.6 82.6 383.8 81.9 382.5 83.0 380.6 83.9 379.1 84.0 377.8 84.6 376.5 84.7 356.7 79.1 356.8 77.8 356.7 76.4 356.5 74.8 357.1 73.7 356.3 71.2 408.4 64.5 410.2 64.3 411.4 64.1 413.1 62.6 414.3 62.1 391.1 126.1 392.4 126.4 394.0 126.9 395.1 128.1 396.2 128.4 397.4 129.3 399.5 129.7 400.5 130.1 433.9 58.2 433.9 56.6 434.6 55.8 435.2 54.9 434.8 53.2 434.7 51.3 435.5 49.4 435.7 48.0 396.6 74.1 397.8 74.7 400.6 73.4 401.1 74.5 403.3 73.3 404.1 74.0 386.5 131.6 386.8 130.5 388.0 129.9 389.3 129.0 391.0 128.1 414.0 92.4 414.3 89.4 413.5 89.0 414.1 87.2 413.9 86.3 413.5 83.6 412.6 82.2 412.7 80.8 413.0 79.5 412.5 78.5 412.3 76.8 403.8 52.0 403.1 50.5 403.1 50.8 402.6 48.0 401.8 46.8 402.1 45.0 402.4 42.8 402.0 41.4 401.9 41.0 402.2 38.9 402.2 37.9 429.2 92.0 428.8 91.5 426.8 90.5 426.6 90.2 424.5 88.3 424.0 87.0 416.9 120.9 416.9 120.2 417.7 119.0 417.8 116.9 417.4 114.7 410.3 46.1 408.8 46.0 407.4 46.9 405.7 47.2 405.1 46.0 403.1 45.6 427.8 66.0 429.5 65.3 430.8 67.7 431.6 66.9 433.4 67.0 435.4 68.9 436.3 68.4 437.0 69.1 439.1 70.2 440.7 69.6 381.8 113.8 380.7 115.0 379.6 116.4 378.4 117.9 377.0 118.8 376.3 119.8 375.0 120.4 374.5 122.1 372.6 122.5 371.5 123.7 388.8 101.4 389.2 99.9 388.5 98.2 387.4 96.9 387.0 96.1 386.6 94.1 404.1 116.4 405.6 115.6 407.2 114.6 409.1 115.2 410.0 113.8 412.1 112.9 412.0 112.6 413.8 111.9 414.9 111.8 399.7 96.6 400.4 98.1 401.9 99.7 402.1 101.2 385.4 118.8 383.9 120.0 382.3 120.0 381.1 120.3 380.0 121.0 379.1 120.8 377.3 121.9 376.2 96.3 375.8 95.8 374.5 94.1 374.5 92.5 373.5 91.6 372.8 90.1 372.7 89.3 370.9 87.1 395.6 57.1 395.2 58.6 393.2 58.8 391.8 58.6 390.4 58.2 374.8 109.4 374.1 110.6 373.7 111.2 372.3 111.5 369.8 112.4 369.2 113.4 366.8 114.2 366.4 115.4 447.3 81.1 448.7 81.4 449.4 80.6 450.8 79.9 451.8 79.2 419.0 65.0 418.8 66.5 420.4 67.6 421.9 68.6 422.4 69.7 423.6 70.0 425.1 72.1 425.6 73.0 427.0 73.8 427.8 75.2 427.5 76.3 429.1 77.5 371.7 104.1 370.9 105.5 371.4 107.3 371.1 108.1 370.5 109.8 371.0 111.7 372.0 113.4 370.9 115.2 371.3 116.4 371.9 117.4 436.8 105.0 437.6 107.3 436.8 108.3 436.3 109.8 436.1 111.4 435.3 113.4 434.7 114.7 434.7 116.1 434.5 118.3 402.3 87.7 403.7 86.8 403.9 86.3 404.7 85.6 406.5 84.4 407.6 83.4 409.1 82.9 409.8 82.3 412.1 81.1 413.4 80.3 414.3 79.6 415.4 78.5 425.4 66.7 424.9 68.7 424.0 69.5 422.5 71.2 421.8 71.8 419.5 73.3 419.3 73.8 418.0 74.5 416.7 74.7 415.0 76.1 414.0 76.3 412.9 76.6 390.8 66.8 389.6 65.3 388.2 66.8 387.3 66.6 384.9 66.2 383.9 67.1 382.7 66.0 381.0 65.6 380.1 65.8 377.5 66.4 376.8 64.9 375.8 64.8 448.2 74.3 448.6 75.8 449.3 77.2 450.0 78.2 450.7 79.7 450.7 81.0 427.6 41.4 427.4 39.5 426.1 37.6 426.0 37.0 425.4 35.0 424.8 34.7 424.3 33.1 423.3 31.4 362.6 154.0 364.2 154.4 366.3 154.8 367.6 155.2 368.8 155.9 370.4 156.5 371.3 157.3 373.9 157.4 364.8 90.5 364.9 90.8 366.6 91.8 368.3 92.9 369.7 93.8 370.4 95.1 371.9 95.6 371.9 97.1 373.5 97.8 351.1 138.2 349.5 137.3 348.3 138.1 347.2 138.6 345.2 138.3 344.0 138.7 342.0 138.5 340.5 138.6 338.4 138.5 337.9 138.2 336.3 138.1 334.6 137.4 380.2 83.8 378.8 84.7 376.6 83.9 375.6 83.4 374.0 83.2 390.4 100.1 391.1 99.3 392.3 98.2 391.9 96.1 394.4 95.7 394.6 93.6 395.0 93.0 396.3 91.5 397.0 89.9 398.5 88.9 394.5 152.5 393.5 153.0 392.4 154.0 392.0 155.5 389.5 156.4 388.0 156.2 387.6 156.8 385.4 158.6 385.5 158.6 384.2 159.6 403.3 93.1 403.8 94.6 403.6 95.5 403.6 97.4 402.1 98.8 403.4 100.6 402.2 102.4 447.1 70.7 446.9 69.4 447.7 68.4 448.7 66.7 448.9 65.3 449.8 63.8 449.2 62.9 449.2 61.1 450.1 59.7 451.3 58.0 450.2 56.4 450.5 54.4 400.2 125.6 402.4 126.1 403.1 126.3 404.2 126.4 390.1 69.6 390.0 68.9 391.8 69.5 393.3 68.6 395.4 69.1 396.2 68.7 398.6 68.4 399.2 68.9 400.7 68.1 402.2 67.4 463.5 40.2 463.6 38.8 463.5 38.2 462.2 36.3 461.8 35.3 461.8 33.0 367.1 97.9 368.6 98.2 369.6 98.9 371.1 96.7 372.2 96.6 373.5 95.0 375.1 94.9 376.1 94.5 377.7 94.4 379.7 94.1 380.4 94.2 402.6 58.9 400.8 59.7 399.2 57.6 397.7 57.1 397.6 56.7 395.4 56.7 394.2 56.4 411.6 76.8 412.3 74.9 413.0 73.3 412.7 71.6 413.8 71.0 414.1 69.0 414.8 67.8 414.7 66.8 414.9 64.7 414.9 62.7 416.1 61.1 383.7 59.7 382.5 60.9 382.7 63.3 381.6 64.2 380.7 65.6 380.7 66.7 379.5 68.4 379.3 70.2 378.3 71.0 377.6 73.0 376.7 73.8 376.2 75.3 395.5 85.6 395.7 83.4 396.2 82.2 396.2 80.9 396.6 78.8 396.8 77.8 396.1 76.1 396.6 74.8 397.0 72.6 412.8 59.7 411.2 60.3 408.8 59.6 408.3 58.4 406.3 59.4 404.7 59.3 403.8 59.1 402.9 58.6 386.3 93.4 386.1 95.7 385.1 96.1 384.7 98.4 384.0 99.1 383.5 100.1 357.5 128.9 356.8 127.5 356.2 125.9 356.3 124.7 355.0 123.0 354.9 121.4 354.6 120.0 354.2 118.4 407.2 95.0 405.9 95.0 404.7 95.0 402.9 94.9 402.2 94.8 400.7 94.1 398.8 94.0 397.5 93.5 395.8 93.0 395.0 93.4 392.9 93.6 419.8 94.5 418.9 94.3 417.5 93.3 415.8 92.9 414.7 91.8 413.8 92.2 412.1 90.6 410.3 91.0 426.7 86.4 425.3 87.0 423.8 87.4 422.2 87.5 421.5 88.3 419.9 88.5 418.4 88.9 389.7 83.2 390.6 81.9 391.7 81.5 392.7 80.0 394.3 79.7 394.2 78.1 395.9 76.9 396.9 76.0 397.3 74.8 399.6 73.9 400.5 73.5 404.5 31.9 403.6 31.5 402.6 29.9 400.7 29.3 399.9 28.0 400.0 26.8 398.2 26.2 397.5 24.6 396.4 24.4 394.5 22.7 393.6 21.8 420.5 89.8 421.7 88.0 422.5 87.5 424.4 86.2 424.9 85.9 426.1 84.5 427.8 84.7 428.2 82.8 430.2 82.6 431.4 81.4 431.8 79.4 433.2 78.9 430.4 82.9 427.8 81.7 427.8 81.3 426.5 81.4 424.8 78.7 425.2 77.2 423.1 77.0 422.6 76.5 422.0 75.1 420.5 74.1 419.7 72.4 428.3 112.5 427.6 113.0 425.9 113.0 425.3 114.2 424.0 113.3 421.8 113.9 419.8 112.9 419.1 113.9 397.1 68.7 398.4 69.0 400.1 69.2 400.9 68.5 402.7 67.5 404.2 67.7 405.7 68.3 406.8 68.2 408.1 68.9 409.9 68.4 413.8 47.8 413.2 49.3 414.0 51.0 414.7 53.3 414.9 53.8 414.7 55.2 415.0 56.8 415.2 58.1 388.6 81.2 387.1 82.8 386.3 83.7 386.8 85.2 385.7 87.3 384.9 87.5 384.8 89.3 383.9 91.1 383.7 92.3 383.3 94.5 382.2 95.0 409.2 44.0 410.0 45.7 410.9 46.4 411.1 48.4 411.1 49.5 411.7 50.7 411.9 52.4 412.7 54.0 413.3 54.8 412.9 56.8 400.0 115.0 401.2 114.1 402.3 113.9 404.0 113.6 404.9 114.4 406.7 114.5 408.1 114.9 409.0 114.1 410.9 113.9 412.3 114.1 413.8 114.3 415.1 114.4 434.5 105.7 434.1 106.2 433.2 108.0 433.2 109.1 432.1 110.7 431.0 111.8 430.3 112.9 429.2 114.0 428.3 115.9 427.5 116.9 426.8 117.6 426.0 119.3 428.4 77.2 428.5 78.4 428.4 80.5 428.5 81.9 428.0 83.6 429.4 84.9 429.0 86.1 429.2 87.8 429.6 89.0 430.3 90.6 430.9 91.9 398.7 72.7 399.7 72.7 401.6 73.7 402.9 73.0 404.4 72.5 405.5 72.0 407.3 70.9 408.1 70.2 408.9 70.2 410.7 69.1 412.3 68.1 393.5 81.1 393.5 79.5 392.5 78.5 391.3 76.5 390.2 74.7 389.6 74.6 388.3 72.9 387.1 72.5 386.7 71.6 385.7 69.5 432.0 90.2 433.5 88.5 433.0 86.6 433.2 85.3 433.0 82.8 433.9 81.9 432.7 80.7 432.8 78.8 433.5 77.6 432.7 76.1 432.6 74.6 412.9 58.0 412.9 56.9 414.4 56.2 415.3 54.9 416.7 53.5 417.9 52.9 419.1 52.0 420.3 50.7 420.8 49.4 366.3 134.1 365.1 133.9 363.6 134.5 362.2 133.4 360.1 134.1 358.7 133.4 461.4 20.1 461.6 18.2 460.0 17.9 459.1 16.4 459.2 15.9 457.0 80.5 458.0 79.5 458.8 78.6 461.4 79.0 462.7 78.4 463.8 78.4 465.1 77.1 465.5 77.1 467.0 76.9 469.0 76.4 469.4 76.2 472.0 75.9 444.2 125.5 443.2 123.9 441.8 123.5 440.1 122.4 392.9 81.8 393.5 81.8 395.4 81.5 396.9 82.1 398.2 82.0 400.1 82.4 401.4 82.0 402.5 81.9 404.0 83.3 405.6 82.8 404.3 112.3 405.5 111.5 407.1 111.0 408.3 110.9 409.9 109.9 411.2 110.2 412.7 109.3 396.0 90.3 396.5 91.1 398.3 91.9 398.6 92.8 400.0 94.4 401.5 95.2 459.4 54.3 458.8 55.9 459.2 57.8 458.3 59.0 457.6 59.2 456.5 61.7 455.0 62.8 454.7 64.4 454.5 65.3 415.6 84.1 417.1 83.9 419.0 83.9 420.5 83.9 422.4 84.2 423.6 84.1 424.5 84.2 426.8 83.9 427.4 84.0 429.0 83.9 431.3 83.2 459.7 37.3 458.2 36.6 457.0 35.6 455.3 34.9 454.1 33.9 452.3 33.2 373.0 119.5 371.9 120.4 370.1 119.4 368.4 120.7 366.5 121.6 365.6 121.8 364.5 121.5 362.9 122.7 362.0 123.0 360.9 124.5 360.0 124.4 385.2 142.9 385.5 145.5 387.2 146.6 387.7 147.6 388.5 148.6 388.3 151.0 389.0 151.5 389.6 154.6 393.7 105.7 392.7 105.6 391.1 105.0 390.2 104.6 419.7 88.0 419.4 88.9 418.6 91.4 419.3 93.3 417.1 93.9 380.7 106.8 382.3 106.1 384.0 106.4 385.0 104.2 386.0 104.8 387.1 102.6 387.4 101.6 388.3 101.1 390.2 99.7 391.3 98.5 391.8 97.2 416.1 79.0 414.9 80.1 414.2 81.2 414.3 82.7 409.6 71.3 407.9 72.2 406.6 72.8 405.3 73.3 429.2 64.8 430.8 64.3 433.2 63.0 433.7 62.5 435.6 62.4 436.1 62.1 438.0 60.8 445.2 83.3 444.4 84.7 443.2 85.5 443.9 87.2 442.7 88.0 441.8 88.9 440.1 91.7 440.2 92.2 439.7 93.1 430.3 64.1 429.2 63.8 427.8 64.7 426.2 64.5 424.9 65.9 424.0 66.7 422.5 67.3 420.8 67.9 420.0 68.7 370.7 95.1 370.0 93.1 370.3 91.3 370.3 89.5 428.6 113.4 428.0 114.5 426.2 115.5 424.8 115.3 424.1 117.0 422.6 117.4 421.8 117.8 420.0 119.3 418.1 119.7 418.1 120.2 416.1 121.0 392.3 137.1 392.4 138.7 392.6 139.3 393.1 140.8 394.6 142.9 394.8 144.2 395.9 145.5 396.9 146.8 397.8 147.9 403.3 132.3 403.5 133.4 403.5 134.5 403.1 136.1 403.4 138.4 416.5 83.2 417.8 82.7 419.1 82.5 420.1 82.6 421.4 80.7 422.4 81.1 424.4 79.6 426.1 79.1 426.9 78.6 413.1 39.9 413.0 39.3 412.4 36.9 413.1 35.9 412.4 34.1 411.5 33.8 411.8 31.4 381.7 106.5 380.3 107.1 378.5 107.7 376.8 107.2 374.8 106.8 374.0 107.4 372.3 107.4 371.1 107.6 369.9 108.5 368.6 108.2 404.9 82.0 404.1 81.0 403.2 79.4 402.5 77.9 401.6 77.3 400.2 75.3 399.4 74.6 397.3 74.7 432.8 70.8 433.1 71.9 434.6 73.9 435.2 75.4 436.1 77.1 437.1 77.5 437.5 78.5 438.8 80.0 439.6 81.3 439.6 83.3 358.7 70.3 358.7 69.0 358.6 67.2 358.7 65.8 359.7 64.1 360.4 63.3 420.8 76.6 422.4 77.9 422.7 78.8 424.4 78.9 394.8 92.5 394.3 91.4 394.3 90.0 396.1 88.0 396.2 87.2 396.8 86.3 398.0 84.0 398.3 82.2 399.3 82.1 400.0 80.2 399.7 78.1 400.8 77.4 442.1 82.5 441.0 83.0 439.1 84.2 438.6 84.3 438.0 85.5 436.0 86.2 433.8 86.3 433.2 87.8 431.8 88.1 397.5 121.6 398.8 121.2 400.2 119.2 400.8 118.8 409.2 99.9 408.6 99.8 406.7 98.0 405.7 97.1 404.7 96.9 403.8 95.4 402.0 94.0 400.9 93.0 400.2 92.5 398.6 91.8 397.4 90.8 396.3 90.1 426.5 72.1 425.2 71.2 424.4 69.8 423.6 68.5 422.4 67.0 349.9 107.6 347.8 108.2 346.4 107.8 345.2 108.4 343.8 108.3 342.9 108.5 394.2 89.2 393.5 89.3 392.2 88.5 390.9 87.9 389.9 88.0 387.9 87.0 394.1 81.8 394.5 79.6 394.7 78.9 394.1 77.9 415.6 60.4 416.8 60.6 418.0 60.9 419.8 61.9 420.5 61.3 421.9 61.7 423.4 62.7 424.7 61.8 390.0 139.1 391.2 137.3 392.5 137.4 393.3 137.4 395.4 135.6 396.5 135.7 397.8 135.2 399.7 134.9 400.5 134.0 401.7 133.4 403.7 132.0 408.7 153.6 410.7 154.7 411.5 155.3 412.8 156.7 414.3 157.3 416.0 158.0 441.1 39.5 439.6 39.9 438.7 39.7 437.0 40.9 435.8 40.3 433.9 41.2 432.4 41.7 431.5 41.1 429.7 41.4 397.4 74.5 397.2 75.7 396.3 77.8 396.5 78.6 396.4 80.1 409.1 55.1 409.6 53.3 410.4 52.7 411.8 51.4 411.7 49.7 413.6 49.0 414.0 47.6 415.4 47.1 409.2 118.3 408.1 119.1 407.7 119.8 405.5 120.9 404.9 122.2 404.1 123.3 401.8 124.6 401.7 125.8 400.7 127.2 399.9 127.9 398.5 129.3 397.7 129.8 409.5 94.3 410.7 95.6 411.6 96.9 412.7 97.2 413.7 98.1 404.4 109.1 405.0 106.9 405.1 106.0 405.7 105.1 406.1 102.6 429.8 111.5 430.6 109.8 431.1 108.3 432.5 107.6 432.8 106.3 433.7 104.2 434.3 103.3 410.6 86.7 410.0 84.9 409.7 84.2 409.2 82.2 409.5 80.6 409.0 78.7 408.0 77.1 408.4 76.2 408.4 74.2 407.8 72.2 389.6 142.6 387.8 144.5 387.5 145.5 386.2 146.6 385.8 147.9 384.6 149.2 402.6 123.2 403.5 125.2 404.9 126.1 405.2 127.4 405.4 129.3 405.6 130.3 407.0 131.6 406.8 133.5 380.9 80.6 380.0 79.7 378.5 79.7 377.6 78.0 376.2 76.6 375.1 76.6 374.5 74.9 373.1 74.8 370.6 73.8 370.1 73.6 368.8 71.6 367.7 71.3 394.5 107.3 394.1 106.6 395.3 105.7 396.3 103.9 396.4 103.0 396.9 100.9 397.5 99.8 426.5 11.5 426.5 13.6 426.5 14.1 425.7 15.3 425.9 18.2 425.4 19.5 425.4 20.9 425.6 22.4 425.1 24.2 424.2 25.6 373.4 81.2 372.9 81.3 370.5 79.4 369.9 79.0 368.5 78.1 367.8 77.6 366.1 76.1 365.3 75.6 363.6 74.9 362.2 74.6 361.5 73.7 418.7 89.7 418.4 87.5 417.5 85.7 417.1 84.3 417.4 82.6 416.0 81.7 416.1 80.3 415.2 78.5 415.1 76.9 415.2 75.6 414.1 73.8 414.3 72.7 415.1 78.6 413.8 79.8 412.3 80.0 411.9 81.2 411.2 82.9 409.6 84.4 409.0 85.5 407.9 87.5 407.0 87.9 406.3 89.3 405.2 90.9 438.9 103.0 440.1 103.6 440.5 105.8 442.3 106.2 442.3 106.7 442.9 108.6 443.9 110.7 444.4 111.3 444.7 112.8 446.0 114.7 446.6 115.8 447.3 116.5 414.7 109.9 415.4 108.9 415.6 107.3 414.2 105.9 413.3 104.5 412.4 103.1 412.2 102.1 395.1 98.0 395.9 97.1 396.9 96.0 398.3 96.1 400.1 94.8 400.6 93.9 401.4 92.9 401.9 91.8 404.3 91.5 405.6 89.9 406.6 89.7 407.0 62.6 408.0 61.2 408.8 60.6 410.1 59.3 411.3 58.8 412.2 58.1 414.4 56.6 415.5 57.8 416.8 55.9 418.3 54.4 355.2 109.3 355.0 108.8 355.2 106.6 355.5 106.1 355.4 103.7 355.5 102.9 355.4 101.1 355.7 99.0 424.6 90.4 424.8 92.9 425.7 94.1 426.2 95.1 426.9 97.9 387.1 110.1 388.0 108.6 387.2 107.2 387.8 105.7 409.0 73.8 409.4 72.4 408.8 70.8 408.7 69.7 408.6 68.2 407.8 65.6 408.7 65.5 408.7 63.3 408.7 62.0 407.7 60.4 407.4 58.3 407.6 56.5 428.1 114.2 428.0 116.1 426.5 117.5 426.0 117.9 426.3 119.7 425.3 121.1 424.8 122.5 393.9 110.9 395.5 110.2 396.2 110.8 398.1 110.8 399.9 111.3 400.9 110.9 402.4 111.7 404.4 122.6 404.9 121.7 405.1 120.0 406.2 118.5 406.8 117.7 407.0 115.4 408.5 114.5 409.2 113.3 410.8 111.3 411.6 110.3 412.6 109.3 413.6 108.8 404.3 95.0 405.5 96.2 406.5 96.7 407.6 96.9 408.8 98.4 410.5 99.3 411.1 100.7 380.5 105.9 380.2 104.7 380.8 103.2 380.1 100.8 380.0 99.7 381.0 98.6 380.6 95.7 383.0 83.9 381.5 84.2 380.2 83.9 377.8 84.2 377.3 84.3 375.8 84.8 391.4 69.1 390.9 70.1 388.9 71.2 388.0 72.0 387.2 73.6 385.7 73.8 385.2 75.4 382.0 78.0 380.9 76.6 379.8 76.7 377.4 75.9 376.2 76.5 375.1 75.8 373.6 75.4 372.5 74.7 370.9 74.4 369.0 73.9 367.1 74.6 427.6 92.9 426.0 92.6 424.3 92.0 423.9 92.1 388.6 99.6 390.3 101.0 391.3 101.7 392.1 102.2 393.7 104.0 394.7 105.6 395.5 105.8 395.8 106.9 404.7 122.8 406.4 122.6 408.3 121.8 409.8 121.1 410.6 121.2 411.9 120.7 387.1 120.1 387.0 118.9 385.8 118.5 384.0 117.5 383.9 116.2 382.4 115.5 380.6 114.6 380.0 113.4 379.2 112.5 378.4 110.6 377.3 109.5 376.4 109.2 393.8 49.8 392.1 48.7 390.9 49.7 389.7 50.5 389.1 51.0 386.4 51.5 385.9 50.3 384.2 51.3 382.3 51.4 381.4 50.6 380.1 50.7 392.3 96.8 391.3 98.6 391.1 100.2 390.9 101.4 391.0 103.0 390.1 105.0 390.2 106.4 389.0 107.8 389.0 109.2 413.1 105.6 412.3 107.0 412.9 108.3 411.6 110.4 412.4 111.7 410.9 112.4 411.4 114.0 410.6 115.2 411.3 117.2 410.8 118.6 356.3 107.2 357.7 105.5 358.2 104.7 359.8 104.1 359.6 102.3 413.0 94.3 411.7 95.5 411.3 96.1 410.0 96.8 407.8 97.6 418.4 64.0 414.6 63.4 413.4 63.4 412.6 62.8 410.4 63.3 409.8 63.4 408.5 63.2 406.3 63.9 405.3 64.8 403.6 64.1 402.4 64.8 401.9 65.1 424.2 106.7 423.0 106.8 422.0 107.2 420.0 107.6 419.3 78.8 420.6 79.1 423.0 78.6 424.0 79.8 426.0 79.3 426.2 79.5 445.1 61.9 444.3 60.5 444.3 60.1 443.4 58.2 443.3 56.2 442.2 55.1 441.0 53.4 440.9 51.8 440.9 50.1 440.2 48.8 439.0 47.7 413.0 92.4 412.5 93.5 412.8 95.1 412.5 97.0 413.1 98.2 412.3 100.2 387.5 99.1 388.7 99.7 389.9 99.8 391.7 101.4 392.3 101.9 393.6 102.2 411.2 62.0 410.8 63.6 409.5 63.9 408.7 65.6 407.2 66.3 407.3 68.0 409.3 94.6 407.9 94.7 406.2 95.0 405.2 96.0 403.8 97.2 402.1 97.4 401.1 98.3 399.5 98.3 418.6 68.9 417.0 69.7 416.0 69.2 415.0 69.7 413.9 69.2 412.3 70.8 411.0 70.8 408.2 71.2 407.2 71.6 421.6 86.6 421.5 87.4 422.9 88.9 424.5 89.6 425.8 91.4 425.9 92.1 427.1 93.7 428.2 94.8 428.9 95.4 430.1 96.4 384.6 90.8 383.4 90.2 382.3 90.1 381.1 88.7 363.2 103.7 361.9 102.3 361.0 102.3 359.3 101.6 357.9 100.5 394.3 80.5 393.9 79.7 392.6 78.1 391.7 77.7 390.4 76.1 389.7 75.6 384.9 85.0 385.6 86.0 385.9 88.2 386.2 89.1 385.9 91.1 386.2 92.4 387.1 93.5 416.5 112.9 415.5 111.8 414.6 112.2 413.1 111.8 414.4 64.0 414.3 61.7 413.5 60.3 412.4 58.9 412.2 58.2 424.5 82.8 424.9 81.9 425.8 80.8 425.8 78.3 426.3 77.1 426.6 75.3 426.0 73.7 426.0 71.6 385.5 93.1 386.0 94.4 385.9 96.1 387.6 96.8 386.2 98.1 388.0 100.2 387.1 101.6 388.0 102.9 388.9 104.6 389.6 106.2 415.6 53.9 416.0 52.6 416.3 51.3 418.6 50.4 419.1 50.5 421.0 48.6 421.4 47.7 370.3 121.5 369.4 122.8 367.8 123.6 367.3 124.2 337.9 173.8 336.9 174.8 335.6 175.3 335.1 176.4 333.3 177.8 332.1 178.8 330.9 179.6 329.9 180.1 328.4 181.8 328.3 183.0 327.0 183.8 326.3 185.7 406.6 74.5 405.4 74.2 403.5 73.7 402.6 74.0 400.9 73.4 399.5 73.0 398.0 72.7 396.3 72.4 395.5 71.1 393.9 71.4 417.0 93.7 419.6 93.9 419.2 94.4 422.1 93.0 422.6 93.5 424.3 93.9 425.5 92.4 426.0 93.0 428.3 92.5 399.4 76.5 398.5 77.8 398.1 79.7 398.1 80.5 397.4 81.3 397.0 83.7 396.1 85.0 396.1 86.7 382.3 78.6 381.2 78.1 381.1 78.5 378.8 78.0 377.4 78.7 374.8 78.7 403.1 60.5 402.3 60.2 402.0 58.6 400.6 57.0 398.8 55.8 398.3 54.8 397.3 53.8 397.1 52.4 395.4 52.0 388.0 107.8 388.4 109.1 387.1 110.3 387.2 112.1 386.4 113.9 386.8 115.7 387.4 116.2 387.1 117.9 386.8 119.8 425.1 97.0 424.8 94.8 423.6 93.2 423.1 92.7 423.5 91.1 416.9 116.6 418.9 116.8 420.7 116.6 422.5 115.2 422.7 115.4 425.0 115.6 426.1 115.8 438.7 50.0 437.7 49.3 435.6 47.4 434.9 46.3 433.7 46.0 434.2 45.2 382.6 138.6 383.1 135.8 382.7 134.7 381.9 133.5 382.6 131.9 382.5 130.4 382.9 128.5 383.2 127.7 383.3 125.9 384.4 124.5 442.5 101.5 443.6 102.8 443.9 105.5 445.3 105.7 446.0 107.0 446.6 106.9 448.5 109.5 449.9 109.4 450.8 110.8 452.0 112.2 452.1 113.5 453.0 113.9 415.9 126.1 416.6 125.6 419.4 125.7 419.9 125.3 422.1 125.8 422.9 125.6 424.3 125.8 425.1 126.2 427.7 127.8 428.4 127.8 411.8 84.3 409.8 85.1 409.2 85.9 408.4 87.2 407.4 88.0 406.0 89.3 405.0 90.6 404.1 90.8 402.5 92.5 371.6 89.3 369.4 89.1 368.7 89.0 368.0 89.0 366.3 87.1 394.4 127.1 394.2 127.7 394.7 129.0 393.9 130.5 394.2 132.7 393.6 133.8 393.3 135.2 392.5 136.8 392.6 138.6 392.7 140.3 391.1 140.7 390.4 142.9 402.6 75.3 403.1 74.7 402.1 71.7 402.6 70.8 403.2 69.4 402.8 67.2 403.5 66.6 404.7 65.0 404.8 63.1 405.4 61.5 406.4 59.9 406.5 59.0 372.2 127.7 373.5 126.6 374.3 125.9 375.5 125.8 377.5 124.4 378.9 122.8 397.7 113.4 396.7 113.3 395.5 112.6 393.1 113.2 391.6 113.0 390.9 112.6 389.0 112.0 386.9 111.6 397.7 78.9 396.4 80.1 395.1 82.2 394.3 83.2 394.3 84.7 393.5 85.9 405.8 77.9 404.4 77.9 403.0 77.6 401.7 76.3 400.3 76.3 398.9 75.9 398.7 75.6 396.3 75.0 395.2 74.8 393.4 74.1 392.5 73.8 390.7 73.6 399.3 133.4 400.6 131.5 401.3 132.1 403.7 131.6 404.5 131.0 405.7 129.9 406.8 129.8 408.2 129.0 410.1 129.1 412.0 128.5 412.7 128.0 428.6 52.1 427.5 51.5 426.7 50.1 426.3 49.3 425.6 48.5 426.3 93.1 424.6 93.4 424.3 92.3 422.2 91.5 420.9 91.2 418.7 91.3 418.6 90.1 416.8 90.3 390.2 92.0 389.3 94.0 389.0 95.2 388.2 97.0 386.5 97.8 385.1 99.3 384.4 100.5 383.2 101.1 383.1 102.9 382.0 103.3 381.8 105.0 429.8 68.0 430.8 68.7 432.9 68.1 434.1 68.8 435.0 67.7 436.6 68.5 437.7 68.1 439.7 68.0 440.8 67.6 442.7 67.0 385.0 104.5 384.9 104.8 383.8 107.1 383.2 108.1 384.0 109.9 382.3 110.6 376.2 118.5 375.8 118.9 373.8 119.7 372.4 118.9 370.8 119.6 369.1 119.6 368.2 119.7 366.9 119.0 366.0 118.4 364.3 118.4 459.4 67.9 459.8 67.5 460.4 65.7 460.4 63.1 460.7 62.6 462.0 61.0 462.1 59.5 462.0 58.4 402.2 78.5 401.9 78.0 401.2 76.9 399.8 74.8 400.0 73.8 399.0 71.3 382.4 118.2 383.6 117.5 386.0 117.1 386.6 116.7 388.8 118.3 389.9 118.1 391.6 117.0 392.9 117.7 394.7 117.7 395.6 117.4 407.4 105.9 408.5 104.6 410.5 104.2 411.2 104.2 412.9 101.9 414.1 102.3 415.7 101.6 416.3 101.0 418.4 101.4 420.0 99.9 421.1 100.5 367.1 93.9 368.8 92.9 369.0 91.1 370.5 89.3 370.8 88.1 371.0 86.6 409.7 104.7 409.6 106.0 411.0 106.8 412.1 107.2 413.3 108.8 414.8 110.2 416.0 110.8 416.3 111.9 417.3 112.0 373.9 135.4 374.6 134.8 376.2 134.0 378.1 135.6 378.8 135.1 380.1 134.9 381.6 135.0 383.7 135.1 384.9 136.0 387.2 136.7 388.5 135.7 389.3 136.5 442.7 37.8 443.8 36.8 444.8 36.4 446.5 35.9 447.6 34.4 438.9 44.3 437.1 44.4 435.7 44.8 434.3 44.8 433.1 45.2 431.0 44.4 383.4 93.8 384.8 92.6 385.0 91.8 386.1 91.0 387.2 89.2 384.4 101.7 385.0 102.9 386.9 104.1 387.3 104.8 388.0 106.2 389.9 107.3 390.9 108.4 391.6 109.4 392.8 110.5 393.3 111.8 394.0 113.0 428.2 66.8 427.0 65.8 426.8 66.0 424.6 65.8 423.2 63.9 422.1 64.7 420.2 63.7 419.2 63.1 418.6 62.3 416.6 62.6 415.3 63.0 433.0 71.9 434.6 73.3 435.0 73.0 436.6 74.9 437.6 75.5 438.6 76.2 439.9 77.8 441.8 78.0 442.8 79.1 443.3 80.7 445.2 81.4 446.0 81.9 352.4 161.8 353.6 163.3 354.2 165.0 354.4 167.1 354.1 167.8 355.1 170.3 356.7 171.0 355.9 172.1 356.8 173.6 406.3 83.9 404.6 85.1 403.2 85.2 402.0 86.8 400.9 87.4 399.6 87.9 398.9 88.5 397.1 89.9 396.5 89.7 394.6 90.7 392.9 91.3 391.5 91.7 421.8 57.0 421.9 55.0 422.0 53.5 421.3 52.3 421.0 50.1 421.3 49.2 421.1 47.0 421.0 46.3 379.4 118.4 379.3 120.8 378.8 121.9 378.4 123.4 378.6 125.4 377.9 126.8 378.9 128.0 378.0 129.8 379.7 130.8 377.8 132.4 376.6 134.7 388.2 93.3 389.2 93.5 390.2 93.1 391.7 93.1 423.5 77.6 424.0 80.1 424.5 80.9 424.9 82.7 425.3 85.0 424.9 85.3 426.2 86.9 425.9 88.7 426.1 89.7 426.0 91.5 427.5 93.8 349.0 140.4 350.7 140.8 352.0 140.1 353.0 138.8 354.6 138.8 356.0 137.8 357.5 139.0 359.4 138.0 379.4 80.1 380.2 79.5 381.8 79.5 383.3 79.9 384.4 79.5 386.1 78.4 387.7 79.6 389.0 78.4 391.0 78.2 391.7 78.6 407.3 120.1 406.7 120.9 405.2 121.4 404.9 121.9 403.2 122.1 401.6 122.7 400.0 123.7 398.4 124.3 397.9 125.2 396.2 125.6 394.9 126.4 393.7 127.4 406.8 45.8 407.2 43.5 406.5 42.2 405.6 41.3 405.6 39.8 404.9 38.7 405.1 36.4 404.5 34.9 404.4 34.2 403.1 32.0 403.2 30.1 386.4 83.5 384.5 84.1 383.7 84.3 382.0 84.6 379.8 85.0 379.4 86.1 377.4 85.3 368.2 98.3 369.7 98.4 370.4 99.4 372.3 100.2 372.7 101.6 374.2 102.4 374.9 103.9 375.9 104.5 377.9 106.0 378.5 106.8 379.0 106.4 380.1 107.9 428.6 70.0 426.9 69.9 426.1 70.8 424.7 70.9 423.6 70.9 421.4 72.3 420.8 72.9 419.1 72.8 368.8 90.4 368.2 91.0 367.6 92.4 367.1 94.4 366.4 95.7 365.6 96.4 364.3 98.1 363.9 99.4 388.7 87.6 389.6 89.2 389.8 91.2 389.0 92.5 369.4 147.5 370.3 149.3 370.8 150.4 371.7 152.3 372.4 153.6 373.1 154.9 373.1 157.0 373.6 157.9 373.9 159.2 374.0 161.0 375.3 162.7 374.7 163.7 419.9 74.9 419.7 74.5 422.0 72.5 423.3 71.3 424.5 71.5 425.3 70.6 426.6 69.2 427.4 67.7 429.5 67.8 430.5 66.9 390.5 120.9 389.2 121.1 388.1 120.7 386.5 121.5 384.8 120.9 384.6 99.1 384.2 97.8 383.9 95.9 383.5 94.9 382.8 93.3 381.9 92.0 381.8 90.7 380.7 88.3 428.5 70.8 427.2 71.9 427.4 72.7 426.3 74.4 425.2 75.9 425.5 78.0 425.1 79.4 424.4 80.2 423.5 81.8 422.5 82.7 423.4 84.3 401.9 46.9 402.4 46.2 402.4 43.9 402.4 43.2 402.5 41.6 398.7 98.3 398.0 97.4 399.5 95.8 400.7 94.6 401.0 93.1 400.5 92.2 402.1 90.9 401.1 89.3 402.6 87.6 418.7 119.1 417.6 120.2 415.4 120.3 414.0 121.4 412.7 122.0 412.4 122.3 410.1 123.2 438.9 103.9 437.5 104.4 435.7 105.6 435.0 106.4 433.6 107.3 432.6 108.3 430.9 109.1 431.4 110.5 407.1 114.0 405.4 113.3 404.7 114.5 402.3 113.3 400.8 113.7 399.3 114.6 398.5 114.3 396.3 114.4 395.8 114.7 394.8 115.4 393.1 115.0 391.4 114.8 395.6 104.3 396.5 102.2 398.1 100.9 397.6 99.7 398.4 98.9 399.3 96.9 401.0 94.8 400.5 94.2 400.9 91.9 394.7 111.7 393.2 112.5 391.7 112.4 391.0 113.8 388.7 113.7 387.9 114.3 386.3 115.0 385.1 114.6 382.9 115.4 436.0 45.1 437.2 46.1 438.4 47.0 440.2 47.5 441.4 48.5 442.1 48.7 444.0 49.0 444.8 49.5 399.3 123.8 401.0 124.4 401.7 124.4 403.8 125.1 405.6 125.8 406.2 125.3 408.2 127.1 408.5 127.8 451.9 54.7 452.5 52.8 452.4 51.4 453.0 50.1 452.4 47.8 452.9 46.1 453.3 44.8 453.4 42.7 454.1 41.5 454.2 41.1 455.8 39.3 456.7 37.9 433.7 74.2 434.9 73.0 436.9 73.2 438.0 72.0 439.1 72.0 440.4 70.8 441.5 69.0 442.8 69.6 444.2 67.7 444.8 67.3 446.1 66.3 431.1 11.5 429.4 11.1 427.9 11.0 426.9 11.7 425.0 10.9 424.1 11.7 422.3 11.5 362.5 121.0 364.5 119.1 364.8 119.6 366.8 120.1 368.7 119.7 369.9 119.9 372.0 119.5 373.3 118.3 373.9 117.5 369.6 71.1 369.5 69.9 369.2 68.1 369.0 66.0 368.7 65.3 368.4 63.3 368.8 62.2 367.3 60.8 397.7 98.5 398.7 100.0 400.0 100.6 400.0 102.8 401.2 104.2 401.0 105.0 402.5 106.9 403.2 108.1 403.6 108.9 374.3 117.0 373.9 117.7 372.6 118.1 370.8 117.5 369.4 118.3 368.0 120.0 367.4 120.9 366.2 121.2 364.4 121.8 363.0 123.5 362.4 124.2 407.1 48.9 407.8 49.8 408.8 51.4 410.1 50.6 410.5 52.1 411.9 52.9 413.8 54.1 373.1 119.6 371.7 119.6 370.9 121.4 370.2 122.9 368.7 123.9 367.0 123.7 366.6 124.8 364.7 126.0 364.3 127.2 362.7 127.9 362.0 129.1 366.2 122.5 367.1 121.5 368.4 121.3 369.1 120.0 370.6 117.4 371.4 117.7 372.3 116.5 373.8 114.4 374.2 114.0 399.4 78.2 398.9 79.4 399.9 79.9 401.2 81.5 401.8 83.6 402.5 84.4 402.9 85.5 403.6 86.6 447.4 79.8 446.7 78.6 444.8 78.6 444.0 78.5 442.4 78.2 441.2 77.4 439.5 76.1 438.0 76.0 436.4 76.0 435.8 75.1 423.3 61.9 423.9 60.3 423.6 58.3 423.2 56.9 423.9 55.7 423.9 54.1 424.0 51.6 473.9 87.7 471.7 86.5 471.0 85.2 469.8 83.8 469.3 83.4 467.2 82.3 466.4 81.0 465.2 80.2 463.9 78.6 462.4 79.2 461.6 78.1 361.8 118.8 362.7 117.5 363.1 115.6 363.1 114.1 363.9 113.1 364.0 111.2 364.8 109.8 365.5 107.7 366.0 106.8 367.4 105.8 368.2 104.1 356.2 73.0 354.4 72.7 354.1 70.9 352.3 70.6 352.5 68.5 350.5 68.1 349.8 66.6 349.7 65.7 347.7 64.9 347.5 63.1 346.4 62.0 345.1 61.3 421.2 99.6 423.2 99.8 424.1 100.0 425.5 99.9 426.9 100.5 429.1 100.6 431.0 100.5 431.7 101.6 433.3 100.8 434.8 101.5 417.6 91.0 419.0 91.5 420.3 92.3 421.3 92.9 450.7 132.2 449.2 132.3 448.2 130.3 446.7 129.8 464.0 166.8 463.7 168.1 462.0 169.6 461.3 170.5 446.6 131.6 445.2 133.9 443.8 133.9 442.4 135.9 442.8 136.5 440.6 136.5 440.2 138.2 437.8 139.0 437.0 140.3 464.3 133.4 465.6 131.2 465.6 130.4 466.2 129.2 467.5 127.9 373.5 139.7 373.6 139.2 374.7 137.2 373.9 135.2 374.9 133.7 374.7 132.5 375.3 131.3 375.7 129.9 375.4 128.0 374.7 126.3 375.5 124.4 375.2 122.7 459.9 84.6 459.4 85.8 457.3 86.2 456.2 87.3 454.7 88.5 453.3 88.8 452.9 89.1 450.7 90.2 450.2 90.9 448.7 91.6 448.0 93.6 393.6 108.6 394.3 107.8 395.3 108.1 396.8 110.5 397.4 110.9 399.3 111.4 400.2 111.0 401.7 113.1 402.9 113.6 404.3 114.0 405.1 113.6 353.3 72.0 353.1 70.3 355.2 69.2 354.2 67.9 355.0 66.4 355.6 64.1 356.6 63.2 356.5 62.3 389.8 197.2 387.3 196.7 385.4 197.6 384.9 197.7 383.3 199.9 399.7 88.2 398.8 89.4 400.4 90.2 400.4 91.5 401.9 93.9 401.6 95.6 401.4 97.0 400.4 98.2 401.9 99.6 402.4 101.0 331.9 86.2 333.5 86.0 335.1 85.9 336.5 86.4 337.6 86.4 339.8 86.7 341.1 87.3 341.8 87.7 360.6 111.2 360.2 110.2 360.8 108.4 360.5 107.4 360.7 106.1 360.5 104.5 360.3 102.2 360.2 101.0 360.1 99.4 360.0 98.0 358.8 97.0 359.1 95.1 407.8 107.9 406.0 106.9 406.8 105.5 405.3 103.9 404.4 102.6 404.6 101.9 436.1 164.9 436.4 165.7 438.5 165.9 439.4 166.5 441.4 166.4 406.8 185.8 406.9 185.0 408.1 183.5 408.2 182.8 409.9 182.1 411.4 180.6 412.2 179.8 413.4 178.5 414.2 177.9 416.9 177.3 375.2 8.8 376.5 8.9 378.8 8.3 379.6 8.4 381.4 8.9 382.0 8.7 383.7 9.0 385.4 10.2 387.2 10.1 388.6 10.3 390.0 11.0 361.5 140.4 359.5 141.0 358.9 141.0 358.2 141.8 355.7 141.0 354.4 142.8 353.0 142.5 464.0 134.7 464.1 135.2 464.4 137.1 463.0 138.8 462.7 140.0 462.7 142.3 461.2 143.1 460.1 144.7 460.5 146.0 460.3 147.7 460.3 148.6 381.1 95.8 380.7 94.5 381.7 92.7 381.7 91.8 381.6 89.7 472.1 211.4 471.5 209.3 470.7 208.0 469.4 206.8 468.2 206.3 468.1 204.8 466.9 203.9 465.7 202.4 464.9 201.6 463.9 200.0 462.6 198.8 462.4 197.6 481.1 18.9 482.1 18.0 484.0 16.5 485.0 15.5 485.4 13.7 486.2 13.3 488.0 11.8 487.8 11.2 418.9 34.1 417.6 33.0 417.6 33.4 416.2 32.9 415.2 30.7 412.9 29.9 347.6 127.4 348.3 127.7 349.4 126.9 351.2 126.0 352.7 126.1 354.4 126.1 355.4 125.4 357.0 125.0 412.8 126.0 412.7 123.9 411.6 122.6 411.4 121.7 411.3 120.5 410.4 118.6 410.4 117.0 409.2 116.0 409.0 113.9 387.6 182.4 386.1 180.8 385.8 180.0 385.9 178.1 384.8 177.3 385.8 175.8 384.9 174.1 384.7 172.3 384.0 170.4 454.5 39.2 454.1 37.2 453.3 36.7 451.9 34.8 451.6 33.4 451.0 32.2 449.3 31.7 448.7 30.2 447.7 29.1 446.6 29.4 445.3 28.4 443.7 26.9 347.6 97.5 346.6 98.8 345.7 100.3 344.7 101.3 343.7 103.2 342.6 103.7 342.2 104.5 341.9 106.5 340.9 107.6 341.1 109.0 473.6 138.6 474.6 138.4 475.8 139.0 476.8 139.9 478.4 141.0 480.0 141.3 480.8 142.1 482.7 142.2 484.0 143.2 485.3 142.7 487.3 143.6 488.0 143.4 475.4 122.4 475.9 124.1 477.2 124.7 478.9 125.7 479.9 127.2 481.6 127.5 420.8 55.9 418.4 56.6 418.2 56.8 416.6 58.2 416.4 58.6 414.4 59.7 413.2 60.4 412.1 61.0 410.9 62.9 409.9 62.6 408.3 63.8 393.5 139.1 393.6 137.6 393.6 135.6 394.4 133.8 411.4 80.4 410.0 80.6 409.4 82.6 408.2 84.0 406.9 84.1 384.0 114.9 383.7 115.9 382.3 118.0 381.0 118.4 380.8 119.5 380.0 121.4 462.4 87.0 460.9 87.8 460.5 88.7 459.6 89.5 457.9 90.9 457.1 90.9 437.2 182.5 438.0 183.4 439.3 183.1 441.2 183.3 443.1 183.5 443.8 183.6 328.1 149.9 326.5 149.3 325.9 148.2 325.0 147.5 323.6 145.9 322.3 145.3 322.0 143.5 320.8 142.3 319.1 141.8 318.7 140.2 469.3 107.7 469.9 107.8 470.6 109.6 471.0 111.6 471.7 112.3 471.3 113.2 326.5 61.2 326.2 62.2 324.9 63.0 324.7 64.2 323.7 66.2 322.9 67.0 322.6 68.8 322.0 69.9 321.8 71.9 321.0 73.2 320.1 75.0 444.6 156.3 445.8 157.2 446.9 156.2 448.3 156.2 449.8 158.3 450.8 158.0 452.9 158.8 453.2 158.9 448.7 57.5 446.7 56.7 446.5 54.7 446.2 54.8 444.5 53.4 443.3 52.0 383.4 97.2 384.2 96.7 386.1 95.8 386.8 95.6 388.6 95.0 390.0 94.2 391.6 93.7 392.7 92.5 393.5 92.4 395.0 91.3 395.8 91.3 397.1 90.3 439.7 84.4 441.5 83.8 442.7 82.3 444.2 81.5 444.7 80.3 444.8 79.1 446.5 78.3 447.9 77.0 448.5 75.8 450.6 74.6 450.3 73.9 451.2 72.6 413.9 157.0 414.8 158.3 414.0 159.6 416.1 161.9 416.4 162.4 416.7 164.5 416.4 165.8 417.8 167.1 478.4 128.9 477.2 129.7 475.9 130.8 474.9 130.9 473.4 131.5 472.7 132.5 471.3 134.6 470.2 135.1 469.0 135.6 468.3 137.8 467.5 139.1 419.3 137.6 418.4 139.7 418.1 140.2 416.8 142.5 416.9 143.3 416.5 145.5 416.4 146.8 415.9 147.1 415.8 148.8 415.0 150.0 414.0 151.7 413.4 153.8 432.3 159.7 433.2 158.3 434.3 157.3 435.7 156.3 453.0 47.2 452.0 46.3 450.6 44.8 449.1 43.7 449.1 42.8 448.0 41.3 447.7 39.5 447.5 38.3 447.5 36.2 381.4 44.4 381.8 42.3 380.9 41.1 381.4 39.6 379.9 37.3 381.2 36.1 381.2 35.0 380.2 33.0 380.4 31.9 380.7 30.5 381.2 28.9 354.3 95.0 352.7 94.3 351.9 92.8 351.8 92.0 351.1 90.8 349.7 89.3 348.7 88.7 348.3 87.0 346.3 86.6 342.7 82.5 341.7 82.4 339.7 82.3 338.8 83.1 336.9 83.6 336.3 83.4 334.3 85.3 401.3 122.5 400.3 120.9 400.2 120.5 400.3 118.9 399.4 117.0 398.6 115.1 398.8 114.0 397.3 112.3 396.2 110.8 395.2 110.4 394.9 108.9 394.3 106.9 424.4 177.1 425.5 178.7 427.1 179.7 427.4 180.8 393.6 71.2 392.5 71.2 391.2 70.4 389.1 70.1 406.8 148.9 407.0 151.2 407.9 151.9 408.4 153.5 408.6 155.1 409.0 156.4 396.4 181.4 395.0 183.4 394.4 184.7 393.2 185.5 393.6 187.0 392.1 188.7 390.8 188.9 390.0 190.7 389.1 192.0 389.5 193.6 387.9 194.2 387.6 196.2 353.1 209.0 354.7 208.5 355.9 208.5 357.6 208.2 358.5 207.9 360.2 208.2 361.4 207.1 364.6 207.0 364.2 207.3 464.5 109.9 465.0 108.5 464.7 106.3 465.2 104.8 394.9 46.8 396.6 46.6 398.5 46.8 399.6 46.2 400.7 46.2 402.2 46.4 403.8 46.3 404.9 47.1 407.1 46.9 358.8 180.4 358.1 178.9 356.3 177.9 356.4 175.9 355.3 175.1 354.1 173.7 353.5 173.3 353.8 171.0 353.1 169.6 353.1 168.9 352.1 165.7 457.1 97.1 458.1 97.8 460.5 99.2 460.0 100.9 461.3 101.8 462.3 102.0 466.1 124.7 465.7 123.6 464.2 121.6 464.1 120.5 463.5 119.2 462.8 118.0 397.6 117.1 395.2 117.3 394.4 118.4 392.6 118.7 392.3 119.9 390.9 120.2 389.1 120.9 388.4 121.9 427.5 118.5 427.7 120.3 427.4 120.8 427.2 122.7 427.1 124.1 426.3 125.7 426.0 127.1 362.4 155.7 363.0 155.1 365.6 153.8 365.6 153.1 367.4 151.6 369.6 152.0 370.0 152.4 371.2 151.6 373.1 151.0 375.0 150.9 376.0 151.4 377.9 151.1 388.7 88.5 389.2 90.2 389.6 91.6 390.5 92.7 391.6 94.5 391.2 95.8 391.2 97.2 392.0 98.6 392.2 99.8 381.5 117.8 380.5 119.4 380.3 120.6 380.3 121.8 379.0 123.0 426.0 63.9 426.0 62.4 425.9 61.1 426.2 59.9 426.6 58.6 427.3 55.7 404.8 118.2 406.2 119.2 407.3 120.9 407.9 122.5 409.1 124.0 410.8 124.1 411.5 125.8 412.1 126.9 413.0 126.8 414.3 128.4 416.0 130.4 401.9 66.6 400.0 66.1 399.2 67.2 398.1 67.7 396.4 68.2 394.1 68.0 407.3 120.9 406.7 121.4 405.7 122.2 404.9 123.8 403.7 124.9 404.3 126.0 402.6 127.7 401.5 129.6 482.7 24.0 482.0 22.3 480.3 22.2 479.2 20.6 478.7 19.4 476.7 18.4 475.6 17.8 474.7 16.5 441.0 171.6 439.4 170.6 439.1 169.1 437.9 167.6 438.1 166.5 436.9 165.5 436.4 163.9 414.7 185.6 412.8 187.3 412.2 187.7 410.9 187.3 409.3 189.1 408.6 189.3 406.1 189.7 405.7 190.6 404.1 190.7 402.8 191.1 396.8 153.5 398.1 152.1 397.9 150.3 399.0 149.6 400.4 148.2 400.9 147.2 402.1 146.0 402.5 143.9 403.4 142.8 404.4 142.1 405.0 128.4 403.6 129.9 404.2 131.1 404.2 132.9 405.5 134.4 405.1 135.7 405.4 137.5 405.9 139.1 405.3 140.8 406.2 141.7 406.2 144.1 343.5 155.5 342.5 154.2 342.1 151.3 342.3 150.6 341.3 149.1 341.3 146.9 341.0 145.8 340.8 145.5 340.9 143.1 441.4 155.2 439.2 154.3 438.9 154.5 437.2 154.4 435.6 154.3 435.2 153.7 432.8 154.3 431.8 154.5 429.8 154.4 380.9 43.9 382.0 45.9 383.8 44.9 384.1 46.6 386.4 46.5 387.3 47.0 388.4 47.4 390.3 49.0 428.3 55.6 426.9 56.3 425.4 56.9 423.9 57.4 422.7 57.0 422.1 58.5 419.7 58.5 419.0 58.8 417.4 59.3 449.6 44.3 450.9 43.1 453.0 41.9 453.6 41.9 455.4 41.0 456.2 39.9 457.4 38.7 458.6 38.4 460.0 37.0 460.5 35.9 462.5 35.4 400.7 86.2 402.9 86.1 404.4 85.5 405.4 85.3 406.4 86.1 407.9 85.4 410.1 86.3 411.5 85.9 412.5 86.8 414.0 86.9 415.6 86.8 379.8 120.7 381.1 119.7 382.9 118.1 384.1 117.7 385.5 117.0 386.3 116.2 388.3 116.6 389.4 114.9 416.3 152.1 416.4 153.6 415.7 156.4 415.9 157.1 416.5 158.6 416.9 160.3 417.1 161.8 380.3 97.7 380.3 98.8 381.6 100.1 381.9 101.7 382.6 103.1 383.4 104.9 417.5 131.3 416.6 129.8 416.9 128.2 415.1 126.9 414.4 125.9 414.2 124.5 414.0 122.9 412.9 122.3 412.4 121.0 410.8 119.3 410.9 117.6 432.6 191.0 431.3 190.8 429.4 189.5 428.5 189.5 426.9 188.5 425.7 187.7 424.6 186.4 422.9 186.1 421.8 185.2 421.7 183.9 419.5 182.7 446.7 155.7 445.5 156.1 444.8 153.6 443.4 152.8 441.3 152.7 466.0 76.7 468.1 77.7 468.8 77.2 470.5 77.7 471.7 78.7 474.2 77.6 403.9 173.6 401.9 174.1 400.8 173.0 399.7 173.4 398.0 173.3 391.2 162.6 390.7 161.5 389.0 160.2 388.4 158.3 388.2 158.1 372.2 126.6 372.7 125.6 373.2 124.0 372.7 122.1 372.5 121.7 372.1 119.3 371.0 117.9 371.2 116.4 371.1 115.7 370.9 114.4 370.2 111.6 435.4 83.1 435.7 84.0 436.6 85.5 436.3 88.0 397.4 120.1 398.1 122.5 398.8 123.7 400.1 124.4 401.2 125.7 402.1 126.7 402.5 128.5 403.9 129.9 404.5 131.2 404.9 132.5 406.3 133.4 433.3 67.7 433.0 68.7 433.5 69.6 434.1 71.0 434.2 72.0 436.2 74.0 435.3 75.4 435.7 77.5 436.3 78.5 435.1 80.0 418.7 96.8 416.8 95.4 415.7 94.5 414.8 93.7 414.0 92.3 413.2 92.3 411.4 91.2 409.7 90.7 408.4 90.2 406.7 89.4 406.0 88.6 405.1 88.2 387.0 202.0 387.0 203.1 385.3 202.6 383.2 203.0 381.9 203.8 380.6 204.3 379.1 205.1 386.4 129.3 385.7 130.8 385.1 132.1 384.2 133.8 384.3 134.6 383.7 137.2 383.9 138.0 383.9 139.2 458.2 126.5 457.9 127.7 456.9 129.1 457.3 130.7 456.8 133.0 456.2 133.0 454.5 135.8 454.3 136.4 454.1 138.6 454.2 139.3 385.8 106.9 385.0 106.0 384.8 104.7 384.7 102.9 383.6 100.8 384.1 100.1 383.4 98.8 434.3 23.4 432.9 21.3 431.0 20.6 430.2 19.8 428.7 18.7 427.7 17.3 427.4 16.8 360.8 115.9 361.4 117.3 361.9 119.5 363.1 120.3 363.6 121.6 363.3 123.1 364.8 123.9 365.4 125.8 366.2 127.9 366.0 128.8 367.4 130.1 367.8 131.4 354.7 119.5 355.2 120.8 356.6 122.2 356.4 123.3 356.8 125.4 358.6 126.5 358.2 128.2 359.1 128.8 360.8 130.3 389.0 113.2 388.1 113.7 386.9 112.5 385.0 111.0 384.0 109.5 383.9 107.5 382.7 107.8 346.1 80.5 347.6 80.2 350.1 79.7 351.7 81.1 352.2 80.7 463.3 -34.1 465.2 -33.9 465.5 -34.1 467.2 -32.6 469.2 -31.8 470.2 -32.0 471.6 -31.2 472.9 -30.9 474.4 -30.7 476.1 -30.6 476.8 -29.8 395.2 169.4 397.0 170.4 397.7 171.6 398.8 173.0 399.9 173.4 401.5 175.0 402.3 175.7 355.1 133.0 353.5 133.1 352.3 133.3 351.5 133.0 350.1 133.7 348.3 134.3 347.0 133.7 345.2 134.1 344.4 134.5 342.0 134.6 341.9 134.6 339.2 134.6 425.2 106.1 424.8 107.0 423.5 108.1 422.3 108.9 421.6 110.4 420.4 111.1 388.2 98.0 388.2 99.5 388.4 100.7 387.4 102.3 386.9 103.8 389.8 85.9 390.5 87.3 391.9 88.3 391.6 89.9 393.1 90.8 339.7 115.9 341.6 114.6 342.0 113.5 343.5 113.4 345.1 112.0 345.8 111.7 347.0 109.9 348.8 109.4 349.8 109.3 368.5 143.4 366.7 143.5 366.1 143.9 364.2 145.1 362.8 145.2 361.1 146.2 360.3 146.1 359.0 146.4 357.9 146.8 339.6 108.5 338.2 109.9 337.0 108.8 334.8 109.5 333.5 109.0 332.2 109.8 330.8 108.9 329.9 109.0 327.7 108.5 327.1 108.6 325.2 107.6 324.3 107.0 440.3 52.6 440.6 54.6 440.2 55.5 440.4 57.6 441.3 59.3 459.8 158.8 460.1 157.2 459.8 156.0 459.0 153.0 458.8 152.5 458.1 150.8 458.0 149.3 480.2 128.0 481.7 127.0 481.6 125.5 481.8 124.1 482.4 121.4 481.8 121.4 481.5 119.5 482.3 117.6 482.0 116.1 482.4 114.0 424.8 97.1 422.7 98.0 422.0 98.2 420.1 98.0 419.6 99.3 418.3 100.3 416.8 99.9 414.8 100.8 413.7 101.3 403.1 131.5 405.0 130.9 406.1 131.7 408.3 132.2 409.2 131.5 410.6 132.2 388.2 122.1 387.1 121.3 387.4 119.0 387.4 117.1 417.5 83.1 418.6 83.5 420.2 84.4 421.3 85.8 387.6 162.5 388.0 164.0 387.1 165.4 387.9 167.3 387.0 168.6 387.7 170.4 388.1 171.3 388.4 173.1 388.2 175.5 389.2 176.9 390.2 178.6 390.7 179.0 407.3 72.5 409.8 71.9 411.0 72.2 412.0 71.5 413.3 70.5 414.9 70.8 416.1 69.8 417.5 69.2 377.1 194.6 376.6 192.7 376.9 190.8 377.5 189.3 376.7 187.6 376.7 186.1 394.5 144.4 392.5 142.7 392.4 142.3 391.6 140.5 390.7 139.0 389.6 138.5 388.3 137.1 387.7 136.0 420.6 89.7 421.0 87.5 421.9 87.7 422.4 84.8 423.4 83.5 423.3 82.3 423.1 80.8 425.0 80.3 424.8 78.5 426.6 76.1 444.1 149.6 443.1 150.6 443.0 152.3 442.0 152.5 440.5 154.0 439.3 154.4 437.5 155.3 436.7 156.0 435.1 157.1 434.2 158.0 432.6 159.5 431.7 159.4 435.7 71.2 434.9 72.9 434.8 73.7 433.8 75.8 432.5 76.9 431.5 77.7 431.1 78.5 430.0 79.4 428.9 80.7 380.2 96.1 380.3 95.0 379.9 92.7 378.8 91.8 378.9 90.6 378.2 88.8 377.4 87.6 376.6 85.0 377.3 84.3 376.6 82.4 376.9 81.5 388.9 121.7 389.3 120.2 389.2 119.4 389.6 117.6 388.7 116.1 389.7 114.6 390.2 112.8 390.6 112.1 389.7 110.2 390.7 108.4 391.3 106.8 396.1 150.4 394.7 151.8 394.0 152.8 393.6 153.9 392.5 155.4 391.2 156.4 390.2 157.8 389.6 159.4 388.5 160.2 380.7 88.9 381.0 90.4 379.8 91.5 380.5 92.7 430.8 161.7 432.1 161.0 434.0 161.4 436.2 160.5 437.1 160.7 408.5 98.3 406.9 97.4 406.1 96.7 404.8 95.5 403.9 94.0 445.1 164.3 446.8 163.0 448.0 162.2 449.2 162.0 450.4 159.6 451.4 159.6 453.3 158.1 453.2 158.3 454.6 157.1 455.1 155.4 457.0 155.3 458.5 153.5 377.2 99.2 376.2 98.4 375.8 98.4 374.8 97.1 373.2 96.5 370.8 96.4 369.0 95.4 368.2 95.8 397.6 113.1 399.5 111.4 401.1 111.1 402.3 110.2 403.7 109.5 404.1 109.0 406.4 109.2 406.9 108.1 397.1 93.9 396.4 94.5 396.3 95.5 395.1 97.0 395.0 98.1 394.0 99.9 394.1 101.8 393.1 102.7 392.7 104.7 392.5 106.1 402.0 26.8 402.8 26.0 403.9 25.8 406.3 24.9 406.6 25.0 408.8 24.6 409.3 23.6 410.6 23.1 439.1 293.8 438.5 291.6 437.8 291.5 437.9 288.6 437.3 287.3 437.3 286.0 437.2 284.6 437.0 283.0 436.9 281.6 389.9 135.4 389.5 134.1 389.2 132.6 388.4 130.8 387.6 129.2 387.8 128.5 386.8 126.8 387.1 124.8 381.9 122.5 382.1 124.1 382.0 125.6 381.3 127.3 381.1 128.2 426.1 89.7 425.7 90.1 424.0 91.1 423.0 92.1 421.6 92.6 420.0 93.8 419.7 94.3 418.6 95.3 388.3 74.6 387.4 74.3 385.6 74.5 384.6 73.9 382.7 73.2 382.1 73.4 380.1 73.0 430.6 99.9 431.6 97.8 433.2 97.7 434.4 97.3 435.6 96.9 436.6 96.1 438.2 94.9 439.6 95.1 440.6 95.7 369.4 105.0 368.2 107.1 367.8 107.7 367.9 109.4 366.7 111.5 366.5 112.7 366.9 113.6 366.5 114.8 365.8 116.6 364.8 117.8 364.5 118.6 362.7 120.8 402.6 108.2 404.5 107.2 406.1 105.7 406.7 105.6 407.5 104.3 408.6 103.6 410.7 103.8 411.5 103.6 413.5 102.7 419.5 78.5 418.2 78.2 417.3 75.5 417.0 75.1 411.1 161.0 412.2 160.8 413.1 159.3 414.7 158.3 416.5 157.7 416.9 157.0 418.2 155.8 418.6 154.8 420.1 154.1 421.5 152.5 422.1 151.5 423.3 150.4 436.9 132.2 435.9 132.3 434.9 134.1 434.3 135.2 434.6 136.3 411.7 75.2 412.3 76.0 413.6 76.5 414.0 78.3 415.3 79.4 416.4 80.8 365.4 56.7 365.1 56.1 362.3 55.7 362.2 54.1 361.4 53.1 344.6 83.8 342.0 84.8 341.3 85.1 340.1 85.8 338.9 85.8 336.6 86.8 335.8 86.9 334.2 87.4 333.5 87.8 332.2 88.9 330.5 89.8 356.3 123.3 354.4 123.5 354.3 123.6 352.9 123.5 350.8 122.6 417.0 196.4 417.2 197.1 416.7 199.3 416.7 200.8 415.9 202.4 414.9 203.7 414.1 204.9 413.4 206.9 412.5 207.1 412.9 209.1 345.8 82.0 344.3 79.9 343.5 79.5 342.0 79.8 340.8 79.2 339.0 78.0 338.4 77.5 336.2 76.9 335.4 76.1 334.2 75.4 357.5 95.5 358.8 97.8 358.6 99.0 359.2 99.7 359.8 101.8 359.5 103.1 360.6 105.2 360.1 105.3 360.9 107.1 360.9 109.5 362.9 110.9 440.8 54.4 441.4 56.8 441.5 57.3 441.3 59.3 441.9 61.1 441.8 63.0 441.2 63.7 441.4 65.5 441.1 67.2 441.4 68.9 440.6 70.6 440.8 71.4 359.1 135.4 358.5 136.9 358.3 137.8 357.7 139.4 356.5 141.3 355.4 142.8 393.6 109.8 394.5 110.7 395.7 111.9 396.4 112.8 397.6 115.5 398.2 115.5 378.9 86.5 377.8 83.8 378.1 82.8 378.0 81.5 407.8 152.2 406.6 152.2 404.9 151.7 403.0 151.6 402.5 151.0 400.6 150.7 398.5 151.6 397.7 150.5 396.6 151.9 394.5 151.0 393.0 149.7 391.3 150.6 357.3 108.8 356.7 108.8 355.6 111.0 354.2 111.9 353.1 112.8 352.3 113.6 386.7 199.5 385.3 201.0 385.4 202.4 384.5 203.8 383.8 204.7 383.7 206.9 382.6 208.1 382.6 209.4 382.1 211.5 381.4 212.4 464.1 120.8 465.9 119.7 466.4 118.6 468.0 117.7 469.8 117.4 470.2 117.1 375.2 3.1 373.9 4.9 373.7 6.3 373.1 7.4 372.6 9.8 300.3 144.4 302.3 143.9 303.0 143.4 304.4 143.5 306.5 142.7 383.9 52.8 385.3 53.0 387.1 53.2 387.9 53.4 389.8 54.5 391.5 53.4 392.5 55.1 393.7 54.9 394.8 55.4 396.7 55.3 398.2 54.8 399.7 54.3 449.0 115.1 446.5 115.9 446.1 117.2 445.3 118.3 444.2 119.4 442.9 120.8 441.6 121.2 441.6 122.5 440.1 123.8 393.0 96.8 392.0 97.2 390.4 95.1 388.3 94.5 387.6 93.5 386.4 93.2 385.6 92.5 383.5 92.0 380.8 91.3 380.1 91.6 388.6 93.1 389.5 91.6 389.8 90.3 390.2 89.3 391.0 87.8 391.7 86.5 393.7 85.5 393.2 84.0 394.5 82.5 426.6 136.3 425.6 136.2 424.1 135.1 423.2 135.8 421.7 136.0 420.4 135.5 418.7 135.0 417.8 134.8 414.8 134.9 414.5 134.4 413.4 133.6 397.7 132.0 397.3 130.1 396.6 129.1 394.8 128.5 393.6 127.0 394.0 126.1 392.1 124.0 390.9 123.0 389.9 122.6 388.3 121.7 390.4 31.5 390.3 29.6 389.9 28.4 388.8 27.1 417.5 83.8 419.1 83.4 420.1 81.1 420.3 80.1 420.5 79.2 400.7 56.3 402.3 57.1 403.2 57.3 404.9 57.0 406.5 56.6 406.9 56.7 410.0 162.5 409.7 160.3 409.3 158.8 409.1 157.7 408.7 156.4 407.6 154.9 407.4 120.0 407.8 121.9 408.6 122.7 409.7 123.8 410.6 124.3 411.5 126.0 412.3 127.2 412.8 128.3 414.5 129.8 401.3 62.0 402.3 62.9 404.4 64.2 404.9 64.9 406.6 66.1 406.8 67.7 385.4 165.7 386.8 165.4 388.1 166.4 390.0 167.0 390.7 167.8 457.1 126.5 455.9 126.3 454.9 125.9 453.1 125.8 452.4 125.6 450.3 125.0 448.9 124.6 447.4 124.5 444.9 92.5 444.0 92.7 442.8 93.0 440.8 92.2 439.7 91.1 439.5 91.3 437.4 90.2 436.5 90.2 434.2 89.3 433.3 88.7 394.8 165.6 394.6 163.4 395.4 163.1 396.4 161.2 397.7 159.4 397.3 157.7 396.9 156.4 399.0 154.4 416.0 54.4 414.2 54.3 412.7 54.1 411.7 53.1 410.0 53.0 409.7 52.2 407.7 52.1 405.9 51.3 404.0 50.7 402.7 50.3 401.5 49.8 389.8 108.1 389.4 106.6 388.6 105.3 387.2 103.5 386.5 102.7 386.0 101.5 385.3 100.1 384.7 98.5 383.5 97.9 382.4 97.2 382.2 94.6 403.0 111.5 401.3 111.1 399.3 111.3 398.4 110.8 397.0 110.2 396.7 109.0 394.3 107.7 393.7 107.6 391.4 107.3 391.3 106.3 418.8 99.5 419.7 99.2 420.8 97.2 421.0 96.3 417.8 135.6 416.8 137.0 414.8 136.8 413.6 136.9 412.8 137.5 411.0 138.2 460.1 138.1 461.7 137.5 461.1 136.2 463.2 134.4 464.2 133.7 464.6 132.7 466.6 131.1 466.0 130.3 467.2 128.4 468.8 127.1 469.6 127.2 427.3 42.7 428.0 40.7 428.6 39.8 429.1 38.5 429.6 36.7 430.6 35.5 430.9 33.7 431.1 32.6 431.2 31.3 398.5 176.6 399.1 178.1 400.2 179.1 400.3 181.2 401.2 182.0 468.9 145.5 470.9 148.1 470.8 149.0 472.3 149.6 472.8 151.7 474.5 152.2 475.3 153.4 476.1 154.8 477.2 155.0 477.3 156.2 477.5 131.5 478.4 131.2 480.1 131.0 481.7 130.0 482.0 130.2 484.4 129.2 485.8 128.3 486.7 129.7 488.6 128.6 490.3 128.6 490.5 128.5 421.3 73.9 420.8 74.2 420.1 76.7 419.2 77.0 417.2 79.1 416.0 79.9 416.5 81.9 415.6 82.3 414.1 83.4 413.1 84.7 384.9 219.6 383.3 219.5 381.8 219.3 380.8 218.5 378.3 218.2 378.4 217.5 376.4 218.1 374.6 216.8 374.4 215.2 430.8 77.0 432.4 76.4 433.4 75.1 434.8 74.1 435.3 72.4 435.7 71.6 437.5 70.9 436.6 68.7 438.4 67.5 439.0 65.9 420.3 149.1 421.6 150.1 423.4 150.8 424.0 151.8 425.9 151.9 426.4 152.7 442.4 150.9 443.8 150.3 443.8 152.9 444.8 155.1 445.1 156.2 446.4 157.2 447.3 158.0 447.6 159.8 448.1 160.5 449.4 163.1 414.7 81.3 413.2 82.6 411.8 83.9 411.4 84.2 410.3 86.5 409.0 87.2 407.6 88.2 394.5 35.6 394.9 36.4 397.3 35.7 398.6 35.6 399.0 34.7 401.1 33.3 402.1 33.0 404.4 33.5 404.6 33.0 407.0 32.2 366.6 62.6 367.5 63.3 368.0 64.9 368.8 66.6 369.5 67.5 345.8 257.6 345.6 255.9 345.0 254.7 344.1 253.6 344.7 251.9 343.9 250.6 342.2 249.6 341.9 247.3 341.2 245.8 340.8 244.5 339.9 243.3 339.0 242.5 448.5 233.2 449.3 232.9 450.1 231.8 452.2 230.9 474.9 267.0 475.2 266.0 477.1 265.6 478.6 265.2 479.7 264.8 481.1 263.9 482.6 264.0 483.7 263.1 339.0 230.2 337.4 229.6 336.4 229.5 335.5 229.5 333.7 228.1 332.7 226.6 331.0 226.3 330.3 225.7 328.8 224.9 327.8 223.9 326.9 222.9 518.0 291.4 517.2 293.1 516.0 293.1 514.4 294.1 513.1 295.1 511.8 295.9 511.6 296.6 510.3 298.6 508.8 299.3 508.0 300.4 506.7 301.0 350.1 335.5 348.5 334.5 347.8 334.0 347.4 331.3 346.7 331.1 345.3 329.6 415.5 274.7 414.5 276.9 413.8 277.3 415.1 278.6 415.7 280.9 415.8 282.3 343.8 268.9 345.7 268.6 347.4 269.6 348.4 268.7 349.6 269.2 352.0 269.8 352.8 269.5 354.3 268.5 355.7 269.8 342.6 295.3 342.2 293.7 342.2 291.8 343.0 290.2 343.2 288.6 343.5 287.3 343.4 286.6 343.3 284.5 345.0 283.3 344.9 281.9 346.2 279.8 346.9 279.3 434.2 232.7 432.8 233.9 433.8 235.7 432.8 236.8 425.6 309.4 425.7 307.8 425.6 305.7 424.8 305.6 597.9 287.9 596.7 288.9 595.4 289.1 594.8 291.1 593.4 291.7 592.8 292.1 591.3 294.6 428.6 266.6 429.6 265.0 428.7 264.6 427.8 262.6 428.8 260.8 428.5 259.0 468.1 248.0 468.6 248.8 470.0 250.9 471.0 251.9 471.4 253.3 473.1 254.2 474.8 255.0 474.9 255.5 477.5 256.3 478.4 256.6 397.8 292.6 398.3 292.2 397.1 290.2 396.4 288.4 424.7 282.1 426.5 281.3 428.8 281.8 429.4 280.4 430.2 279.3 431.5 279.8 434.1 279.6 444.7 211.3 445.7 210.0 446.1 208.6 448.8 208.2 449.3 206.7 450.3 206.7 452.4 205.6 453.8 204.3 453.8 203.4 468.8 307.7 468.7 306.8 468.3 303.2 468.4 302.6 467.2 300.6 467.1 299.5 466.4 298.6 466.8 296.3 465.6 295.3 465.1 293.8 464.4 292.7 464.1 291.0 508.4 236.0 509.9 236.2 512.0 236.2 513.5 235.7 514.4 236.1 517.0 235.5 518.5 234.5 519.2 235.2 520.5 235.0 522.0 234.5 523.1 233.5 524.3 234.0 454.7 314.6 455.9 314.7 457.4 314.9 459.0 314.2 460.3 315.0 461.1 315.4 463.2 315.8 464.5 316.3 465.8 316.8 467.1 316.1 467.8 316.1 469.8 316.1 434.0 309.4 432.9 310.3 431.5 310.6 430.5 311.9 429.2 312.3 420.8 296.7 421.6 296.0 422.5 295.5 424.4 294.5 425.4 293.2 425.9 291.9 428.1 291.8 428.7 291.0 429.2 289.0 431.8 289.1 432.5 288.9 433.4 287.2 599.5 293.8 597.6 294.3 595.9 295.2 594.5 296.1 482.1 319.5 481.1 317.9 479.5 317.3 479.5 315.4 479.2 314.0 477.6 312.1 457.9 279.8 458.6 279.4 460.7 279.9 461.5 280.4 463.8 281.3 465.3 280.5 466.3 280.6 467.2 280.2 469.7 280.9 372.7 297.1 372.1 298.4 369.8 297.8 369.3 299.0 367.9 299.9 366.1 301.2 365.3 301.4 363.5 300.6 362.8 302.1 417.2 244.8 417.7 247.0 418.3 247.3 417.1 250.0 418.3 251.3 417.0 310.3 418.5 310.3 420.6 310.4 421.3 310.7 422.2 311.4 424.3 312.4 426.0 313.7 426.7 313.2 427.6 314.2 455.8 297.8 455.1 299.1 453.1 299.2 452.4 299.8 449.9 300.7 449.2 301.4 447.8 302.4 447.3 304.0 446.0 303.3 445.1 303.8 443.2 304.7 441.7 305.9 345.6 271.1 345.4 270.3 344.4 268.4 343.5 268.0 342.8 264.8 342.5 264.4 341.1 263.3 340.7 261.0 339.4 260.7 338.2 258.7 533.7 300.9 532.3 300.0 530.7 299.4 529.2 298.0 528.0 298.7 526.9 297.1 525.9 296.4 523.6 296.5 523.6 294.8 521.6 294.1 520.4 293.9 519.2 293.0 529.4 314.5 529.4 313.2 530.1 312.1 530.2 311.0 530.6 309.1 421.5 255.8 421.4 256.4 421.1 258.5 421.0 259.9 420.4 260.9 477.9 257.3 476.1 255.7 475.0 255.3 473.4 253.8 472.8 252.9 471.9 253.2 470.8 251.6 468.9 250.6 468.8 249.5 468.3 248.1 466.3 246.4 381.2 304.5 383.0 303.9 384.9 304.2 384.8 303.4 387.5 303.9 388.7 302.7 364.7 249.8 363.9 248.7 362.6 247.7 362.3 245.9 393.1 209.6 391.9 209.7 390.0 209.6 389.5 210.1 387.7 210.1 385.7 209.3 384.5 208.9 383.3 208.6 382.0 208.1 380.0 208.3 419.1 246.7 418.1 245.8 417.7 244.6 416.4 243.7 416.2 241.9 416.7 240.8 415.0 239.3 415.0 237.2 415.3 235.9 392.6 200.1 390.6 201.4 391.0 202.6 390.5 204.4 389.9 206.0 391.7 270.8 391.9 273.0 391.9 274.2 393.5 275.6 393.1 277.9 393.1 279.0 393.8 280.3 394.0 281.6 394.3 283.2 394.8 283.9 519.8 271.3 520.9 270.1 521.4 268.9 522.3 266.8 523.0 266.8 405.4 267.7 405.9 268.6 406.4 269.7 407.8 271.1 407.8 273.2 408.6 274.1 408.1 275.9 408.4 276.8 407.6 279.1 408.0 280.7 402.4 309.7 401.9 307.9 401.3 306.9 401.2 304.7 400.7 303.8 399.9 301.4 481.0 354.8 481.2 355.8 482.5 357.2 483.0 358.1 483.9 359.8 485.4 361.2 485.7 361.8 486.9 363.1 487.3 365.0 488.9 365.5 488.9 367.3 489.8 368.2 415.4 288.3 415.6 289.7 416.4 291.1 417.1 291.8 418.2 293.0 419.7 294.4 420.2 296.4 420.7 296.7 422.0 297.1 423.1 299.2 404.4 267.3 403.0 267.1 401.7 267.5 401.2 267.2 398.5 266.9 397.0 267.7 395.8 268.1 394.7 267.4 384.8 276.0 384.7 277.0 385.2 278.3 386.1 280.0 386.4 281.2 386.1 283.6 387.2 285.6 387.0 287.0 390.7 220.1 391.0 218.2 391.9 217.5 392.1 215.0 392.9 214.7 394.1 213.9 394.8 211.4 394.0 209.8 396.0 209.8 397.2 207.6 397.6 206.7 369.8 337.6 367.9 337.3 366.9 336.0 367.0 334.4 439.9 231.9 440.5 229.8 440.1 229.0 441.0 226.7 441.0 226.2 441.7 223.9 449.5 287.7 448.5 289.3 448.4 290.9 448.4 291.4 448.1 293.4 448.4 295.6 448.0 296.4 446.3 298.4 448.0 299.8 446.4 301.6 447.0 303.0 446.0 304.7 412.3 247.8 412.5 248.2 414.0 246.6 415.1 245.3 416.6 244.9 417.3 244.1 418.4 243.3 419.3 242.1 420.7 241.3 421.7 240.1 422.7 239.2 423.9 237.9 375.4 328.2 373.7 329.3 373.7 330.4 372.0 331.4 370.8 332.6 369.6 333.2 441.1 272.0 443.1 271.5 444.1 271.1 445.7 271.2 447.2 271.7 448.3 271.8 449.2 271.0 451.4 271.6 452.7 271.5 454.3 271.4 455.1 271.3 489.5 208.5 488.1 207.5 487.6 206.5 486.9 204.4 485.2 203.9 485.2 202.2 484.5 201.0 483.0 200.1 482.2 198.8 481.2 197.1 480.2 195.5 436.6 218.0 438.0 217.2 439.3 216.5 440.5 216.3 442.0 215.0 443.8 215.7 444.3 215.5 446.6 214.5 447.1 214.1 448.5 213.6 449.6 213.2 451.7 212.9 373.2 320.6 371.7 320.7 370.1 320.8 368.7 320.2 367.6 320.8 365.8 321.4 364.6 321.0 363.2 321.0 361.8 320.7 359.7 321.4 358.9 321.9 357.5 321.6 386.7 363.1 387.7 362.7 388.9 363.1 390.4 363.8 392.1 363.1 392.9 364.2 394.7 364.6 396.3 365.0 397.6 365.7 398.7 366.3 399.7 367.7 421.3 228.8 422.2 226.2 423.6 225.7 425.0 224.8 425.1 222.8 426.2 221.8 427.2 220.5 427.4 219.2 428.7 218.1 428.9 216.1 429.4 214.6 460.3 264.2 461.6 264.4 462.4 263.9 464.5 263.3 465.2 262.0 327.6 298.0 327.9 295.4 327.9 294.7 328.4 292.3 328.6 291.8 328.5 290.0 329.2 288.9 328.9 287.0 330.9 284.9 448.5 313.8 448.4 314.5 448.6 315.7 448.7 316.9 448.6 318.9 449.1 320.5 392.3 205.6 390.4 205.2 388.6 205.5 387.4 204.8 386.1 205.0 384.3 205.2 383.4 204.7 382.3 204.9 432.5 246.6 431.8 245.7 432.1 242.6 431.0 242.3 431.5 240.6 431.1 239.6 430.8 236.4 402.1 221.8 403.3 222.4 404.2 223.5 405.8 223.9 407.9 224.5 409.1 225.5 410.5 225.2 506.4 250.1 507.0 252.4 506.6 253.1 508.1 254.7 508.4 255.7 508.3 257.4 448.4 307.1 450.4 306.7 452.0 304.8 453.5 304.6 454.5 304.4 455.4 302.8 457.1 302.2 457.3 300.8 459.2 300.0 459.6 298.9 394.3 216.3 395.1 214.5 395.3 213.6 395.8 211.8 396.3 210.1 396.6 208.7 397.6 207.6 397.4 205.4 439.0 310.2 441.5 310.2 442.0 309.3 443.5 309.7 431.7 312.1 432.1 310.8 433.1 309.7 435.0 308.7 435.2 307.5 436.7 306.0 381.5 218.6 382.9 219.9 384.0 220.0 385.8 221.3 387.4 222.5 387.7 222.9 404.2 231.5 405.9 232.1 406.9 232.4 408.4 232.4 409.5 231.9 444.1 176.4 444.7 175.6 446.8 174.9 447.6 173.9 449.8 173.1 450.2 172.0 481.7 332.9 483.3 333.8 484.3 335.8 484.9 336.4 485.9 336.7 486.7 338.1 487.9 338.1 488.6 340.5 433.4 197.0 434.1 197.8 436.2 198.7 436.9 199.3 438.9 199.5 440.1 199.9 441.7 201.0 442.2 200.8 443.9 201.8 445.1 202.0 447.6 202.7 447.7 202.8 377.3 285.9 377.6 284.4 378.4 282.0 378.5 280.8 378.3 279.3 379.1 278.0 378.9 276.2 378.4 274.4 378.4 272.7 377.8 271.5 459.0 282.9 458.4 281.6 457.1 280.4 456.4 278.8 447.9 296.8 446.9 295.5 446.7 294.6 445.3 293.0 445.3 291.5 444.2 290.1 443.5 289.4 442.3 287.7 440.9 286.6 440.7 286.1 439.8 284.3 439.5 283.2 490.8 287.6 489.1 288.5 487.8 288.8 486.5 289.3 484.5 289.5 483.3 289.7 481.3 290.4 481.7 289.6 478.6 290.2 476.8 290.0 476.4 290.4 475.0 290.5 365.4 201.6 365.1 203.3 364.3 204.8 363.3 206.5 363.0 207.7 362.7 209.9 362.3 210.9 361.4 212.2 361.1 213.7 360.3 215.7 360.0 216.7 410.2 228.3 410.5 229.4 410.8 230.0 411.6 231.7 443.2 320.1 442.0 321.7 442.3 323.3 441.4 324.8 442.5 326.0 442.2 328.6 441.5 329.3 442.7 330.9 443.1 333.2 442.9 334.3 394.1 264.5 395.2 263.1 394.9 261.5 395.3 259.7 355.9 253.6 357.3 254.9 357.4 256.3 358.8 256.9 359.3 257.4 361.3 258.2 362.3 259.1 363.4 260.1 364.9 260.4 365.7 262.1 483.9 264.9 483.1 266.1 481.4 267.3 480.8 268.1 478.7 269.2 478.2 269.8 476.3 271.3 475.4 270.7 474.5 272.2 473.6 272.6 328.1 242.0 327.4 239.9 328.2 238.1 329.6 237.4 329.6 236.3 329.9 235.2 330.6 233.0 330.7 231.8 332.1 230.0 331.8 228.9 332.8 227.6 364.8 258.4 366.2 258.9 367.0 258.3 368.4 256.6 369.7 256.0 371.2 255.3 372.0 254.3 373.0 254.3 270.6 283.1 270.1 281.7 268.9 280.7 267.7 279.9 266.9 278.4 266.3 277.1 264.0 277.3 262.6 276.0 261.6 276.1 259.9 275.7 258.4 274.6 378.4 299.1 377.1 296.7 376.2 295.9 375.4 294.2 374.0 293.8 452.5 319.3 451.0 318.3 449.5 317.2 448.3 317.6 446.7 316.8 445.7 316.3 427.7 301.0 428.2 302.5 428.6 304.4 428.7 305.9 429.1 308.6 429.6 309.5 429.3 310.7 430.2 311.6 431.0 314.5 430.8 315.7 430.3 316.4 430.5 317.9 406.5 231.3 406.2 229.9 406.4 228.1 406.5 226.1 407.0 225.2 407.1 223.3 406.6 221.7 406.5 220.2 406.5 218.9 406.2 216.8 406.3 215.2 406.5 214.6 412.7 275.3 412.7 277.2 412.6 278.5 412.7 280.9 412.6 281.9 412.0 282.9 411.9 285.1 411.1 286.2 410.3 288.4 410.6 289.5 409.6 291.1 409.4 292.5 441.5 248.7 443.1 249.8 442.8 251.5 443.0 252.5 444.2 254.7 444.4 255.7 445.0 257.1 445.4 258.6 445.0 259.9 427.1 267.2 427.3 266.1 427.8 264.9 428.1 262.7 428.0 261.0 428.5 259.6 428.6 257.7 428.5 256.9 428.7 255.4 428.6 253.2 468.6 271.7 468.7 273.3 468.2 275.7 467.0 277.0 467.0 278.5 466.7 279.3 465.9 281.5 465.9 282.3 465.8 284.0 464.8 285.0 465.3 287.0 441.9 295.1 443.3 294.9 444.4 293.6 445.6 292.1 447.2 291.9 448.4 291.3 448.6 289.7 450.1 289.3 410.7 292.9 411.5 293.8 412.8 294.5 413.7 296.6 433.8 259.4 434.3 258.7 435.7 257.0 435.9 256.2 436.7 254.7 437.0 252.6 437.6 251.1 438.5 250.4 438.4 248.4 439.3 246.6 457.3 230.5 457.5 230.9 458.7 231.8 460.5 232.7 461.5 232.9 462.9 234.0 463.6 235.3 464.0 236.7 465.4 236.6 467.3 238.4 468.5 239.5 374.2 285.2 372.6 286.9 371.8 286.6 371.7 288.8 370.3 290.4 369.7 291.6 368.9 292.1 367.7 293.0 367.0 295.2 365.9 295.6 364.7 296.7 364.1 298.2 377.1 328.0 376.5 328.0 374.7 327.8 372.8 329.5 372.1 329.3 371.1 330.6 369.5 330.3 367.8 330.3 398.0 245.7 397.5 247.4 397.2 248.3 397.4 250.2 398.3 251.6 509.2 239.4 512.3 239.6 512.6 241.1 514.2 240.9 515.3 241.1 371.9 281.8 370.5 282.0 369.7 283.6 369.1 284.4 367.9 285.5 367.6 285.4 365.4 286.7 365.4 288.2 364.4 289.8 363.1 290.5 362.3 292.1 417.4 251.4 418.5 251.2 419.6 250.9 421.4 251.4 423.2 249.7 424.7 250.0 426.2 249.8 426.9 249.0 428.6 248.7 430.4 247.4 431.8 247.6 433.1 246.9 404.0 292.9 403.9 291.7 404.5 289.0 404.3 288.3 404.9 286.5 405.0 285.7 471.8 286.7 471.9 285.0 472.0 283.5 472.3 282.3 472.1 280.7 472.3 279.0 471.5 276.6 447.4 243.1 448.0 242.4 447.0 240.3 447.6 238.5 447.0 236.6 446.9 235.2 454.2 259.2 452.6 259.8 451.7 258.4 450.1 259.0 447.7 259.1 447.1 259.0 445.8 258.5 444.0 259.8 443.2 259.5 442.0 260.4 423.1 262.6 423.2 264.9 423.2 265.6 423.1 267.3 423.5 268.9 423.4 270.7 423.3 271.7 424.4 273.8 424.9 275.3 425.3 275.9 420.1 271.7 422.7 271.9 423.0 270.0 424.2 269.9 426.0 268.9 427.4 269.1 428.2 266.9 429.2 266.5 423.1 293.3 422.1 294.6 420.5 296.3 419.4 297.1 418.2 297.1 417.5 298.0 387.6 234.0 389.1 235.6 388.6 236.5 388.6 238.5 389.7 239.3 389.7 240.7 389.7 242.9 391.0 244.2 390.2 246.1 390.7 247.2 414.0 266.7 414.5 265.4 415.2 263.9 415.6 262.2 416.5 260.5 416.7 260.3 417.8 257.9 418.5 257.0 419.2 254.7 419.6 253.4 420.4 235.9 418.6 238.0 418.1 238.9 417.2 238.6 415.2 240.3 478.5 256.7 478.0 258.2 479.3 259.5 479.5 261.0 480.1 262.3 481.7 264.0 386.3 267.2 384.8 266.5 382.7 266.5 382.3 267.6 379.7 267.9 379.1 267.5 377.6 267.7 376.1 267.8 374.8 267.9 426.4 296.1 426.6 294.3 426.6 292.7 426.8 291.8 425.9 289.5 426.3 288.4 427.6 286.6 427.6 285.8 427.4 283.9 428.2 282.2 428.8 281.4 428.7 280.0 492.6 285.4 493.6 286.6 495.0 288.0 495.9 289.1 496.4 290.3 498.0 291.0 499.7 292.9 500.5 293.2 450.6 309.3 452.6 307.6 452.3 306.5 453.4 305.3 453.7 304.2 454.0 302.0 453.4 300.8 454.5 298.7 454.9 298.0 456.2 297.0 456.9 294.9 457.0 293.6 439.0 243.9 438.6 245.6 439.0 246.7 438.2 248.7 438.6 250.5 437.4 250.8 438.8 275.2 438.2 275.3 437.0 277.3 436.0 278.0 434.4 278.5 487.1 234.6 487.1 232.8 486.4 232.5 486.0 230.6 485.2 228.8 484.2 228.1 414.3 259.3 416.1 259.4 416.8 259.9 419.1 259.6 420.3 258.2 421.4 258.5 422.8 257.0 425.3 257.6 426.1 257.0 449.1 244.7 449.3 246.7 449.2 248.2 449.4 249.9 451.5 251.0 451.8 253.0 452.0 254.2 452.3 255.8 452.3 256.7 453.7 258.4 391.3 295.7 391.0 297.3 392.2 298.0 392.0 300.0 391.8 301.3 392.9 303.0 484.7 348.1 483.7 350.2 482.8 350.4 481.8 351.1 479.9 352.2 478.9 353.9 477.5 354.0 476.4 355.9 476.1 356.2 474.9 357.8 451.2 253.3 450.5 251.9 449.2 251.1 448.1 250.8 447.2 249.7 445.5 249.2 444.2 248.8 442.9 247.7 441.6 246.1 440.2 246.9 439.1 245.8 437.1 246.0 455.1 281.1 455.8 279.9 456.4 278.5 456.8 277.9 458.9 276.6 459.7 276.5 460.3 274.5 462.7 274.6 427.3 213.6 426.2 211.3 426.3 210.6 424.9 209.0 424.4 208.3 423.9 206.7 422.8 206.1 422.0 204.2 421.1 203.2 420.3 201.5 419.4 200.9 417.6 198.9 461.3 236.3 461.3 237.8 462.3 239.4 462.9 241.1 463.4 241.8 463.6 243.7 464.9 244.5 465.6 246.1 466.0 246.9 467.9 248.6 467.7 250.7 446.1 254.9 444.5 253.4 443.8 252.6 442.7 251.5 441.2 251.0 440.0 249.6 439.7 249.0 439.0 247.6 437.6 245.8 436.6 244.8 435.1 244.2 434.3 243.4 486.3 206.4 487.5 207.2 488.4 208.3 489.4 209.2 490.5 209.9 491.1 211.9 492.4 211.4 494.4 213.3 496.0 213.1 496.7 213.6 403.5 256.1 404.7 257.7 405.4 258.0 406.6 258.8 408.1 258.8 410.2 259.3 428.5 260.2 428.6 260.9 427.6 262.6 426.7 264.0 427.2 265.8 426.6 266.7 425.9 268.5 425.9 270.5 424.2 271.9 424.0 274.0 423.9 274.6 424.1 275.7 420.0 294.6 419.0 294.8 417.8 296.9 416.7 297.7 465.7 262.4 464.1 262.9 464.1 264.1 462.1 266.0 461.5 267.4 460.4 267.2 459.7 269.6 458.6 270.6 457.7 272.1 457.4 272.9 456.1 274.5 469.7 258.0 469.7 258.9 468.8 260.4 469.3 262.1 468.1 262.6 468.0 264.6 467.3 266.1 466.9 268.5 467.6 269.5 467.1 270.9 467.8 272.6 427.3 287.0 428.5 287.1 430.1 285.9 432.0 284.9 432.5 284.5 434.3 283.7 435.1 283.7 436.8 282.4 438.1 282.4 439.5 281.9 440.4 281.1 441.6 280.2 425.3 285.7 426.1 286.2 427.5 286.6 429.6 287.9 430.0 287.8 432.3 289.5 432.7 290.7 424.2 247.7 423.6 246.7 423.4 245.1 423.2 244.1 422.3 241.9 422.2 240.6 478.2 323.3 479.7 322.0 480.5 321.1 482.0 321.2 483.6 320.6 484.1 319.3 486.4 319.9 486.7 317.8 488.4 318.1 488.8 315.8 491.3 315.7 492.0 314.7 453.9 285.3 453.7 283.0 452.7 282.5 452.9 280.5 451.8 279.4 412.0 258.7 412.8 256.9 414.4 256.3 415.0 255.1 415.5 254.4 416.9 253.2 417.2 252.3 419.2 251.2 419.9 249.2 420.5 250.0 422.3 248.7 424.1 248.0 423.7 298.7 423.4 300.2 423.8 301.8 423.6 303.5 423.8 305.3 424.5 306.9 424.0 308.1 423.8 309.7 424.4 310.9 424.5 312.5 424.5 314.9 459.5 271.7 460.5 273.1 461.5 274.3 462.1 275.3 463.6 276.3 463.9 277.8 465.6 277.6 466.8 279.4 467.7 279.5 468.4 282.2 468.9 282.0 470.5 283.7 464.8 218.4 463.1 219.9 462.3 220.7 462.0 222.2 460.4 223.8 459.0 224.4 457.7 225.1 456.7 226.5 456.0 228.2 448.3 232.3 447.1 233.5 447.5 236.3 446.3 236.0 446.4 238.1 445.5 239.6 445.2 240.9 452.4 252.6 450.4 253.5 448.9 252.8 447.7 252.3 446.1 251.5 445.5 250.9 443.5 251.2 443.1 250.1 441.2 249.4 494.2 267.9 493.5 266.7 494.7 264.5 495.0 263.1 495.3 262.1 495.2 260.3 495.3 259.1 475.9 219.1 474.1 217.5 473.1 217.4 471.8 216.6 470.5 216.4 468.8 215.6 467.9 214.5 466.2 214.7 465.2 213.3 464.0 212.9 463.0 212.1 461.5 211.2 439.6 302.4 439.5 301.4 439.0 299.1 438.8 297.6 439.6 296.6 439.2 295.4 438.6 293.2 438.0 291.9 438.9 291.0 438.1 289.4 438.1 287.0 454.3 274.6 452.6 274.8 451.5 275.0 448.9 274.7 447.5 274.8 428.5 219.3 428.7 220.1 426.1 219.3 425.2 218.9 423.5 219.3 471.5 311.4 472.6 310.5 471.8 308.3 471.0 308.1 471.5 306.0 471.0 304.5 470.8 302.9 470.9 300.8 470.3 298.8 470.1 298.7 439.1 244.8 439.0 244.0 437.8 243.5 436.2 243.2 434.9 242.5 433.1 241.9 431.7 242.3 429.6 241.0 429.0 241.1 427.7 241.0 426.4 240.5 425.0 240.3 420.5 257.4 421.0 256.8 422.3 256.3 423.4 254.4 424.2 253.0 425.2 252.1 425.6 250.7 497.6 296.4 497.6 297.7 496.6 297.9 495.5 299.8 480.8 242.4 480.9 243.8 480.8 245.3 479.9 247.5 480.2 247.5 479.6 249.3 478.6 252.1 477.9 252.1 441.0 253.0 441.7 252.6 443.3 254.1 444.6 255.1 445.2 255.4 446.4 256.4 448.3 256.3 449.3 257.6 451.8 257.3 394.1 241.7 393.5 241.0 392.7 242.9 392.9 244.6 391.6 246.6 392.0 247.5 457.4 282.6 456.8 283.5 457.0 286.0 456.8 288.0 473.2 242.4 474.9 243.0 475.4 243.6 476.8 244.3 477.3 245.6 478.1 248.2 453.9 266.5 454.3 268.1 454.8 269.7 454.2 271.4 453.3 273.6 452.7 274.9 452.3 275.6 452.2 277.1 452.3 279.2 451.7 280.5 452.1 282.0 469.2 286.1 468.6 288.2 469.5 289.4 468.9 291.0 468.7 293.3 468.3 294.5 471.8 265.5 472.9 267.7 473.4 268.4 474.9 270.3 473.6 270.8 475.6 272.4 475.5 274.3 475.9 276.3 476.5 277.5 476.6 278.8 477.2 280.1 478.6 281.5 476.5 244.6 476.5 245.8 475.2 247.5 475.1 248.5 475.6 250.1 475.1 251.1 474.8 252.2 474.0 254.7 473.0 255.8 472.1 257.0 430.3 277.6 429.1 277.7 427.3 278.3 426.3 279.8 424.6 279.1 423.2 279.6 467.7 297.2 466.3 298.1 464.9 299.9 464.5 300.1 463.0 301.0 463.0 302.3 462.0 303.6 427.8 231.8 428.5 232.3 429.7 232.5 431.7 233.4 434.1 234.4 434.6 234.3 436.1 236.3 436.6 237.2 437.8 237.1 438.7 238.6 440.1 239.3 440.9 240.6 427.0 281.7 426.9 280.3 428.1 279.6 428.7 278.2 442.1 316.2 442.9 315.6 444.2 314.3 445.6 313.8 447.9 313.0 448.3 311.8 450.3 311.2 452.0 311.3 452.5 310.5 486.8 255.4 485.1 254.6 483.6 254.2 482.7 254.4 481.1 254.9 479.4 254.1 478.6 253.4 415.5 307.7 416.7 308.5 418.1 310.6 418.8 310.4 420.2 312.2 420.6 312.7 421.5 315.1 398.4 235.4 399.1 236.7 398.6 238.3 398.8 239.6 400.1 241.5 401.0 242.2 400.7 243.9 401.5 245.5 439.9 236.1 439.3 235.8 438.7 235.0 437.2 233.7 436.3 233.7 435.5 231.4 433.5 230.0 488.3 281.4 489.6 283.8 491.1 285.0 491.4 285.2 492.7 286.6 493.9 287.3 420.3 223.1 419.0 222.1 417.8 221.1 417.3 221.4 436.4 177.8 437.8 178.8 438.2 180.4 439.4 180.5 461.4 315.5 460.6 314.3 459.9 312.7 459.0 311.8 458.2 309.4 457.7 309.4 456.4 307.6 455.8 306.3 454.7 304.7 454.6 303.6 453.0 302.8 452.5 301.3 471.5 264.6 473.7 264.9 474.9 263.5 474.5 263.3 443.6 266.1 443.9 264.2 443.6 263.2 443.3 261.5 442.9 260.0 442.7 258.2 443.0 257.3 442.2 255.2 442.4 253.4 441.3 252.0 442.1 251.0 441.4 248.5 407.5 291.3 407.8 292.4 407.6 294.2 408.2 296.5 407.5 297.0 407.8 298.7 407.1 299.9 407.5 302.1 407.3 304.0 463.5 205.2 462.5 204.2 461.5 203.7 459.7 202.0 459.3 200.2 458.8 199.5 457.2 198.1 456.5 197.3 452.3 254.2 454.0 253.3 454.0 251.7 455.1 250.7 456.9 249.5 457.5 248.1 458.5 248.0 459.1 245.7 460.6 245.0 460.7 243.9 431.7 296.7 431.5 294.8 431.6 293.4 431.5 291.7 431.6 290.7 430.3 288.9 430.1 287.5 430.1 285.8 430.0 284.1 430.8 283.8 431.0 281.4 376.1 263.6 376.8 264.4 378.6 264.9 380.3 265.3 429.3 309.3 428.7 308.7 426.6 309.1 425.7 309.5 423.6 310.3 422.6 310.0 421.0 310.3 419.5 310.8 418.2 309.4 415.8 311.1 415.7 310.3 414.4 311.5 438.6 265.8 440.6 265.0 442.1 264.6 442.9 263.9 443.9 263.4 446.5 263.5 448.0 263.8 454.3 225.9 455.5 224.6 456.5 223.4 457.4 222.9 453.5 219.9 453.0 218.9 451.6 216.9 450.4 216.1 449.6 215.0 448.5 214.1 447.5 212.8 447.3 212.6 445.0 211.2 444.0 210.6 443.1 208.8 432.6 222.0 431.4 223.5 431.8 224.5 430.9 226.4 430.7 227.3 430.3 230.1 430.3 231.5 429.8 231.8 437.7 203.7 437.1 206.0 436.8 207.2 435.4 208.3 435.6 210.1 434.8 211.8 434.1 213.3 434.0 214.8 434.4 215.9 432.9 217.0 432.8 218.7 427.7 274.6 429.1 276.2 430.4 277.0 431.9 276.8 433.7 278.2 434.8 278.8 435.4 279.4 436.1 280.5 437.4 281.4 439.1 282.6 440.2 283.9 399.3 226.7 400.1 224.0 400.1 223.0 400.4 221.8 400.6 220.1 400.9 218.5 401.5 216.5 401.9 215.5 401.6 213.9 401.8 212.3 449.0 294.0 450.2 293.6 451.0 294.8 452.9 295.2 455.0 295.8 455.8 296.8 457.6 296.3 458.9 297.3 460.0 297.4 425.8 250.8 426.3 250.7 428.0 250.5 429.5 250.7 431.0 251.1 432.6 250.6 430.5 274.3 431.5 272.3 431.8 271.4 431.6 269.8 431.6 268.2 432.0 266.2 450.6 248.6 450.1 247.6 449.7 245.6 449.5 244.2 448.0 242.5 447.9 241.1 448.4 239.8 400.4 91.8 401.5 93.3 403.5 93.8 404.6 93.5 406.1 94.8 406.8 94.9 408.6 96.3 409.7 95.8 411.0 96.4 412.6 97.0 414.0 97.1 414.5 98.1 377.1 80.2 379.0 79.9 380.1 78.9 381.6 78.3 383.5 78.0 384.3 77.2 385.4 77.1 386.8 77.0 388.9 75.6 389.0 74.7 390.9 74.1 392.4 73.9 394.8 77.6 393.9 78.6 393.0 77.5 390.8 78.1 389.0 77.5 388.6 77.5 386.6 77.1 384.9 76.7 382.8 77.2 401.2 115.4 400.9 116.2 401.5 117.7 403.9 118.7 405.0 119.7 405.6 120.7 407.4 121.7 408.5 122.7 409.6 123.9 410.9 123.8 381.3 54.3 380.6 53.7 379.7 50.8 379.9 50.0 408.4 67.7 407.1 69.5 406.0 71.1 405.5 71.5 404.8 73.2 427.8 75.9 426.3 74.9 424.8 75.2 423.2 73.9 422.5 73.2 419.3 93.7 420.6 93.6 421.9 93.2 423.8 92.6 424.5 92.6 426.0 92.7 427.0 91.9 428.8 91.8 430.8 91.6 431.6 91.4 373.3 118.3 374.1 116.5 374.8 115.7 376.5 115.1 377.1 113.0 378.1 112.4 391.3 79.1 390.2 80.3 390.7 81.6 390.5 84.4 370.8 96.2 369.4 95.0 368.0 94.7 366.7 93.1 365.3 92.9 417.8 107.4 417.5 109.6 417.0 110.5 416.6 113.1 417.0 113.6 416.6 115.0 416.1 117.1 415.3 118.1 415.2 119.5 415.2 121.4 414.3 123.0 414.6 124.4 420.8 86.1 421.2 87.7 421.1 90.2 422.7 90.8 422.4 91.9 423.0 93.7 424.4 95.4 423.8 97.8 424.9 98.7 425.5 99.8 426.2 101.3 340.4 107.2 341.3 105.4 342.7 104.5 344.2 103.7 344.7 102.8 346.0 101.5 347.4 100.4 408.6 109.5 409.3 111.2 410.6 112.2 411.8 112.6 412.4 114.4 414.3 115.2 394.3 73.7 393.8 72.7 391.3 74.4 390.1 73.8 401.3 87.0 400.5 86.2 399.1 85.1 399.0 82.9 398.0 81.3 397.4 80.0 397.6 78.6 396.3 77.0 395.8 76.5 395.5 74.8 394.7 73.6 394.6 70.9 402.4 76.7 403.0 78.8 402.3 79.4 403.0 82.4 403.7 82.8 403.4 83.7 404.0 86.9 404.3 87.9 405.1 89.0 407.9 69.4 408.6 67.7 408.4 65.8 409.7 65.8 409.5 63.4 409.9 61.8 410.4 60.5 411.1 58.5 397.5 64.9 399.5 65.6 400.4 65.3 402.4 65.7 403.0 65.1 404.1 65.2 406.3 66.1 408.0 65.7 408.7 67.3 410.3 66.9 410.6 55.8 411.2 55.8 412.0 57.3 414.2 57.8 415.2 58.0 416.7 59.6 416.9 59.4 387.2 52.0 386.4 50.7 385.0 49.5 384.6 47.2 384.0 46.7 382.7 45.1 382.6 44.2 382.2 42.6 381.4 41.5 381.2 39.7 423.5 98.7 423.7 96.2 423.6 96.7 422.8 94.0 423.3 92.2 422.6 91.1 421.9 90.0 422.3 87.5 421.4 86.0 421.1 85.5 421.1 83.0 386.5 60.6 385.4 60.6 384.8 61.8 382.1 62.5 381.1 62.0 379.3 61.1 378.1 62.6 376.4 62.5 374.8 63.3 374.9 64.0 370.5 84.7 369.9 85.0 368.1 86.4 367.7 87.5 365.5 88.4 364.5 89.4 364.0 90.2 363.4 91.3 361.9 91.9 377.0 76.6 376.6 77.8 375.7 79.9 375.3 80.7 374.9 82.3 374.7 84.4 374.4 85.1 424.9 84.0 424.4 84.4 423.9 85.8 422.5 86.6 423.3 89.4 423.1 89.8 421.9 91.4 421.5 93.3 421.5 94.9 421.6 96.1 420.6 102.1 421.2 101.9 423.0 101.6 424.4 101.6 425.7 101.5 409.0 74.9 408.3 75.5 406.2 75.7 405.6 75.8 420.5 120.6 420.4 122.1 421.1 123.9 422.2 125.0 422.9 127.0 422.9 127.3 424.3 129.0 425.2 130.9 361.5 95.3 363.0 97.1 364.3 98.7 364.5 99.5 365.5 100.6 366.2 102.0 418.2 82.9 418.2 80.3 417.1 79.4 416.7 78.4 416.3 77.0 416.2 75.6 415.7 73.9 414.4 72.3 414.5 70.8 413.9 69.5 414.3 68.3 384.4 66.0 383.2 65.4 380.6 67.1 379.9 65.1 379.4 65.4 376.5 64.5 375.6 64.7 405.6 100.0 405.8 100.9 406.0 102.7 406.2 103.8 427.0 91.6 426.2 92.6 425.9 93.8 424.4 94.7 423.8 96.4 421.5 96.4 421.2 98.4 421.2 99.8 419.9 100.4 384.1 75.4 384.4 73.5 385.7 72.4 386.5 71.1 386.6 69.5 387.3 67.8 390.4 72.9 392.0 73.4 392.8 73.3 394.9 73.0 395.8 72.9 397.5 73.2 419.8 70.5 419.4 71.0 418.3 72.9 417.6 74.3 417.9 75.1 417.6 77.3 417.0 79.2 415.9 80.0 415.8 81.7 416.2 82.9 415.8 84.2 423.9 106.2 422.1 106.8 421.3 106.6 418.9 106.9 417.5 106.4 375.2 106.9 374.0 108.2 374.2 108.9 373.1 110.3 372.2 111.6 371.1 112.9 370.7 114.4 369.3 115.4 369.1 117.7 402.5 76.6 401.2 77.6 399.6 77.5 398.8 77.5 397.1 77.7 395.4 77.9 393.6 78.1 392.8 78.1 391.0 78.7 388.7 78.8 387.9 78.0 386.6 78.5 373.7 137.7 374.9 138.5 375.7 140.1 376.6 141.2 378.3 141.0 378.8 143.4 380.0 143.2 381.4 144.4 383.1 145.1 391.2 97.3 390.6 96.0 389.7 94.4 387.7 94.0 386.2 92.1 385.4 92.4 384.5 90.3 383.2 88.7 387.5 44.2 389.2 42.9 389.6 42.1 390.3 41.1 414.3 62.3 415.3 61.7 417.0 60.4 418.0 60.3 418.6 59.1 419.8 57.7 421.6 56.8 422.7 57.0 423.6 56.3 390.4 92.6 392.2 94.5 392.9 95.4 394.1 95.1 395.9 96.5 397.5 97.8 398.0 98.2 399.8 99.8 407.5 90.9 406.3 89.7 405.5 88.4 403.7 88.7 402.6 88.4 401.2 87.1 399.6 85.8 405.6 103.7 403.7 103.5 403.3 104.4 401.5 104.1 400.2 103.8 379.0 69.4 380.7 68.4 382.0 68.2 383.5 66.8 414.9 53.3 413.5 54.7 412.3 55.0 412.2 56.5 409.7 56.7 408.8 57.7 406.4 59.0 405.3 58.6 404.0 59.8 403.5 60.0 401.7 60.3 400.5 60.8 364.4 81.3 365.0 82.4 363.5 84.0 363.5 85.7 362.6 87.2 361.6 88.8 361.7 89.8 362.0 91.5 361.0 93.3 360.8 95.2 359.8 96.0 428.1 90.3 429.0 90.6 431.0 90.5 432.0 91.2 432.9 91.0 434.6 91.3 436.3 92.1 438.2 91.6 439.8 90.0 380.3 72.7 380.1 73.4 380.7 74.4 379.1 76.1 378.4 78.3 378.2 79.7 377.3 81.2 375.9 81.1 376.1 83.2 373.8 84.2 373.8 85.8 384.0 110.2 382.6 110.3 380.6 110.4 379.4 109.6 378.2 110.8 376.5 110.1 375.4 110.7 373.8 110.1 372.7 111.2 371.1 111.0 407.4 92.1 409.7 90.8 410.6 90.2 412.3 89.9 413.3 89.2 415.5 88.7 415.6 88.7 417.4 87.9 418.9 87.3 420.0 86.4 421.3 85.0 423.2 85.1 380.6 102.6 381.7 103.9 382.2 103.9 383.1 105.5 430.8 75.5 431.0 77.7 431.3 79.5 431.3 80.2 430.1 82.6 431.8 83.8 431.9 85.1 431.7 87.0 432.4 88.0 383.2 85.7 384.1 86.7 384.9 88.5 385.7 89.9 385.4 90.7 364.8 43.0 364.0 44.8 363.8 47.4 363.4 48.0 363.4 50.7 363.5 51.3 414.9 86.5 414.7 87.4 415.0 89.3 415.2 90.1 415.1 91.6 416.4 93.5 359.0 111.7 358.0 111.2 357.0 109.6 356.7 108.6 366.3 42.4 365.1 41.4 364.3 41.0 362.7 41.2 360.8 40.8 360.3 39.4 359.0 39.9 357.0 38.6 355.9 39.0 399.9 130.9 401.1 132.1 400.7 132.9 400.9 135.5 401.3 136.7 401.4 138.1 401.8 140.1 401.5 140.8 402.1 142.6 402.0 144.5 402.0 145.7 409.9 115.3 410.9 116.4 410.9 118.1 411.1 120.6 346.0 114.2 346.1 114.9 345.3 117.3 344.7 118.6 343.7 120.5 344.2 121.5 343.8 122.3 342.9 124.7 342.4 125.9 341.8 127.5 342.1 128.6 392.4 72.3 394.9 73.2 395.8 74.3 397.2 75.3 378.3 45.1 377.9 43.9 376.0 43.4 376.0 41.5 374.1 40.5 414.0 71.7 414.9 72.2 416.9 73.3 418.4 74.2 419.2 74.7 420.0 75.6 421.0 76.3 422.6 77.4 413.0 69.7 412.8 71.4 412.4 72.5 412.4 74.6 369.2 78.3 368.6 79.9 366.4 81.0 365.5 82.9 364.7 82.4 363.9 84.4 362.4 84.5 360.9 85.4 359.8 87.2 358.2 87.8 421.7 87.0 421.7 87.6 422.7 89.9 422.0 90.5 422.5 92.0 421.8 94.4 422.6 96.2 423.0 97.6 422.1 98.8 423.0 100.6 423.8 102.2 423.3 103.6 416.8 37.4 417.7 37.1 419.4 36.2 420.6 35.6 422.1 35.6 384.6 109.1 384.0 107.1 383.4 106.6 382.7 104.5 381.5 103.4 379.7 102.1 380.0 101.2 386.6 97.2 388.4 96.7 389.1 96.7 391.8 97.2 392.3 97.5 394.1 97.6 395.1 97.2 396.3 97.3 443.2 92.3 442.3 92.9 441.1 93.6 438.8 94.6 437.7 94.1 437.1 94.8 435.0 95.7 433.8 95.9 369.7 93.2 369.3 92.3 369.9 91.1 369.7 89.3 369.6 87.3 370.0 84.8 369.4 84.7 369.9 83.2 369.5 81.5 370.2 79.8 369.9 78.4 374.2 69.1 375.2 67.0 376.9 66.9 376.6 65.3 376.7 63.8 377.3 62.1 406.8 64.0 405.0 64.4 403.2 64.7 401.9 65.3 400.3 65.3 444.8 115.7 445.8 114.5 446.1 112.7 447.2 111.0 448.1 110.0 448.2 108.6 393.1 102.6 392.8 104.7 392.0 105.9 392.8 106.8 392.6 108.7 422.8 127.0 421.8 127.9 420.3 128.2 418.6 128.5 416.4 129.3 415.5 129.7 414.7 129.8 413.3 131.2 411.2 130.8 410.0 131.3 409.0 131.5 407.0 132.0 419.3 101.9 421.2 102.4 422.7 103.5 423.7 103.3 424.6 104.3 426.9 103.9 428.2 102.4 430.1 103.4 430.8 103.2 432.1 102.9 443.2 97.4 441.7 98.8 440.2 98.9 438.9 99.3 437.6 99.2 435.8 99.9 434.7 100.6 433.6 102.1 432.0 101.6 430.5 102.0 502.2 43.0 501.0 45.1 500.2 45.6 499.3 46.9 498.4 48.0 424.7 129.3 423.6 130.2 421.3 129.9 420.3 130.7 419.1 131.0 417.7 130.7 415.9 130.9 414.5 131.2 463.4 108.0 461.3 109.2 461.4 110.1 459.0 110.3 457.5 111.3 456.8 111.7 456.5 112.7 454.2 113.9 453.5 114.6 452.7 115.6 450.1 116.0 449.3 117.0 478.1 78.5 478.7 79.6 480.1 80.7 480.6 82.0 481.9 82.9 483.6 83.3 484.5 85.3 485.2 86.2 486.5 86.3 486.6 87.9 488.4 90.4 449.7 56.2 451.3 55.4 452.9 54.9 454.2 54.3 455.7 54.3 496.9 53.9 496.2 53.0 494.2 52.7 492.9 52.9 491.9 53.1 490.5 52.3 488.8 52.0 486.9 52.4 485.6 51.2 511.9 63.3 511.0 61.4 510.5 59.0 510.2 58.6 509.7 56.0 509.0 55.1 509.3 53.7 509.5 52.6 477.9 111.5 479.0 112.0 480.8 112.4 482.2 112.4 451.1 37.8 452.9 36.6 453.5 36.5 454.5 36.0 455.8 35.5 457.3 34.2 458.5 33.5 458.8 31.2 460.3 31.3 462.0 30.0 596.3 70.8 598.1 71.2 598.4 71.2 600.6 70.3 601.0 70.2 603.2 70.3 605.3 70.3 606.8 70.8 607.7 70.6 609.1 70.6 610.8 70.1 611.6 69.3 523.4 61.1 524.6 61.8 525.9 63.0 527.3 64.3 528.5 64.3 529.4 66.1 530.8 66.3 531.6 67.2 533.6 69.0 534.7 68.9 466.5 85.2 466.3 84.3 465.3 82.7 463.9 81.8 463.6 80.4 462.5 78.9 461.2 77.8 460.9 76.9 461.2 75.7 459.2 73.8 458.0 72.2 492.6 131.6 492.2 132.5 492.5 134.7 493.0 135.3 474.3 89.1 476.3 88.4 477.1 87.7 477.9 87.0 479.8 86.3 481.3 85.0 481.8 84.2 400.4 167.2 401.8 169.0 402.4 169.4 403.5 171.1 404.3 172.3 586.7 73.9 588.6 73.6 589.3 71.4 590.9 70.8 590.8 69.9 593.0 69.4 523.1 101.2 524.9 101.5 525.8 101.8 527.0 103.2 528.7 103.8 529.4 103.5 531.6 103.6 532.3 104.2 533.8 104.4 535.8 105.5 373.9 15.9 372.6 15.3 371.2 15.1 370.5 13.4 368.8 13.5 367.9 12.5 366.6 11.5 365.1 10.9 363.5 11.1 497.8 93.1 496.5 93.1 495.7 91.1 495.5 91.1 493.6 90.1 479.6 155.3 481.3 154.8 481.8 153.9 483.3 152.7 483.9 152.1 485.9 151.2 486.7 150.1 488.5 149.7 489.7 149.0 463.3 100.3 462.8 101.9 464.6 102.5 464.2 105.6 464.4 106.1 387.3 60.2 387.6 62.2 389.2 63.3 388.9 65.0 390.1 66.7 390.3 66.9 391.0 69.1 391.8 70.5 392.0 71.8 392.1 73.2 393.0 74.6 393.3 76.4 428.2 55.3 426.7 55.8 425.3 56.3 423.5 56.3 422.9 56.5 421.1 58.1 420.5 58.8 418.3 58.7 417.5 60.1 416.9 61.0 485.6 155.0 486.7 154.4 488.3 154.1 490.0 153.2 491.4 152.3 559.2 31.9 560.1 31.0 561.7 30.5 563.4 30.6 564.5 30.5 567.0 29.2 432.6 29.9 430.7 30.6 428.7 31.1 428.4 32.6 427.0 32.0 424.8 33.4 424.5 33.3 422.1 34.4 421.0 34.1 419.7 34.5 418.7 35.0 480.4 71.7 479.7 72.8 479.3 75.1 479.3 76.4 479.1 78.4 478.2 79.8 477.8 80.3 477.3 82.9 477.5 83.8 431.1 43.5 432.1 44.1 433.3 45.1 434.3 45.6 435.7 46.7 436.9 48.0 438.5 48.6 440.0 49.1 557.8 33.9 558.9 32.2 559.5 31.3 560.7 31.3 562.1 29.1 562.8 27.8 542.3 86.7 541.7 85.8 540.7 85.1 539.3 84.3 536.5 83.4 536.6 82.5 535.4 82.2 534.2 81.0 532.7 79.8 532.1 78.8 530.9 77.8 444.7 89.3 445.0 90.7 446.3 91.2 447.5 93.0 448.6 94.1 448.8 94.8 449.4 96.1 499.8 103.6 501.8 101.9 501.8 100.5 502.5 100.6 504.2 98.9 505.3 97.3 506.3 96.3 451.0 91.6 449.5 91.3 448.6 92.1 446.9 93.9 445.4 94.0 444.0 95.1 485.1 127.7 484.3 128.7 483.0 129.6 481.3 131.6 480.7 131.8 479.9 132.6 478.6 133.3 477.4 134.0 476.0 135.6 474.1 136.7 502.7 72.2 501.7 73.7 501.5 74.7 500.6 76.1 499.8 78.7 500.0 80.0 499.2 81.1 528.2 65.2 529.3 65.4 530.6 64.1 531.5 64.2 533.3 63.6 472.6 113.8 474.0 113.8 475.8 113.5 476.9 114.7 479.0 115.1 479.7 114.6 480.9 116.6 481.9 116.4 483.7 117.1 485.2 116.8 551.9 128.6 553.0 128.1 551.7 126.4 552.2 124.8 552.0 123.1 551.1 121.4 551.4 119.3 551.4 118.4 551.6 117.3 551.2 114.7 489.3 146.1 488.6 145.4 486.9 144.5 485.5 144.0 484.4 142.4 483.3 141.5 482.6 142.0 481.4 141.2 488.0 155.0 488.8 156.0 490.4 155.8 491.1 156.4 493.2 156.1 494.9 156.4 495.7 157.1 497.9 157.7 498.3 158.9 500.3 159.0 451.8 80.8 453.1 81.0 455.5 81.8 456.7 81.5 458.5 81.8 459.7 82.0 460.5 83.1 462.1 83.8 514.7 129.5 515.9 129.1 516.0 128.2 517.6 126.7 518.3 125.8 518.6 123.9 520.1 122.7 520.2 121.4 521.4 121.4 521.8 119.0 522.2 118.2 524.1 116.3 434.3 167.7 434.4 165.1 434.3 163.4 432.9 162.1 433.0 161.7 432.2 159.2 431.8 158.5 431.2 156.7 430.9 155.3 430.1 154.4 429.7 152.4 430.0 150.3 453.4 -15.7 452.4 -16.6 451.4 -17.4 451.4 -18.9 450.1 -20.8 448.9 -21.8 492.2 102.2 491.0 101.5 489.8 101.3 488.5 99.5 488.1 97.9 486.5 97.9 484.4 96.6 483.6 95.7 482.5 94.5 481.2 94.9 464.3 45.7 463.8 44.5 464.1 42.4 464.2 41.9 465.2 39.9 465.0 38.9 465.2 37.5 466.1 35.6 466.6 33.3 466.7 33.5 425.8 75.8 425.6 78.2 426.2 79.2 425.7 82.2 459.1 184.4 459.0 183.6 457.6 182.0 457.1 179.8 456.2 178.7 456.0 177.8 455.9 176.3 454.6 175.7 453.0 173.3 450.8 26.3 452.3 27.6 453.2 28.7 453.9 30.3 454.4 31.4 454.7 32.6 559.0 95.5 557.6 96.2 557.5 96.4 555.4 97.3 554.4 98.7 552.9 100.0 553.2 100.8 551.9 102.1 550.7 102.9 474.9 73.5 474.1 74.8 473.5 76.6 473.3 77.6 472.1 78.9 471.3 80.0 470.9 81.9 469.9 83.1 515.2 38.3 513.1 40.0 512.7 40.3 512.2 40.0 509.5 41.1 508.0 41.8 506.7 42.6 506.3 43.6 505.3 44.3 503.2 45.0 427.0 59.8 425.6 60.8 425.3 61.9 423.2 62.7 422.1 63.4 480.1 119.9 480.2 121.5 481.0 123.8 480.3 125.0 481.9 126.1 481.6 127.8 481.6 129.3 565.8 128.2 567.1 129.9 568.0 129.3 570.1 129.7 570.3 131.0 572.4 131.6 449.5 51.1 449.7 51.6 449.6 53.5 449.4 54.5 449.6 57.0 450.3 58.2 450.1 58.1 451.2 61.0 451.5 62.5 451.5 63.8 498.6 157.0 500.2 157.0 501.6 156.3 502.4 156.6 525.3 17.8 526.7 16.3 527.5 13.9 527.9 13.2 529.9 12.8 530.5 10.7 531.3 10.0 411.4 120.3 410.5 120.8 409.0 122.2 407.5 122.1 406.6 123.1 405.3 123.8 404.3 124.5 551.0 51.8 550.7 51.9 548.1 52.2 547.1 52.8 545.7 51.9 543.3 51.5 542.7 51.6 540.8 51.9 540.3 51.6 538.8 51.8 477.2 100.2 478.5 99.9 478.9 102.8 478.6 104.1 479.2 105.5 480.3 106.5 519.5 86.9 520.5 86.3 521.9 85.5 522.4 84.7 524.2 83.8 525.6 83.7 527.1 82.4 528.3 82.2 529.8 80.9 531.3 80.4 434.5 79.2 433.0 78.9 431.7 78.6 429.6 77.0 429.0 76.5 427.7 76.5 426.1 76.4 424.1 76.0 423.4 75.2 421.3 75.2 510.6 101.4 509.2 101.9 508.1 102.2 506.3 102.4 505.3 102.9 502.9 103.7 502.6 104.0 500.3 103.8 499.2 104.2 357.2 5.4 356.2 4.4 356.3 3.5 355.9 1.5 443.2 42.0 442.6 42.9 442.3 45.0 443.1 45.7 442.1 47.1 442.0 49.6 440.9 50.6 440.5 52.1 440.7 53.4 440.0 55.4 439.6 56.5 439.0 56.9 494.2 102.6 495.3 101.4 495.1 99.5 496.6 98.8 496.6 97.3 406.3 24.8 406.5 23.6 407.2 21.9 408.0 20.3 408.0 19.6 408.4 17.9 409.4 15.4 409.4 14.5 410.4 13.5 410.8 12.6 436.5 116.7 437.6 116.3 439.0 116.5 439.8 116.0 496.4 22.6 496.1 21.4 496.3 20.2 496.1 19.2 496.9 16.2 493.5 19.4 494.1 17.5 493.5 16.1 493.8 14.8 493.5 12.5 493.9 12.1 494.9 9.6 493.7 8.9 494.3 6.4 494.9 5.8 494.3 3.5 493.9 2.2 473.6 188.2 475.9 189.5 476.3 190.1 477.4 190.1 477.9 191.7 479.7 193.1 480.4 193.6 481.2 194.2 482.9 196.2 484.2 195.4 485.9 196.8 486.8 197.3 443.8 62.6 441.8 62.8 441.6 64.0 439.4 65.2 439.2 66.8 437.4 66.8 436.8 68.4 435.7 69.2 434.5 69.8 434.1 70.1 431.1 72.3 430.8 72.3 516.4 27.2 517.9 26.6 518.7 25.6 519.9 24.9 521.8 24.6 522.7 23.9 523.7 23.3 525.5 22.4 527.1 21.4 391.1 96.0 390.6 96.1 387.9 94.5 387.2 94.8 385.7 94.2 384.7 92.5 383.0 91.7 381.1 91.9 380.1 90.4 379.1 89.3 378.0 88.9 457.6 158.0 457.1 156.8 455.3 154.8 455.5 154.6 455.0 153.0 454.6 151.0 453.7 149.4 505.5 99.7 507.6 99.2 508.6 98.9 509.9 97.8 511.6 97.5 512.3 96.3 514.2 94.8 515.0 94.6 516.5 93.8 517.8 92.9 518.9 92.7 485.9 72.2 485.3 73.6 484.8 75.3 484.3 76.1 385.0 161.3 386.7 162.3 387.0 163.4 388.3 164.9 454.0 42.6 455.2 44.6 455.6 45.2 456.7 47.1 491.3 41.2 491.9 39.8 491.7 38.3 492.5 37.0 485.1 104.6 483.1 104.6 482.7 104.0 480.9 102.5 479.6 101.7 478.3 101.2 477.4 100.1 476.7 99.1 475.2 98.2 442.1 86.9 443.5 85.4 445.1 85.1 446.0 84.1 447.7 84.1 448.9 83.1 479.8 141.4 479.5 143.2 480.2 144.8 480.0 146.1 480.2 148.2 479.7 149.2 480.1 151.1 480.8 151.9 480.4 153.9 405.7 93.3 404.5 94.2 403.6 95.3 403.3 95.8 401.4 97.4 401.6 98.9 399.2 99.0 398.9 100.8 398.7 101.8 396.5 103.1 397.0 104.7 395.5 105.2 498.1 40.9 496.8 41.4 494.7 41.9 494.2 43.8 493.2 43.6 479.8 41.5 480.1 40.6 479.9 38.1 479.8 36.8 480.0 35.3 479.8 33.3 480.2 32.4 481.4 31.4 481.2 29.3 481.5 28.3 452.0 84.1 452.7 85.3 454.6 85.7 456.1 87.3 457.8 87.0 458.8 88.2 460.2 88.5 461.5 89.6 462.6 89.7 544.5 132.3 546.7 130.5 547.5 130.6 549.0 129.4 550.3 128.3 551.1 127.4 552.4 126.6 553.8 125.9 464.8 132.6 463.9 131.0 464.5 130.3 462.9 128.8 463.0 127.0 463.1 126.5 434.9 136.4 434.3 135.2 433.8 134.3 433.2 132.4 432.0 132.3 431.3 129.3 430.8 128.9 428.9 127.6 428.4 126.3 511.7 39.1 512.8 38.4 513.7 38.1 515.2 37.1 516.8 37.0 517.9 36.1 598.9 117.8 600.7 116.4 601.2 116.3 603.0 115.1 604.7 114.0 605.4 114.6 606.6 114.2 608.7 113.2 609.7 112.3 511.3 123.2 512.8 122.4 512.2 120.1 512.0 119.9 513.4 117.7 512.2 117.0 424.2 137.0 423.4 136.5 422.1 136.8 420.9 138.0 418.6 137.6 417.3 138.7 416.7 138.3 415.4 137.8 413.5 138.7 502.8 155.8 502.9 158.2 502.5 159.3 503.3 161.0 511.8 32.4 511.2 31.8 510.7 30.6 509.9 29.7 418.9 104.1 417.5 102.7 417.5 101.0 416.9 100.3 416.3 99.2 416.4 96.7 415.4 95.8 415.1 93.9 414.2 92.7 414.3 91.4 414.0 89.8 412.7 88.0 482.6 -7.3 482.4 -8.5 481.6 -9.6 481.0 -11.8 554.7 65.0 556.7 64.9 557.9 64.7 559.5 65.3 486.8 59.5 488.2 58.3 487.9 57.3 488.8 55.8 490.0 54.6 490.9 52.1 491.7 52.0 492.2 50.6 492.9 48.6 494.1 47.0 494.0 45.3 494.4 44.2 511.0 103.7 510.6 104.1 508.6 104.7 507.6 104.3 506.3 104.0 504.6 105.1 503.6 104.5 502.1 104.7 504.2 111.3 506.3 111.2 507.2 111.1 508.9 111.2 511.1 111.8 512.2 111.4 512.8 112.7 514.5 112.3 516.7 111.8 423.3 54.8 421.3 54.5 420.0 53.4 418.9 52.4 418.0 50.5 376.1 106.1 376.4 107.7 375.4 107.7 375.0 110.9 372.7 111.0 408.7 54.4 409.3 55.8 410.9 57.8 411.1 57.9 412.2 59.8 412.7 61.0 414.3 52.5 415.7 52.7 416.9 51.8 418.3 51.3 419.9 50.9 421.5 49.6 422.6 49.8 481.7 85.8 480.7 84.1 480.1 83.6 478.6 82.7 477.6 81.9 476.8 81.1 476.0 79.2 474.5 77.7 474.3 76.3 433.0 125.1 432.9 125.6 433.7 126.8 434.9 127.8 435.5 130.7 436.2 130.9 417.9 107.6 419.4 108.0 420.4 109.1 421.4 111.2 422.0 110.7 424.2 111.1 425.2 112.6 426.5 112.6 427.8 113.7 429.9 113.2 506.3 101.2 507.5 100.0 508.8 100.2 510.2 99.2 511.9 99.1 512.8 99.0 514.7 99.4 515.8 99.7 517.1 99.8 519.0 100.1 451.9 75.0 451.1 73.0 450.3 71.4 449.8 70.6 449.8 69.3 380.7 53.2 380.5 53.6 379.3 55.9 379.0 57.5 377.8 57.8 377.3 59.2 376.9 61.1 376.8 61.9 375.9 63.7 467.8 58.1 466.3 57.0 464.6 55.2 463.5 54.7 505.7 182.4 503.5 183.2 503.0 183.2 501.7 183.7 500.6 183.3 498.9 184.3 497.1 184.6 496.0 185.2 446.5 69.5 446.3 67.5 446.6 65.8 446.8 64.7 447.9 63.6 447.8 61.8 448.0 59.9 449.3 58.7 449.2 57.4 450.0 55.5 450.4 54.3 436.6 118.1 437.3 119.8 439.4 119.5 441.5 120.9 441.4 121.2 442.9 121.7 443.7 122.6 445.4 123.1 446.8 122.9 448.0 123.8 449.8 123.5 470.2 110.7 471.9 109.1 472.0 107.7 473.4 106.5 473.9 104.5 475.5 103.7 475.7 102.3 477.3 101.4 477.3 100.6 478.9 100.1 479.5 97.9 434.0 50.4 432.9 48.1 432.3 46.7 431.9 45.0 460.3 97.7 461.5 98.1 462.2 100.4 462.4 100.7 463.1 101.9 484.6 -18.5 483.0 -20.0 482.3 -20.8 480.2 -22.3 479.3 -22.7 477.7 -22.9 477.2 -23.9 475.7 -25.8 474.0 -25.9 473.6 -26.1 471.0 -26.6 469.7 -27.6 524.2 63.8 523.2 63.3 521.4 61.9 521.0 60.5 519.6 59.8 434.6 114.3 436.1 115.3 436.8 116.3 437.5 118.1 439.4 119.2 439.7 119.1 514.7 41.8 515.5 41.6 517.1 40.6 518.0 40.0 519.3 39.1 520.5 38.6 521.3 37.1 474.3 172.9 473.4 173.6 471.4 174.7 470.1 174.6 468.4 175.2 467.2 175.6 465.7 175.0 464.0 174.5 462.7 174.8 461.4 174.8 459.8 174.9 459.2 175.0 452.6 109.8 453.6 109.4 455.3 108.4 457.3 107.7 457.9 107.5 528.5 94.3 529.3 95.1 530.7 96.5 531.5 97.2 532.2 98.3 534.4 99.2 535.7 98.9 533.3 80.0 534.8 78.2 534.6 77.6 535.6 76.4 535.6 74.0 536.4 73.4 536.0 71.3 536.6 70.3 536.6 69.2 467.7 176.3 468.5 176.9 470.1 177.7 470.6 178.6 472.1 179.9 473.0 181.0 473.5 182.1 475.3 183.3 475.8 184.6 476.7 184.9 347.1 115.0 345.8 114.1 344.7 112.5 343.3 112.0 341.4 111.8 341.2 110.1 340.2 110.1 338.9 108.6 337.8 107.0 337.0 106.5 336.9 105.0 506.3 72.6 505.1 71.8 503.9 71.9 502.3 72.2 500.8 72.1 498.7 71.5 498.1 71.1 496.8 70.8 494.8 69.6 494.0 69.8 492.0 69.9 491.1 68.7 427.8 150.2 428.8 149.4 429.4 148.7 429.9 146.4 429.7 145.5 431.8 144.4 432.0 142.3 542.1 174.9 543.7 175.2 545.2 175.1 545.9 175.4 548.3 175.4 550.1 177.1 550.7 177.9 551.4 177.6 553.8 179.2 539.8 37.3 539.9 35.4 540.6 34.2 540.6 32.5 541.4 31.3 540.9 29.0 541.4 28.3 541.6 26.4 541.2 24.8 541.1 23.6 541.0 22.1 429.4 67.8 430.5 66.5 432.1 65.7 432.6 64.0 434.0 63.9 435.1 62.4 436.2 60.7 444.6 87.4 446.4 87.4 446.8 89.0 447.7 89.3 448.3 90.9 449.9 91.9 450.8 91.4 452.0 93.5 453.4 94.9 454.3 95.3 455.0 96.7 456.3 97.8 500.3 69.3 499.8 70.7 501.0 72.0 501.5 73.0 501.7 75.3 502.4 76.0 502.0 78.1 502.5 79.8 502.5 81.2" fill="none" clip-path="url(#kb)" style="marker:url(#v10)"/>
<path d="M121.6 511.3 117.1 514.8 115.6 517.0 113.8 519.7 110.9 523.0 107.9 525.0 105.1 529.1 102.7 532.6 100.1 536.7 99.9 541.1 37.7 543.3 37.3 548.5 36.0 551.0 36.5 554.8 35.0 558.0 33.0 561.3 32.2 564.7 31.3 568.6 30.4 571.8 31.5 574.7 29.6 577.4 29.5 581.1 29.3 585.9 30.3 590.4 30.3 595.5 37.8 606.0 38.9 608.6 38.9 612.1 39.5 615.8 38.9 621.1 39.8 625.0 39.3 629.3 38.7 632.8 38.6 636.3 47.9 538.5 51.3 542.0 51.8 547.1 51.5 551.2 53.5 554.6 54.8 557.4 53.5 561.8 51.8 566.1 52.2 570.5 51.2 575.5 50.9 578.2 49.4 581.4 48.1 586.2 48.0 589.8 47.3 595.2 46.9 598.7 48.5 603.2 48.3 608.3 48.2 611.9 49.5 614.6 59.2 567.9 59.4 571.0 59.7 574.7 59.0 578.1 58.8 581.4 58.2 586.4 56.7 589.5 55.7 594.7 56.2 599.2 55.9 603.8 54.7 607.4 71.8 541.4 75.4 543.4 77.9 543.4 79.5 547.5 79.7 550.4 78.6 552.5 74.8 554.6 71.5 558.9 70.8 563.4 69.1 565.9 89.4 552.2 93.1 554.3 92.5 558.4 91.6 562.0 88.8 566.4 84.9 571.3 78.9 571.2 90.7 572.9 86.4 577.6 84.1 579.4 81.5 581.5 78.9 583.1 75.6 585.6 94.0 583.5 95.4 587.2 96.7 590.6 96.9 592.9 98.2 597.3 100.7 601.6 105.8 611.2 107.9 615.9 110.9 622.0 112.6 627.1 114.4 632.7 98.1 596.6 100.5 600.0 43.0 562.8 44.1 568.3 61.7 553.0 65.0 561.7 67.2 568.3 68.3 592.5 60.6 594.7 62.8 574.9 33.1 668.5 33.1 683.8 33.1 692.6 37.5 704.7 46.3 709.1 38.6 635.5 45.2 633.3 45.2 639.9 45.2 643.2 25.0 610.0 27.0 640.0 30.0 650.0 41.0 648.0 80.8 531.7 59.0 533.6 60.3 538.7 51.3 541.3 68.6 542.0 78.8 543.8 76.3 536.2" fill="none" clip-path="url(#kc)" style="marker:url(#r50)"/>
<path d="M23.3 506.1 23.8 507.8 24.1 509.3 24.0 510.8 24.5 511.6 24.4 513.0 24.7 514.0 24.1 514.4 25.0 514.6 24.6 517.2 22.8 508.5 23.0 509.5 24.6 509.1 26.7 509.4 26.4 510.7 27.1 512.0 29.5 510.8 30.1 512.2 30.6 513.1 29.1 507.8 30.3 505.4 31.1 506.2 31.6 505.8 34.1 505.9 32.0 505.4 35.2 502.5 34.1 502.4 34.2 502.8 34.1 504.2 38.4 502.6 37.3 503.1 36.2 503.0 37.6 501.9 39.8 501.8 40.8 501.8 40.8 500.3 43.6 501.5 42.7 499.9 44.5 501.1 45.2 501.3 46.5 500.9 46.9 503.3 46.4 503.9 47.6 503.7 45.9 509.9 45.4 511.3 47.1 509.7 47.1 511.3 48.0 511.6 48.8 511.3 50.0 511.3 51.7 511.8 50.7 511.9 52.4 512.6 53.9 512.7 55.2 513.2 55.4 512.7 56.2 512.5 57.8 513.3 57.6 513.8 39.4 512.4 40.1 513.3 41.0 513.4 42.2 514.1 42.7 515.4 58.9 521.8 59.6 522.5 58.6 522.4 58.8 525.4 58.4 524.1 57.1 526.0 58.0 526.4 58.1 527.2 56.6 528.3 56.4 527.9 56.1 529.7 67.4 523.8 69.3 523.2 67.1 524.1 68.1 524.3 68.1 526.1 67.3 528.1 65.7 526.1 67.9 527.8 67.7 527.6 67.4 528.1 64.8 529.8 66.7 530.4 67.4 531.0 66.0 532.2 64.9 534.1 63.4 535.1 66.6 534.4 63.9 534.8 64.3 535.2 64.5 536.7 72.8 525.9 75.4 527.4 73.9 526.5 74.3 527.8 74.1 527.4 74.2 529.3 76.3 530.9 75.8 530.6 74.0 529.8 76.4 532.1 74.8 531.1 75.0 531.9 75.8 533.3 74.2 535.9 74.7 535.9 74.0 536.1 72.4 535.4 73.2 537.8 72.6 536.8 37.2 504.8 42.4 507.1 42.0 505.9 41.4 505.7 40.8 507.8 35.9 506.9 40.0 502.3 36.2 503.2 41.1 505.0 40.3 506.8 39.4 507.7 38.3 506.1 39.2 506.0 40.1 508.5 41.2 503.5 43.4 505.1 42.5 505.7 40.3 508.0 43.5 505.3 36.2 505.3 40.2 505.9 40.6 507.2 38.9 507.1 39.5 504.2 40.1 503.0 38.0 511.1 39.5 506.6 39.2 507.1 39.7 510.2 44.8 507.1 42.1 504.8 38.4 503.4 38.7 506.6 42.3 503.7 36.7 512.5 39.9 505.7 42.4 510.5 39.7 504.4 40.3 508.9 39.1 509.1 40.5 507.6 43.5 507.6 38.8 506.4 38.8 507.6 38.1 509.8 67.8 534.3 66.8 529.7 73.5 530.1 72.1 530.1 68.9 526.5 74.5 531.2 67.7 532.4 67.7 526.6 73.2 531.4 73.7 528.9 68.2 531.3 70.1 531.4 77.8 534.5 72.4 534.6 70.7 534.1 69.3 534.9 75.2 530.1 70.8 527.3 68.4 527.6 68.5 535.5 71.0 533.4 72.2 534.2 74.1 532.6 66.2 532.2 69.5 523.9 69.7 529.9 70.3 527.5 71.7 531.2 67.2 532.9 72.7 529.5 74.7 529.3 68.8 532.7 71.4 530.0 71.1 530.5 72.3 527.7 71.9 525.3 66.8 527.6 67.9 529.2 71.0 527.8 68.4 531.6 22.3 527.6 23.8 528.7 25.1 529.9 23.5 528.7 24.3 529.4 23.8 530.3 23.6 526.6 24.7 530.0 22.6 529.1 23.1 529.8 41.3 576.1 40.2 573.8 40.7 574.5 40.9 575.3 40.9 575.6 39.7 575.2 39.3 577.1 41.0 574.4 115.2 633.8 115.6 634.1 114.8 634.5 115.8 634.7 115.9 634.2 113.3 633.9" fill="none" clip-path="url(#kc)" style="marker:url(#r80)"/>
<path d="M147.9 750.7 158.9 806.1 155.4 800.6 168.4 725.1 165.7 577.2 138.0 614.1 142.8 704.4 157.0 590.1 159.0 584.3 147.5 581.0 142.5 733.1 152.2 812.8 165.2 628.5 127.3 712.5 129.6 631.5 160.4 678.7 128.2 678.8 153.1 561.7 156.0 779.2 131.4 705.7 120.6 754.6 130.0 643.9 141.6 760.1 159.0 783.3 147.1 799.4 142.9 632.2 171.1 693.3 134.0 611.5 146.0 774.1 137.2 662.4 110.1 682.2 161.7 582.0 154.8 808.1 148.3 763.5 114.8 665.9 126.9 671.1 170.5 671.2 139.2 747.3 138.7 626.3 169.4 719.0 140.0 639.4 158.0 785.4 131.1 762.9 157.6 737.7 150.5 755.7 131.3 740.4 126.0 680.0 157.3 736.7 149.6 706.3 108.7 697.0 124.0 731.4 137.6 771.4 149.4 766.1 130.3 723.8 155.2 774.6 130.4 778.6 163.7 736.0 141.2 692.1 168.0 677.7 152.3 744.6 154.7 593.4 157.9 706.3 150.6 662.1 147.9 759.8 148.8 744.8 136.2 725.4 122.0 735.3 148.4 557.6 138.2 608.4 137.8 651.0 147.2 708.9 125.8 659.2 147.3 572.2 142.9 639.7 145.2 810.5 160.4 661.7 160.0 723.3 146.1 701.6 147.0 642.9 114.9 702.2 147.4 584.8 148.3 792.0 132.1 665.1 170.2 650.8 146.1 617.7 170.8 683.0 134.6 634.1 171.0 681.7 126.3 677.6 115.8 717.6 136.4 626.9 158.0 774.2 108.8 693.0 158.0 613.8 146.9 677.0 149.3 712.7 155.6 578.6 156.7 629.0 142.1 638.8 127.0 692.2 137.7 645.6 155.7 709.1 137.2 799.0 164.8 696.6 135.4 704.9 153.3 720.5 138.8 797.6 132.7 654.2 162.5 600.2 127.0 775.1 152.5 665.5 126.3 761.5 166.3 585.4 138.6 697.6 139.9 637.3 117.8 707.7 160.0 564.9 158.7 729.2 152.9 559.5 161.9 606.5 149.3 808.8 153.6 583.2 117.6 714.5 134.5 590.5 147.8 558.0 144.8 750.9 164.2 583.1 135.6 632.8 146.4 681.1 168.1 649.3 111.6 738.5 117.7 720.3 140.4 797.3 143.5 717.4 124.8 698.3 124.3 753.2 141.1 582.9 123.0 648.5 155.2 595.5 153.7 726.8 113.5 730.4 146.0 611.8 164.1 678.6 128.7 765.8 168.9 734.0 170.3 729.6 160.5 584.6 148.0 643.8 123.0 638.0 147.3 642.2 161.2 724.8 159.5 665.6 162.5 688.8 145.9 704.2 155.4 655.2 164.9 678.8 138.1 791.6 147.6 664.3 137.8 573.5 132.0 652.4 164.3 588.0 123.1 679.0 152.0 732.0 115.5 730.5 126.6 732.2 154.7 591.1 131.3 632.1 138.0 624.1 154.9 744.1 151.0 805.6 149.3 664.9 141.2 642.6 165.5 681.6 124.3 658.5 119.5 686.4 133.8 692.6 114.9 695.6 167.0 711.1 162.8 605.2 109.1 694.9 139.1 703.7 132.1 718.5 154.4 798.0 127.7 669.9 160.9 607.8 160.4 632.4 135.4 705.2 152.8 559.3 134.9 632.6 156.1 699.5 165.3 726.5 156.6 704.6 136.3 771.4 149.9 809.5 154.6 739.5 125.1 770.1 124.8 732.5 156.9 699.8 147.2 609.8 135.4 646.0 145.4 774.2 154.5 572.3 141.9 593.2 153.4 669.2 166.6 673.2 135.8 667.8 157.1 804.4 146.1 574.6 160.1 661.8 110.1 705.2 138.8 789.4 133.1 605.5 144.0 644.5 156.1 612.7 130.5 614.5 162.4 716.6 161.2 681.3 114.3 744.1 165.6 601.0 159.0 635.4 151.7 784.2 147.9 766.9 140.8 707.9 119.8 653.4 128.0 651.7 138.5 740.1 160.2 801.0 152.3 731.0 142.3 766.4 131.2 709.8 151.5 690.1 145.1 755.7 153.7 630.7 167.5 621.8 153.8 565.9 156.2 730.9 152.0 777.4 155.3 714.6 121.4 688.6 165.4 612.0 170.4 696.1 133.0 595.2 149.8 794.3 166.3 715.3 152.1 698.7 153.8 649.2 164.8 604.7 127.6 619.9 147.8 793.6 118.7 720.7 157.1 608.0 112.0 702.2 161.1 788.5 154.6 661.1 135.2 691.9 165.9 629.4 126.0 713.1 144.0 712.6 146.0 724.4 152.2 747.2 111.9 679.8 128.4 780.7 149.3 801.8 122.7 738.3 161.8 677.6 117.7 715.9 155.1 771.3 159.4 742.8 148.0 812.4 132.0 672.6 151.6 751.0 142.8 649.6 115.5 710.8 132.0 734.7 156.6 745.1 138.7 643.7 155.2 799.5 132.5 626.2 139.9 738.3 158.5 704.9 126.9 639.0 162.3 689.3 123.2 729.9 114.1 677.8 171.0 695.4 157.0 645.6 137.3 651.7 141.1 560.7 136.3 676.2 169.1 735.6 140.5 560.6 133.1 760.8 135.8 709.8 165.8 724.1 148.7 556.0 134.4 787.3 160.8 798.6 156.4 792.1 135.0 620.8 138.1 625.1 150.7 580.0 118.8 672.3 146.3 583.6 119.8 664.4 125.1 754.1 131.9 760.0 117.7 689.1 149.2 649.5 131.6 677.8 123.4 703.0 124.8 696.5 154.8 582.9 138.8 740.8 134.8 685.1 147.1 764.8 111.6 684.2 127.1 670.2 149.9 801.2 131.7 692.3 153.6 804.7 136.7 749.2 141.8 653.3 167.2 628.6 143.3 775.0 139.6 702.2 121.3 671.3 169.9 618.7 125.6 762.3 155.4 618.3 161.1 718.7 132.9 719.6 164.1 667.1 165.4 594.8 155.3 700.9 160.7 682.4 145.7 578.4 154.2 714.7 147.2 607.1 112.1 734.8 137.5 725.1 165.1 745.0 112.4 723.5 162.0 579.3 156.3 617.4 156.5 688.3 165.7 674.5 135.2 717.6 149.6 594.2 116.9 681.6 152.0 669.4 144.7 797.7 139.6 694.0 165.6 699.3 150.4 661.8 158.2 776.7 124.6 644.7 164.9 619.0 148.3 722.8 157.3 638.8 114.6 720.4 162.0 706.8 132.6 721.6 154.3 617.9 134.1 636.9 153.9 659.3 165.4 685.8 144.2 626.0 114.9 687.2 137.8 574.4 157.2 577.7 142.4 569.1 171.2 695.8 136.0 621.1 135.4 603.8 140.9 799.4 132.4 720.9 166.8 635.9 159.9 692.0 168.1 674.6 136.4 799.3 144.7 684.0 126.2 751.4 124.4 675.9 156.5 712.9 152.5 747.2 113.7 669.2 147.7 782.6 118.4 738.8 114.7 706.2 124.1 644.3 129.5 709.3 148.9 680.9 126.1 638.1 164.1 582.7 134.9 660.4 149.9 754.9 168.4 632.2 162.6 728.5 134.9 777.2 151.2 639.8 154.8 685.4 153.5 715.6 158.9 590.0 158.6 758.9 142.3 678.1 149.7 652.2 149.3 609.2 150.0 706.5 155.6 685.0 135.8 630.6 155.1 648.9 146.2 755.1 136.5 735.4 161.8 586.7 157.0 575.3 137.3 667.0 159.4 677.5 141.4 552.8 158.9 757.8 147.9 776.4 147.3 743.6 162.5 716.4 127.2 747.1 152.1 605.9 133.8 670.5 137.2 757.9 152.4 783.4 151.7 756.5 158.8 660.8 150.2 727.7 164.5 743.0 136.4 598.6 129.0 615.1 151.6 758.4 120.3 693.2 161.8 646.9 114.1 713.1 117.5 663.4 161.4 636.0 111.7 712.1 156.4 677.8 159.4 670.5 166.8 713.8 142.4 593.1 135.3 667.5 160.7 609.4 126.9 771.4 112.5 694.2 122.1 729.6 146.0 572.0 154.7 658.4 128.5 782.4 157.8 631.4 151.4 580.1 141.2 568.8 149.0 798.8 148.7 557.2 140.8 675.6 136.4 587.7 125.8 670.1 112.6 732.1 167.6 626.5 151.6 673.4 129.0 735.4 137.0 786.6 160.6 684.7 130.2 685.9 162.1 703.2 136.9 727.3 147.4 657.9 135.3 582.3 136.1 788.6 127.6 646.8 146.6 709.0 119.2 669.1 155.0 557.4 113.2 718.9 126.2 727.2 152.4 686.8 162.6 778.3 147.6 779.9 119.4 677.0 128.5 718.5 131.7 762.3 133.0 782.5 155.8 746.7 137.3 622.7 119.1 659.6 167.6 656.9 124.3 717.0 136.0 715.3 137.1 625.0 150.2 613.3 140.0 706.3 140.2 794.7 157.8 630.6 129.7 714.9 110.9 683.9 125.5 691.2 122.1 671.9 158.1 616.4 154.1 681.5 162.4 780.9 154.7 747.9 166.4 699.8 132.5 704.2 124.6 672.3 123.8 647.6 169.3 680.4 161.6 751.4 145.9 634.9 133.1 633.5 148.6 782.0 158.6 627.5 145.4 608.9 150.5 707.3 126.0 747.7 115.6 709.4 153.1 748.2 139.2 786.5 148.3 736.7 137.8 696.5 130.2 677.1 141.4 777.5 127.3 700.5 146.7 726.9 128.0 623.0 138.1 711.9 149.3 582.9 136.6 700.6 139.9 627.3 118.3 656.5 130.5 737.8 148.0 551.7 165.3 668.0 124.5 678.5 139.0 587.2 150.7 745.0 138.5 694.3 157.3 810.0 147.2 558.2 140.3 728.8 129.2 734.9 131.5 716.1 147.3 730.9 167.2 741.4 153.4 740.4 122.8 715.5 147.7 562.8 156.3 608.6 139.5 690.6 154.2 757.2 136.4 702.3 171.5 635.4 153.7 809.9 149.7 695.0 158.5 783.3 117.4 680.3 147.4 738.9 135.3 798.1 129.4 758.5 142.0 730.2 148.8 784.8 153.7 813.8 139.6 682.2 150.1 701.1 128.4 683.9 167.4 622.6 127.1 770.1 123.4 730.2 144.4 793.4 138.5 636.7 124.6 646.4 157.2 806.0 130.7 614.9 126.8 719.6 138.6 578.4 141.5 620.2 114.7 667.3 157.0 695.8 163.9 633.6 165.3 663.1 155.2 769.9 137.8 797.0 166.1 587.2 171.2 699.0 135.3 689.7 137.0 631.7 168.7 677.2 127.7 760.6 123.6 662.7 171.8 717.5 141.5 731.8 151.0 689.9 151.2 639.1 139.5 603.8 162.6 679.3 165.0 705.6 126.6 742.8 167.9 729.4 161.6 709.8 112.1 690.0 119.6 669.0 139.5 762.4 163.4 679.2 164.7 628.0 170.7 635.1 167.8 746.6 150.0 796.8 151.6 556.8 130.2 641.2 141.0 648.9 125.1 659.7 168.6 710.7 156.1 803.4 155.3 753.8 147.3 677.4 154.2 664.1 130.3 659.8 125.8 761.6 139.5 593.0 111.0 672.7 122.1 722.4 131.0 628.2 127.4 713.6 140.2 680.6 151.6 676.6 168.6 667.1 158.7 802.8 147.8 708.7 158.5 742.5 120.4 661.0 152.0 636.7 130.9 666.3 151.3 796.5 152.9 606.5 145.2 723.7 147.0 742.0 126.4 716.6 155.2 634.9 125.0 637.2 170.6 727.5 138.2 701.1 150.0 618.3 145.3 711.2 170.6 717.4 139.8 662.4 138.2 648.6 156.6 704.8 141.7 752.6 143.0 708.4 144.9 577.7 116.4 747.7 160.2 752.4 156.9 652.8 121.8 730.4 152.6 621.4 158.6 708.4 154.8 666.1 145.1 629.4 122.7 697.4 146.9 797.0 146.7 683.9 149.7 719.3 134.1 619.6 151.7 652.8 131.0 735.5 150.0 681.3 160.2 636.1 130.5 753.3 151.5 663.5 142.3 782.9 164.3 599.3 159.7 693.1 167.9 636.6 150.5 723.2 171.4 639.6 151.8 565.4 162.4 586.3 139.9 754.3 130.1 612.9 164.5 733.8 125.0 747.6 165.9 709.6 122.1 714.3 169.2 709.1 148.3 559.2 124.5 682.2 112.7 700.5 151.2 633.5 145.2 691.5 158.5 705.0 148.8 701.6 160.7 572.6 165.2 714.1 162.8 739.5 156.9 742.0 138.1 620.7 137.6 604.0 154.7 652.8 138.3 734.8 125.5 710.1 142.9 664.1 165.2 585.5 166.6 618.3 131.2 776.7 119.8 665.1 151.5 690.3 141.4 616.5 157.4 619.7 167.5 608.8 167.5 676.2 164.6 674.1 142.6 617.4 156.5 647.5 164.6 741.3 125.2 661.2 131.7 706.8 152.1 735.5 158.6 673.0 143.3 711.1 127.7 729.3 160.9 700.1 117.2 751.6 147.7 582.0 161.3 725.4 164.2 746.4 154.8 619.8 135.1 650.8 135.9 766.6 148.4 568.8 121.5 705.5 158.5 610.3 124.0 650.1 137.4 661.9 167.2 713.8 125.8 641.0 140.5 590.3 150.0 785.4 165.5 710.8 132.6 700.5 143.6 594.7 142.6 683.2 120.6 668.2 161.5 723.0 129.1 611.8 148.3 698.6 127.1 676.0 134.0 719.1 164.2 648.9 142.4 701.1 150.7 613.2 117.3 734.0 124.6 681.6 136.9 612.0 155.3 648.5 120.5 760.3 153.2 655.4 171.9 710.7 165.3 729.0 116.4 667.9 153.1 588.2 167.1 725.6 112.1 739.5 153.8 667.4 148.5 801.7 140.0 566.6 153.4 804.1 151.7 664.2 137.6 610.2 156.8 761.7 154.5 664.6 139.4 655.2 137.8 635.9 159.3 583.3 150.9 772.2 148.0 651.1 137.9 697.3 163.0 720.1 164.9 614.7 159.0 654.1 144.9 608.2 165.2 681.7 128.9 696.1 143.0 624.8 152.6 619.2 151.7 715.9 131.6 731.3 132.1 761.6 132.8 773.5 134.6 612.3 164.4 780.9 139.8 582.5 121.5 655.7 146.7 629.0 150.9 621.9 156.6 639.5 163.7 662.9 152.3 753.2 153.0 753.7 127.8 667.5 163.7 593.4 129.7 746.5 137.0 724.3 140.8 645.5 168.9 748.2 158.1 686.1 155.9 753.5 155.8 771.0 127.4 652.4 155.0 627.2 136.0 593.2 167.2 703.6 161.9 681.6 162.8 708.6 157.4 714.4 156.1 692.9 167.2 691.3 110.1 723.1 171.6 718.8 139.5 671.8 148.4 715.7 139.3 795.4 164.8 761.9 154.4 744.4 120.6 681.4 168.8 609.7 160.2 776.2 119.4 724.1 153.4 643.9 146.4 591.0 150.1 761.8 158.1 701.4 144.7 546.6 125.1 658.2 169.3 734.7 144.0 736.3 163.6 721.2 135.3 654.3 149.1 640.8 152.4 621.8 155.7 700.3 145.4 561.6 156.7 627.0 154.2 578.1 143.0 641.3 138.2 625.9 135.5 686.0 111.6 695.8 153.5 779.1 119.4 658.3 168.6 633.0 163.4 641.1 150.6 804.8 147.8 600.5 138.8 635.8 138.7 715.8 140.5 769.8 140.5 599.3 150.9 620.7 121.6 653.3 139.0 554.9 140.6 647.6 137.2 738.7 140.2 657.8 145.2 622.0 151.7 663.0 153.1 642.1 148.9 600.2 139.1 681.9 137.5 757.2 159.9 778.9 146.0 740.1 110.5 706.0 141.9 699.0 141.0 766.2 160.6 783.6 148.7 678.5 155.8 776.0 154.9 737.4 129.3 746.4 148.9 606.5 163.6 676.5 142.0 600.5 161.2 676.8 155.5 778.4 141.2 707.5 137.7 611.6 159.1 800.1 138.1 568.0 136.1 640.3 123.4 760.0 145.2 800.4 120.4 651.0 147.5 759.3 135.4 597.3 132.7 702.8 169.9 725.7 162.0 776.1 135.4 685.7 161.4 745.6 133.6 598.1 154.8 626.7 152.0 724.4 168.0 708.7 138.9 790.1 116.9 708.6 171.2 637.9 134.4 772.5 127.6 618.8 124.3 639.8 137.0 692.6 126.4 694.7 167.8 703.4 153.1 702.2 125.9 655.6 160.8 652.9 137.8 592.3 153.6 661.1 132.7 759.4 149.1 749.7 164.7 686.5 126.4 708.0 166.6 728.8 170.0 658.5 165.3 582.7 157.6 565.6 139.5 582.5 158.4 795.6 164.0 693.3 117.1 744.0 126.2 750.3 139.7 612.0 139.4 664.8 118.0 696.8 142.1 739.2 129.7 715.6 120.7 690.1 123.3 762.9 142.6 609.0 133.5 778.2 155.8 795.1 142.9 638.4 140.1 562.1 151.7 777.5 149.4 767.9 126.7 701.1 140.8 594.7 171.0 717.2 148.1 717.8 164.2 633.2 125.8 703.4 121.0 738.9 138.5 601.3 144.9 798.4 159.0 780.2 144.3 767.1 129.1 647.6 165.8 617.4 147.9 702.6 111.3 702.3 159.0 791.3 134.8 794.0 151.6 769.7 136.7 708.1 160.8 607.7 119.7 753.9 164.1 608.8 143.0 686.1 127.9 778.7 126.1 761.1 134.4 586.4 124.3 743.4 169.0 672.1 149.1 633.3 119.5 666.6 153.5 640.3 143.9 598.0 143.8 557.6 144.9 676.8 133.4 752.7 145.0 741.9 136.4 656.4 154.3 596.0 129.9 612.3 128.0 749.3 138.0 751.4 114.8 712.6 160.0 625.8 157.2 756.3 166.6 625.7 160.5 669.0 152.6 753.3 161.5 598.2 154.7 800.9 158.5 690.1 140.4 792.5 164.0 685.2 116.4 715.0 144.4 684.5 149.2 772.5 168.7 631.7 169.1 635.0 130.3 754.7 170.5 686.0 158.9 774.0 128.2 716.4 144.2 661.8 158.8 668.5 156.7 723.1 139.7 549.1 125.8 764.0 168.0 735.9 132.5 752.0 150.8 705.6 158.3 698.6 142.4 617.3 157.8 575.5 114.1 719.7 120.3 674.9 124.6 679.0 147.4 600.3 161.3 705.8 115.4 722.7 151.0 738.9 148.4 627.1 146.7 750.1 170.7 657.3 144.8 637.0 164.3 607.4 114.4 684.8 136.4 703.3 142.2 653.3 155.8 556.6 124.4 671.1 170.3 710.6 170.6 676.3 163.6 778.9 167.2 672.8 140.5 555.6 145.2 712.4 133.6 651.3 154.0 739.1 124.4 714.6 152.3 763.7 147.3 632.9 166.6 660.4 153.3 564.9 169.8 640.2 150.3 677.1 117.1 685.9 139.9 601.6 165.6 750.2 118.6 717.5 146.3 805.0 117.8 753.2 147.4 723.2 154.9 719.3 143.0 689.0 152.1 660.5 136.9 779.5 132.7 746.9 159.5 775.6 123.0 713.7 137.9 708.0 123.7 762.4 158.1 651.7 146.8 667.6 142.4 619.6 164.6 579.5 136.4 722.7 146.6 712.8 166.0 588.4 163.1 617.8 141.0 767.5 120.1 650.7 144.7 709.1 152.6 685.7 158.8 565.7 151.8 717.8 124.5 718.5 142.2 770.5 119.0 717.2 170.5 645.3 156.5 662.5 140.7 615.5 168.5 604.4 163.3 572.8 171.1 726.2 145.1 702.6 117.1 692.3 152.8 596.6 165.0 753.6 151.6 789.3 161.5 707.8 131.2 612.3 135.5 579.4 135.1 716.4 160.9 801.7 163.8 749.7 164.1 637.7 146.9 637.3 167.2 619.9 129.7 750.9 144.6 605.2 121.3 686.8 161.6 680.1 138.5 591.3 167.9 712.0 150.7 654.6 153.5 650.6 156.8 784.4 140.9 728.1 167.8 725.4 163.8 753.2 144.5 709.5 133.5 712.1 136.3 788.5 155.2 649.3 148.9 605.1 168.4 590.2 166.3 694.0 120.7 733.2 158.6 791.7 165.1 731.8 149.1 589.4 148.9 553.1 128.2 690.3 138.3 660.1 149.3 643.9 150.9 751.3 148.1 711.6 131.4 690.3 166.8 708.1 139.3 701.1 155.1 663.8 141.2 648.3 152.9 609.8 146.9 603.6 137.3 788.7 165.0 772.8 124.7 773.2 126.0 707.6 142.2 610.3 142.6 618.7 159.0 610.9 158.0 598.0 164.4 721.3 124.2 685.6 129.2 728.8 67.4 661.4 99.8 666.1 181.9 669.2 75.1 658.4 63.5 665.2 150.0 669.4 193.8 664.5 64.8 658.5 148.0 669.3 48.3 657.9 84.7 663.8 185.3 671.0 92.5 662.9 155.9 673.6 55.1 666.8 61.8 661.7 100.9 669.0 204.8 668.2 115.9 674.9 199.1 663.8 122.6 665.4 62.4 667.9 162.6 664.5 141.4 673.2 147.6 668.8 190.7 669.7 120.5 674.1 190.1 667.8 173.9 661.9 92.2 658.5 65.0 657.3 133.8 672.2 207.8 663.8 63.6 665.3 89.2 668.0 168.4 666.1 184.8 665.8 108.3 671.3 112.9 663.4 160.2 667.8 103.1 659.6 141.3 669.5 58.6 667.8 174.8 667.7 207.5 669.0 115.3 674.1 138.7 665.7 76.1 667.2 122.5 669.0 175.4 671.0 139.7 668.3 77.2 662.4 131.0 660.4 58.6 660.7 113.3 670.5 207.7 671.9 192.3 674.7 129.5 667.4 183.0 661.9 199.7 663.6 188.6 674.1 113.0 665.5 92.3 669.1 147.2 671.9 47.9 665.1 148.2 662.5 64.1 661.0 123.3 672.3 144.5 667.5 171.6 666.9 135.9 673.2 135.0 667.1 200.4 663.8 186.7 670.2 79.7 659.7 176.3 674.7 58.7 657.2 166.5 674.7 124.6 663.4 192.7 667.7 207.4 668.8 192.3 670.1 67.9 668.8 89.5 663.8 122.1 669.3 162.3 672.0 195.5 669.9 86.2 670.5 201.2 663.4 138.3 662.3 149.8 723.3 152.8 715.7 145.3 743.2 90.1 721.7 137.8 723.0 115.1 730.1 227.3 711.0 134.9 744.2 50.2 732.7 119.9 725.2 188.1 715.2 62.6 730.6 237.6 723.2 227.7 725.5 179.1 731.5 195.7 731.0 180.3 733.5 97.9 740.3 165.8 725.1 170.0 718.8 95.6 741.6 90.3 719.3 162.4 724.9 195.6 710.5 133.5 723.7 148.0 742.2 228.2 721.0 147.3 713.8 208.5 710.5 190.4 739.7 133.7 718.2 224.2 709.0 195.3 717.7 222.5 715.3 215.6 739.1 159.5 717.3 180.9 715.7 159.4 733.9 81.7 718.0 185.7 732.6 124.0 719.0 218.0 725.0 134.4 718.6 54.0 730.2 218.9 721.3 135.7 740.2 231.4 743.4 191.8 712.3 118.8 718.6 202.3 736.4 205.5 711.1 114.6 728.8 131.2 733.7 222.8 732.8 116.9 732.7 90.1 735.8 201.8 728.7 192.9 732.7 196.2 741.1 194.3 741.4 186.4 710.6 218.4 733.6 91.1 718.7 179.2 730.0 160.7 739.1 110.5 739.2 233.4 739.0 133.0 714.8 145.1 720.9 152.8 736.6 121.1 740.5 144.4 743.3 113.5 718.0 80.7 736.6 162.5 743.0 144.3 735.6 238.0 707.8 232.1 744.8 62.2 721.8 200.7 743.8 152.7 741.3 130.6 734.8 63.1 731.2 90.0 733.9 135.4 714.2 132.2 713.8 118.5 729.4 190.5 724.3 131.2 716.5 165.6 734.6 183.6 715.7 193.8 727.2 67.6 718.7 227.1 738.4 173.9 744.9 238.7 736.4 215.9 725.0 219.8 716.4 229.2 744.3 205.7 743.4 179.5 732.2 71.2 734.0 203.0 740.0 190.6 716.1 164.4 724.6 216.6 728.9 127.9 733.7 198.1 730.4 120.4 731.6 195.2 728.6 66.9 763.6 99.3 636.3 96.7 720.1 104.9 804.2 90.9 781.2 69.4 770.3 95.0 772.2 82.6 674.6 79.0 661.7 93.1 758.9 91.0 779.6 74.4 745.2 99.9 749.7 68.8 684.3 75.5 689.4 94.2 701.7 81.5 652.5 61.3 644.3 89.9 707.8 61.9 694.8 89.4 661.3 78.7 676.5 89.5 773.5 100.8 632.6 84.6 709.1 103.2 678.1 84.0 781.9 95.4 642.8 90.7 705.2 104.9 730.2 104.0 681.8 90.7 701.9 60.2 755.1 85.7 691.8 75.8 709.1 109.5 779.5 84.5 668.8 102.0 666.3 60.3 720.9 85.7 637.7 83.3 713.3 92.7 701.6 99.9 677.6 87.2 638.5 91.5 703.7 106.6 726.2 79.5 735.6 96.3 706.2 86.4 639.4 75.4 643.8 84.9 721.6 70.6 698.6 103.4 689.2 109.5 768.7 85.5 688.2 95.1 787.5 99.5 715.4 103.7 671.3 62.1 661.5 93.8 758.3 105.6 642.0 97.3 714.5 78.4 687.2 95.5 705.6 62.5 710.2 96.3 739.2 108.2 798.2 104.7 732.4 85.8 761.9 91.7 663.1 87.4 716.7 84.7 722.8 85.4 745.1 75.6 659.2 109.8 772.9 99.2 692.8 74.2 667.2 60.9 677.3 105.5 814.5 62.6 733.9 108.5 680.1 89.2 794.6 91.7 694.9 67.8 659.4 64.6 745.4 98.8 647.5 72.2 741.8 89.1 646.8 76.9 757.3 71.9 654.9 62.9 651.8 104.7 705.1 97.0 786.7 108.7 672.3 95.0 800.4 97.3 638.1 101.7 776.1 89.9 637.8 87.7 743.6 80.4 656.4 89.3 680.2 70.7 670.1 99.4 648.8 71.8 656.4 93.3 758.7 81.4 659.3 90.1 641.5 91.9 788.4 68.4 713.6 84.0 770.2 221.1 685.2 203.3 713.7 194.5 671.6 183.2 798.2 223.7 714.8 204.1 708.1 174.3 723.3 189.2 787.2 214.9 685.0 228.9 733.3 215.2 757.9 221.6 674.6 231.0 758.8 223.6 759.0 187.9 797.0 191.3 689.1 219.5 663.8 191.6 726.8 172.6 694.0 210.5 788.2 186.0 779.5 186.9 680.3 216.7 679.2 172.8 752.2 176.4 742.3 179.0 721.0 233.1 706.9 185.9 782.6 234.4 715.9 222.2 679.1 173.3 676.0 212.6 765.5 181.8 662.6 192.2 681.6 195.9 759.9 196.8 759.1 197.4 727.4 185.6 672.7 195.9 776.6 233.4 713.1 195.9 692.4 210.5 713.5 196.5 730.3 203.6 793.5 184.5 768.6 191.3 702.8 174.8 680.0 193.7 682.3 215.1 659.5 192.8 726.9 208.2 733.8 183.8 681.7 183.5 653.7 199.4 794.1 212.4 784.3 174.9 643.5 229.1 714.7 179.3 763.8 172.1 671.0 222.5 758.8 206.9 737.5 212.5 681.6 195.9 739.5 187.9 766.4 234.3 740.4 183.2 685.4 212.0 711.4 198.5 700.0 179.7 797.9 188.8 749.2 171.1 814.8 160.6 843.4 160.4 832.7 131.5 815.9 137.3 830.0 145.5 812.4 140.3 853.1 186.1 809.8 125.9 813.8 162.3 842.1 124.7 831.6 164.7 843.4 168.2 845.4 117.4 807.8 171.6 826.8 170.2 843.6 175.6 842.7 146.1 854.1 167.0 828.9 180.1 820.6 139.3 835.6 134.7 806.2 165.3 828.6 150.6 821.4 141.2 834.8 123.5 828.7 122.5 830.6 152.2 824.7 136.8 848.0 130.0 831.6 145.7 841.0 152.3 846.9 185.4 814.1 152.7 828.4 148.9 838.2 126.3 816.8 130.9 826.1 136.7 817.9 190.4 837.1 136.8 805.8 163.9 836.1 158.5 802.7 161.5 847.8 158.1 840.1 140.1 822.8 132.1 845.8 173.3 832.4 153.4 817.6 158.0 818.5 178.2 858.0 159.7 843.3 127.5 859.4 148.4 852.3 169.3 810.3 169.2 851.7 126.0 835.6 183.9 845.8 164.2 829.5 129.3 816.5 157.9 818.2 169.7 814.9 163.0 812.6 168.3 853.1 185.7 825.2 188.8 808.4 143.4 817.1 143.1 803.3 140.6 835.8 173.8 826.7 188.5 840.5 44.9 655.2 47.3 660.9 51.3 660.3 53.5 659.3 57.7 661.9 60.9 663.7 65.0 665.1 65.0 665.4 68.9 669.1 73.2 669.7 74.6 673.3 75.3 673.6 79.6 676.3 85.4 679.9 86.7 679.3 89.2 685.9 89.4 686.1 95.4 688.8 97.1 688.9 80.4 660.8 83.1 665.0 88.5 661.7 86.7 663.4 94.9 664.6 95.7 665.7 97.0 666.3 101.6 666.9 105.6 665.4 105.9 668.1 109.4 665.7 113.5 668.9 69.6 796.7 70.8 798.7 72.4 800.3 77.9 802.5 78.2 806.4 82.2 804.9 84.7 807.3 87.6 806.3 90.9 810.6 93.6 812.9 119.2 667.9 125.3 669.3 124.6 666.8 129.0 668.2 133.2 668.6 136.4 669.0 139.5 669.6 141.0 667.7 141.2 669.6 144.8 669.9 150.3 668.4 154.4 669.0 157.7 672.3 159.2 671.0 161.6 667.8 163.1 669.3 168.5 668.8 171.3 669.9 175.6 670.1 179.7 669.8 180.6 671.5 184.4 669.3 187.4 670.6 190.4 672.0 191.0 671.3 195.6 672.0 197.7 671.9 203.6 668.6 204.0 671.9 50.0 728.1 53.9 727.9 56.3 728.8 60.5 725.3 63.5 725.9 68.5 726.7 68.6 728.0 75.5 726.2 74.5 727.2 78.3 725.9 82.1 726.0 84.8 724.3 85.1 726.3 90.7 727.4 94.0 727.4 95.6 724.0 100.4 723.7 101.8 723.9 107.6 725.6 110.5 727.8 113.8 727.0 116.4 730.6 118.5 729.0 122.5 731.6 124.7 731.4 129.3 729.7 131.6 732.5 134.3 733.3 137.0 733.1 136.7 734.8 142.9 733.6 145.9 733.3 148.6 734.2 152.4 734.0 155.9 733.8 157.4 731.6 161.8 733.9 161.3 732.8 167.1 733.4 169.6 733.1 175.6 731.4 177.8 732.3 178.6 732.2 182.5 730.7 185.9 731.3 188.3 730.3 192.6 730.7 194.9 728.5 197.1 728.4 201.5 731.9 203.5 728.8 207.0 725.8 207.3 728.0 209.9 722.7 211.7 721.0 215.6 719.3 216.9 717.7 219.8 715.6 223.8 716.4 224.2 712.1 228.3 711.1 229.6 708.6 233.5 706.8 237.6 703.9 239.3 704.2 58.4 700.6 63.4 699.3 67.2 697.9 68.1 699.5 72.3 698.0 76.0 696.9 79.5 696.2 81.5 694.4 85.7 694.6 88.6 695.0 91.0 693.8 93.2 693.8 96.3 690.8 101.1 691.2 105.6 688.5 107.8 690.2 109.8 689.2 180.9 688.8 183.0 690.9 187.0 690.2 191.3 692.3 192.9 690.5 195.9 688.3 199.4 690.6 202.8 690.9 206.2 692.5 209.4 690.5 211.9 691.7 216.7 691.1 120.7 824.7 124.1 826.2 126.8 826.9 127.7 822.9 132.5 827.0 137.4 825.3 138.8 828.2 140.1 826.4 144.2 827.7 150.4 825.3 150.0 824.3 154.8 825.5 156.9 826.0 160.2 824.1 160.4 822.6 163.9 818.8 167.6 817.1 167.5 814.3 174.3 799.5 178.2 799.8 183.8 796.3 184.3 794.5 189.4 793.4 189.5 792.3 191.5 793.1 192.8 789.5 196.9 788.3 197.9 784.5 201.3 782.8 205.9 783.2 209.9 780.8 208.6 779.8 190.4 654.4 195.1 654.7 195.4 653.5 197.4 652.2 200.9 654.5 204.1 655.9 207.2 654.0 211.9 656.4 216.6 652.8 217.0 653.3 221.4 652.9 222.6 651.3 227.6 651.8 232.3 650.7 70.6 758.3 72.9 762.4 76.6 760.9 80.0 760.9 81.8 763.2 84.8 764.8 88.3 766.4 91.5 768.1 94.3 769.1 96.3 769.3 101.3 773.2" fill="none" clip-path="url(#kc)" style="marker:url(#t40)"/>
<path d="M147.1 576.2 146.5 579.8 146.7 579.8 146.9 579.6 148.8 582.1 147.9 582.7 148.6 583.5 148.6 584.4 146.9 586.1 147.9 587.3 147.8 587.2 149.0 588.9 149.4 589.0 149.1 591.5 148.2 591.5 149.6 590.9 148.0 592.7 148.4 595.2 148.3 594.4 149.1 596.4 150.9 597.9 149.1 598.4 149.6 600.3 156.2 574.5 156.8 576.5 156.3 578.0 157.8 577.4 157.2 578.6 157.6 581.3 159.0 582.3 157.6 581.9 159.0 583.2 158.8 584.2 159.3 586.6 158.1 586.3 160.1 588.2 159.9 588.9 160.4 588.8 159.9 591.2 162.4 592.0 160.9 592.4 161.6 593.6 163.2 595.3 162.4 595.9 147.5 627.5 147.0 626.4 148.3 628.6 147.1 629.7 147.6 629.6 148.2 630.7 147.9 634.1 148.6 633.7 147.7 634.8 147.7 635.0 149.8 635.9 148.8 637.6 147.8 637.4 148.6 640.2 150.5 640.4 147.9 642.5 149.9 642.3 147.3 644.5 148.0 644.0 149.3 645.4 149.4 646.8 148.9 649.7 149.2 647.9 155.3 630.4 155.6 631.9 157.8 632.2 158.0 634.1 158.0 634.4 157.8 635.8 157.2 636.4 157.1 637.2 157.6 638.9 158.0 638.9 158.7 640.3 159.4 642.5 160.2 642.2 161.0 643.5 162.0 643.6 127.5 632.0 129.6 632.0 131.0 632.7 129.8 632.9 131.0 633.2 131.8 633.8 134.0 634.0 134.8 633.2 134.7 634.7 135.5 635.5 110.2 682.2 113.1 683.0 112.9 682.5 116.3 683.3 116.2 682.4 117.3 682.4 118.1 682.7 120.9 684.3 119.5 683.9 120.7 684.7 115.0 664.5 115.0 666.9 117.8 668.2 116.7 666.9 117.7 667.9 118.4 666.4 120.3 666.5 121.8 666.5 121.9 667.4 122.9 668.4 125.4 666.8 124.9 667.0 126.4 668.4 128.1 668.9 113.4 721.8 115.2 721.0 114.3 721.9 115.3 721.0 114.1 723.5 116.0 725.1 115.4 723.7 116.3 725.0 116.6 729.0 116.7 728.6 115.2 728.9 116.0 729.4 116.8 730.5 117.8 732.4 116.3 732.6 116.8 734.8 118.6 734.3 117.3 736.3 119.0 737.7 128.2 723.7 126.4 725.1 128.0 726.7 128.2 727.8 127.0 727.7 128.7 728.0 130.0 729.6 128.9 731.0 130.2 731.7 129.3 732.2 130.7 734.2 130.7 735.0 129.3 735.5 130.2 737.5 131.0 737.9 131.7 737.3 131.0 738.3 138.1 710.6 139.5 712.4 139.3 712.4 139.7 711.8 139.0 713.5 139.5 715.6 142.3 716.6 141.8 716.0 143.0 718.0 144.1 719.8 151.3 714.8 149.8 715.8 149.3 715.3 150.0 718.9 150.0 718.4 151.3 719.6 152.0 721.9 151.7 720.7 152.3 722.2 152.3 723.8 153.0 723.9 152.2 724.9 152.6 726.2 154.6 728.3 153.2 728.6 171.4 723.8 172.5 723.5 173.2 725.0 175.7 725.1 174.7 723.8 174.8 725.6 176.5 726.2 178.6 725.3 178.6 726.3 182.2 727.2 182.0 725.6 183.9 727.2 184.3 728.6 184.0 727.7 185.1 727.7 186.2 727.8 187.1 728.3 188.8 729.6 187.9 728.3 190.6 730.1 191.7 728.5 192.5 728.9 193.1 729.3 192.6 730.7 74.3 745.5 74.6 748.2 75.6 747.9 77.0 746.1 77.2 749.1 76.8 749.6 77.9 749.6 78.9 751.2 79.5 752.6 81.7 752.6 80.8 752.5 81.4 753.3 83.4 755.3 78.9 729.1 78.4 730.8 79.5 730.4 79.5 730.9 80.4 732.3 79.4 733.6 79.4 733.3 81.4 734.7 80.4 736.1 81.8 737.8 82.1 737.3 82.2 739.0 79.6 741.7 82.4 740.3 83.5 741.5 93.0 746.3 96.2 746.5 94.1 749.3 94.6 747.6 96.1 750.2 96.7 747.5 98.4 749.9 99.5 752.2 100.3 753.7 101.2 752.7 101.1 754.6 100.0 753.7 101.8 755.2 102.2 756.4 103.7 757.0 102.1 757.0 104.3 759.4 104.2 758.9 105.2 759.5 105.0 760.6 104.9 763.4 107.4 762.1 106.7 763.1 108.4 764.8 108.1 765.6 110.2 765.0 109.4 766.7 111.6 767.6 111.7 767.1 113.6 769.9 113.9 768.8 113.4 769.9 114.0 772.2 114.4 772.4 115.7 774.2 116.1 773.6 116.8 775.1 117.6 774.6 117.5 777.3 118.3 776.0 128.3 749.6 129.4 749.8 130.1 750.7 133.4 749.3 132.2 748.4 135.0 749.8 134.9 750.0 136.6 747.8 136.2 748.1 137.7 749.3 139.6 747.3 140.5 747.8 140.5 746.9 142.3 747.2 142.3 747.2 144.0 745.2 145.8 747.2 146.3 746.5 147.2 746.5 147.6 745.4 149.8 746.3 144.6 777.6 144.2 778.1 145.4 779.1 147.2 780.5 146.7 782.7 145.8 782.1 146.2 782.8 146.7 785.0 146.7 785.1 146.9 785.4 148.0 786.7 148.0 788.4 148.5 787.3 148.4 789.3 147.6 791.4 146.8 791.5 149.1 791.8 150.8 795.9 150.9 794.7 149.7 794.4 151.1 796.2 149.3 797.2 150.2 798.5 150.4 799.4 151.1 800.4 150.9 802.9 151.6 803.0 149.7 803.7 101.0 772.5 101.3 773.7 101.2 773.5 101.5 774.8 99.7 777.3 100.1 778.8 100.9 778.5 102.2 779.9 100.2 782.7 102.3 782.1 101.5 782.1 101.3 783.1 101.8 785.1 100.8 785.2 101.2 786.6 102.4 788.2 102.6 788.3 101.8 789.6 102.2 791.2 102.9 791.9 102.0 793.2 100.5 794.8 102.5 795.1 101.7 796.6 102.6 797.3 102.4 797.3 104.6 797.8 175.0 811.5 176.2 813.1 175.4 813.6 177.0 814.3 176.9 814.9 177.5 816.8 179.1 818.2 178.3 819.7 178.8 820.8 178.7 821.9 177.8 823.1 178.5 823.6 180.7 824.2 178.3 826.0 179.7 826.3 178.6 826.9 180.5 827.9 181.7 827.6 179.7 830.9 181.7 831.7 181.3 830.6 180.6 832.6 181.9 834.7 181.5 834.9 181.1 837.4 180.7 835.9 183.1 838.6 182.7 840.1 184.0 839.7 184.4 840.6 183.7 843.4 183.0 841.9 184.2 843.7 184.2 843.3 185.4 845.9 183.7 846.8 184.6 848.2 183.5 848.5 185.3 849.7 184.9 850.4 186.9 850.9 185.5 853.2 187.1 853.9 187.2 855.9 185.8 855.7 187.4 856.9 202.8 728.7 204.1 728.3 203.6 727.1 204.6 727.4 207.2 726.8 207.3 725.9 207.4 724.1 211.4 724.8 210.0 725.3 211.5 724.4 211.7 723.0 214.4 723.7 214.7 722.0 214.5 722.9 216.6 722.2 218.5 721.5 218.6 722.5 219.3 720.8 219.4 720.6 221.2 718.6 221.7 718.3 221.4 717.6 223.8 717.5 224.5 718.1 224.4 718.1 226.2 716.9 226.2 717.1 227.1 715.5 227.0 716.4 230.2 716.6 229.0 713.7 232.1 712.7 232.0 712.2 232.3 712.8 231.6 711.2 232.5 708.6 234.2 709.7 234.4 709.5 234.9 708.0 235.8 707.6 235.6 706.1 236.9 705.4 237.2 704.0 238.2 703.4 235.3 702.8 236.5 705.3 235.6 703.5 235.2 706.3 238.8 705.7 238.9 705.6 239.9 709.5 240.4 710.1 240.3 710.8 255.6 675.4 254.3 675.7 255.7 677.5 256.4 677.5 256.6 679.3 256.0 678.2 256.4 680.2 256.6 680.9 258.3 683.2 259.2 687.0 257.2 684.6 259.0 685.3 257.2 687.9 259.1 690.0 255.4 771.5 256.4 775.0 258.0 774.3 256.5 776.0 257.1 776.8 256.9 778.5 259.2 778.7 113.4 676.7 112.5 676.5 112.9 677.9 113.2 677.9 115.0 679.1 113.6 681.3 113.2 681.0 114.0 682.3 113.1 684.8 113.9 684.6 115.6 686.8 114.3 688.8 115.5 687.3 115.3 689.2 114.2 689.7 116.3 691.5 115.2 692.6 115.3 692.5 116.0 693.5 116.3 694.1 115.7 695.4 118.6 695.7 118.3 698.1 153.4 671.8 154.7 673.9 154.0 674.5 155.4 674.8 154.7 676.2 154.8 677.7 154.8 678.5 155.1 680.0 154.6 680.5 154.8 680.5 154.8 682.6 154.6 683.4 154.4 686.3 156.6 684.1 156.5 687.0 155.1 686.5 155.0 689.1 156.4 689.7 158.3 690.5 155.6 692.8 72.3 632.1 72.4 630.9 74.1 631.6 75.1 633.4 75.6 632.7 76.2 632.9 111.8 645.4 113.6 645.0 114.7 645.5 116.3 646.2 116.9 647.4 118.6 646.7 118.2 647.8 118.9 646.6 120.8 648.6 121.7 647.4 123.3 648.5 123.6 649.9 123.5 646.4 124.9 650.1 126.6 648.9 72.0 731.5 73.0 729.8 72.6 729.3 74.4 728.6 73.8 727.8 76.0 727.0 75.1 725.4 77.1 725.0 78.1 724.0 77.7 725.2 78.0 723.3 79.3 722.2 81.2 720.8 81.9 722.7 82.4 721.5 82.7 719.9 84.0 719.3 84.9 717.9 83.2 717.6 84.6 718.9 86.5 715.7 85.8 716.2 88.6 715.4 88.1 715.6 90.6 713.3 91.2 714.5 92.5 712.3 91.4 713.1 93.4 711.8 93.2 709.5 93.7 710.6 94.2 708.5 95.5 708.9 98.2 707.1 97.5 707.4 96.5 705.8 96.7 704.4 80.5 735.7 81.7 737.2 81.3 737.6 81.8 737.8 80.8 740.4 81.7 740.6 83.2 739.9 81.3 743.0 81.2 742.1 82.1 743.6 82.4 744.6 82.8 745.7 83.2 747.9 83.3 747.3 82.8 749.3 83.1 749.4 83.4 751.1 83.7 752.5 84.3 753.4 84.5 753.2 74.4 750.3 73.3 750.3 75.1 749.2 76.1 750.3 76.5 747.9 76.5 748.7 79.0 747.9" fill="none" clip-path="url(#kc)" style="marker:url(#w80)"/>
<path d="M444.7 711.1 445.0 713.8 444.3 716.4 445.6 719.4 446.4 722.4 446.9 724.7 447.3 727.5 448.3 729.9 448.7 732.4 449.2 736.2 449.7 738.2 450.8 743.1 452.3 747.3 453.0 751.7 455.6 754.0 457.3 756.4 457.8 760.0 459.6 763.7 429.8 718.7 431.4 724.4 431.0 730.1 432.6 734.9 432.5 741.2 435.0 745.1 436.2 752.1 438.5 760.4 439.8 766.9 442.9 772.2 445.6 777.1 448.5 782.0 450.8 788.1 457.8 790.4 460.1 790.8 463.2 791.5 466.8 792.2 470.1 793.1 474.1 795.0 475.7 799.5 477.5 802.1 478.5 805.1 480.8 808.6 481.9 811.0 485.0 813.9 487.5 818.1 465.2 827.8 467.6 829.9 471.9 833.4 472.5 834.8 476.3 836.7 480.1 839.6 464.0 776.5 467.0 783.5 465.8 806.8 466.0 807.0 477.9 801.8 479.2 804.6 482.5 811.0 485.2 813.7 486.5 818.3 488.0 818.0 481.9 826.0 488.9 825.6 495.6 827.1 499.9 831.1 504.4 833.9 507.2 834.8 509.0 835.7 510.8 836.6 516.3 837.2 492.9 833.9 495.8 838.1 486.5 843.6 499.9 846.2 493.1 850.4 496.2 853.5 510.3 853.1 505.0 858.2 507.7 859.5 506.3 864.5 511.8 861.9 515.1 863.2 516.5 864.5 516.9 867.8 537.4 875.1 540.2 891.6 540.2 894.3" fill="none" clip-path="url(#kd)" style="marker:url(#r50)"/>
<path d="M462.9 789.5 459.9 790.5 465.9 790.6 464.8 791.4 461.5 792.6 461.6 792.2 464.2 789.8 463.2 790.5 461.7 790.9 462.2 791.4 464.7 791.0 462.6 791.7 523.8 880.2 522.2 876.8 522.1 881.8 521.8 882.8 520.9 879.6 521.0 879.3 521.3 875.3 521.6 877.8 524.4 882.8 522.0 875.8 524.4 877.7 521.6 879.0 521.5 878.1 521.8 879.4 523.8 877.3 524.5 882.0 522.7 877.0 521.5 879.9 523.9 882.9 525.2 878.9 520.6 876.5 525.1 879.3 520.4 876.6 523.7 876.8 523.1 881.0 528.1 911.7 518.1 919.4 533.6 903.5 532.3 907.5 523.3 897.4 540.1 917.3 522.8 896.0 528.6 919.7 535.9 912.4 539.6 901.2 529.3 919.4 521.0 895.0 532.3 911.6 527.4 909.3 528.8 901.8 531.6 914.1 534.5 917.1 540.4 904.7 529.0 904.1 520.5 917.8 527.6 896.7 540.5 916.8 534.0 905.3 521.8 908.6 530.3 916.4 522.7 908.0 526.8 895.6 536.1 913.3 534.0 918.1 535.4 902.8 527.1 908.6 521.9 904.6 521.0 900.0 521.4 907.4 530.9 900.4 522.8 910.4 531.0 891.8 527.2 898.6 537.8 913.8 521.6 909.4 540.8 903.3 536.2 912.3 539.8 918.1 532.2 893.2 518.2 907.0 530.7 901.6 533.4 914.2 522.2 906.7 536.5 912.8 525.7 906.3 531.5 907.8 520.7 902.1 522.5 914.6 541.6 912.4 529.3 892.0 529.5 906.7 530.5 892.6 527.2 912.8 526.7 908.0 534.8 903.1 521.8 919.1 534.2 910.0 520.8 918.9 527.4 899.7 540.4 902.3 532.3 907.2 518.5 917.4 532.9 903.9 534.1 905.4 520.9 904.4 526.5 905.7 539.4 915.9 540.7 902.1 519.4 910.1 517.1 910.6 528.7 916.9 530.9 893.8 527.0 916.9 519.4 916.7 535.5 900.7 533.7 901.5 529.9 895.3 526.5 913.6 535.4 917.8 536.9 917.6 531.4 890.9 521.3 906.4 533.1 902.5 532.7 909.5 534.6 895.3 537.7 902.0 517.5 913.6 533.2 897.6 536.3 907.8 520.7 910.8 521.8 911.7 535.0 911.3 527.0 899.3 523.4 911.1 531.2 898.4 525.8 915.0 530.7 893.1 528.7 915.8 519.1 913.1 521.4 901.2 533.3 912.0 522.0 907.5 521.3 898.5 520.5 919.9 526.0 916.0 521.1 894.8 529.0 914.2 524.8 905.6 531.9 905.1 520.5 901.1 531.7 915.4 523.4 911.7 521.3 893.9 520.5 909.9 522.2 911.4 531.9 916.9 520.5 912.5 526.5 915.8 538.7 899.1 522.2 915.8 524.3 898.3 519.9 911.8 527.0 898.5 530.9 913.1 533.5 892.1 530.3 890.6 540.8 916.1 529.0 912.0 538.0 898.3 534.5 915.6 524.7 904.1 537.7 919.7 534.8 917.3 532.6 891.2 532.8 909.1 522.9 899.0 535.8 900.4 523.6 917.3 518.4 916.6 522.8 894.9 537.9 915.0 521.9 906.4 540.4 914.9 533.5 904.2 529.6 906.8 531.7 900.9 528.0 906.0 524.5 899.4 530.8 910.8 528.9 891.0 529.3 890.1 538.8 899.4 524.8 914.7 527.5 904.5 522.4 912.6 532.9 893.3 536.6 914.2 527.6 893.5 530.7 904.6 529.0 905.3 519.2 909.0 531.7 912.1 528.7 898.7 523.0 890.2 534.7 900.7 531.1 917.3 522.0 919.8 535.9 900.4 525.7 902.1 525.4 919.3 530.7 907.3 529.7 897.8 527.9 902.1 519.8 914.3 537.0 903.9 536.9 904.6 530.1 905.3 535.2 897.1 533.0 916.2 529.9 912.0 529.9 898.7 525.4 909.4 537.6 899.5 524.4 897.7 532.1 897.4 534.7 903.8 525.6 892.6 528.9 900.0 519.6 919.1 527.4 911.4 540.0 919.6 536.4 901.4 535.7 897.2 534.0 919.2 518.4 907.9 527.4 896.1 537.5 919.0 533.5 896.8 521.4 900.7 518.0 909.3 535.2 917.0 536.3 912.2 538.3 916.6 532.0 911.8 536.3 902.2 536.0 913.1 539.1 918.1 539.3 910.3 529.2 917.6 522.2 915.3 518.5 918.3 540.9 910.9 523.6 916.3 539.4 912.8 527.4 892.0 532.5 915.6 530.9 904.7 527.0 892.8 531.2 891.3 521.0 903.6 538.3 902.0 527.0 905.8 535.2 918.2 541.4 911.6 519.1 911.5 539.2 915.6 537.7 908.8 541.3 904.3 538.6 901.5 525.7 914.9 530.1 895.6 520.6 900.4 533.7 892.4 529.2 914.4 519.5 908.2 517.3 912.0 526.4 897.7 528.5 917.3 536.5 906.3 529.9 891.5 535.8 919.4 527.4 902.1 531.4 917.8 539.9 900.6 530.7 893.9 538.7 910.7 518.3 905.6 540.7 902.7 532.4 897.2 536.6 918.8 532.6 916.2 524.5 906.3 537.6 914.9 539.0 909.7 518.7 913.8 532.8 894.3 536.3 913.6 525.7 907.3 523.8 919.5 536.7 919.6 532.3 907.2 522.3 905.1 526.2 913.8 523.6 891.6 529.1 917.0" fill="none" clip-path="url(#kd)" style="marker:url(#r80)"/>
<path d="M435.3 646.7 372.0 708.3 520.2 610.1 453.1 677.1 353.0 647.4 482.2 656.5 486.4 619.6 391.4 613.9 443.7 715.5 460.1 696.8 419.8 693.3 364.8 636.4 476.5 690.7 427.2 611.0 397.0 626.2 399.8 701.2 383.9 710.8 516.5 606.8 418.9 661.5 349.6 653.1 521.8 614.0 461.4 615.2 457.8 711.9 361.3 667.5 348.4 610.6 441.9 715.1 426.9 649.8 469.5 611.7 458.1 621.6 463.7 719.8 355.6 669.4 463.2 618.7 539.6 615.2 482.6 718.9 391.2 676.4 353.4 645.7 476.5 673.8 496.1 610.8 412.7 708.0 458.9 656.4 457.0 602.3 500.9 641.1 429.5 626.7 431.6 640.6 362.3 678.7 365.1 698.0 350.0 697.6 502.5 662.2 483.3 631.0 488.8 653.1 390.0 720.5 423.2 646.6 512.7 646.2 475.2 621.4 509.4 632.4 354.8 721.9 378.7 718.3 537.3 675.8 347.3 607.6 385.7 648.6 464.3 720.8 414.1 617.6 454.6 617.2 361.9 669.5 480.7 608.2 433.0 688.0 494.0 647.9 518.0 621.1 484.5 696.5 516.6 661.8 364.3 606.1 448.1 621.7 467.8 610.5 497.1 627.8 347.5 622.0 434.1 669.9 420.7 621.6 439.0 718.3 449.4 717.7 350.6 724.1 518.4 668.0 447.1 667.1 522.4 608.2 470.3 667.8 403.6 690.6 485.5 612.9 481.4 656.7 440.6 679.6 355.3 675.4 417.8 709.8 390.1 702.9 487.3 678.1 515.8 604.5 461.4 676.7 477.2 650.8 358.4 623.6 463.6 622.7 357.7 644.3 436.7 666.9 350.1 696.9 410.1 697.9 460.1 722.0 537.3 704.1 365.7 643.6 390.1 697.5 382.5 627.6 366.6 615.0 417.6 692.6 436.2 665.3 417.1 679.3 391.0 632.0 446.0 624.7 430.7 718.0 349.3 612.9 501.0 607.2 394.0 706.5 463.0 627.6 356.4 634.4 403.5 700.0 535.2 698.3 520.8 716.3 515.9 715.0 533.7 611.8 406.9 630.9 462.8 661.5 412.7 704.6 422.8 626.1 398.9 657.7 464.0 671.1 430.8 623.3 423.4 640.6 378.3 668.0 381.8 689.0 473.5 617.2 466.9 642.2 432.2 675.8 493.5 710.4 488.0 626.4 450.7 641.9 348.7 669.1 436.8 708.4 408.1 704.2 445.3 612.4 484.8 635.6 449.0 608.9 353.2 618.6 376.8 612.0 471.6 649.4 518.2 663.3 371.3 686.3 415.0 633.7 407.5 648.1 380.6 676.6 514.3 671.3 348.9 659.8 513.8 684.6 522.1 694.3 398.2 618.0 433.0 685.0 390.3 641.4 490.9 643.5 462.2 668.2 526.1 603.3 381.3 697.3 475.5 612.1 371.2 626.3 450.9 712.8 387.2 625.4 478.7 652.9 527.6 689.5 441.8 607.6 502.6 649.8 435.4 679.0 533.0 669.5 361.6 644.3 518.3 695.9 534.0 623.3 448.6 716.6 450.3 683.8 535.1 621.7 356.0 706.7 458.3 625.0 507.3 635.4 370.3 637.2 352.0 650.7 497.0 656.8 533.1 605.2 378.7 618.0 457.0 625.0 475.1 665.4 458.3 705.6 499.0 715.3 374.7 647.4 532.3 649.6 400.7 660.2 380.3 706.0 469.0 611.8 533.0 665.1 394.5 676.6 530.2 643.4 347.7 624.7 356.4 666.1 405.7 706.4 435.6 615.4 405.5 628.2 379.7 679.5 527.6 646.3 469.5 640.4 523.4 669.1 350.7 692.7 385.9 605.9 483.4 644.8 453.7 688.2 359.7 688.2 483.2 717.8 356.5 671.6 444.1 705.8 416.0 682.8 519.9 643.6 445.5 711.7 351.7 721.8 406.0 657.2 401.1 699.7 448.9 693.5 365.2 710.1 505.1 685.0 388.4 632.5 433.2 608.1 530.9 651.0 530.9 622.9 471.4 699.8 470.7 652.9 348.7 654.4 421.1 718.1 534.8 719.6 536.1 621.1 350.8 636.5 346.5 614.9 457.6 625.1 464.1 647.6 398.4 721.2 381.3 710.3 447.7 682.9 373.1 693.1 518.5 624.8 437.2 681.7 437.6 694.0 470.6 639.3 477.8 696.6 435.4 673.8 468.8 659.6 362.3 651.0 496.7 690.5 359.5 659.8 459.6 666.6 374.2 680.8 481.0 667.0 528.2 672.2 347.4 635.6 481.9 610.0 533.2 687.4 494.2 621.2 444.6 655.3 446.1 696.0 417.6 696.6 376.6 722.5 480.7 639.8 438.0 710.2 408.5 687.4 522.3 720.1 394.9 699.3 463.7 701.1 358.6 651.6 433.1 701.8 433.2 605.3 385.8 703.9 517.2 671.7 360.6 696.6 513.9 635.9 439.0 636.3 355.4 691.7 376.0 610.9 522.3 612.0 493.1 701.9 393.9 646.5 388.5 688.5 534.9 693.0 441.1 667.2 424.6 689.3 397.5 630.7 442.0 627.9 478.5 670.4 429.8 617.1 417.5 659.0 456.1 639.9 423.3 678.3 371.8 635.2 456.1 637.2 471.3 612.6 365.6 637.7 413.0 638.1 382.6 645.3 466.8 689.4 433.3 628.1 427.8 619.2 362.9 676.5 388.4 619.5 457.5 616.0 384.6 618.7 466.5 666.3 377.6 611.5 468.4 616.6 444.3 667.1 428.5 648.1 407.0 630.3 435.8 618.6 414.6 628.4 401.0 685.2 425.9 663.1 452.9 683.7 448.3 652.0 460.7 690.0 389.6 619.8 384.4 612.4 356.1 641.0 355.8 648.3 461.3 669.2 361.5 670.5 378.8 677.5 435.5 654.0 381.2 685.9 380.6 613.5 458.8 621.6 426.6 629.7 399.8 675.7 423.7 629.0 448.1 617.9 360.1 667.5 461.5 673.9 442.2 688.8 470.8 656.0 377.2 657.1 408.4 668.8 398.6 611.5 379.2 617.8 446.6 667.0 421.6 633.6 446.1 645.3 416.8 622.7 479.6 644.8 413.9 623.7 411.0 647.4 408.1 672.0 396.9 661.1 438.8 617.2 457.9 611.3 387.2 679.8 369.9 629.8 406.6 690.1 476.1 624.6 435.1 679.7 419.3 633.3 374.0 611.3 445.5 658.2 363.4 689.3 478.2 642.3 400.3 683.8 438.2 672.1 377.8 670.6 410.3 610.0 361.0 628.8 384.3 629.2 468.9 640.8 381.0 614.4 362.0 641.5 407.6 612.1 419.6 636.0 357.4 647.7 374.7 621.2 449.0 643.6 399.6 654.9 446.7 661.4 473.7 669.4 397.6 690.8 357.0 621.9 370.2 639.3 399.2 640.0 434.1 636.3 415.4 665.9 401.1 639.7 478.9 680.6 464.7 615.3 391.2 643.2 393.6 646.7 473.0 639.9 418.2 634.1 428.6 654.1 449.0 679.8 397.3 623.0 367.7 661.1 427.3 689.2 439.7 656.6 429.3 686.8 470.1 620.1 370.3 616.5 356.6 681.6 475.4 650.1 450.0 664.6 437.0 640.3 474.7 632.7 453.5 675.2 461.6 676.9 383.3 637.7 390.1 682.8 355.2 632.5 436.7 662.3 355.4 615.1 376.1 624.7 458.4 646.9 436.5 637.6 461.0 614.4 463.3 627.2 419.3 655.6 439.0 653.8 445.0 609.6 421.8 650.1 432.5 614.6 443.4 612.3 477.4 619.6 440.5 610.0 430.7 624.6 429.9 671.5 439.6 653.7 361.8 626.3 411.5 673.7 358.3 623.5 420.6 634.2 365.3 630.5 460.0 633.4 444.5 627.1 447.4 684.5 357.2 659.2 468.5 674.2 370.2 670.7 449.4 619.4 437.2 661.1 379.9 678.8 462.1 611.7 413.9 658.0 356.0 651.6 472.2 634.9 416.9 689.4 396.4 637.4 378.1 677.6 428.6 646.3 416.9 651.2 427.8 618.6 444.9 628.6 357.6 691.2 367.3 677.1 450.9 643.6 431.2 626.7 382.0 684.5 448.7 674.1 394.7 661.3 373.4 691.5 443.7 610.7 442.6 665.8 409.5 657.7 471.5 666.4 414.2 692.1 434.8 674.8 424.5 673.1 451.7 649.9 413.1 622.8 436.6 670.4 406.3 611.0 443.2 663.3 435.9 618.7 465.7 670.5 455.0 618.3 388.9 653.0 355.7 692.6 376.8 618.6 454.4 626.2 426.8 663.6 442.9 683.8 456.0 614.3 396.8 645.7 359.1 684.6 469.4 680.4 392.2 663.7 364.2 693.8 366.4 686.7 402.5 627.0 402.0 684.4 436.0 616.2 457.7 636.2 458.2 650.2 462.7 654.4 477.6 654.2 420.3 659.3 439.4 629.4 471.3 642.9 479.6 656.6 469.6 687.9 427.5 656.7 397.1 636.8 389.2 613.4 412.4 652.0 409.7 681.1 409.5 672.8 449.3 650.6 413.1 626.1 440.8 683.0 476.4 677.1 476.1 657.5 439.0 611.4 461.8 658.6 462.0 641.5 434.0 658.7 431.8 684.4 404.3 665.6 472.5 613.0 462.0 667.2 416.8 619.9 379.3 650.4 433.4 688.9 433.8 674.1 396.2 615.6 430.7 632.4 431.3 635.3 360.6 625.5 471.6 645.5 437.9 653.6 412.7 666.5 468.2 661.8 453.6 636.4 421.8 610.6 388.6 646.6 401.6 623.7 407.5 687.7 425.3 664.6 479.9 662.6 473.9 667.6 456.1 659.7 479.9 654.4 397.1 663.9 366.7 643.2 472.8 618.1 406.1 632.3 432.2 681.9 395.1 656.2 358.9 626.5 407.4 662.6 464.8 684.9 418.6 628.5 457.8 681.2 454.1 665.1 433.8 640.4 426.4 638.1 443.0 684.1 392.8 671.2 367.7 613.0 378.6 631.1 409.2 640.0 468.2 609.9 463.3 626.6 392.7 647.1 410.6 656.3 359.1 658.5 360.3 619.6 390.2 651.1 446.1 608.0 358.8 642.1 383.7 669.5 456.7 686.4 385.0 656.0 371.3 654.0 442.5 661.9 477.7 638.8 408.0 686.1 454.8 621.7 404.4 674.7 362.4 678.4 466.8 663.3 369.8 654.7 374.3 685.0 411.4 626.4 462.8 621.1 369.9 638.6 410.0 653.6 475.2 640.8 464.4 616.8 415.2 685.1 459.4 662.8 400.0 664.8 367.4 613.9 406.8 676.1 449.4 639.8 387.0 656.8 410.5 627.4 366.0 674.9 474.4 677.2 438.8 645.2 389.5 648.1 405.2 679.7 475.2 641.3 389.5 670.7 477.5 676.5 458.7 647.5 441.7 624.3 479.5 626.2 450.7 675.8 464.8 638.2 464.6 657.1 372.7 635.6 403.3 647.8 393.1 628.9 420.3 672.9 413.8 645.1 402.9 689.4 450.1 667.2 362.3 673.6 409.2 667.5 413.7 612.3 423.3 670.4 376.2 660.3 361.0 640.1 386.0 621.0 396.1 675.6 419.2 656.6 467.9 626.4 466.7 666.0 445.1 687.8 374.9 641.1 422.3 652.7 478.3 626.3 388.8 674.9 454.2 633.9 361.6 649.8 425.2 682.2 426.7 653.9 452.6 664.7 443.4 644.6 422.8 653.7 452.7 619.7 464.3 617.7 457.6 681.1 359.4 654.6 457.7 633.4 374.2 689.7 397.7 690.0 424.5 611.9 384.0 659.9 356.4 625.6 401.0 614.5 472.9 651.7 400.4 637.8 368.8 659.2 438.4 672.2 462.8 682.8 401.6 625.7 366.5 667.5 435.4 615.0 445.0 684.8 358.7 661.5 452.4 671.5 389.2 638.8 365.6 624.9 427.5 685.5 397.7 664.8 472.1 669.2 381.9 634.9 471.7 606.4 416.6 637.8 377.1 655.5 394.2 629.7 458.3 668.2 455.7 647.5 417.9 687.8 420.4 685.9 454.1 611.3 463.5 632.8 422.3 650.8 433.6 610.9 420.4 665.0 390.6 676.0 419.3 645.9 378.5 619.7 399.4 648.2 471.6 667.1 375.2 626.4 469.8 607.8 471.5 677.4 462.7 621.9 460.7 648.8 409.7 629.2 397.4 666.9 389.8 692.1 452.7 684.6 439.2 670.8 386.5 617.2 367.0 661.9 468.1 637.8 422.7 628.9 436.7 685.9 444.5 648.3 468.6 644.9 473.7 678.5 445.5 665.2 404.8 639.7 397.2 666.1 464.1 624.1 416.2 631.3 392.4 623.3 462.9 645.8 454.9 620.3 448.6 655.9 472.6 642.7 393.3 611.3 454.0 674.5 357.1 651.0 441.8 636.9 369.3 638.4 428.7 648.3 413.3 640.5 467.8 678.2 466.3 645.9 446.5 664.7 465.9 639.3 442.5 648.9 407.3 629.4 365.2 633.7 425.5 690.4 376.9 684.8 453.5 671.9 414.7 648.3 428.4 674.0 466.1 605.9 520.3 600.2 415.9 602.4 435.9 573.7 388.2 568.4 415.8 569.4 467.8 598.0 455.4 574.3 401.2 583.0 389.9 580.7 388.6 595.5 388.6 576.3 397.5 605.2 423.4 592.8 404.4 595.6 467.4 579.5 383.8 586.4 401.7 604.6 376.3 581.0 428.4 594.8 488.0 608.9 321.6 605.1 318.8 692.6 331.8 685.1 344.2 615.2 332.8 659.8 329.0 659.9 331.5 693.3 330.4 698.4 325.5 708.8 332.3 683.1 330.1 683.6 328.6 683.9 339.7 601.4 329.0 638.7 427.6 662.2 419.6 656.2 415.3 655.9 433.6 673.2 413.2 638.4 393.4 667.5 414.7 656.7 395.2 668.2 450.1 661.2 381.0 659.3 452.4 678.4 405.9 649.9 466.4 665.0 370.9 623.8 438.9 658.3 399.1 648.7 425.3 645.7 412.3 658.3 427.4 657.9 374.9 664.3 424.1 671.2 413.9 655.1 346.6 659.7 415.1 682.4 394.1 659.1 348.9 661.4 442.2 673.5 411.7 666.0 398.7 686.8 393.5 663.6 426.6 659.0 371.6 645.1 441.7 659.7 405.6 681.2 411.8 661.1 451.8 681.9 372.7 649.7 426.9 648.7 398.6 667.7 400.8 661.4 407.2 667.8 398.1 676.5 411.7 661.2 374.5 640.6 462.5 651.6 430.8 653.5 428.6 647.8 411.3 673.3 455.6 650.6 411.9 648.6 416.0 650.6 376.8 667.9 453.0 658.4 395.1 655.1 445.9 673.4 413.9 656.9 408.1 670.1 455.6 645.0 414.8 671.6 412.6 665.7 420.6 671.0 434.2 679.1 461.3 668.8 418.9 649.5 398.7 675.3 432.3 658.1 422.2 648.6 425.4 637.6 409.7 666.5 398.9 677.4 408.4 653.1 419.4 673.8 452.4 661.5 427.3 655.7 457.3 669.3 407.4 633.0 356.0 664.4 432.2 650.4 415.0 663.4 385.0 656.9 390.3 653.5 466.2 645.4 418.2 663.6 466.6 683.0 419.9 696.6 418.2 658.9 403.5 661.0 408.9 671.5 421.2 661.9 479.0 671.2 395.6 670.0 443.1 669.5 429.3 630.6 421.1 698.5 418.6 648.2 433.2 667.5 422.8 667.3 380.9 641.4 377.1 661.5 472.1 630.6 385.1 657.3 396.3 632.0 395.6 641.3 379.3 649.5 425.9 653.8 442.6 653.9 392.2 639.9 452.3 667.6 403.5 644.4 382.5 657.2 392.0 666.8 443.8 639.8 378.4 633.6 399.2 640.2 393.1 649.3 422.2 632.4 412.4 659.8 402.6 667.6 441.9 640.5 402.2 636.4 392.0 656.8 445.1 663.1 422.5 651.5 399.6 658.8 422.0 670.6 421.0 682.5 420.4 691.2 487.0 670.8 444.6 633.2 419.9 660.4 424.0 642.9 445.3 685.6 415.1 667.9 429.4 638.2 430.9 670.0 390.0 648.7 428.3 652.5 440.1 655.6 440.2 678.7 393.3 651.3 383.6 653.3 398.8 652.6 411.9 666.5 438.0 667.5 458.1 673.8 452.8 665.9 371.5 658.1 407.0 647.1 428.0 678.9 433.4 666.9 455.4 641.2 473.3 648.8 409.6 658.0 410.0 632.3 442.8 667.4 428.8 651.2 415.1 671.0 424.8 657.3 432.6 669.7 391.1 663.9 426.8 658.7 410.3 676.1 438.4 664.6 488.6 653.4 361.5 645.1 417.7 685.4 421.8 626.1 429.2 677.4 460.5 652.8 398.2 651.1 458.2 641.2 443.7 683.0 402.0 683.7 420.3 679.0 435.0 658.0 405.1 658.3 422.2 660.8 415.9 668.8 422.4 653.6 415.1 661.8 455.8 665.6 422.1 640.7 419.0 659.6 404.1 664.9 415.7 638.6 398.9 667.3 447.6 662.2 474.1 667.2 459.4 670.0 392.0 649.9 425.0 674.8 402.8 667.6 414.2 650.8 440.5 676.1 467.5 680.0 410.2 657.0 446.1 650.1 440.9 671.5 429.7 650.0 405.5 651.2 445.5 666.5 400.2 669.1 459.6 639.1 380.1 657.9 430.8 648.1 420.0 654.0 422.2 671.4 412.2 657.0 451.6 656.0 429.7 647.3 447.1 645.8 419.9 645.2 388.3 675.2 432.7 669.2 395.9 668.8 438.6 664.9 418.1 685.9 437.2 634.4 453.7 633.7 444.2 652.0 431.6 670.4 401.4 665.8 446.1 662.2 429.6 659.7 408.3 665.7 409.4 685.2 381.5 653.0 438.7 671.4 405.2 658.1 400.3 670.4 437.0 622.9 407.5 628.0 398.8 658.3 435.8 661.5 446.7 640.0 420.2 656.9 410.3 656.7 432.0 677.4 376.2 648.6 367.4 659.3 449.3 643.8 442.9 670.6 441.4 663.0 425.0 647.3 454.9 646.6 401.8 654.8 394.0 684.2 420.8 643.5 402.9 672.7 416.0 662.5 372.5 685.1 442.0 651.0 407.6 639.1 453.1 684.7 417.1 658.9 402.8 656.6 360.8 616.4 424.1 681.8 433.4 643.2 374.7 664.7 392.1 656.5 410.2 655.6 454.7 634.4 403.0 673.2 431.4 675.0 428.8 667.0 378.7 685.6 415.8 651.6 385.1 653.1 373.6 686.4 444.8 655.3 387.2 629.1 463.1 644.7 380.0 693.5 412.8 649.4 394.1 655.0 386.2 640.9 455.7 671.2 432.4 658.0 424.1 641.7 400.2 648.9 409.5 650.5 435.9 662.0 431.1 661.3 426.6 663.1 381.4 647.8 429.4 680.5 411.5 657.8 431.5 676.4 415.8 627.7 445.5 665.1 422.8 644.6 413.7 667.7 423.1 680.7 431.9 665.5 433.2 681.8 466.0 672.1 365.3 637.1 393.4 653.6 376.8 650.0 424.1 664.5 407.3 667.4 492.4 657.4 388.4 655.7 430.7 666.1 416.3 674.5 422.8 647.4 413.2 662.3 425.3 642.3 416.7 651.3 398.8 669.9 414.8 655.7 405.5 644.5 412.3 671.7 431.2 658.7 427.2 638.0 410.5 661.1 396.1 692.8 432.2 658.7 387.6 622.3 396.9 552.5 396.9 555.2 398.5 562.0 398.1 564.7 392.5 572.5 393.2 575.7 393.2 581.8 393.1 587.0 393.5 593.0 402.8 569.7 406.8 572.2 408.3 577.4 412.7 582.4 414.5 585.3 418.0 589.6 404.1 557.4 408.0 560.0 409.8 566.7 398.9 602.6 401.2 599.2 407.1 594.7 411.6 596.3 415.1 598.8 375.7 605.9 382.5 606.9 387.6 607.3 392.7 607.8 399.9 607.5 405.5 606.2 411.7 605.1 419.7 606.5 424.0 606.0 427.2 606.9 431.6 605.3 435.0 606.0 439.3 605.1 441.6 606.0 446.3 604.0 448.6 603.8 454.2 604.0 456.9 603.3 461.9 602.9 465.8 602.9 468.7 603.2 471.8 602.9 475.6 603.5 480.1 602.3 482.3 603.8 486.2 603.2 490.3 603.2 493.9 603.3 497.3 603.0 501.7 604.3 503.5 602.5 508.1 603.4 511.6 604.9 515.7 603.6 439.6 575.4 442.4 580.3 443.1 586.0 474.0 578.1 476.5 583.1 479.1 585.2 479.1 587.4 482.3 589.9 483.8 593.8 487.5 596.8 488.2 600.6 491.2 604.8 494.6 607.5 494.7 611.2 497.4 617.0 458.0 692.4 460.3 690.9 463.4 689.2 467.9 687.4 471.1 687.8 474.1 686.8 476.4 686.2 481.3 685.2 484.9 683.4 490.0 682.6 492.4 680.9 495.2 682.2 499.8 680.6 502.6 678.9 508.1 677.1 510.3 676.7 512.4 676.9 515.9 676.2 520.4 673.6 421.7 704.1 423.5 705.0 427.2 704.1 431.6 704.0 435.1 704.0 440.2 704.0 441.4 702.2 445.9 705.6 449.5 704.8 453.4 703.6 456.9 704.3 458.7 704.6 463.3 704.6 466.4 703.7 471.9 704.7 473.0 704.4 476.3 704.8 481.5 704.2 484.9 704.0 481.2 716.2 482.3 718.7 487.3 719.8 491.4 719.2 493.1 722.0 496.6 723.2 499.2 725.5 502.7 725.3 506.1 727.8 510.5 727.0 514.3 730.6 517.3 731.1 520.3 733.0 524.9 733.5 526.2 735.5 531.8 737.2 534.9 737.8 538.3 738.7 430.5 568.2 433.7 569.1 392.4 544.4 392.7 549.3 393.0 551.4 393.1 556.5 394.9 560.0 394.7 563.4 395.0 568.4 395.4 571.1 397.0 575.9 393.8 578.2 396.9 582.7 396.2 586.4 397.8 590.0 397.8 593.2 397.1 596.9 401.1 552.9 403.7 557.3 405.3 560.5 410.8 561.7 412.2 564.3 415.5 567.5 416.7 569.8 420.0 571.2 423.0 575.7 423.9 576.2 428.4 581.3 431.3 581.7 434.1 584.7 436.0 587.9 440.3 589.0 442.1 592.9 444.2 594.1 402.7 568.6 403.9 572.0 405.1 577.3 406.5 581.7 408.0 583.8 410.1 588.8 409.4 592.2 411.2 595.7 412.0 599.4 339.4 591.5 343.6 594.5 346.0 594.8 352.7 596.3 355.9 598.4 360.0 597.2 363.6 599.4 368.0 600.3 371.3 600.4 373.6 601.3 377.3 601.1 382.2 602.4 385.1 604.0 470.1 576.7 472.2 580.3 474.7 582.9 476.0 587.8 479.3 590.3 481.9 593.3 484.9 596.9 485.9 599.0 488.3 601.7 490.1 605.9 385.7 663.1 385.4 668.6 385.0 672.4 385.7 675.4 385.5 680.0 385.9 684.6 385.9 686.2 386.1 690.6 386.6 694.3 387.8 699.4 387.5 703.2" fill="none" clip-path="url(#kd)" style="marker:url(#t40)"/>
<path d="M345.8 624.0 347.2 624.8 348.8 624.8 348.9 624.3 348.5 623.1 350.1 622.9 351.2 623.3 352.9 623.0 355.3 628.1 354.8 630.4 357.2 630.8 358.2 629.9 358.9 629.9 359.9 629.4 360.1 631.2 360.1 629.7 361.7 630.4 361.6 630.4 363.0 630.9 363.8 631.6 364.3 632.1 364.7 630.9 365.6 632.1 367.2 631.4 366.9 630.9 368.5 632.2 368.7 632.0 370.6 632.0 371.3 630.7 372.0 630.8 372.2 632.7 373.9 630.4 375.1 632.2 375.7 630.9 374.6 632.8 377.1 632.8 376.6 633.5 377.4 631.7 378.9 632.2 380.0 633.2 380.1 632.6 380.9 633.0 381.0 632.9 383.4 633.8 383.3 633.6 385.0 633.2 386.2 631.9 386.9 634.3 387.0 633.9 387.2 634.7 388.4 634.1 361.1 621.1 363.7 621.7 362.4 621.6 364.4 620.9 365.1 622.2 366.6 620.2 366.9 622.3 368.5 623.2 369.0 621.7 369.8 623.3 371.1 623.3 370.3 622.5 370.9 622.9 372.9 623.4 372.9 622.7 375.2 623.1 388.5 619.5 389.8 617.8 390.8 619.0 391.2 618.3 391.0 618.8 392.5 619.4 393.7 617.0 395.5 618.8 394.3 616.9 395.1 618.7 395.3 618.3 398.3 618.3 397.4 617.1 398.2 618.0 400.6 615.9 394.7 629.4 396.9 629.0 398.1 628.3 398.8 628.9 399.2 628.9 401.1 628.8 402.0 629.2 403.2 627.8 402.1 628.7 403.3 630.1 404.8 629.1 406.0 628.4 406.6 629.4 405.5 627.9 407.8 629.9 408.3 628.1 410.4 627.7 410.2 628.3 411.9 628.4 411.8 628.7 412.3 627.5 412.7 628.0 415.6 627.8 414.4 629.3 414.8 637.3 416.8 637.0 416.4 637.2 417.7 636.5 417.9 637.4 419.4 636.3 420.4 637.4 420.6 637.2 422.6 637.3 422.7 637.7 423.0 637.2 424.2 636.6 424.2 639.3 425.8 637.9 426.9 638.1 427.2 638.3 428.2 638.3 428.8 637.9 429.7 638.6 430.7 638.3 431.2 638.5 431.9 638.8 432.6 638.6 434.0 639.3 434.8 638.2 435.3 639.5 436.4 639.7 436.2 638.6 437.1 639.1 438.8 638.5 440.5 638.4 439.8 639.3 439.5 639.6 441.4 640.7 428.8 646.9 428.1 647.5 429.2 647.6 430.0 646.8 431.2 646.5 431.2 646.3 432.2 648.1 434.1 646.7 434.0 646.5 436.3 645.9 435.0 647.4 436.7 646.4 437.8 647.7 438.7 648.4 439.5 647.6 440.5 647.7 440.4 645.6 441.3 646.5 442.2 645.4 443.6 646.2 443.8 647.9 444.9 647.3 445.4 647.0 445.4 647.0 446.6 645.7 448.0 648.4 449.0 646.7 448.2 647.3 450.3 647.1 450.1 647.0 452.9 648.0 452.7 648.1 446.4 644.9 447.4 645.1 448.2 645.1 446.5 645.1 449.1 644.9 450.9 645.8 451.1 646.9 370.7 661.1 370.9 662.2 371.7 661.5 373.4 660.9 375.1 661.8 374.7 660.6 376.4 662.7 377.7 660.9 377.7 661.6 378.8 660.0 378.3 663.2 380.6 661.2 379.5 661.7 382.7 663.2 382.3 662.2 382.5 662.2 384.1 661.1 385.4 662.7 385.0 661.4 386.5 663.1 387.7 662.7 389.3 661.5 388.6 662.8 389.9 662.7 389.7 662.0 391.2 662.5 391.3 662.2 393.0 663.1 393.6 662.8 394.4 663.6 394.8 664.2 394.6 663.4 397.4 664.3 397.8 663.1 398.6 663.3 399.8 662.1 399.6 663.0 401.9 663.6 401.7 663.3 401.5 662.4 403.2 663.8 415.0 662.7 415.5 662.6 415.9 663.6 415.9 663.7 418.2 663.4 419.7 664.1 419.8 664.3 419.6 663.5 421.3 664.0 421.3 663.0 422.5 664.3 423.5 663.6 424.2 663.9 425.9 663.2 427.3 665.3 427.0 664.6 427.2 665.4 429.7 665.5 428.6 665.1 429.5 665.1 430.4 664.5 431.8 665.5 432.7 665.5 433.6 664.4 434.6 664.0 433.3 666.3 436.2 666.0 436.4 665.6 439.6 666.1 437.4 667.7 438.6 663.7 439.1 666.3 441.1 665.9 442.0 666.6 412.5 675.7 411.9 676.8 412.9 675.7 413.8 676.7 415.5 676.5 415.8 675.8 418.5 676.9 418.4 676.7 418.4 676.0 420.4 675.8 419.7 675.5 420.7 676.4 420.6 675.6 422.0 675.5 422.6 676.3 423.9 677.0 425.0 675.5 426.4 676.2 427.2 677.1 427.3 676.4 428.7 677.2 429.2 677.8 430.5 676.0 429.2 675.7 432.3 677.5 432.7 676.5 432.9 677.6 433.5 675.9 434.2 676.9 436.4 677.2 436.0 676.5 437.6 676.3 437.2 676.4 437.4 677.2 439.1 678.3 439.6 676.9 441.2 676.7 441.8 676.8 441.6 677.8 443.9 676.3 444.7 676.5 445.1 677.8 446.1 677.3 446.5 676.3 448.2 676.7 448.5 677.4 450.4 677.2 449.4 677.3 450.4 677.5 452.4 677.8 451.9 678.5 454.2 677.7 457.2 670.3 456.4 669.9 458.5 670.3 459.3 670.3 459.8 671.2 460.5 670.4 461.0 671.0 460.5 671.6 461.6 671.1 463.9 671.7 465.4 669.7 465.0 670.2 465.2 671.3 466.8 671.3 467.0 671.4 467.8 671.8 469.4 670.7 470.4 671.6 471.3 670.5 407.0 687.9 408.3 687.0 408.8 689.0 409.9 689.4 410.7 688.6 411.5 689.3 456.6 609.5 456.6 608.3 457.6 608.1 458.7 608.1 458.5 610.2 461.2 609.1 461.2 609.3 460.9 610.3 462.0 609.6 463.0 610.3 464.0 610.8 465.3 609.2 464.2 610.6 466.4 609.6 468.2 610.9 468.2 610.2 468.5 611.5 468.8 610.8 470.4 609.1 470.9 610.8 472.1 611.1 473.0 610.8 473.9 611.8 474.7 611.9 475.4 611.9 477.7 612.6 478.0 612.5 477.4 610.6 477.6 613.6 477.9 613.1 481.2 613.0 481.4 612.3 481.9 613.0 481.5 613.2 350.5 642.6 351.8 641.1 351.6 643.5 351.7 643.9 353.6 643.6 456.1 676.0 456.7 677.0 457.4 676.4 457.1 675.7 459.7 675.8 460.7 677.1 461.0 676.9 461.3 678.5 461.7 676.8 463.3 676.9 464.8 678.0 465.2 677.3 467.2 678.5 467.4 678.0 466.4 679.3 468.5 678.1 470.6 678.1 469.5 677.4 469.3 680.0 423.7 688.0 424.1 690.4 424.3 689.4 425.5 690.5 424.8 691.1 425.9 692.4 426.1 693.0 426.2 693.5 426.0 693.2 344.4 625.2 345.4 623.9 346.5 625.0 347.8 624.3 347.2 625.7 349.0 625.4 349.5 625.7 351.3 625.6 352.1 624.4 351.9 624.8 354.0 625.7 338.5 723.1 339.4 722.6 340.1 722.8 340.0 721.8 341.8 722.3 340.8 721.2 343.3 721.2 344.5 722.0 344.3 720.6 348.0 720.8 346.4 721.9 346.0 721.7 348.0 721.0 349.3 720.2 349.2 721.3 350.5 719.9 351.6 720.4 352.4 720.3 352.1 719.6 354.0 720.5 353.8 720.4 355.7 720.8 355.8 719.6 350.3 641.4 352.1 641.3 352.0 642.4 353.9 641.8 353.5 641.9 355.1 642.2 355.3 641.5 356.8 642.5 356.7 642.0 357.8 641.3 359.7 642.1 456.4 610.8 456.4 611.7 456.9 611.6 458.9 612.1 457.5 611.1 460.4 611.2 460.9 611.7 460.9 612.4 463.4 612.0 461.5 612.3 464.9 610.3 464.7 610.9 466.3 612.3 466.2 611.4 465.9 612.6 468.0 612.7 469.6 612.0 470.6 612.3 470.6 611.1 471.9 611.6 472.2 613.6 474.6 611.8 474.7 613.5 473.9 613.1 474.4 613.1 476.0 613.0 477.4 613.3 477.8 613.6 478.0 612.8 479.2 614.2 479.7 613.8 480.9 613.0 483.1 613.8 483.5 614.1 483.6 612.2 482.8 614.0 485.8 614.6 486.4 614.9 487.0 614.1 487.4 613.4 488.5 613.9 489.4 613.9 489.0 614.3 489.6 614.9 491.5 614.1 491.7 614.5 494.2 615.6 493.7 615.5 494.7 616.7 495.6 616.8 495.7 615.5 497.9 617.4 498.3 616.8 500.1 617.6 499.8 617.4 500.0 617.0 502.1 617.8 502.6 617.2 507.3 612.4 507.8 614.8 507.3 615.6 507.6 614.1 508.8 615.6 508.6 617.5 509.4 616.9 510.1 619.0 510.8 618.1 511.9 619.0 511.7 619.6 513.0 619.6 528.8 617.8 530.5 617.7 529.3 619.0 531.2 619.4 531.0 618.2 534.0 620.7 534.5 620.2 533.9 619.9 446.8 593.2 447.0 592.5 446.5 592.0 447.2 590.9 448.9 592.2 449.7 591.1 450.0 589.1 450.2 590.5 451.1 588.6 452.1 587.7 453.3 588.7 453.8 587.2 453.0 588.5 454.6 587.3 474.5 580.2 475.2 579.3 475.3 580.8 476.9 580.7 476.3 582.6 477.5 582.6 511.5 693.1 512.5 694.7 505.7 724.1 506.8 724.7 508.7 723.3 509.7 723.2 508.5 723.6 510.5 724.3 513.3 723.4 513.4 723.2 513.0 723.3 513.4 723.1 514.2 722.7 515.8 724.3 421.8 651.2 422.3 650.2 423.1 650.2 423.3 650.8 424.7 649.9 425.0 650.7 425.1 650.6 427.4 650.4 426.9 650.0 428.1 650.6 429.0 650.3 429.9 650.6 431.8 650.7 431.6 651.3 432.6 651.3 432.9 651.7 434.1 652.0 435.5 651.5 436.8 652.2 437.2 651.1 439.0 652.0 438.6 652.2 440.8 651.0 439.6 652.4 421.0 660.4 422.5 660.3 424.4 659.2 423.3 661.0 424.6 661.2 425.2 661.2 425.8 660.0 427.4 660.1 428.4 662.1 427.4 660.6 428.5 661.5 430.1 660.7 430.3 661.3 431.9 661.1 433.2 660.5 434.4 662.7 433.2 663.3 434.4 660.9 435.5 662.4 435.5 662.0 435.3 662.0 438.9 661.6 438.4 662.3 439.7 662.0 439.6 662.7 442.0 662.2 442.3 662.4 441.4 661.8 443.8 663.5 443.0 662.9 445.8 663.7 446.8 663.8 447.1 663.4 447.4 664.0 449.7 663.4 449.9 666.0 449.9 663.7" fill="none" clip-path="url(#kd)" style="marker:url(#w80)"/>
<path d="M35.9 412.5v2.6M83.7 412.5v2.6M131.5 412.5v2.6M179.3 412.5v2.6M227.1 412.5v2.6M36.1 412.5h-2.6M36.1 311.0h-2.6M36.1 209.5h-2.6M36.1 108.1h-2.6M36.1 6.6h-2.6" stroke="#888" stroke-width="0.8" fill="none"/>
<text transform="translate(35.9,426.9) scale(1,1.0)" text-anchor="middle" class="t">0</text>
<text transform="translate(83.7,426.9) scale(1,1.0)" text-anchor="middle" class="t">100</text>
<text transform="translate(131.5,426.9) scale(1,1.0)" text-anchor="middle" class="t">200</text>
<text transform="translate(179.3,426.9) scale(1,1.0)" text-anchor="middle" class="t">300</text>
<text transform="translate(227.1,426.9) scale(1,1.0)" text-anchor="middle" class="t">400</text>
<text transform="translate(30.8,416.9) scale(1,1.0)" text-anchor="end" class="t">0</text>
<text transform="translate(30.8,315.4) scale(1,1.0)" text-anchor="end" class="t">200</text>
<text transform="translate(30.8,213.9) scale(1,1.0)" text-anchor="end" class="t">400</text>
<text transform="translate(30.8,112.5) scale(1,1.0)" text-anchor="end" class="t">600</text>
<text transform="translate(30.8,11.0) scale(1,1.0)" text-anchor="end" class="t">800</text>
<path d="M305.9 417.4v1.5M354.3 417.4v1.5M402.8 417.4v1.5M451.2 417.4v1.5M499.6 417.4v1.5M306.2 417.4h-1.5M306.2 314.4h-1.5M306.2 211.4h-1.5M306.2 108.4h-1.5M306.2 5.4h-1.5" stroke="#888" stroke-width="0.8" fill="none"/>
<text transform="translate(305.9,429.1) scale(1,1.0)" text-anchor="middle" class="t">0</text>
<text transform="translate(354.3,429.1) scale(1,1.0)" text-anchor="middle" class="t">100</text>
<text transform="translate(402.8,429.1) scale(1,1.0)" text-anchor="middle" class="t">200</text>
<text transform="translate(451.2,429.1) scale(1,1.0)" text-anchor="middle" class="t">300</text>
<text transform="translate(499.6,429.1) scale(1,1.0)" text-anchor="middle" class="t">400</text>
<text transform="translate(303.0,421.0) scale(1,1.0)" text-anchor="end" class="t">0</text>
<text transform="translate(303.0,318.0) scale(1,1.0)" text-anchor="end" class="t">200</text>
<text transform="translate(303.0,215.0) scale(1,1.0)" text-anchor="end" class="t">400</text>
<text transform="translate(303.0,112.0) scale(1,1.0)" text-anchor="end" class="t">600</text>
<text transform="translate(303.0,9.0) scale(1,1.0)" text-anchor="end" class="t">800</text>
<path d="M21.3 919.7v1.5M70.8 919.7v1.5M120.4 919.7v1.5M170.0 919.7v1.5M219.5 919.7v1.5M21.2 919.7h-1.5M21.2 814.3h-1.5M21.2 708.9h-1.5M21.2 603.5h-1.5M21.2 498.1h-1.5" stroke="#888" stroke-width="0.8" fill="none"/>
<text transform="translate(21.3,930.9) scale(1,0.9)" text-anchor="middle" class="t">0</text>
<text transform="translate(70.8,930.9) scale(1,0.9)" text-anchor="middle" class="t">100</text>
<text transform="translate(120.4,930.9) scale(1,0.9)" text-anchor="middle" class="t">200</text>
<text transform="translate(170.0,930.9) scale(1,0.9)" text-anchor="middle" class="t">300</text>
<text transform="translate(219.5,930.9) scale(1,0.9)" text-anchor="middle" class="t">400</text>
<text transform="translate(18.1,922.9) scale(1,0.9)" text-anchor="end" class="t">0</text>
<text transform="translate(18.1,817.5) scale(1,0.9)" text-anchor="end" class="t">200</text>
<text transform="translate(18.1,712.1) scale(1,0.9)" text-anchor="end" class="t">400</text>
<text transform="translate(18.1,606.7) scale(1,0.9)" text-anchor="end" class="t">600</text>
<text transform="translate(18.1,501.3) scale(1,0.9)" text-anchor="end" class="t">800</text>
<path d="M301.3 920.5v1.5M351.9 920.5v1.5M402.4 920.5v1.5M452.9 920.5v1.5M503.5 920.5v1.5M301.1 920.5h-1.5M301.1 814.4h-1.5M301.1 708.3h-1.5M301.1 602.1h-1.5M301.1 496.0h-1.5" stroke="#888" stroke-width="0.8" fill="none"/>
<text transform="translate(301.3,931.7) scale(1,0.92)" text-anchor="middle" class="t">0</text>
<text transform="translate(351.9,931.7) scale(1,0.92)" text-anchor="middle" class="t">100</text>
<text transform="translate(402.4,931.7) scale(1,0.92)" text-anchor="middle" class="t">200</text>
<text transform="translate(452.9,931.7) scale(1,0.92)" text-anchor="middle" class="t">300</text>
<text transform="translate(503.5,931.7) scale(1,0.92)" text-anchor="middle" class="t">400</text>
<text transform="translate(297.6,923.8) scale(1,0.92)" text-anchor="end" class="t">0</text>
<text transform="translate(297.6,817.7) scale(1,0.92)" text-anchor="end" class="t">200</text>
<text transform="translate(297.6,711.6) scale(1,0.92)" text-anchor="end" class="t">400</text>
<text transform="translate(297.6,605.5) scale(1,0.92)" text-anchor="end" class="t">600</text>
<text transform="translate(297.6,499.3) scale(1,0.92)" text-anchor="end" class="t">800</text>
<rect x="320.2" y="314.3" width="93" height="40.5" fill="#fff"/>
<rect x="320.2" y="357.8" width="93" height="40.5" fill="#fff"/>
<rect x="322.2" y="317.3" width="17" height="34.5" fill="#f2f2f2"/>
<rect x="322.2" y="360.8" width="17" height="34.5" fill="#f2f2f2"/>
<circle cx="330.7" cy="326.0" r="3.2" fill="#e2311d"/>
<circle cx="330.7" cy="343.1" r="3.2" fill="#3c6f7e"/>
<circle cx="330.7" cy="370.5" r="4.6" fill="none" stroke="#a0a0a0" stroke-width="0.6"/>
<path d="M330.7 382.4l5.5 9.3h-11z" fill="none" stroke="#a0a0a0" stroke-width="0.6"/>
<text x="344.2" y="328.1" class="l">1st Finger</text>
<text x="344.2" y="345.2" class="l">2nd Finger</text>
<text x="344.2" y="372.6" class="l">1st Finger</text>
<text x="344.2" y="389.5" class="l">2nd Finger</text>
<rect x="31.0" y="825.8" width="91.2" height="40.2" fill="#fff"/>
<rect x="31.0" y="868.9" width="91.2" height="40.2" fill="#fff"/>
<rect x="33.0" y="828.8" width="17" height="34.2" fill="#f2f2f2"/>
<rect x="33.0" y="871.9" width="17" height="34.2" fill="#f2f2f2"/>
<circle cx="41.5" cy="837.5" r="3.2" fill="#e2311d"/>
<circle cx="41.5" cy="854.3" r="3.2" fill="#3c6f7e"/>
<circle cx="41.5" cy="881.6" r="4.6" fill="none" stroke="#a0a0a0" stroke-width="0.6"/>
<path d="M41.5 893.2l5.5 9.3h-11z" fill="none" stroke="#a0a0a0" stroke-width="0.6"/>
<text x="55.0" y="839.6" class="l">1st Finger</text>
<text x="55.0" y="856.4" class="l">2nd Finger</text>
<text x="55.0" y="883.7" class="l">1st Finger</text>
<text x="55.0" y="900.3" class="l">2nd Finger</text>
<rect x="314.3" y="827.1" width="93" height="40" fill="#fff"/>
<rect x="314.3" y="871.1" width="93" height="40" fill="#fff"/>
<rect x="316.3" y="830.1" width="17" height="34" fill="#f2f2f2"/>
<rect x="316.3" y="874.1" width="17" height="34" fill="#f2f2f2"/>
<circle cx="324.8" cy="838.7" r="3.2" fill="#e2311d"/>
<circle cx="324.8" cy="855.5" r="3.2" fill="#3c6f7e"/>
<circle cx="324.8" cy="883.7" r="4.6" fill="none" stroke="#a0a0a0" stroke-width="0.6"/>
<path d="M324.8 895.3l5.5 9.3h-11z" fill="none" stroke="#a0a0a0" stroke-width="0.6"/>
<text x="338.3" y="840.8" class="l">1st Finger</text>
<text x="338.3" y="857.6" class="l">2nd Finger</text>
<text x="338.3" y="885.8" class="l">1st Finger</text>
<text x="338.3" y="902.4" class="l">2nd Finger</text>
<g class="cap">
<text x="51.4" y="446.5" textLength="8.4" lengthAdjust="spacingAndGlyphs" class="b">a</text>
<text x="65.9" y="446.5" textLength="166.5" lengthAdjust="spacingAndGlyphs">Touch points from a pilot</text>
<text x="41.1" y="462.8" textLength="148.3" lengthAdjust="spacingAndGlyphs">study (Plane-Casting).</text>
<text x="340.5" y="447.4" textLength="8.4" lengthAdjust="spacingAndGlyphs" class="b">b</text>
<text x="357.5" y="447.4" textLength="36.7" lengthAdjust="spacingAndGlyphs">Touch</text>
<text x="412.1" y="447.4" textLength="39.5" lengthAdjust="spacingAndGlyphs">points</text>
<text x="468.6" y="447.4" textLength="41.9" lengthAdjust="spacingAndGlyphs">during</text>
<text x="319.6" y="463.0" textLength="103.4" lengthAdjust="spacingAndGlyphs">Z+XY rotation.</text>
<text x="44.6" y="950.9" textLength="7.9" lengthAdjust="spacingAndGlyphs" class="b">c</text>
<text x="59.2" y="950.9" textLength="168.2" lengthAdjust="spacingAndGlyphs">Constrained X axis mode.</text>
<text x="327.9" y="950.9" textLength="9.0" lengthAdjust="spacingAndGlyphs" class="b">d</text>
<text x="342.8" y="950.9" textLength="167.6" lengthAdjust="spacingAndGlyphs">Constrained Y axis mode.</text>
</g>
</svg></body></html>
